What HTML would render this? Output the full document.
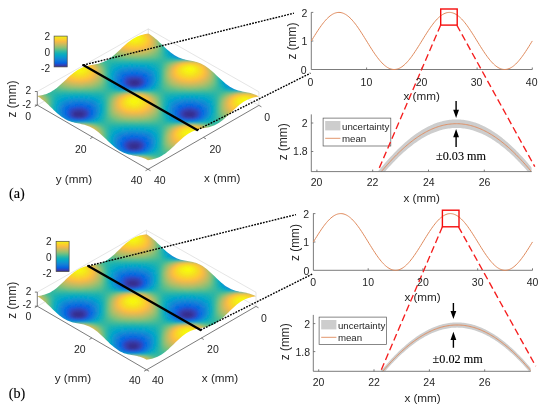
<!DOCTYPE html>
<html><head><meta charset="utf-8"><title>Figure</title>
<style>html,body{margin:0;padding:0;background:#fff;width:550px;height:411px;overflow:hidden}svg{display:block}</style>
</head><body>
<svg width="550" height="411" viewBox="0 0 550 411">
<defs><linearGradient id="cbg" x1="0" y1="0" x2="0" y2="1"><stop offset="0.000" stop-color="#f9fb0e"/><stop offset="0.062" stop-color="#f5de21"/><stop offset="0.125" stop-color="#fec932"/><stop offset="0.188" stop-color="#f2b949"/><stop offset="0.250" stop-color="#d3bb58"/><stop offset="0.312" stop-color="#b1bd66"/><stop offset="0.375" stop-color="#8bbf75"/><stop offset="0.438" stop-color="#5ebe89"/><stop offset="0.500" stop-color="#33b8a1"/><stop offset="0.562" stop-color="#13b0b6"/><stop offset="0.625" stop-color="#06a6c7"/><stop offset="0.688" stop-color="#0a97d1"/><stop offset="0.750" stop-color="#1484d4"/><stop offset="0.812" stop-color="#0c74dd"/><stop offset="0.875" stop-color="#0462e0"/><stop offset="0.938" stop-color="#3243b9"/><stop offset="1.000" stop-color="#352a87"/></linearGradient><filter id="sblur" x="-5%" y="-5%" width="110%" height="110%"><feGaussianBlur stdDeviation="0.9"/></filter></defs>
<rect width="550" height="411" fill="#fff"/>
<g>
<path d="M37.3 105.1L148.3 42.5L258.9 105.4" fill="none" stroke="#dadada" stroke-width="0.7"/>
<path d="M37.3 91.5L148.3 28.9L258.9 91.8" fill="none" stroke="#dadada" stroke-width="0.7"/>
<path d="M148.3 42.5L148.3 28.9" stroke="#dadada" stroke-width="0.7"/>
<path d="M258.9 105.4L258.9 91.8" stroke="#dadada" stroke-width="0.7"/>
<clipPath id="ca"><path d="M148.30 33.50 146.91 33.75 145.53 34.01 144.14 34.30 142.75 34.63 141.36 35.01 139.98 35.44 138.59 35.95 137.20 36.53 135.81 37.18 134.43 37.93 133.04 38.75 131.65 39.66 130.26 40.64 128.88 41.70 127.49 42.83 126.10 44.02 124.71 45.26 123.33 46.53 121.94 47.84 120.55 49.15 119.16 50.46 117.78 51.77 116.39 53.04 115.00 54.28 113.61 55.47 112.23 56.60 110.84 57.66 109.45 58.64 108.06 59.55 106.67 60.38 105.29 61.12 103.90 61.77 102.51 62.35 101.12 62.86 99.74 63.29 98.35 63.67 96.96 64.00 95.58 64.29 94.19 64.55 92.80 64.80 91.41 65.05 90.02 65.31 88.64 65.60 87.25 65.93 85.86 66.31 84.48 66.74 83.09 67.25 81.70 67.83 80.31 68.48 78.93 69.23 77.54 70.05 76.15 70.96 74.76 71.94 73.38 73.00 71.99 74.13 70.60 75.32 69.21 76.56 67.83 77.83 66.44 79.14 65.05 80.45 63.66 81.76 62.27 83.07 60.89 84.34 59.50 85.58 58.11 86.77 56.73 87.90 55.34 88.96 53.95 89.94 52.56 90.85 51.17 91.68 49.79 92.42 48.40 93.07 47.01 93.65 45.62 94.16 44.24 94.59 42.85 94.97 41.46 95.30 40.08 95.59 38.69 95.85 37.30 96.10 38.68 96.94 40.07 97.87 41.45 98.88 42.83 99.96 44.22 101.11 45.60 102.32 46.99 103.57 48.37 104.87 49.75 106.19 51.14 107.53 52.52 108.86 53.91 110.18 55.29 111.48 56.67 112.73 58.06 113.94 59.44 115.09 60.82 116.17 62.21 117.18 63.59 118.11 64.97 118.95 66.36 119.71 67.74 120.39 69.13 120.99 70.51 121.51 71.89 121.97 73.28 122.36 74.66 122.71 76.04 123.02 77.43 123.30 78.81 123.58 80.20 123.85 81.58 124.13 82.96 124.44 84.35 124.79 85.73 125.18 87.12 125.64 88.50 126.16 89.88 126.76 91.27 127.44 92.65 128.20 94.03 129.04 95.42 129.97 96.80 130.98 98.19 132.06 99.57 133.21 100.95 134.42 102.34 135.67 103.72 136.97 105.10 138.29 106.49 139.62 107.87 140.96 109.25 142.28 110.64 143.58 112.02 144.83 113.41 146.04 114.79 147.19 116.17 148.27 117.56 149.28 118.94 150.21 120.33 151.05 121.71 151.81 123.09 152.49 124.48 153.09 125.86 153.61 127.24 154.07 128.63 154.46 130.01 154.81 131.40 155.12 132.78 155.40 134.16 155.68 135.55 155.95 136.93 156.23 138.31 156.54 139.70 156.89 141.08 157.28 142.47 157.74 143.85 158.26 145.23 158.86 146.62 159.54 148.00 160.30 149.39 160.03 150.77 159.75 152.16 159.45 153.55 159.10 154.93 158.71 156.32 158.26 157.70 157.74 159.09 157.14 160.48 156.47 161.86 155.71 163.25 154.87 164.63 153.95 166.02 152.95 167.41 151.87 168.79 150.72 170.18 149.52 171.57 148.26 172.95 146.97 174.34 145.66 175.72 144.33 177.11 142.99 178.50 141.68 179.88 140.39 181.27 139.13 182.66 137.93 184.04 136.78 185.43 135.70 186.81 134.70 188.20 133.78 189.59 132.94 190.97 132.18 192.36 131.51 193.75 130.91 195.13 130.39 196.52 129.94 197.90 129.55 199.29 129.20 200.68 128.90 202.06 128.62 203.45 128.35 204.84 128.08 206.22 127.80 207.61 127.50 209.00 127.15 210.38 126.76 211.77 126.31 213.15 125.79 214.54 125.19 215.93 124.52 217.31 123.76 218.70 122.92 220.08 122.00 221.47 121.00 222.86 119.92 224.24 118.77 225.63 117.57 227.02 116.31 228.40 115.02 229.79 113.71 231.17 112.38 232.56 111.04 233.95 109.73 235.33 108.44 236.72 107.18 238.11 105.98 239.49 104.83 240.88 103.75 242.26 102.75 243.65 101.83 245.04 100.99 246.42 100.23 247.81 99.56 249.20 98.96 250.58 98.44 251.97 97.99 253.35 97.60 254.74 97.25 256.13 96.95 257.51 96.67 258.90 96.40 257.52 95.66 256.13 94.99 254.75 94.41 253.37 93.90 251.99 93.46 250.60 93.08 249.22 92.75 247.84 92.46 246.46 92.19 245.07 91.94 243.69 91.68 242.31 91.42 240.93 91.12 239.54 90.79 238.16 90.41 236.78 89.97 235.40 89.46 234.01 88.88 232.63 88.22 231.25 87.47 229.87 86.65 228.48 85.74 227.10 84.75 225.72 83.68 224.34 82.55 222.95 81.36 221.57 80.11 220.19 78.84 218.81 77.53 217.43 76.21 216.04 74.89 214.66 73.59 213.28 72.31 211.89 71.07 210.51 69.88 209.13 68.74 207.75 67.68 206.36 66.69 204.98 65.78 203.60 64.95 202.22 64.21 200.83 63.54 199.45 62.96 198.07 62.45 196.69 62.01 195.30 61.63 193.92 61.30 192.54 61.01 191.16 60.74 189.77 60.49 188.39 60.23 187.01 59.97 185.63 59.67 184.25 59.34 182.86 58.96 181.48 58.52 180.10 58.01 178.72 57.43 177.33 56.77 175.95 56.03 174.57 55.20 173.19 54.29 171.80 53.30 170.42 52.23 169.04 51.10 167.65 49.91 166.27 48.66 164.89 47.39 163.51 46.08 162.12 44.76 160.74 43.44 159.36 42.14 157.98 40.86 156.59 39.62 155.21 38.43 153.83 37.29 152.45 36.23 151.06 35.24 149.68 34.33Z"/></clipPath><g clip-path="url(#ca)"><g filter="url(#sblur)"><path fill="#352a87" d="M134.4 79.8 131.6 81.7 134.4 83.5 137.1 81.7ZM191.8 112.8 189.1 114.7 191.8 116.4 194.6 114.4ZM76.8 112.6 74.0 114.2 76.8 116.1 79.5 114.5ZM134.2 145.9 131.5 147.6 134.2 149.3 137.0 147.6Z"/>
<path fill="#362d8d" d="M136.7 81.2 133.9 83.1 136.7 84.7 139.4 82.8ZM189.5 111.4 186.8 113.3 189.5 115.1 192.3 113.3ZM132.1 81.2 129.3 82.8 132.1 84.7 134.8 83.1ZM134.4 82.6 131.6 84.3 134.4 85.9 137.1 84.3ZM187.2 112.8 184.5 114.4 187.2 116.3 190.0 114.7ZM189.5 114.2 186.8 115.9 189.5 117.6 192.3 115.9ZM79.1 111.1 76.3 113.0 79.1 114.9 81.8 113.0ZM81.4 112.6 78.6 114.5 81.4 116.1 84.1 114.2ZM134.2 143.0 131.5 144.9 134.2 146.8 137.0 144.9ZM136.5 144.5 133.8 146.4 136.5 148.1 139.3 146.1ZM79.1 114.0 76.3 115.7 79.1 117.3 81.8 115.7ZM131.9 144.5 129.2 146.1 131.9 148.0 134.7 146.4Z"/>
<path fill="#363093" d="M74.5 110.9 71.7 112.5 74.5 114.7 77.2 113.1ZM136.5 147.2 133.8 148.8 136.5 150.3 139.3 148.6ZM74.5 113.8 71.7 115.2 74.4 117.1 77.2 115.7ZM131.9 147.1 129.2 148.6 131.9 150.3 134.7 148.8Z"/>
<path fill="#363399" d="M136.7 78.2 133.9 80.3 136.7 82.1 139.4 80.0ZM139.0 79.6 136.2 81.7 139.0 83.3 141.7 81.2ZM191.8 109.7 189.1 111.8 191.8 113.7 194.6 111.6ZM194.1 111.2 191.4 113.3 194.1 114.9 196.9 112.8ZM132.1 78.2 129.3 80.0 132.1 82.1 134.8 80.3ZM139.0 82.4 136.2 84.3 139.0 85.7 141.7 83.8ZM187.2 109.7 184.5 111.6 187.2 113.7 190.0 111.8ZM194.1 114.0 191.4 115.9 194.1 117.3 196.9 115.4ZM129.8 79.6 127.0 81.2 129.8 83.3 132.5 81.7ZM136.7 83.8 133.9 85.5 136.7 86.9 139.4 85.2ZM184.9 111.1 182.2 112.7 184.9 114.9 187.7 113.3ZM191.8 115.5 189.1 117.1 191.8 118.5 194.6 116.9ZM129.8 82.4 127.0 83.8 129.8 85.7 132.5 84.3ZM132.1 83.8 129.3 85.2 132.1 86.9 134.8 85.5ZM184.9 114.0 182.2 115.4 184.9 117.3 187.7 115.9ZM187.2 115.4 184.5 116.8 187.2 118.5 190.0 117.1ZM81.4 109.5 78.6 111.6 81.4 113.5 84.1 111.3ZM83.7 110.9 80.9 113.1 83.7 114.7 86.4 112.5ZM136.5 141.4 133.8 143.5 136.5 145.4 139.3 143.2ZM138.8 142.8 136.1 145.0 138.8 146.6 141.6 144.4ZM76.8 109.5 74.0 111.3 76.8 113.5 79.5 111.6ZM83.7 113.8 80.9 115.7 83.7 117.1 86.4 115.2ZM131.9 141.4 129.2 143.2 131.9 145.4 134.7 143.5ZM138.8 145.7 136.1 147.6 138.8 149.1 141.6 147.1ZM81.4 115.2 78.6 116.9 81.4 118.3 84.1 116.6ZM129.6 142.8 126.9 144.4 129.6 146.6 132.4 145.0ZM76.8 115.2 74.0 116.6 76.7 118.3 79.5 116.9ZM129.6 145.7 126.9 147.1 129.6 149.0 132.4 147.6Z"/>
<path fill="#363aa6" d="M134.4 76.5 131.6 78.6 134.4 80.7 137.1 78.6ZM141.3 80.8 138.5 82.9 141.3 84.3 144.0 82.1ZM189.5 108.1 186.8 110.2 189.5 112.3 192.3 110.2ZM196.4 112.4 193.7 114.5 196.4 115.9 199.2 113.7ZM127.5 80.8 124.7 82.1 127.5 84.3 130.2 82.9ZM134.4 85.0 131.6 86.4 134.4 87.9 137.1 86.4ZM182.6 112.3 179.9 113.7 182.6 115.9 185.4 114.5ZM189.5 116.7 186.8 118.1 189.5 119.5 192.3 118.1ZM79.1 107.8 76.3 109.9 79.1 112.0 81.8 109.9ZM86.0 112.1 83.2 114.3 86.0 115.7 88.7 113.5ZM134.2 139.7 131.5 141.8 134.2 143.9 137.0 141.8ZM141.1 144.0 138.4 146.2 141.1 147.6 143.9 145.4ZM72.2 112.1 69.4 113.5 72.2 115.7 74.9 114.3ZM79.1 116.4 76.3 117.9 79.0 119.3 81.8 117.9ZM127.3 144.0 124.6 145.4 127.3 147.6 130.1 146.2ZM134.2 148.4 131.5 149.8 134.2 151.3 137.0 149.8Z"/>
<path fill="#353dac" d="M72.2 114.8 69.4 115.9 72.1 117.9 74.9 116.7ZM129.6 148.1 126.9 149.3 129.6 151.1 132.4 149.9Z"/>
<path fill="#3440b3" d="M139.0 76.3 136.2 78.7 139.0 80.5 141.7 78.2ZM141.3 77.7 138.5 80.1 141.3 81.7 144.0 79.3ZM194.1 107.9 191.4 110.2 194.1 112.1 196.9 109.7ZM196.4 109.3 193.7 111.7 196.4 113.3 199.2 110.9ZM129.8 76.3 127.0 78.1 129.8 80.5 132.5 78.7ZM141.3 83.4 138.5 85.3 141.3 86.5 144.0 84.5ZM184.9 107.8 182.2 109.7 184.9 112.0 187.7 110.2ZM196.4 115.0 193.7 117.0 196.4 118.1 199.2 116.2ZM127.5 77.7 124.7 79.3 127.5 81.7 130.2 80.1ZM139.0 84.8 136.2 86.5 139.0 87.7 141.7 86.0ZM182.6 109.3 179.9 110.9 182.6 113.2 185.4 111.7ZM194.1 116.4 191.4 118.1 194.1 119.3 196.9 117.6ZM127.5 83.4 124.7 84.5 127.5 86.5 130.2 85.3ZM129.8 84.8 127.0 86.0 129.8 87.7 132.5 86.5ZM182.6 115.0 179.9 116.1 182.6 118.1 185.4 116.9ZM184.9 116.4 182.2 117.6 184.9 119.3 187.7 118.1ZM83.7 107.6 80.9 110.0 83.7 111.8 86.4 109.5ZM86.0 109.1 83.2 111.4 86.0 113.0 88.7 110.7ZM138.8 139.5 136.1 141.8 138.8 143.7 141.6 141.4ZM141.1 140.9 138.4 143.3 141.1 144.9 143.9 142.6ZM74.5 107.6 71.7 109.5 74.5 111.8 77.2 110.0ZM86.0 114.8 83.2 116.7 86.0 117.9 88.7 115.9ZM129.6 139.5 126.9 141.3 129.6 143.7 132.4 141.8ZM141.1 146.7 138.4 148.7 141.1 149.9 143.9 147.9ZM72.2 109.1 69.4 110.6 72.2 113.0 74.9 111.4ZM83.7 116.2 80.9 117.9 83.7 119.1 86.4 117.4ZM127.3 140.9 124.6 142.5 127.3 144.9 130.1 143.3ZM138.8 148.2 136.1 149.9 138.8 151.1 141.6 149.4ZM74.5 116.2 71.7 117.4 74.4 119.1 77.2 117.9ZM127.3 146.7 124.6 147.9 127.3 149.8 130.1 148.7Z"/>
<path fill="#2f47c0" d="M136.7 74.7 133.9 77.0 136.7 79.1 139.4 76.8ZM143.6 78.9 140.8 81.3 143.6 82.6 146.3 80.3ZM191.8 106.2 189.1 108.5 191.8 110.6 194.6 108.3ZM198.7 110.5 196.0 112.9 198.7 114.3 201.5 111.9ZM132.1 74.7 129.3 76.7 132.1 79.1 134.8 77.0ZM143.6 81.7 140.8 83.9 143.6 85.1 146.3 82.9ZM187.2 106.2 184.5 108.3 187.2 110.6 190.0 108.5ZM198.7 113.4 196.0 115.5 198.7 116.7 201.5 114.5ZM125.2 78.9 122.4 80.2 125.2 82.6 127.9 81.3ZM136.7 86.0 133.9 87.4 136.7 88.6 139.4 87.2ZM180.3 110.5 177.6 111.8 180.3 114.2 183.1 112.9ZM191.8 117.6 189.1 119.1 191.8 120.3 194.6 118.9ZM125.2 81.7 122.4 82.9 125.2 85.0 127.9 83.9ZM132.1 86.0 129.3 87.2 132.1 88.6 134.8 87.4ZM180.3 113.3 177.6 114.5 180.3 116.7 183.1 115.5ZM187.2 117.6 184.5 118.8 187.2 120.3 190.0 119.1ZM81.4 106.0 78.6 108.3 81.4 110.4 84.1 108.1ZM88.3 110.3 85.5 112.7 88.3 114.0 91.0 111.6ZM136.5 137.8 133.8 140.2 136.5 142.3 139.3 139.9ZM143.4 142.2 140.7 144.6 143.4 145.9 146.2 143.5ZM76.8 106.0 74.0 108.1 76.8 110.4 79.5 108.3ZM88.3 113.1 85.5 115.3 88.3 116.5 91.0 114.3ZM131.9 137.8 129.2 139.9 131.9 142.3 134.7 140.2ZM143.4 145.0 140.7 147.2 143.4 148.4 146.2 146.2ZM69.9 110.3 67.1 111.6 69.9 114.0 72.6 112.7ZM81.4 117.4 78.6 118.9 81.3 120.1 84.1 118.6ZM125.0 142.1 122.3 143.5 125.0 145.9 127.8 144.6ZM136.5 149.4 133.8 150.8 136.5 152.1 139.3 150.6ZM69.9 113.1 67.1 114.2 69.8 116.4 72.6 115.3ZM76.8 117.4 74.0 118.6 76.7 120.1 79.5 118.9ZM125.0 145.0 122.3 146.2 125.0 148.4 127.8 147.2ZM131.9 149.4 129.2 150.6 131.9 152.1 134.7 150.8Z"/>
<path fill="#2052d3" d="M141.3 74.3 138.5 76.8 141.3 78.6 144.0 76.1ZM198.7 107.3 196.0 109.8 198.7 111.4 201.5 108.9ZM127.5 74.3 124.7 76.1 127.5 78.6 130.2 76.8ZM198.7 115.8 196.0 117.8 198.7 118.7 201.5 116.8ZM125.2 75.7 122.4 77.3 125.2 79.8 127.9 78.3ZM196.4 117.2 193.7 118.9 196.4 119.9 199.2 118.2ZM72.2 105.6 69.4 107.4 72.2 110.0 74.9 108.1ZM143.4 147.5 140.7 149.5 143.4 150.5 146.2 148.5ZM69.9 107.0 67.1 108.6 69.9 111.2 72.6 109.6ZM141.1 149.0 138.4 150.7 141.1 151.7 143.9 150.0ZM69.8 115.5 67.1 116.5 69.8 118.5 72.6 117.5ZM72.1 117.0 69.4 118.0 72.1 119.7 74.9 118.7ZM125.0 147.5 122.3 148.5 125.0 150.5 127.8 149.5ZM127.3 148.9 124.6 150.0 127.3 151.7 130.1 150.7Z"/>
<path fill="#1857d8" d="M143.6 75.7 140.8 78.3 143.6 79.8 146.3 77.3ZM196.4 105.8 193.7 108.4 196.4 110.2 199.2 107.7ZM134.4 72.8 131.6 75.1 134.4 77.4 137.1 75.1ZM145.9 79.9 143.1 82.3 145.9 83.4 148.6 81.0ZM189.5 104.3 186.8 106.6 189.5 109.0 192.3 106.7ZM201.0 111.5 198.3 113.9 201.0 115.0 203.8 112.6ZM143.6 84.2 140.8 86.1 143.6 87.1 146.3 85.1ZM182.6 105.8 179.9 107.6 182.6 110.2 185.4 108.4ZM141.3 85.6 138.5 87.3 141.3 88.3 144.0 86.6ZM180.3 107.3 177.6 108.8 180.3 111.4 183.1 109.8ZM122.9 79.9 120.1 81.0 122.9 83.4 125.6 82.3ZM134.4 87.0 131.6 88.2 134.4 89.4 137.1 88.2ZM178.0 111.5 175.3 112.6 178.0 115.0 180.8 113.9ZM189.5 118.6 186.8 119.9 189.5 121.1 192.3 119.9ZM125.2 84.1 122.4 85.1 125.2 87.1 127.9 86.1ZM127.5 85.6 124.7 86.6 127.5 88.3 130.2 87.3ZM180.3 115.8 177.6 116.7 180.3 118.7 183.1 117.7ZM182.6 117.2 179.9 118.2 182.6 119.9 185.4 118.9ZM86.0 105.6 83.2 108.1 86.0 110.0 88.7 107.4ZM88.3 107.0 85.5 109.6 88.3 111.2 91.0 108.6ZM141.2 137.5 138.4 140.0 141.1 141.8 143.9 139.3ZM143.4 138.9 140.7 141.5 143.4 143.1 146.2 140.5ZM79.1 104.1 76.3 106.4 79.1 108.7 81.8 106.4ZM145.7 143.2 143.0 145.6 145.7 146.7 148.5 144.3ZM88.3 115.6 85.5 117.5 88.3 118.5 91.0 116.5ZM127.3 137.4 124.6 139.3 127.3 141.8 130.1 140.0ZM86.0 117.0 83.2 118.7 85.9 119.7 88.7 118.0ZM125.0 138.9 122.3 140.5 125.0 143.0 127.8 141.5ZM67.6 111.2 64.8 112.4 67.5 114.8 70.3 113.7ZM79.0 118.4 76.3 119.6 79.0 120.9 81.8 119.6ZM122.7 143.1 120.0 144.3 122.7 146.7 125.5 145.6ZM134.2 150.4 131.5 151.6 134.2 152.9 137.0 151.6Z"/>
<path fill="#105bdd" d="M129.8 72.7 127.0 74.7 129.8 77.2 132.5 75.2ZM201.0 114.1 198.3 116.3 201.0 117.3 203.8 115.1ZM90.6 111.3 87.8 113.7 90.6 114.8 93.3 112.4ZM134.2 135.9 131.5 138.3 134.2 140.6 137.0 138.3ZM67.6 108.2 64.8 109.6 67.6 112.1 70.3 110.8ZM138.8 150.2 136.1 151.7 138.8 152.7 141.6 151.2ZM67.5 113.9 64.8 114.8 67.5 117.1 70.3 116.1ZM129.6 150.2 126.9 151.2 129.6 152.7 132.4 151.6Z"/>
<path fill="#0a5fdf" d="M139.0 72.7 136.2 75.2 139.0 77.2 141.7 74.7ZM145.9 76.9 143.2 79.5 145.9 80.8 148.6 78.3ZM194.1 104.2 191.4 106.7 194.1 108.8 196.9 106.3ZM201.0 108.5 198.3 111.1 201.0 112.4 203.8 109.8ZM145.9 82.5 143.1 84.7 145.9 85.7 148.6 83.5ZM184.9 104.2 182.2 106.2 184.9 108.7 187.7 106.7ZM122.9 76.9 120.1 78.2 122.9 80.8 125.6 79.5ZM139.0 86.8 136.2 88.2 139.0 89.2 141.7 87.8ZM178.0 108.5 175.3 109.8 178.0 112.4 180.8 111.0ZM194.1 118.4 191.4 119.9 194.1 120.9 196.9 119.5ZM122.9 82.5 120.1 83.4 122.9 85.6 125.6 84.7ZM129.8 86.8 127.0 87.8 129.8 89.2 132.5 88.2ZM178.0 114.1 175.3 115.1 178.0 117.3 180.8 116.3ZM184.9 118.4 182.2 119.4 184.9 120.9 187.7 119.9ZM83.7 104.0 80.9 106.5 83.7 108.5 86.4 106.0ZM90.6 108.3 87.8 110.8 90.6 112.2 93.3 109.6ZM138.9 135.8 136.1 138.3 138.8 140.4 141.6 137.9ZM145.7 140.1 143.0 142.7 145.7 144.1 148.5 141.5ZM74.5 103.9 71.7 106.0 74.5 108.5 77.2 106.5ZM90.6 113.9 87.8 116.1 90.6 117.1 93.3 114.9ZM129.6 135.8 126.9 137.9 129.6 140.4 132.4 138.3ZM145.7 145.8 143.0 148.1 145.7 149.0 148.5 146.8ZM83.7 118.2 80.9 119.7 83.6 120.7 86.4 119.2ZM122.7 140.1 120.0 141.4 122.7 144.0 125.5 142.7ZM74.4 118.2 71.7 119.2 74.4 120.7 77.2 119.7ZM122.7 145.8 120.0 146.8 122.7 149.0 125.5 148.0Z"/>
<path fill="#0268e1" d="M65.3 109.2 62.5 110.3 65.2 112.9 68.0 111.8ZM136.5 151.2 133.8 152.4 136.5 153.5 139.3 152.2ZM65.2 112.0 62.5 113.0 65.2 115.4 68.0 114.4ZM131.9 151.2 129.2 152.2 131.9 153.5 134.7 152.4Z"/>
<path fill="#036ae1" d="M136.7 70.8 133.9 73.3 136.7 75.6 139.5 73.1ZM148.2 77.9 145.5 80.5 148.2 81.6 150.9 79.0ZM191.8 102.3 189.1 104.8 191.8 107.1 194.6 104.6ZM203.3 109.5 200.6 112.1 203.3 113.2 206.1 110.6ZM132.1 70.8 129.3 73.1 132.1 75.6 134.8 73.3ZM148.2 80.7 145.4 83.1 148.2 84.0 150.9 81.6ZM187.2 102.3 184.5 104.6 187.2 107.1 190.0 104.8ZM203.3 112.3 200.6 114.7 203.3 115.7 206.1 113.2ZM125.2 72.2 122.4 74.0 125.2 76.6 127.9 74.8ZM201.0 116.4 198.3 118.4 201.0 119.2 203.8 117.3ZM120.6 77.9 117.8 79.0 120.6 81.5 123.3 80.4ZM136.7 87.7 133.9 89.0 136.7 90.0 139.4 88.8ZM175.7 109.4 173.0 110.5 175.7 113.1 178.5 112.0ZM191.8 119.4 189.1 120.7 191.8 121.7 194.6 120.5ZM120.6 80.6 117.8 81.6 120.6 84.0 123.3 83.1ZM132.1 87.7 129.3 88.8 132.0 90.0 134.8 89.0ZM175.7 112.2 173.0 113.2 175.7 115.6 178.5 114.7ZM187.2 119.4 184.5 120.5 187.2 121.7 190.0 120.7ZM81.4 102.1 78.6 104.6 81.4 106.9 84.1 104.4ZM92.9 109.2 90.1 111.8 92.9 112.9 95.6 110.4ZM136.6 133.9 133.8 136.4 136.5 138.7 139.3 136.2ZM148.0 141.1 145.3 143.7 148.0 144.9 150.8 142.3ZM76.8 102.1 74.0 104.4 76.8 106.9 79.5 104.6ZM92.9 112.0 90.1 114.5 92.9 115.4 95.6 113.0ZM132.0 133.9 129.2 136.2 131.9 138.7 134.7 136.4ZM148.0 144.0 145.3 146.4 148.0 147.4 150.8 144.9ZM67.6 104.9 64.8 106.4 67.6 109.1 70.3 107.6ZM143.4 149.6 140.7 151.3 143.4 152.2 146.2 150.5ZM81.3 119.2 78.6 120.4 81.3 121.5 84.1 120.2ZM120.4 141.1 117.7 142.2 120.4 144.8 123.2 143.7ZM76.7 119.2 74.0 120.2 76.7 121.5 79.5 120.4ZM120.4 143.9 117.7 144.9 120.4 147.3 123.2 146.4ZM67.5 116.2 64.8 117.0 67.5 119.0 70.3 118.1ZM69.8 117.6 67.1 118.5 69.8 120.2 72.6 119.3ZM122.7 148.1 120.0 149.0 122.7 151.0 125.5 150.1ZM125.0 149.6 122.3 150.5 125.0 152.2 127.8 151.3Z"/>
<path fill="#046ce0" d="M178.2 53.3 175.4 54.2 178.2 56.1 180.9 55.3ZM235.6 86.1 232.9 86.9 235.6 88.7 238.3 87.8ZM143.6 72.2 140.9 74.8 143.6 76.6 146.3 74.0ZM145.9 73.6 143.2 76.3 145.9 77.8 148.6 75.2ZM198.7 103.7 196.0 106.4 198.7 108.2 201.5 105.5ZM201.0 105.1 198.3 107.8 201.0 109.4 203.8 106.7ZM145.9 84.8 143.1 86.7 145.9 87.6 148.6 85.6ZM180.3 103.7 177.6 105.5 180.3 108.2 183.1 106.3ZM122.9 73.6 120.1 75.1 122.9 77.8 125.6 76.3ZM143.6 86.2 140.8 87.9 143.6 88.8 146.3 87.1ZM178.0 105.1 175.3 106.7 178.0 109.4 180.8 107.8ZM198.7 117.8 196.0 119.6 198.7 120.5 201.5 118.7ZM122.9 84.7 120.1 85.6 122.9 87.6 125.6 86.7ZM125.2 86.2 122.4 87.0 125.1 88.8 127.9 87.9ZM178.0 116.4 175.3 117.2 178.0 119.2 180.8 118.4ZM180.3 117.8 177.6 118.7 180.3 120.4 183.1 119.5ZM88.3 103.5 85.5 106.1 88.3 107.9 91.0 105.3ZM90.6 104.9 87.8 107.6 90.6 109.2 93.3 106.5ZM143.5 135.3 140.7 138.0 143.4 139.8 146.2 137.2ZM145.8 136.8 143.0 139.5 145.7 141.0 148.5 138.4ZM69.9 103.5 67.1 105.3 69.9 107.9 72.6 106.1ZM90.6 116.2 87.8 118.2 90.6 119.0 93.3 117.0ZM125.0 135.3 122.3 137.1 125.0 139.8 127.8 138.0ZM145.7 148.1 143.0 150.1 145.7 151.0 148.5 149.0ZM88.3 117.6 85.5 119.3 88.2 120.2 91.0 118.5ZM122.7 136.7 120.0 138.3 122.7 141.0 125.5 139.4Z"/>
<path fill="#066fdf" d="M180.5 54.7 177.7 55.6 180.5 57.3 183.2 56.4ZM233.3 84.6 230.6 85.5 233.3 87.5 236.0 86.6ZM65.3 106.1 62.5 107.4 65.3 110.1 68.0 108.8ZM141.1 150.8 138.4 152.3 141.1 153.2 143.9 151.7ZM65.2 114.5 62.5 115.3 65.2 117.5 68.0 116.7ZM127.3 150.8 124.6 151.7 127.3 153.2 130.1 152.3Z"/>
<path fill="#0871df" d="M175.9 51.7 173.1 52.5 175.9 54.7 178.6 53.9ZM237.9 87.3 235.1 88.2 237.9 89.6 240.6 88.7ZM141.3 70.6 138.6 73.2 141.3 75.2 144.1 72.6ZM148.2 74.8 145.5 77.5 148.2 78.8 150.9 76.1ZM196.4 102.1 193.7 104.7 196.4 106.7 199.2 104.1ZM203.3 106.4 200.6 109.1 203.3 110.4 206.1 107.7ZM127.5 70.5 124.7 72.6 127.5 75.2 130.2 73.2ZM148.2 83.1 145.4 85.3 148.2 86.2 150.9 84.0ZM182.6 102.0 179.9 104.1 182.6 106.7 185.4 104.7ZM203.3 114.8 200.6 117.0 203.3 117.8 206.1 115.6ZM120.6 74.8 117.8 76.1 120.6 78.8 123.3 77.5ZM141.3 87.4 138.5 88.8 141.3 89.7 144.0 88.3ZM175.7 106.3 173.0 107.6 175.7 110.3 178.5 109.0ZM196.4 119.0 193.7 120.5 196.4 121.4 199.2 120.0ZM120.6 83.1 117.8 83.9 120.6 86.1 123.3 85.3ZM127.5 87.4 124.7 88.3 127.4 89.7 130.2 88.8ZM175.7 114.7 173.0 115.6 175.7 117.8 178.4 116.9ZM182.6 119.0 179.9 119.9 182.6 121.4 185.4 120.5ZM86.0 101.8 83.2 104.5 86.0 106.5 88.7 103.9ZM92.9 106.1 90.1 108.8 92.9 110.1 95.6 107.4ZM141.2 133.7 138.4 136.3 141.1 138.4 143.9 135.7ZM148.1 138.0 145.3 140.7 148.0 142.0 150.8 139.3ZM72.2 101.8 69.4 103.9 72.2 106.5 74.9 104.4ZM92.9 114.5 90.1 116.7 92.9 117.6 95.6 115.4ZM127.3 133.6 124.6 135.7 127.3 138.3 130.1 136.3ZM148.0 146.5 145.3 148.7 148.0 149.6 150.8 147.3ZM86.0 118.8 83.2 120.3 85.9 121.2 88.7 119.7ZM120.4 138.0 117.7 139.3 120.4 142.0 123.2 140.7ZM72.1 118.8 69.4 119.7 72.1 121.2 74.9 120.3ZM120.4 146.4 117.7 147.3 120.4 149.5 123.2 148.7Z"/>
<path fill="#0a73de" d="M182.8 55.9 180.0 56.8 182.8 58.3 185.5 57.4ZM231.0 83.0 228.3 83.8 231.0 86.0 233.7 85.2Z"/>
<path fill="#0c75dd" d="M134.4 68.8 131.7 71.3 134.4 73.7 137.2 71.3ZM205.6 110.3 202.9 112.9 205.6 113.8 208.4 111.2ZM63.0 110.0 60.2 110.9 62.9 113.5 65.7 112.6ZM134.2 152.0 131.5 153.0 134.2 154.1 137.0 153.1Z"/>
<path fill="#0e76db" d="M150.5 78.7 147.8 81.3 150.5 82.2 153.2 79.6ZM189.6 100.3 186.8 102.8 189.5 105.2 192.3 102.8ZM118.3 78.6 115.5 79.5 118.3 82.1 121.0 81.2ZM134.4 88.5 131.6 89.6 134.3 90.6 137.1 89.6ZM173.4 110.2 170.7 111.1 173.4 113.7 176.2 112.8ZM189.5 120.2 186.8 121.3 189.5 122.3 192.3 121.3ZM79.1 100.1 76.3 102.5 79.1 105.0 81.8 102.6ZM95.2 110.0 92.4 112.6 95.2 113.6 97.9 111.0ZM134.3 131.9 131.5 134.4 134.2 136.8 137.0 134.4ZM150.3 141.9 147.6 144.5 150.3 145.5 153.1 142.9ZM63.0 107.1 60.2 108.2 62.9 110.9 65.7 109.8ZM138.8 151.8 136.1 153.1 138.8 154.0 141.6 152.7ZM79.0 120.0 76.3 121.0 79.0 122.1 81.8 121.0ZM118.1 141.9 115.4 142.8 118.1 145.5 120.9 144.5ZM62.9 112.6 60.2 113.4 62.9 115.9 65.7 115.1ZM129.6 151.8 126.9 152.7 129.6 154.0 132.4 153.1Z"/>
<path fill="#1078da" d="M139.0 68.7 136.3 71.3 139.0 73.6 141.8 71.0ZM150.5 75.8 147.8 78.5 150.5 79.6 153.2 76.9ZM194.2 100.2 191.4 102.8 194.1 105.1 196.9 102.5ZM205.6 107.3 202.9 110.1 205.6 111.2 208.4 108.4ZM129.8 68.7 127.0 71.0 129.8 73.6 132.5 71.3ZM150.5 81.3 147.7 83.7 150.5 84.5 153.2 82.1ZM184.9 100.2 182.2 102.5 184.9 105.1 187.7 102.8ZM205.6 112.9 202.9 115.3 205.6 116.2 208.4 113.7ZM118.3 75.7 115.5 76.8 118.3 79.5 121.0 78.4ZM139.0 88.3 136.2 89.6 138.9 90.5 141.7 89.3ZM173.4 107.3 170.7 108.4 173.4 111.1 176.2 110.0ZM194.1 120.0 191.4 121.3 194.1 122.2 196.9 121.0ZM118.3 81.2 115.5 82.1 118.3 84.5 121.0 83.7ZM129.8 88.3 127.0 89.2 129.7 90.5 132.5 89.6ZM173.4 112.8 170.7 113.7 173.4 116.1 176.1 115.3ZM184.9 120.0 182.2 120.9 184.9 122.2 187.7 121.3ZM83.7 100.0 80.9 102.6 83.7 104.9 86.4 102.3ZM150.4 139.0 147.6 141.7 150.3 142.8 153.1 140.1ZM74.5 99.9 71.7 102.2 74.5 104.8 77.2 102.6ZM150.3 144.6 147.6 147.0 150.3 147.9 153.1 145.4ZM83.6 119.8 80.9 121.1 83.6 122.0 86.4 120.7ZM118.1 138.9 115.4 140.1 118.1 142.8 120.9 141.7ZM74.4 119.8 71.7 120.7 74.4 122.0 77.2 121.1ZM118.1 144.6 115.4 145.4 118.1 147.8 120.9 147.0Z"/>
<path fill="#117ad9" d="M173.6 49.9 170.8 50.7 173.6 53.1 176.3 52.3ZM185.1 56.9 182.3 57.8 185.1 59.0 187.8 58.1ZM228.7 81.1 226.0 82.0 228.7 84.4 231.4 83.6ZM240.2 88.2 237.4 89.2 240.2 90.4 242.9 89.5ZM122.9 70.0 120.1 71.8 122.9 74.5 125.6 72.7ZM203.3 116.9 200.6 118.9 203.3 119.7 206.1 117.7ZM120.6 71.4 117.8 72.9 120.6 75.7 123.3 74.1ZM201.0 118.3 198.3 120.1 201.0 120.9 203.8 119.2ZM95.2 107.1 92.4 109.8 95.2 110.9 97.9 108.2ZM138.9 131.8 136.1 134.4 138.9 136.7 141.6 134.1ZM95.2 112.7 92.4 115.1 95.2 115.9 97.9 113.5ZM129.7 131.8 126.9 134.1 129.6 136.7 132.4 134.4ZM67.6 101.2 64.8 103.1 67.6 105.8 70.3 104.0ZM148.0 148.7 145.3 150.7 148.0 151.5 150.8 149.5ZM65.3 102.7 62.5 104.2 65.3 107.0 68.0 105.4ZM145.7 150.1 143.0 151.8 145.7 152.7 148.5 150.9ZM65.2 116.6 62.5 117.4 65.2 119.4 68.0 118.6ZM67.5 118.1 64.8 118.9 67.5 120.6 70.3 119.8ZM120.4 148.6 117.7 149.4 120.4 151.4 123.2 150.6ZM122.7 150.1 120.0 150.9 122.7 152.6 125.5 151.8Z"/>
<path fill="#127cd8" d="M175.9 53.8 173.1 54.6 175.9 56.6 178.6 55.8ZM233.3 86.6 230.6 87.4 233.3 89.1 236.0 88.3ZM145.9 70.0 143.2 72.7 145.9 74.5 148.6 71.8ZM148.2 71.4 145.5 74.2 148.2 75.7 150.9 73.0ZM201.1 101.5 198.3 104.2 201.0 106.0 203.8 103.3ZM203.3 103.0 200.6 105.7 203.3 107.3 206.1 104.5ZM148.2 85.3 145.4 87.2 148.2 88.0 150.9 86.1ZM178.0 101.5 175.3 103.3 178.0 106.0 180.8 104.2ZM145.9 86.7 143.1 88.4 145.9 89.2 148.6 87.5ZM175.7 102.9 173.0 104.5 175.7 107.2 178.5 105.7ZM120.6 85.2 117.8 86.0 120.5 88.0 123.3 87.2ZM122.9 86.7 120.1 87.5 122.8 89.2 125.6 88.4ZM175.7 116.9 173.0 117.7 175.7 119.7 178.4 118.9ZM178.0 118.3 175.3 119.1 178.0 120.9 180.7 120.1ZM90.6 101.3 87.8 104.0 90.6 105.8 93.3 103.1ZM92.9 102.7 90.1 105.5 92.9 107.0 95.6 104.3ZM145.8 133.1 143.0 135.8 145.8 137.7 148.5 135.0ZM148.1 134.6 145.3 137.3 148.1 138.9 150.8 136.2ZM92.9 116.7 90.1 118.7 92.9 119.5 95.6 117.5ZM122.7 133.1 120.0 134.9 122.7 137.6 125.5 135.8ZM90.6 118.1 87.8 119.9 90.5 120.7 93.3 119.0ZM120.4 134.5 117.7 136.1 120.4 138.9 123.2 137.3Z"/>
<path fill="#137ed7" d="M178.2 55.2 175.4 56.0 178.2 57.7 180.9 56.9ZM231.0 85.1 228.3 85.9 231.0 87.9 233.7 87.1ZM63.0 103.9 60.2 105.2 63.0 108.0 65.7 106.7ZM143.4 151.3 140.7 152.8 143.4 153.7 146.2 152.2ZM62.9 115.0 60.2 115.7 62.9 118.0 65.7 117.2ZM125.0 151.3 122.3 152.1 125.0 153.6 127.8 152.8Z"/>
<path fill="#1480d6" d="M143.6 68.4 140.9 71.1 143.6 73.1 146.4 70.4ZM150.5 72.6 147.8 75.4 150.5 76.7 153.2 73.9ZM198.8 99.9 196.0 102.6 198.7 104.6 201.5 101.9ZM205.6 104.2 202.9 106.9 205.6 108.2 208.4 105.5ZM125.2 68.3 122.4 70.4 125.2 73.1 127.9 71.0ZM150.5 83.6 147.7 85.8 150.5 86.6 153.2 84.4ZM180.3 99.8 177.6 101.9 180.3 104.6 183.1 102.5ZM205.6 115.3 202.9 117.5 205.6 118.3 208.4 116.0ZM118.3 72.6 115.5 73.9 118.3 76.6 121.0 75.3ZM143.6 87.9 140.8 89.3 143.6 90.2 146.3 88.7ZM173.4 104.1 170.7 105.4 173.4 108.2 176.2 106.9ZM198.7 119.6 196.0 121.0 198.7 121.9 201.5 120.4ZM118.3 83.6 115.5 84.3 118.2 86.6 121.0 85.8ZM125.2 87.9 122.4 88.7 125.1 90.2 127.9 89.3ZM173.4 115.2 170.7 116.0 173.4 118.2 176.1 117.4ZM180.3 119.5 177.6 120.4 180.3 121.9 183.0 121.0ZM88.3 99.6 85.5 102.3 88.3 104.4 91.0 101.7ZM95.2 103.9 92.4 106.7 95.2 108.0 97.9 105.3ZM143.5 131.5 140.7 134.2 143.5 136.2 146.2 133.5ZM150.4 135.8 147.6 138.6 150.3 139.9 153.1 137.1ZM69.9 99.6 67.1 101.6 69.9 104.4 72.6 102.3ZM95.2 115.0 92.4 117.2 95.2 118.0 97.9 115.8ZM125.0 131.4 122.3 133.5 125.0 136.2 127.8 134.1ZM150.3 147.0 147.6 149.2 150.3 150.0 153.1 147.8ZM88.3 119.3 85.5 120.8 88.2 121.7 91.0 120.2ZM118.1 135.7 115.4 137.1 118.1 139.8 120.9 138.5ZM69.8 119.3 67.1 120.1 69.8 121.6 72.6 120.8ZM118.1 146.9 115.4 147.7 118.1 150.0 120.8 149.2Z"/>
<path fill="#1482d5" d="M173.6 52.2 170.8 52.9 173.6 55.1 176.3 54.4ZM180.5 56.4 177.7 57.2 180.5 58.7 183.2 57.9ZM228.7 83.5 226.0 84.3 228.7 86.5 231.4 85.7ZM235.6 87.8 232.8 88.6 235.6 90.1 238.3 89.2ZM136.7 66.7 134.0 69.3 136.7 71.7 139.5 69.2ZM207.9 108.1 205.2 110.9 207.9 111.8 210.7 109.1ZM132.1 66.7 129.4 69.1 132.1 71.7 134.9 69.3ZM207.9 110.9 205.2 113.5 207.9 114.3 210.7 111.7ZM60.7 107.8 57.9 108.8 60.6 111.5 63.4 110.6ZM136.5 152.6 133.8 153.7 136.5 154.6 139.3 153.6ZM60.6 110.6 57.9 111.4 60.6 114.0 63.4 113.2ZM131.9 152.6 129.2 153.5 131.9 154.6 134.7 153.7Z"/>
<path fill="#1484d4" d="M171.3 47.9 168.6 48.7 171.3 51.2 174.0 50.5ZM242.5 89.0 239.7 90.0 242.5 91.0 245.2 90.1ZM152.8 76.5 150.1 79.3 152.8 80.2 155.5 77.5ZM191.9 98.2 189.1 100.8 191.8 103.2 194.6 100.6ZM152.8 79.3 150.1 81.9 152.8 82.7 155.5 80.1ZM187.3 98.2 184.5 100.6 187.2 103.2 190.0 100.8ZM116.0 76.5 113.2 77.4 116.0 80.1 118.7 79.2ZM136.7 89.1 133.9 90.2 136.6 91.1 139.4 90.1ZM171.1 108.1 168.4 109.0 171.1 111.7 173.8 110.8ZM191.8 120.8 189.1 121.9 191.8 122.8 194.6 121.8ZM116.0 79.2 113.2 80.0 116.0 82.6 118.7 81.8ZM132.1 89.1 129.3 90.0 132.0 91.1 134.8 90.2ZM171.1 110.8 168.4 111.6 171.1 114.2 173.8 113.4ZM187.2 120.8 184.5 121.7 187.2 122.8 190.0 121.9ZM81.4 98.0 78.6 100.5 81.4 103.0 84.1 100.4ZM152.6 139.8 149.9 142.5 152.6 143.5 155.4 140.7ZM76.8 97.9 74.0 100.4 76.8 103.0 79.5 100.5ZM97.5 110.6 94.7 113.2 97.5 114.1 100.2 111.5ZM132.0 129.7 129.2 132.2 131.9 134.8 134.7 132.3ZM152.6 142.6 149.9 145.2 152.6 146.0 155.4 143.4ZM81.3 120.6 78.6 121.7 81.3 122.6 84.1 121.5ZM115.8 139.7 113.1 140.7 115.8 143.4 118.6 142.5ZM76.7 120.6 74.0 121.5 76.7 122.6 79.5 121.7ZM115.8 142.5 113.1 143.3 115.8 146.0 118.5 145.1Z"/>
<path fill="#1486d3" d="M187.4 57.6 184.6 58.6 187.4 59.6 190.1 58.7ZM226.4 79.1 223.7 79.9 226.4 82.5 229.1 81.7ZM97.5 107.9 94.7 110.6 97.5 111.5 100.2 108.8ZM136.6 129.7 133.8 132.3 136.6 134.8 139.3 132.2ZM60.7 104.9 57.9 106.0 60.6 108.7 63.4 107.6ZM141.1 152.3 138.4 153.6 141.1 154.5 143.9 153.2ZM60.6 113.1 57.9 113.9 60.6 116.3 63.4 115.6ZM127.3 152.3 124.6 153.2 127.3 154.5 130.1 153.6Z"/>
<path fill="#1388d3" d="M141.3 66.5 138.6 69.2 141.3 71.5 144.1 68.8ZM152.8 73.6 150.1 76.4 152.8 77.4 155.5 74.7ZM196.5 98.0 193.7 100.7 196.4 103.0 199.2 100.3ZM207.9 105.1 205.2 107.9 207.9 109.0 210.7 106.2ZM127.5 66.5 124.8 68.8 127.5 71.4 130.3 69.2ZM152.8 81.8 150.0 84.2 152.8 85.0 155.5 82.5ZM182.7 98.0 179.9 100.3 182.6 102.9 185.4 100.7ZM207.9 113.4 205.2 115.8 207.9 116.6 210.7 114.2ZM116.0 73.5 113.2 74.6 116.0 77.4 118.7 76.3ZM141.3 88.8 138.5 90.1 141.2 91.0 144.0 89.7ZM171.1 105.1 168.4 106.2 171.1 109.0 173.9 107.9ZM196.4 120.5 193.7 121.8 196.4 122.7 199.2 121.4ZM116.0 81.7 113.2 82.5 116.0 84.9 118.7 84.2ZM127.5 88.8 124.7 89.7 127.4 90.9 130.2 90.1ZM171.1 113.3 168.4 114.1 171.1 116.6 173.8 115.8ZM182.6 120.5 179.8 121.4 182.6 122.7 185.3 121.8ZM86.0 97.8 83.2 100.5 86.0 102.7 88.7 100.1ZM152.7 136.8 149.9 139.6 152.6 140.7 155.4 137.9ZM72.2 97.7 69.4 100.0 72.2 102.7 74.9 100.4ZM152.6 145.1 149.9 147.6 152.6 148.3 155.4 145.9ZM85.9 120.3 83.2 121.6 85.9 122.4 88.7 121.2ZM115.8 136.7 113.1 137.8 115.8 140.6 118.6 139.5ZM72.1 120.3 69.4 121.1 72.1 122.4 74.9 121.6ZM115.8 145.1 113.1 145.8 115.8 148.3 118.5 147.5Z"/>
<path fill="#128bd2" d="M171.3 50.3 168.5 51.1 171.3 53.5 174.0 52.8ZM182.8 57.4 180.0 58.2 182.8 59.5 185.5 58.6ZM226.4 81.6 223.7 82.4 226.4 84.8 229.1 84.1ZM237.9 88.7 235.1 89.6 237.9 90.9 240.6 90.0ZM97.5 104.9 94.8 107.7 97.5 108.8 100.2 106.0ZM141.2 129.6 138.4 132.3 141.2 134.6 143.9 131.9ZM97.5 113.2 94.7 115.6 97.5 116.4 100.2 113.9ZM127.4 129.6 124.6 131.8 127.3 134.5 130.1 132.2Z"/>
<path fill="#118dd2" d="M148.2 67.8 145.5 70.5 148.2 72.3 151.0 69.6ZM150.5 69.3 147.8 72.0 150.5 73.5 153.2 70.8ZM203.4 99.3 200.6 102.0 203.3 103.9 206.1 101.1ZM205.7 100.8 202.9 103.5 205.6 105.1 208.4 102.3ZM120.6 67.8 117.8 69.6 120.6 72.3 123.3 70.5ZM150.5 85.7 147.7 87.7 150.5 88.5 153.2 86.5ZM175.7 99.3 173.0 101.1 175.7 103.8 178.5 102.0ZM205.6 117.4 202.9 119.3 205.6 120.1 208.4 118.1ZM118.3 69.2 115.5 70.7 118.3 73.5 121.0 71.9ZM148.2 87.1 145.4 88.8 148.2 89.7 150.9 87.9ZM173.4 100.7 170.7 102.3 173.4 105.0 176.2 103.5ZM203.3 118.8 200.6 120.5 203.3 121.3 206.1 119.6ZM118.3 85.7 115.5 86.4 118.2 88.4 121.0 87.6ZM120.5 87.1 117.8 87.9 120.5 89.6 123.3 88.8ZM173.4 117.3 170.7 118.1 173.4 120.1 176.1 119.3ZM175.7 118.8 173.0 119.6 175.7 121.3 178.4 120.5ZM92.9 99.1 90.1 101.8 92.9 103.6 95.6 100.9ZM95.2 100.6 92.4 103.3 95.2 104.8 97.9 102.1ZM148.1 130.9 145.3 133.6 148.1 135.5 150.8 132.8ZM150.4 132.4 147.6 135.1 150.4 136.7 153.1 134.0ZM65.3 99.0 62.5 100.8 65.3 103.6 68.0 101.8ZM95.2 117.1 92.4 119.1 95.2 119.9 97.9 117.9ZM120.4 130.9 117.7 132.7 120.4 135.4 123.2 133.6ZM150.3 149.1 147.6 151.1 150.3 151.9 153.1 149.9ZM63.0 100.5 60.2 102.0 63.0 104.8 65.7 103.2ZM92.9 118.6 90.1 120.3 92.8 121.1 95.6 119.4ZM118.1 132.3 115.4 133.9 118.1 136.6 120.9 135.1ZM148.0 150.6 145.3 152.3 148.0 153.1 150.8 151.4ZM62.9 117.1 60.2 117.9 62.9 119.8 65.7 119.1ZM65.2 118.5 62.5 119.3 65.2 121.1 68.0 120.3ZM118.1 149.1 115.4 149.9 118.1 151.9 120.8 151.1ZM120.4 150.5 117.7 151.3 120.4 153.1 123.2 152.3Z"/>
<path fill="#0f90d2" d="M173.6 54.2 170.8 55.0 173.6 57.0 176.3 56.2ZM175.9 55.7 173.1 56.5 175.9 58.2 178.6 57.4ZM228.7 85.6 226.0 86.4 228.7 88.4 231.4 87.6ZM231.0 87.0 228.2 87.8 231.0 89.6 233.7 88.7Z"/>
<path fill="#0d92d2" d="M145.9 66.2 143.2 68.9 145.9 70.9 148.7 68.2ZM152.8 70.4 150.1 73.2 152.8 74.5 155.5 71.7ZM201.1 97.7 198.3 100.4 201.0 102.4 203.8 99.7ZM208.0 102.0 205.2 104.7 207.9 106.0 210.7 103.3ZM122.9 66.1 120.2 68.2 122.9 70.9 125.6 68.8ZM152.8 84.1 150.0 86.3 152.8 87.0 155.5 84.8ZM178.0 97.7 175.3 99.7 178.0 102.4 180.8 100.3ZM207.9 115.7 205.2 117.9 207.9 118.7 210.7 116.5ZM116.0 70.4 113.2 71.7 116.0 74.4 118.7 73.1ZM145.9 88.3 143.1 89.8 145.9 90.6 148.6 89.2ZM171.1 101.9 168.4 103.2 171.1 106.0 173.9 104.7ZM201.0 120.0 198.3 121.5 201.0 122.3 203.8 120.8ZM116.0 84.0 113.2 84.8 115.9 87.0 118.7 86.2ZM122.8 88.3 120.1 89.1 122.8 90.6 125.6 89.8ZM171.1 115.7 168.4 116.4 171.1 118.7 173.8 117.9ZM178.0 120.0 175.2 120.8 178.0 122.3 180.7 121.5ZM90.6 97.5 87.8 100.1 90.6 102.2 93.3 99.5ZM152.7 133.6 149.9 136.4 152.7 137.7 155.4 134.9ZM67.6 97.4 64.8 99.4 67.6 102.1 70.3 100.1ZM152.6 147.4 149.9 149.7 152.6 150.5 155.4 148.2ZM60.7 101.7 57.9 103.0 60.7 105.8 63.4 104.4ZM90.6 119.8 87.8 121.3 90.5 122.1 93.3 120.6ZM115.8 133.5 113.1 134.9 115.8 137.6 118.6 136.3ZM145.7 151.8 143.0 153.3 145.7 154.1 148.5 152.6ZM58.3 108.5 55.6 109.2 58.3 112.0 61.1 111.2ZM134.2 153.2 131.5 154.2 134.2 155.2 137.0 154.2ZM60.6 115.4 57.9 116.2 60.6 118.4 63.4 117.6ZM67.5 119.7 64.8 120.6 67.5 122.0 70.3 121.2ZM115.8 147.4 113.1 148.2 115.8 150.4 118.5 149.6ZM122.7 151.7 120.0 152.6 122.7 154.1 125.5 153.3Z"/>
<path fill="#0b95d2" d="M169.0 45.7 166.3 46.5 169.0 49.2 171.7 48.5ZM244.8 89.6 242.0 90.6 244.8 91.5 247.5 90.6ZM171.3 52.6 168.5 53.4 171.3 55.6 174.0 54.8ZM178.2 56.8 175.4 57.7 178.2 59.1 180.9 58.3ZM226.4 83.9 223.7 84.7 226.4 86.9 229.1 86.1ZM233.3 88.2 230.5 89.1 233.3 90.5 236.0 89.7ZM139.0 64.5 136.3 67.2 139.0 69.6 141.8 67.0ZM210.2 105.9 207.5 108.7 210.2 109.6 213.0 106.8ZM134.4 64.6 131.7 67.1 134.4 69.7 137.2 67.2ZM155.1 77.2 152.4 79.9 155.1 80.7 157.8 77.9ZM189.6 96.0 186.8 98.6 189.5 101.2 192.3 98.6ZM210.2 108.7 207.5 111.5 210.2 112.3 213.0 109.5ZM129.8 64.5 127.1 66.9 129.8 69.6 132.6 67.2ZM210.2 111.4 207.5 114.0 210.2 114.7 213.0 112.1ZM113.7 77.1 110.9 77.9 113.7 80.6 116.4 79.8ZM134.4 89.7 131.6 90.7 134.3 91.6 137.1 90.7ZM168.8 108.7 166.1 109.5 168.8 112.2 171.5 111.4ZM189.5 121.4 186.7 122.4 189.5 123.3 192.3 122.4ZM97.5 101.8 94.8 104.5 97.5 105.8 100.2 103.1ZM145.8 129.3 143.0 132.0 145.8 134.0 148.5 131.3ZM79.1 95.8 76.3 98.4 79.1 101.0 81.8 98.4ZM154.9 140.4 152.2 143.2 154.9 144.0 157.7 141.2ZM97.5 115.5 94.7 117.7 97.5 118.5 100.2 116.3ZM122.8 129.2 120.0 131.3 122.7 134.0 125.5 131.9ZM58.4 105.6 55.6 106.5 58.3 109.4 61.1 108.4ZM138.8 153.1 136.1 154.2 138.8 155.1 141.6 154.0ZM79.0 121.2 76.3 122.1 79.0 123.1 81.8 122.2ZM113.5 140.4 110.8 141.2 113.5 143.9 116.2 143.1ZM58.3 111.1 55.6 111.8 58.3 114.5 61.1 113.7ZM129.6 153.1 126.9 154.0 129.6 155.1 132.4 154.2Z"/>
<path fill="#0997d1" d="M189.7 58.2 186.9 59.2 189.7 60.1 192.4 59.2ZM224.1 77.0 221.4 77.8 224.1 80.5 226.8 79.7ZM169.0 48.3 166.3 49.1 169.0 51.7 171.7 50.9ZM240.2 89.5 237.4 90.4 240.2 91.5 242.9 90.6ZM155.1 74.4 152.4 77.1 155.1 78.1 157.8 75.3ZM194.2 96.0 191.4 98.6 194.2 101.1 196.9 98.4ZM155.1 79.8 152.4 82.4 155.1 83.1 157.8 80.5ZM185.0 96.0 182.2 98.4 184.9 101.1 187.7 98.6ZM113.7 74.3 110.9 75.2 113.7 78.0 116.4 77.1ZM139.0 89.6 136.2 90.7 138.9 91.6 141.7 90.5ZM168.8 105.9 166.1 106.8 168.8 109.6 171.5 108.7ZM194.1 121.3 191.4 122.4 194.1 123.3 196.9 122.2ZM113.7 79.7 110.9 80.4 113.7 83.1 116.4 82.3ZM129.7 89.6 127.0 90.5 129.7 91.5 132.5 90.7ZM168.8 111.3 166.1 112.1 168.8 114.7 171.5 113.9ZM184.9 121.3 182.1 122.2 184.9 123.3 187.6 122.4ZM83.7 95.8 80.9 98.4 83.7 100.9 86.4 98.2ZM155.0 137.6 152.2 140.4 154.9 141.3 157.7 138.5ZM99.8 108.5 97.0 111.2 99.8 112.1 102.5 109.3ZM134.3 127.6 131.5 130.2 134.3 132.8 137.0 130.2ZM74.5 95.7 71.7 98.2 74.5 100.8 77.2 98.4ZM99.8 111.2 97.0 113.8 99.8 114.5 102.5 111.9ZM129.7 127.5 126.9 130.0 129.7 132.7 132.4 130.2ZM154.9 143.1 152.2 145.7 154.9 146.5 157.7 143.8ZM83.6 121.1 80.9 122.2 83.6 123.1 86.4 122.0ZM113.5 137.5 110.8 138.5 113.5 141.3 116.3 140.3ZM74.4 121.1 71.7 121.9 74.4 123.0 77.2 122.2ZM113.5 143.0 110.8 143.8 113.5 146.4 116.2 145.7Z"/>
<path fill="#089ad1" d="M185.1 58.1 182.3 59.0 185.0 60.1 187.8 59.2ZM224.1 79.6 221.4 80.4 224.1 83.0 226.8 82.2ZM99.8 105.7 97.1 108.5 99.8 109.4 102.5 106.6ZM138.9 127.5 136.1 130.2 138.9 132.7 141.6 130.0Z"/>
<path fill="#079cd0" d="M143.6 64.3 140.9 67.0 143.6 69.3 146.4 66.6ZM155.1 71.4 152.4 74.2 155.1 75.3 157.8 72.5ZM198.8 95.8 196.0 98.5 198.8 100.8 201.5 98.1ZM210.2 102.9 207.5 105.7 210.2 106.8 213.0 104.0ZM125.2 64.3 122.5 66.6 125.2 69.2 128.0 67.0ZM155.1 82.2 152.3 84.6 155.1 85.4 157.8 83.0ZM180.4 95.8 177.6 98.1 180.3 100.7 183.1 98.5ZM210.2 113.8 207.5 116.3 210.2 117.0 213.0 114.6ZM113.7 71.3 110.9 72.4 113.7 75.2 116.4 74.1ZM198.7 121.0 196.0 122.2 198.7 123.1 201.5 121.8ZM113.7 82.2 110.9 82.9 113.6 85.3 116.4 84.6ZM180.3 121.0 177.5 121.8 180.3 123.1 183.0 122.2ZM69.9 95.5 67.1 97.8 69.9 100.5 72.6 98.2ZM154.9 145.6 152.2 148.0 154.9 148.8 157.7 146.3ZM58.4 102.6 55.6 103.7 58.4 106.5 61.1 105.4ZM88.2 120.8 85.5 122.0 88.2 122.9 91.0 121.6ZM113.5 134.5 110.8 135.6 113.5 138.4 116.3 137.3ZM143.4 152.8 140.7 154.1 143.4 154.9 146.2 153.6ZM58.3 113.6 55.6 114.3 58.3 116.7 61.1 116.0ZM69.8 120.7 67.1 121.6 69.8 122.8 72.6 122.0ZM113.5 145.5 110.8 146.3 113.5 148.7 116.2 148.0ZM125.0 152.7 122.3 153.6 125.0 154.9 127.8 154.0Z"/>
<path fill="#079ecf" d="M169.0 50.8 166.2 51.5 169.0 53.9 171.7 53.2ZM180.5 57.8 177.7 58.6 180.4 59.9 183.2 59.0ZM224.1 82.1 221.4 82.8 224.1 85.3 226.8 84.5ZM235.6 89.2 232.8 90.0 235.6 91.3 238.3 90.4ZM143.6 89.3 140.8 90.5 143.5 91.4 146.3 90.1ZM168.8 102.9 166.1 104.0 168.8 106.8 171.6 105.7ZM125.1 89.3 122.4 90.1 125.1 91.4 127.9 90.5ZM168.8 113.8 166.1 114.5 168.8 117.0 171.5 116.2ZM88.3 95.6 85.5 98.3 88.3 100.5 91.0 97.9ZM99.8 102.7 97.1 105.5 99.8 106.6 102.5 103.8ZM143.5 127.4 140.7 130.1 143.5 132.4 146.2 129.7ZM155.0 134.6 152.2 137.4 155.0 138.5 157.7 135.7ZM99.8 113.6 97.0 116.1 99.8 116.8 102.5 114.4ZM125.1 127.4 122.3 129.6 125.0 132.3 127.8 130.0Z"/>
<path fill="#06a0cd" d="M150.5 65.7 147.8 68.3 150.5 70.2 153.3 67.5ZM152.8 67.1 150.1 69.8 152.8 71.3 155.6 68.7ZM205.7 97.2 202.9 99.8 205.7 101.7 208.4 99.0ZM208.0 98.6 205.2 101.3 207.9 102.9 210.7 100.2ZM118.3 65.6 115.5 67.4 118.3 70.1 121.0 68.3ZM152.8 86.1 150.0 88.1 152.8 89.0 155.5 87.0ZM173.4 97.2 170.7 99.0 173.4 101.6 176.2 99.8ZM207.9 117.8 205.2 119.8 207.9 120.6 210.7 118.6ZM116.0 67.1 113.2 68.6 116.0 71.3 118.7 69.7ZM150.5 87.6 147.7 89.3 150.5 90.2 153.2 88.5ZM171.1 98.6 168.4 100.2 171.1 102.8 173.9 101.3ZM205.6 119.2 202.9 121.0 205.6 121.8 208.4 120.1ZM115.9 86.1 113.2 86.9 115.9 88.9 118.7 88.1ZM118.2 87.5 115.5 88.4 118.2 90.1 121.0 89.2ZM171.1 117.8 168.4 118.6 171.1 120.6 173.8 119.7ZM173.4 119.2 170.7 120.1 173.4 121.8 176.1 120.9ZM95.2 97.0 92.5 99.6 95.2 101.5 97.9 98.8ZM97.5 98.4 94.8 101.1 97.5 102.7 100.2 100.0ZM150.4 128.8 147.6 131.4 150.4 133.3 153.1 130.6ZM152.7 130.2 149.9 132.9 152.7 134.5 155.4 131.8ZM63.0 96.9 60.2 98.7 63.0 101.4 65.7 99.6ZM97.5 117.6 94.7 119.6 97.4 120.4 100.2 118.5ZM118.1 128.7 115.4 130.6 118.1 133.2 120.9 131.4ZM152.6 149.6 149.9 151.6 152.6 152.4 155.4 150.4ZM60.7 98.3 57.9 99.9 60.7 102.6 63.4 101.0ZM95.2 119.0 92.4 120.8 95.1 121.7 97.9 119.9ZM115.8 130.2 113.1 131.8 115.8 134.4 118.6 132.9ZM150.3 151.0 147.6 152.8 150.3 153.6 153.1 151.9ZM60.6 117.5 57.9 118.3 60.6 120.3 63.4 119.5ZM62.9 118.9 60.2 119.8 62.9 121.5 65.7 120.7ZM115.8 149.5 113.1 150.4 115.8 152.4 118.5 151.5ZM118.1 151.0 115.4 151.8 118.1 153.6 120.9 152.7Z"/>
<path fill="#06a1cc" d="M171.3 54.7 168.5 55.5 171.3 57.5 174.0 56.6ZM173.6 56.1 170.8 57.0 173.5 58.7 176.3 57.8ZM226.4 86.0 223.6 86.9 226.4 88.9 229.1 88.0ZM228.7 87.5 225.9 88.3 228.7 90.1 231.4 89.2Z"/>
<path fill="#06a3ca" d="M148.2 64.1 145.5 66.7 148.2 68.7 151.0 66.1ZM155.1 68.3 152.4 71.0 155.1 72.3 157.8 69.6ZM203.4 95.5 200.6 98.2 203.4 100.2 206.1 97.6ZM210.3 99.8 207.5 102.5 210.2 103.8 213.0 101.1ZM120.6 64.0 117.9 66.0 120.6 68.7 123.3 66.6ZM155.1 84.5 152.3 86.7 155.1 87.5 157.8 85.3ZM175.8 95.5 173.0 97.6 175.7 100.2 178.5 98.2ZM210.2 116.1 207.5 118.4 210.2 119.2 213.0 117.0ZM113.7 68.2 110.9 69.5 113.7 72.2 116.4 70.9ZM148.2 88.8 145.4 90.2 148.1 91.1 150.9 89.7ZM168.8 99.8 166.1 101.1 168.8 103.8 171.6 102.5ZM203.3 120.4 200.6 121.9 203.3 122.8 206.1 121.3ZM113.6 84.4 110.9 85.3 113.6 87.5 116.4 86.6ZM120.5 88.7 117.8 89.6 120.5 91.1 123.3 90.2ZM168.8 116.1 166.1 116.9 168.8 119.2 171.5 118.3ZM175.7 120.4 172.9 121.3 175.7 122.8 178.4 121.9ZM92.9 95.3 90.1 98.0 92.9 100.0 95.6 97.4ZM155.0 131.5 152.2 134.2 155.0 135.5 157.7 132.8ZM65.3 95.2 62.5 97.3 65.3 99.9 68.0 97.9ZM154.9 147.9 152.2 150.1 154.9 151.0 157.7 148.7ZM58.4 99.5 55.6 100.8 58.4 103.5 61.1 102.2ZM92.8 120.2 90.1 121.7 92.8 122.6 95.6 121.2ZM113.5 131.4 110.8 132.7 113.5 135.4 116.3 134.1ZM148.0 152.2 145.3 153.7 148.0 154.6 150.8 153.1ZM56.0 106.2 53.3 107.0 56.0 109.8 58.8 109.1ZM136.5 153.7 133.8 154.7 136.5 155.6 139.3 154.7ZM56.0 108.9 53.3 109.7 56.0 112.4 58.8 111.7ZM131.9 153.7 129.2 154.6 131.9 155.6 134.7 154.7ZM58.3 115.8 55.6 116.7 58.3 118.9 61.1 118.1ZM65.2 120.2 62.5 121.0 65.2 122.5 68.0 121.6ZM113.5 147.8 110.8 148.7 113.5 150.9 116.2 150.1ZM120.4 152.2 117.7 153.1 120.4 154.6 123.2 153.7Z"/>
<path fill="#06a5c9" d="M166.7 43.6 164.0 44.3 166.7 47.1 169.4 46.3ZM247.1 90.1 244.3 91.1 247.1 92.0 249.8 91.0ZM166.7 46.2 164.0 46.9 166.7 49.7 169.4 48.9ZM242.5 90.1 239.7 91.0 242.5 92.0 245.2 91.1ZM169.0 53.0 166.2 53.9 169.0 56.1 171.7 55.2ZM175.9 57.3 173.1 58.2 175.8 59.6 178.6 58.7ZM224.1 84.4 221.4 85.2 224.1 87.4 226.8 86.6ZM231.0 88.7 228.2 89.6 231.0 91.0 233.7 90.1ZM136.7 62.4 134.0 65.0 136.7 67.6 139.5 65.0ZM157.4 75.0 154.7 77.8 157.4 78.5 160.1 75.8ZM191.9 93.8 189.1 96.5 191.9 99.1 194.6 96.4ZM212.5 106.5 209.8 109.3 212.5 110.1 215.3 107.3ZM132.1 62.4 129.4 64.9 132.1 67.6 134.9 65.0ZM157.4 77.6 154.7 80.4 157.4 81.1 160.1 78.4ZM187.3 93.8 184.5 96.4 187.3 99.1 190.0 96.5ZM212.5 109.2 209.8 112.0 212.5 112.7 215.3 110.0ZM111.4 74.9 108.6 75.7 111.4 78.5 114.1 77.7ZM136.7 90.2 133.9 91.2 136.6 92.1 139.4 91.1ZM166.5 106.5 163.8 107.3 166.5 110.1 169.2 109.3ZM191.8 121.9 189.0 122.9 191.8 123.8 194.5 122.8ZM111.4 77.6 108.6 78.3 111.4 81.0 114.1 80.3ZM132.0 90.2 129.3 91.1 132.0 92.0 134.8 91.2ZM166.5 109.2 163.8 109.9 166.5 112.7 169.2 111.9ZM187.2 121.9 184.4 122.8 187.2 123.8 189.9 122.9ZM99.8 99.6 97.1 102.3 99.8 103.6 102.5 101.0ZM148.1 127.1 145.3 129.8 148.1 131.8 150.8 129.2ZM81.4 93.6 78.6 96.3 81.4 98.9 84.1 96.2ZM157.3 138.2 154.5 141.0 157.2 141.8 160.0 139.0ZM76.8 93.6 74.0 96.2 76.8 98.8 79.5 96.3ZM157.2 140.9 154.5 143.7 157.2 144.4 160.0 141.7ZM99.8 115.9 97.0 118.1 99.8 119.0 102.5 116.8ZM120.5 127.1 117.7 129.1 120.4 131.8 123.2 129.7ZM56.1 103.4 53.3 104.3 56.0 107.1 58.8 106.2ZM141.1 153.6 138.4 154.7 141.1 155.6 143.9 154.5ZM81.3 121.7 78.6 122.7 81.3 123.6 84.1 122.6ZM111.2 138.2 108.5 139.0 111.2 141.8 113.9 141.0ZM76.7 121.7 74.0 122.6 76.7 123.5 79.5 122.7ZM111.2 140.9 108.5 141.6 111.2 144.4 113.9 143.6ZM56.0 111.5 53.3 112.3 56.0 114.9 58.8 114.1ZM127.3 153.6 124.6 154.4 127.3 155.5 130.1 154.7Z"/>
<path fill="#06a6c7" d="M192.0 58.7 189.2 59.7 191.9 60.5 194.7 59.6ZM221.8 74.8 219.1 75.6 221.8 78.4 224.5 77.6ZM187.4 58.7 184.6 59.6 187.3 60.5 190.1 59.7ZM221.8 77.5 219.1 78.2 221.8 81.0 224.5 80.2ZM141.3 62.3 138.6 65.0 141.3 67.4 144.1 64.8ZM157.4 72.2 154.7 75.0 157.4 75.9 160.1 73.1ZM196.5 93.8 193.7 96.4 196.5 98.9 199.2 96.2ZM212.5 103.7 209.8 106.5 212.5 107.4 215.3 104.6ZM127.5 62.3 124.8 64.7 127.5 67.4 130.3 65.0ZM157.4 80.2 154.7 82.8 157.4 83.6 160.1 81.0ZM182.7 93.8 179.9 96.2 182.6 98.9 185.4 96.4ZM212.5 111.8 209.8 114.4 212.5 115.2 215.2 112.6ZM111.4 72.1 108.6 73.0 111.4 75.8 114.1 74.9ZM196.4 121.8 193.6 122.8 196.4 123.7 199.1 122.6ZM111.4 80.1 108.6 80.9 111.3 83.5 114.1 82.8ZM127.4 90.0 124.7 90.9 127.4 92.0 130.2 91.1ZM166.5 111.8 163.8 112.5 166.5 115.1 169.2 114.4ZM182.6 121.8 179.8 122.6 182.6 123.7 185.3 122.8ZM86.0 93.6 83.2 96.2 86.0 98.7 88.7 96.0ZM157.3 135.4 154.5 138.2 157.3 139.1 160.0 136.3ZM102.1 106.3 99.4 109.1 102.1 109.9 104.8 107.1ZM136.6 125.4 133.8 128.1 136.6 130.6 139.3 128.0ZM102.1 109.0 99.4 111.8 102.1 112.5 104.8 109.8ZM132.0 125.4 129.2 128.0 132.0 130.6 134.7 128.1ZM72.2 93.5 69.4 96.0 72.2 98.6 74.9 96.2ZM157.2 143.5 154.5 146.2 157.2 146.9 160.0 144.3ZM85.9 121.5 83.2 122.6 85.9 123.5 88.7 122.4ZM111.2 135.3 108.5 136.2 111.2 139.1 114.0 138.1ZM72.1 121.5 69.4 122.4 72.1 123.5 74.9 122.6ZM111.2 143.5 108.5 144.2 111.2 146.8 113.9 146.1Z"/>
<path fill="#06a7c5" d="M166.7 48.8 163.9 49.5 166.7 52.1 169.4 51.4ZM182.8 58.6 180.0 59.4 182.7 60.5 185.5 59.6ZM221.8 80.1 219.1 80.8 221.8 83.4 224.5 82.7ZM237.9 90.0 235.1 90.8 237.9 91.9 240.6 91.0ZM141.3 90.1 138.5 91.1 141.2 92.0 144.0 90.9ZM166.5 103.7 163.8 104.6 166.5 107.4 169.3 106.5ZM102.1 103.5 99.4 106.3 102.1 107.2 104.8 104.4ZM141.2 125.4 138.4 128.0 141.2 130.5 143.9 127.8ZM102.1 111.6 99.3 114.2 102.1 115.0 104.8 112.4ZM127.4 125.3 124.6 127.8 127.4 130.5 130.1 128.0Z"/>
<path fill="#07a9c3" d="M145.9 62.2 143.2 64.8 145.9 67.1 148.7 64.5ZM157.4 69.3 154.7 72.0 157.4 73.1 160.1 70.4ZM201.1 93.7 198.3 96.3 201.1 98.6 203.8 95.9ZM212.6 100.8 209.8 103.5 212.5 104.6 215.3 101.9ZM122.9 62.2 120.2 64.4 122.9 67.0 125.7 64.8ZM157.4 82.7 154.6 85.1 157.4 85.9 160.1 83.5ZM178.1 93.7 175.3 95.9 178.0 98.6 180.8 96.3ZM212.5 114.3 209.8 116.7 212.5 117.5 215.3 115.1ZM111.4 69.2 108.6 70.3 111.4 73.0 114.1 71.9ZM201.0 121.4 198.3 122.7 201.0 123.6 203.8 122.3ZM111.3 82.6 108.6 83.4 111.3 85.8 114.1 85.0ZM178.0 121.4 175.2 122.3 178.0 123.6 180.7 122.7ZM90.6 93.5 87.8 96.1 90.6 98.4 93.4 95.8ZM157.3 132.5 154.5 135.2 157.3 136.3 160.0 133.6ZM67.6 93.4 64.8 95.7 67.6 98.3 70.3 96.0ZM157.2 146.0 154.5 148.5 157.2 149.3 160.0 146.8ZM56.1 100.5 53.3 101.6 56.1 104.3 58.8 103.2ZM90.5 121.2 87.8 122.5 90.5 123.4 93.3 122.2ZM111.2 132.4 108.5 133.5 111.2 136.2 114.0 135.1ZM145.7 153.2 143.0 154.5 145.7 155.4 148.5 154.2ZM56.0 114.0 53.3 114.8 56.0 117.2 58.8 116.4ZM67.5 121.1 64.8 122.0 67.5 123.3 70.3 122.4ZM111.2 145.9 108.5 146.8 111.2 149.2 113.9 148.4ZM122.7 153.2 120.0 154.1 122.7 155.4 125.5 154.5Z"/>
<path fill="#08aac1" d="M166.7 51.2 163.9 52.0 166.7 54.4 169.4 53.6ZM178.2 58.2 175.4 59.2 178.1 60.4 180.9 59.5ZM221.8 82.5 219.1 83.4 221.8 85.8 224.5 84.9ZM233.3 89.6 230.5 90.6 233.3 91.8 236.0 90.9ZM152.8 63.7 150.1 66.2 152.8 68.0 155.6 65.5ZM155.1 65.1 152.4 67.7 155.1 69.2 157.9 66.7ZM208.0 95.1 205.2 97.7 208.0 99.5 210.7 97.0ZM210.3 96.6 207.5 99.1 210.3 100.7 213.0 98.2ZM116.0 63.6 113.3 65.4 116.0 68.0 118.7 66.2ZM155.1 86.6 152.3 88.6 155.1 89.6 157.8 87.6ZM171.1 95.2 168.4 97.0 171.1 99.5 173.9 97.7ZM210.2 118.3 207.5 120.3 210.2 121.2 213.0 119.3ZM113.7 65.0 110.9 66.6 113.7 69.1 116.4 67.6ZM152.8 88.1 150.0 89.8 152.8 90.8 155.5 89.1ZM168.8 96.6 166.1 98.1 168.8 100.7 171.6 99.1ZM207.9 119.7 205.2 121.4 207.9 122.4 210.7 120.7ZM145.9 89.7 143.1 91.0 145.8 91.9 148.6 90.7ZM166.5 100.8 163.8 101.9 166.5 104.6 169.3 103.5ZM122.8 89.7 120.1 90.6 122.8 91.9 125.6 90.9ZM166.5 114.2 163.8 115.1 166.5 117.5 169.2 116.7ZM113.6 86.6 110.9 87.6 113.6 89.5 116.4 88.5ZM115.9 88.0 113.2 89.0 115.9 90.7 118.7 89.7ZM168.8 118.3 166.0 119.3 168.8 121.2 171.5 120.2ZM171.1 119.7 168.3 120.7 171.1 122.4 173.8 121.4ZM102.1 100.6 99.4 103.3 102.1 104.4 104.8 101.7ZM145.8 125.3 143.0 127.9 145.8 130.2 148.5 127.5ZM102.1 114.1 99.3 116.5 102.1 117.3 104.8 114.9ZM122.8 125.2 120.0 127.5 122.7 130.1 125.5 127.8ZM60.7 94.8 57.9 96.7 60.7 99.2 63.4 97.4ZM99.8 118.1 97.0 120.1 99.7 121.1 102.5 119.1ZM115.8 126.7 113.1 128.5 115.8 131.1 118.6 129.2ZM154.9 150.1 152.2 152.0 154.9 153.0 157.7 151.1ZM58.4 96.3 55.6 97.8 58.4 100.4 61.1 98.8ZM97.5 119.5 94.7 121.3 97.4 122.3 100.2 120.6ZM113.5 128.2 110.8 129.7 113.5 132.3 116.3 130.7ZM152.6 151.5 149.9 153.2 152.6 154.3 155.4 152.5Z"/>
<path fill="#09abbf" d="M169.0 55.2 166.2 56.2 168.9 58.1 171.7 57.1ZM171.3 56.6 168.5 57.6 171.2 59.3 174.0 58.3ZM224.1 86.5 221.3 87.5 224.1 89.5 226.8 88.5ZM226.4 88.0 223.6 89.0 226.4 90.7 229.1 89.7ZM97.5 95.0 94.8 97.5 97.5 99.3 100.3 96.8ZM99.8 96.4 97.1 99.0 99.8 100.5 102.5 98.0ZM152.7 126.8 149.9 129.3 152.7 131.1 155.4 128.6ZM155.0 128.2 152.2 130.8 155.0 132.4 157.7 129.8Z"/>
<path fill="#0badbc" d="M150.5 62.0 147.8 64.5 150.5 66.6 153.3 64.1ZM157.4 66.3 154.7 68.9 157.4 70.2 160.2 67.6ZM205.7 93.5 202.9 96.0 205.7 98.1 208.4 95.6ZM212.6 97.8 209.8 100.4 212.6 101.7 215.3 99.1ZM118.3 62.0 115.6 64.0 118.3 66.5 121.1 64.5ZM157.4 85.0 154.6 87.2 157.4 88.2 160.1 86.0ZM173.5 93.5 170.7 95.6 173.4 98.1 176.2 96.0ZM212.5 116.6 209.8 118.8 212.5 119.8 215.3 117.6ZM111.4 66.2 108.6 67.5 111.4 70.1 114.1 68.8ZM205.6 120.9 202.9 122.4 205.6 123.4 208.4 121.9ZM111.3 84.9 108.6 85.9 111.3 88.1 114.1 87.1ZM173.4 120.9 170.6 122.0 173.4 123.4 176.1 122.4ZM63.0 93.2 60.2 95.3 63.0 97.8 65.7 95.7ZM157.2 148.4 154.5 150.6 157.2 151.6 160.0 149.4ZM56.1 97.5 53.3 98.8 56.1 101.4 58.8 100.1ZM95.1 120.8 92.4 122.2 95.1 123.3 97.9 121.8ZM111.2 129.4 108.5 130.7 111.2 133.3 114.0 131.9ZM150.3 152.7 147.6 154.2 150.3 155.3 153.1 153.8Z"/>
<path fill="#0eaeba" d="M166.7 53.5 163.9 54.5 166.7 56.7 169.4 55.7ZM173.6 57.8 170.8 58.8 173.5 60.2 176.3 59.2ZM221.8 84.9 219.0 85.9 221.8 88.1 224.5 87.1ZM228.7 89.2 225.9 90.2 228.7 91.7 231.4 90.6ZM134.4 60.2 131.7 62.8 134.4 65.5 137.2 62.8ZM214.8 107.0 212.1 109.9 214.8 110.6 217.6 107.8ZM150.5 89.3 147.7 90.7 150.4 91.7 153.2 90.3ZM166.5 97.8 163.8 99.1 166.5 101.7 169.3 100.3ZM118.2 89.2 115.5 90.2 118.2 91.7 121.0 90.7ZM166.5 116.6 163.8 117.6 166.5 119.8 169.2 118.8ZM95.2 93.3 92.5 95.8 95.2 97.9 98.0 95.4ZM102.1 97.6 99.4 100.2 102.1 101.5 104.8 99.0ZM150.4 125.1 147.6 127.6 150.4 129.7 153.1 127.2ZM157.3 129.4 154.5 132.0 157.3 133.4 160.0 130.8ZM102.1 116.4 99.3 118.7 102.1 119.6 104.8 117.4ZM118.2 125.0 115.4 127.1 118.1 129.6 120.9 127.6ZM53.7 104.0 51.0 104.8 53.7 107.6 56.5 106.9ZM138.8 154.2 136.1 155.2 138.8 156.1 141.6 155.1ZM53.7 106.7 51.0 107.5 53.7 110.3 56.5 109.6ZM134.2 154.3 131.5 155.2 134.2 156.1 137.0 155.2ZM53.7 109.4 51.0 110.1 53.7 112.8 56.5 112.1ZM129.6 154.2 126.9 155.1 129.6 156.1 132.4 155.2Z"/>
<path fill="#11afb8" d="M164.4 44.0 161.7 44.8 164.4 47.5 167.1 46.8ZM244.8 90.6 242.0 91.5 244.8 92.4 247.5 91.5ZM139.0 60.2 136.3 62.9 139.0 65.4 141.8 62.8ZM159.7 72.8 157.0 75.6 159.7 76.4 162.4 73.6ZM194.2 91.7 191.4 94.3 194.2 96.9 196.9 94.2ZM214.8 104.3 212.1 107.1 214.8 107.9 217.6 105.1ZM159.7 75.5 157.0 78.3 159.7 79.0 162.4 76.2ZM189.6 91.7 186.8 94.3 189.6 96.9 192.3 94.3ZM129.8 60.2 127.1 62.8 129.8 65.4 132.6 62.8ZM159.7 78.1 157.0 80.8 159.7 81.5 162.4 78.8ZM185.0 91.7 182.2 94.2 185.0 96.9 187.7 94.3ZM214.8 109.7 212.1 112.4 214.8 113.2 217.5 110.4ZM109.1 72.7 106.3 73.5 109.1 76.3 111.8 75.5ZM194.1 122.4 191.3 123.3 194.1 124.2 196.8 123.3ZM109.1 75.4 106.3 76.1 109.1 78.9 111.8 78.2ZM134.3 90.7 131.6 91.6 134.3 92.5 137.1 91.6ZM164.2 107.0 161.5 107.7 164.2 110.5 166.9 109.8ZM189.5 122.4 186.7 123.3 189.5 124.2 192.2 123.3ZM109.1 78.0 106.3 78.7 109.0 81.5 111.8 80.8ZM184.9 122.4 182.1 123.3 184.9 124.2 187.6 123.3ZM83.7 91.4 80.9 94.1 83.7 96.7 86.4 94.0ZM159.6 136.0 156.8 138.8 159.5 139.6 162.3 136.8ZM79.1 91.4 76.3 94.1 79.1 96.7 81.8 94.1ZM159.6 138.7 156.8 141.5 159.5 142.3 162.3 139.5ZM74.5 91.4 71.7 94.0 74.5 96.6 77.2 94.1ZM159.5 141.4 156.8 144.1 159.5 144.9 162.3 142.1ZM53.8 101.3 51.0 102.2 53.7 104.9 56.5 104.0ZM143.4 154.0 140.7 155.1 143.4 156.1 146.2 155.0ZM83.6 122.2 80.9 123.1 83.6 124.0 86.4 123.1ZM108.9 135.9 106.2 136.7 108.9 139.6 111.6 138.8ZM79.0 122.2 76.3 123.1 79.0 124.0 81.8 123.1ZM108.9 138.7 106.2 139.4 108.9 142.2 111.6 141.5ZM74.4 122.1 71.7 123.0 74.4 124.0 77.2 123.1ZM108.9 141.3 106.2 142.0 108.9 144.8 111.6 144.1ZM53.7 111.9 51.0 112.7 53.7 115.4 56.5 114.6ZM125.0 154.0 122.3 154.9 125.0 156.0 127.8 155.1Z"/>
<path fill="#14b0b5" d="M164.4 41.4 161.7 42.1 164.4 44.9 167.1 44.2ZM194.3 59.2 191.5 60.1 194.2 61.0 197.0 60.0ZM219.5 72.6 216.8 73.4 219.5 76.2 222.2 75.4ZM249.4 90.6 246.6 91.5 249.4 92.4 252.1 91.4ZM189.7 59.2 186.9 60.1 189.6 61.0 192.4 60.1ZM219.5 75.3 216.8 76.0 219.5 78.8 222.2 78.1ZM164.4 46.6 161.7 47.4 164.4 50.1 167.1 49.4ZM185.1 59.2 182.3 60.0 185.0 61.0 187.8 60.1ZM219.5 77.9 216.8 78.7 219.5 81.4 222.2 80.7ZM240.2 90.6 237.4 91.5 240.2 92.4 242.9 91.5ZM143.6 60.2 140.9 62.8 143.6 65.2 146.4 62.7ZM159.7 70.0 157.0 72.8 159.7 73.7 162.4 71.0ZM198.8 91.6 196.0 94.2 198.8 96.7 201.5 94.1ZM214.8 101.6 212.1 104.3 214.8 105.2 217.6 102.5ZM125.2 60.2 122.5 62.6 125.2 65.2 128.0 62.8ZM159.7 80.6 156.9 83.2 159.7 84.1 162.4 81.5ZM180.4 91.7 177.6 94.1 180.4 96.7 183.1 94.3ZM214.8 112.3 212.1 114.9 214.8 115.7 217.5 113.1ZM109.1 70.0 106.3 70.9 109.1 73.6 111.8 72.7ZM143.6 90.5 140.8 91.6 143.5 92.5 146.3 91.4ZM164.2 101.5 161.5 102.5 164.2 105.2 167.0 104.3ZM198.7 122.2 195.9 123.3 198.7 124.2 201.4 123.1ZM138.9 90.7 136.2 91.6 138.9 92.5 141.7 91.6ZM164.2 104.3 161.5 105.1 164.2 107.9 166.9 107.1ZM129.7 90.6 127.0 91.5 129.7 92.5 132.5 91.6ZM164.2 109.6 161.5 110.4 164.2 113.1 166.9 112.4ZM109.1 80.6 106.3 81.4 109.0 84.0 111.8 83.2ZM125.1 90.5 122.4 91.4 125.1 92.5 127.9 91.5ZM164.2 112.2 161.5 113.0 164.2 115.6 166.9 114.8ZM180.3 122.2 177.5 123.1 180.3 124.2 183.0 123.3ZM88.3 91.5 85.5 94.0 88.3 96.5 91.1 93.9ZM159.6 133.3 156.8 136.0 159.6 136.9 162.3 134.2ZM104.4 104.1 101.7 106.9 104.4 107.7 107.1 104.9ZM138.9 123.2 136.1 125.9 138.9 128.4 141.6 125.8ZM104.4 106.8 101.7 109.6 104.4 110.4 107.1 107.6ZM134.3 123.2 131.5 125.8 134.3 128.5 137.0 125.9ZM104.4 109.5 101.6 112.2 104.4 113.0 107.1 110.2ZM129.7 123.2 126.9 125.8 129.7 128.4 132.4 125.9ZM69.9 91.4 67.1 93.8 69.9 96.4 72.6 94.0ZM159.5 144.0 156.8 146.6 159.5 147.4 162.3 144.8ZM88.2 122.0 85.5 123.1 88.2 124.0 91.0 123.0ZM108.9 133.2 106.2 134.1 108.9 136.8 111.7 135.9ZM69.8 121.9 67.1 122.9 69.8 123.9 72.6 123.0ZM108.9 143.9 106.2 144.7 108.9 147.3 111.6 146.5Z"/>
<path fill="#18b1b3" d="M164.4 49.2 161.6 50.0 164.4 52.6 167.1 51.8ZM180.5 59.0 177.7 59.9 180.4 61.0 183.2 60.1ZM219.5 80.5 216.8 81.3 219.5 83.9 222.2 83.1ZM235.6 90.4 232.8 91.4 235.6 92.4 238.3 91.5ZM166.7 55.8 163.9 56.9 166.6 58.9 169.4 57.7ZM224.1 88.6 221.3 89.8 224.1 91.5 226.8 90.3ZM155.1 61.8 152.4 64.2 155.1 66.0 157.9 63.7ZM157.4 63.3 154.7 65.6 157.4 67.2 160.2 64.8ZM210.3 93.3 207.5 95.6 210.3 97.5 213.0 95.1ZM212.6 94.7 209.8 97.1 212.6 98.7 215.3 96.3ZM148.2 60.2 145.5 62.7 148.2 65.0 151.0 62.5ZM159.7 67.3 157.0 69.8 159.7 70.9 162.4 68.4ZM203.4 91.6 200.6 94.1 203.4 96.4 206.1 93.9ZM214.9 98.8 212.1 101.4 214.8 102.5 217.6 99.9ZM120.6 60.1 117.9 62.4 120.6 64.9 123.4 62.6ZM214.8 114.8 212.1 117.2 214.8 118.1 217.6 115.7ZM113.7 61.8 111.0 63.6 113.7 65.9 116.4 64.1ZM157.4 87.3 154.6 89.2 157.4 90.4 160.1 88.4ZM168.9 93.3 166.1 95.1 168.8 97.5 171.6 95.6ZM212.5 118.9 209.8 120.8 212.5 122.0 215.3 120.0ZM111.4 63.2 108.6 64.7 111.4 67.1 114.1 65.5ZM155.1 88.7 152.3 90.4 155.0 91.6 157.8 89.9ZM166.5 94.7 163.8 96.3 166.5 98.7 169.3 97.1ZM210.2 120.3 207.5 122.0 210.2 123.2 213.0 121.5ZM109.1 67.2 106.3 68.3 109.1 70.9 111.8 69.8ZM203.3 121.9 200.5 123.2 203.3 124.2 206.0 122.9ZM109.0 83.1 106.3 84.0 109.0 86.4 111.8 85.5ZM175.7 121.9 172.9 123.0 175.7 124.2 178.4 123.2ZM111.3 87.2 108.6 88.3 111.3 90.3 114.1 89.1ZM113.6 88.6 110.9 89.8 113.6 91.5 116.4 90.3ZM166.5 118.9 163.7 120.0 166.5 122.0 169.2 120.8ZM168.8 120.3 166.0 121.5 168.8 123.2 171.5 122.0ZM99.8 93.2 97.1 95.5 99.8 97.3 102.6 95.0ZM102.1 94.6 99.4 96.9 102.1 98.5 104.9 96.2ZM155.0 124.9 152.2 127.3 155.0 129.1 157.7 126.8ZM157.3 126.4 154.5 128.7 157.3 130.3 160.0 128.0ZM104.4 101.4 101.7 104.1 104.4 105.0 107.1 102.3ZM143.5 123.2 140.7 125.8 143.5 128.3 146.2 125.7ZM104.4 112.1 101.6 114.7 104.4 115.5 107.1 112.9ZM125.1 123.2 122.3 125.6 125.1 128.3 127.8 125.8ZM65.3 91.3 62.5 93.6 65.3 96.1 68.0 93.9ZM159.5 146.5 156.8 149.0 159.5 149.9 162.3 147.5ZM58.4 93.0 55.6 94.8 58.4 97.2 61.1 95.3ZM102.1 118.7 99.3 120.7 102.0 121.9 104.8 119.9ZM113.5 124.8 110.8 126.7 113.5 129.1 116.3 127.2ZM157.2 150.7 154.5 152.7 157.2 153.8 160.0 151.8ZM56.1 94.4 53.3 96.0 56.1 98.4 58.8 96.8ZM99.8 120.2 97.0 121.9 99.7 123.1 102.5 121.4ZM111.2 126.3 108.5 127.9 111.2 130.3 114.0 128.7ZM154.9 152.1 152.2 153.9 154.9 155.0 157.7 153.3ZM53.8 98.5 51.0 99.6 53.8 102.2 56.5 101.1ZM92.8 121.7 90.1 123.0 92.8 124.1 95.6 122.8ZM108.9 130.4 106.2 131.5 108.9 134.1 111.7 133.0ZM148.0 153.7 145.3 155.0 148.0 156.1 150.8 154.8Z"/>
<path fill="#1bb2b0" d="M164.4 51.7 161.6 52.6 164.4 55.0 167.1 54.1ZM175.9 58.7 173.1 59.8 175.8 61.0 178.6 60.0ZM219.5 83.0 216.8 84.0 219.5 86.4 222.2 85.4ZM231.0 90.1 228.2 91.2 231.0 92.4 233.7 91.4ZM169.0 57.2 166.2 58.4 168.9 60.1 171.7 58.9ZM221.8 87.2 219.0 88.3 221.8 90.3 224.5 89.1ZM159.7 83.2 156.9 85.6 159.7 86.5 162.4 84.1ZM175.8 91.7 173.0 93.9 175.8 96.4 178.5 94.1ZM148.2 90.2 145.4 91.5 148.1 92.5 150.9 91.3ZM164.2 98.8 161.5 99.9 164.2 102.4 167.0 101.3ZM120.5 90.2 117.8 91.2 120.5 92.5 123.3 91.4ZM164.2 114.7 161.5 115.7 164.2 118.1 166.9 117.2ZM92.9 91.5 90.2 94.0 92.9 96.2 95.7 93.8ZM104.4 98.6 101.7 101.2 104.4 102.3 107.1 99.7ZM148.1 123.2 145.3 125.7 148.1 128.0 150.8 125.5ZM159.6 130.4 156.8 133.0 159.6 134.2 162.3 131.6ZM104.4 114.6 101.6 117.0 104.4 118.0 107.1 115.5ZM120.5 123.2 117.7 125.5 120.5 128.0 123.2 125.7Z"/>
<path fill="#1fb3ad" d="M152.8 60.2 150.1 62.5 152.8 64.6 155.6 62.3ZM159.7 64.4 157.0 66.8 159.7 68.2 162.5 65.8ZM208.0 91.6 205.2 94.0 208.0 96.0 210.7 93.7ZM214.9 95.9 212.1 98.3 214.9 99.7 217.6 97.3ZM116.0 60.1 113.3 62.2 116.0 64.5 118.8 62.5ZM159.7 85.6 156.9 87.8 159.7 88.9 162.4 86.8ZM171.2 91.7 168.4 93.7 171.1 96.1 173.9 94.0ZM214.8 117.2 212.1 119.4 214.8 120.6 217.6 118.4ZM109.1 64.3 106.3 65.7 109.1 68.1 111.8 66.8ZM152.8 89.9 150.0 91.3 152.7 92.5 155.5 91.1ZM164.2 95.9 161.5 97.3 164.2 99.7 167.0 98.3ZM207.9 121.5 205.1 123.0 207.9 124.2 210.7 122.7ZM109.0 85.5 106.3 86.7 109.0 88.8 111.8 87.7ZM115.9 89.8 113.2 91.0 115.9 92.5 118.7 91.3ZM164.2 117.2 161.4 118.4 164.2 120.6 166.9 119.4ZM171.1 121.5 168.3 122.8 171.1 124.2 173.8 123.0ZM97.5 91.5 94.8 93.8 97.5 95.9 100.3 93.6ZM159.6 127.6 156.8 130.0 159.6 131.3 162.3 129.0ZM60.7 91.3 57.9 93.4 60.7 95.7 63.4 93.7ZM159.5 149.0 156.8 151.2 159.5 152.4 162.3 150.2ZM53.8 95.6 51.0 96.9 53.8 99.4 56.5 98.0ZM97.4 121.4 94.7 122.8 97.4 124.1 100.2 122.6ZM108.9 127.5 106.2 128.9 108.9 131.3 111.7 129.9ZM152.6 153.4 149.9 154.8 152.6 156.0 155.4 154.6Z"/>
<path fill="#23b4ab" d="M164.4 54.1 161.6 55.3 164.3 57.5 167.1 56.3ZM171.2 58.4 168.5 59.6 171.2 61.0 174.0 59.8ZM219.5 85.5 216.7 86.7 219.5 88.9 222.2 87.7ZM226.4 89.8 223.6 91.0 226.4 92.5 229.1 91.2ZM104.4 95.8 101.7 98.2 104.4 99.5 107.1 97.1ZM152.7 123.3 149.9 125.6 152.7 127.7 155.4 125.4ZM104.4 117.1 101.6 119.3 104.4 120.4 107.1 118.2ZM115.9 123.2 113.1 125.3 115.8 127.6 118.6 125.5Z"/>
<path fill="#27b6a8" d="M157.4 60.2 154.7 62.3 157.4 64.2 160.2 62.0ZM159.7 61.6 157.0 63.7 159.7 65.3 162.5 63.2ZM212.6 91.6 209.8 93.8 212.6 95.6 215.3 93.5ZM214.9 93.0 212.1 95.2 214.9 96.8 217.6 94.7ZM111.4 60.1 108.7 61.9 111.4 64.1 114.2 62.2ZM159.7 88.0 156.9 90.0 159.7 91.3 162.4 89.4ZM166.6 91.6 163.8 93.5 166.5 95.6 169.3 93.8ZM214.8 119.7 212.1 121.6 214.8 123.0 217.6 121.0ZM109.1 61.5 106.3 63.1 109.1 65.2 111.8 63.7ZM157.4 89.5 154.6 91.1 157.3 92.5 160.1 90.9ZM164.2 93.1 161.5 94.7 164.2 96.8 167.0 95.2ZM212.5 121.1 209.8 122.8 212.5 124.2 215.3 122.5ZM109.0 87.9 106.3 89.3 109.0 91.2 111.8 89.9ZM111.3 89.4 108.6 90.8 111.3 92.4 114.1 91.0ZM164.2 119.7 161.4 121.0 164.2 123.0 166.9 121.6ZM166.5 121.1 163.7 122.5 166.5 124.2 169.2 122.8ZM102.1 91.5 99.4 93.6 102.1 95.5 104.9 93.4ZM104.4 92.9 101.7 95.1 104.4 96.7 107.2 94.6ZM157.3 123.3 154.5 125.4 157.3 127.3 160.0 125.1ZM159.6 124.7 156.8 126.9 159.6 128.5 162.3 126.3ZM56.1 91.3 53.3 93.1 56.1 95.3 58.8 93.4ZM104.4 119.5 101.6 121.5 104.3 122.9 107.1 120.9ZM111.3 123.2 108.5 125.0 111.2 127.2 114.0 125.3ZM159.5 151.5 156.8 153.4 159.5 154.8 162.3 152.8ZM53.8 92.7 51.0 94.3 53.8 96.5 56.5 94.9ZM102.1 121.0 99.3 122.6 102.0 124.1 104.8 122.4ZM108.9 124.6 106.2 126.2 108.9 128.4 111.7 126.8ZM157.2 152.9 154.5 154.6 157.2 156.0 160.0 154.3Z"/>
<path fill="#2cb7a5" d="M164.3 56.6 161.6 57.9 164.3 59.9 167.1 58.5ZM166.6 58.0 163.9 59.4 166.6 61.0 169.4 59.6ZM219.5 88.0 216.7 89.4 219.5 91.3 222.2 89.9ZM221.8 89.4 219.0 90.8 221.8 92.5 224.5 91.1ZM104.5 56.4 101.8 58.3 104.5 59.7 107.3 57.8ZM221.7 123.2 218.9 125.1 221.7 127.2 224.4 125.3ZM102.2 57.8 99.5 59.5 102.2 60.9 105.0 59.3ZM219.4 124.7 216.6 126.3 219.4 128.4 222.1 126.8ZM49.2 87.6 46.4 89.5 49.2 90.9 51.9 89.0ZM166.4 155.1 163.7 156.9 166.4 159.1 169.2 157.2ZM46.9 89.0 44.1 90.7 46.9 92.1 49.6 90.5ZM164.1 156.5 161.4 158.2 164.1 160.3 166.9 158.7ZM51.4 104.5 48.7 105.2 51.4 108.1 54.2 107.4ZM136.5 154.7 133.8 155.6 136.5 156.5 139.3 155.6ZM51.4 107.2 48.7 107.9 51.4 110.7 54.2 110.0ZM131.9 154.7 129.2 155.6 131.9 156.5 134.7 155.6Z"/>
<path fill="#30b7a2" d="M159.7 58.7 157.0 60.6 159.7 62.5 162.5 60.6ZM162.0 60.2 159.3 62.1 162.0 63.7 164.8 61.8ZM214.9 90.2 212.1 92.1 214.9 93.9 217.6 92.0ZM217.2 91.6 214.4 93.5 217.2 95.1 219.9 93.2ZM155.1 58.5 152.4 60.6 155.1 62.7 157.9 60.6ZM162.0 62.8 159.3 65.0 162.0 66.3 164.8 64.1ZM210.3 90.0 207.5 92.1 210.3 94.2 213.0 92.1ZM217.2 94.2 214.4 96.4 217.2 97.8 219.9 95.6ZM150.5 58.4 147.8 60.7 150.5 62.9 153.3 60.6ZM162.0 65.4 159.3 67.8 162.0 68.9 164.8 66.5ZM205.7 89.8 202.9 92.1 205.7 94.4 208.4 92.1ZM217.2 96.9 214.4 99.3 217.2 100.5 219.9 98.0ZM145.9 58.2 143.2 60.7 145.9 63.1 148.7 60.7ZM162.0 68.0 159.3 70.6 162.0 71.6 164.7 69.0ZM201.1 89.6 198.3 92.1 201.1 94.6 203.8 92.1ZM217.2 99.6 214.4 102.2 217.1 103.1 219.9 100.5ZM141.3 58.1 138.6 60.7 141.3 63.2 144.1 60.7ZM162.0 70.7 159.3 73.4 162.0 74.2 164.7 71.4ZM196.5 89.5 193.7 92.1 196.5 94.7 199.2 92.1ZM217.1 102.2 214.4 104.9 217.1 105.7 219.9 103.0ZM136.7 58.0 134.0 60.7 136.7 63.3 139.5 60.7ZM162.0 73.3 159.3 76.1 162.0 76.8 164.7 74.0ZM191.9 89.5 189.1 92.1 191.9 94.7 194.6 92.1ZM217.1 104.8 214.4 107.7 217.1 108.4 219.9 105.6ZM132.1 58.0 129.4 60.6 132.1 63.3 134.9 60.7ZM162.0 75.9 159.3 78.7 162.0 79.4 164.7 76.6ZM187.3 89.5 184.5 92.1 187.3 94.7 190.0 92.1ZM217.1 107.5 214.4 110.3 217.1 111.0 219.9 108.2ZM127.5 58.1 124.8 60.6 127.5 63.2 130.3 60.6ZM162.0 78.5 159.3 81.2 162.0 82.0 164.7 79.3ZM182.7 89.5 179.9 92.1 182.7 94.7 185.4 92.1ZM217.1 110.1 214.4 112.9 217.1 113.6 219.8 110.9ZM122.9 58.1 120.2 60.6 122.9 63.1 125.7 60.6ZM162.0 81.1 159.2 83.7 162.0 84.7 164.7 82.1ZM178.1 89.6 175.3 92.1 178.1 94.6 180.8 92.1ZM217.1 112.7 214.4 115.4 217.1 116.3 219.8 113.7ZM118.3 58.3 115.6 60.6 118.3 62.9 121.1 60.6ZM162.0 83.8 159.2 86.2 162.0 87.3 164.7 84.9ZM173.5 89.8 170.7 92.1 173.5 94.4 176.2 92.1ZM217.1 115.4 214.4 117.8 217.1 118.9 219.9 116.5ZM113.7 58.4 111.0 60.5 113.7 62.7 116.5 60.6ZM162.0 86.4 159.2 88.6 162.0 89.9 164.7 87.8ZM168.9 90.0 166.1 92.1 168.9 94.2 171.6 92.1ZM217.1 118.0 214.4 120.2 217.1 121.5 219.9 119.3ZM109.1 58.6 106.4 60.5 109.1 62.4 111.9 60.5ZM162.0 89.0 159.2 90.9 161.9 92.5 164.7 90.6ZM164.3 90.2 161.5 92.1 164.2 94.0 167.0 92.1ZM217.1 120.6 214.4 122.5 217.1 124.1 219.9 122.2ZM106.8 60.0 104.0 61.7 106.8 63.6 109.5 62.0ZM214.8 122.1 212.0 123.7 214.8 125.3 217.5 123.7ZM106.8 62.7 104.0 64.0 106.8 66.2 109.5 64.9ZM210.2 122.3 207.4 123.7 210.2 125.1 212.9 123.7ZM106.8 65.3 104.0 66.4 106.8 68.8 109.5 67.7ZM205.6 122.5 202.8 123.8 205.6 125.0 208.3 123.7ZM106.8 67.9 104.0 68.9 106.8 71.5 109.5 70.5ZM201.0 122.7 198.2 123.8 201.0 124.8 203.7 123.8ZM106.8 70.6 104.0 71.3 106.8 74.1 109.5 73.3ZM196.4 122.8 193.6 123.8 196.4 124.7 199.1 123.8ZM106.8 73.2 104.0 73.9 106.8 76.7 109.5 76.0ZM191.8 122.9 189.0 123.8 191.8 124.7 194.5 123.8ZM106.8 75.8 104.0 76.5 106.8 79.3 109.5 78.6ZM187.2 122.9 184.4 123.8 187.2 124.7 189.9 123.8ZM106.8 78.4 104.0 79.2 106.7 82.0 109.5 81.2ZM182.6 122.8 179.8 123.8 182.6 124.7 185.3 123.8ZM106.7 81.1 104.0 82.0 106.7 84.6 109.5 83.7ZM178.0 122.7 175.2 123.8 178.0 124.9 180.7 123.8ZM106.7 83.7 104.0 84.8 106.7 87.2 109.5 86.1ZM173.4 122.5 170.6 123.8 173.4 125.0 176.1 123.8ZM106.7 86.3 104.0 87.6 106.7 89.8 109.5 88.5ZM168.8 122.3 166.0 123.7 168.8 125.2 171.5 123.8ZM106.7 88.9 104.0 90.5 106.7 92.4 109.5 90.8ZM164.2 122.1 161.4 123.7 164.2 125.4 166.9 123.8ZM104.4 90.1 101.7 92.0 104.4 93.8 107.2 92.0ZM161.9 123.3 159.1 125.2 161.9 126.8 164.6 124.9ZM99.8 89.9 97.1 91.9 99.8 94.1 102.6 92.0ZM161.9 125.9 159.1 128.1 161.9 129.5 164.6 127.3ZM95.2 89.6 92.5 91.9 95.2 94.2 98.0 92.0ZM161.9 128.6 159.1 131.0 161.9 132.1 164.6 129.7ZM90.6 89.5 87.9 91.9 90.6 94.4 93.4 91.9ZM161.9 131.2 159.1 133.8 161.9 134.8 164.6 132.2ZM86.0 89.3 83.3 91.9 86.0 94.5 88.8 91.9ZM161.9 133.9 159.1 136.6 161.9 137.4 164.6 134.7ZM81.4 89.2 78.6 91.9 81.4 94.5 84.2 91.9ZM161.9 136.5 159.1 139.3 161.8 140.1 164.6 137.3ZM76.8 89.2 74.0 91.8 76.8 94.5 79.5 91.9ZM161.8 139.2 159.1 142.0 161.8 142.7 164.6 139.9ZM72.2 89.3 69.4 91.8 72.2 94.4 74.9 91.9ZM161.8 141.8 159.1 144.6 161.8 145.4 164.6 142.6ZM67.6 89.3 64.8 91.8 67.6 94.3 70.3 91.8ZM161.8 144.5 159.1 147.1 161.8 148.0 164.6 145.4ZM63.0 89.5 60.2 91.8 63.0 94.1 65.7 91.8ZM161.8 147.1 159.1 149.6 161.8 150.7 164.6 148.3ZM58.4 89.6 55.6 91.7 58.4 93.9 61.1 91.8ZM161.8 149.8 159.1 152.0 161.8 153.3 164.6 151.1ZM53.8 89.8 51.0 91.7 53.8 93.6 56.5 91.7ZM161.8 152.4 159.1 154.4 161.8 156.0 164.6 154.1ZM51.5 91.3 48.7 92.9 51.5 94.8 54.2 93.2ZM104.3 122.0 101.6 123.6 104.3 125.3 107.1 123.6ZM106.6 123.2 103.9 124.8 106.6 126.7 109.4 125.1ZM159.5 153.9 156.8 155.6 159.5 157.2 162.3 155.5ZM51.5 93.9 48.7 95.3 51.5 97.5 54.2 96.1ZM99.7 122.2 97.0 123.6 99.7 125.1 102.5 123.6ZM106.6 125.8 103.9 127.2 106.6 129.4 109.4 128.0ZM154.9 154.1 152.2 155.6 154.9 157.0 157.7 155.6ZM51.5 96.6 48.7 97.7 51.5 100.1 54.2 99.0ZM95.1 122.4 92.4 123.6 95.1 124.8 97.9 123.6ZM106.6 128.5 103.9 129.6 106.6 132.0 109.4 130.9ZM150.3 154.4 147.6 155.6 150.3 156.8 153.1 155.6ZM51.5 99.2 48.7 100.2 51.4 102.8 54.2 101.9ZM90.5 122.5 87.8 123.6 90.5 124.7 93.3 123.6ZM106.6 131.1 103.9 132.1 106.6 134.7 109.4 133.8ZM145.7 154.5 143.0 155.6 145.7 156.7 148.5 155.6ZM51.4 101.9 48.7 102.7 51.4 105.4 54.2 104.6ZM85.9 122.6 83.2 123.6 85.9 124.5 88.7 123.6ZM106.6 133.8 103.9 134.6 106.6 137.4 109.3 136.5ZM141.1 154.7 138.4 155.6 141.1 156.6 143.9 155.6ZM81.3 122.7 78.6 123.5 81.3 124.5 84.1 123.6ZM106.6 136.5 103.9 137.2 106.6 140.0 109.3 139.3ZM76.7 122.6 74.0 123.5 76.7 124.4 79.5 123.6ZM106.6 139.1 103.9 139.8 106.6 142.7 109.3 141.9ZM51.4 109.8 48.7 110.6 51.4 113.3 54.2 112.6ZM72.1 122.6 69.4 123.5 72.1 124.5 74.9 123.5ZM106.6 141.8 103.9 142.5 106.6 145.3 109.3 144.5ZM127.3 154.6 124.5 155.6 127.3 156.6 130.1 155.6Z"/>
<path fill="#35b89f" d="M162.1 39.2 159.4 40.0 162.1 42.8 164.8 42.0ZM196.6 59.6 193.8 60.5 196.5 61.5 199.3 60.5ZM217.2 70.5 214.5 71.3 217.2 74.0 219.9 73.2ZM251.7 91.0 248.9 91.9 251.7 92.9 254.4 91.9ZM162.1 41.9 159.4 42.6 162.1 45.4 164.8 44.7ZM192.0 59.6 189.2 60.5 191.9 61.4 194.7 60.5ZM217.2 73.1 214.5 73.9 217.2 76.7 219.9 75.9ZM247.1 91.1 244.3 91.9 247.1 92.8 249.8 91.9ZM162.1 44.5 159.4 45.2 162.1 48.0 164.8 47.3ZM187.4 59.6 184.6 60.5 187.3 61.4 190.1 60.5ZM217.2 75.8 214.5 76.5 217.2 79.3 219.9 78.5ZM242.5 91.1 239.7 92.0 242.5 92.8 245.2 91.9ZM162.1 47.1 159.3 47.9 162.1 50.6 164.8 49.8ZM182.8 59.6 180.0 60.5 182.7 61.5 185.5 60.5ZM217.2 78.4 214.5 79.2 217.2 81.9 219.9 81.1ZM237.9 91.0 235.1 92.0 237.9 92.9 240.6 92.0ZM162.1 49.7 159.3 50.6 162.1 53.2 164.8 52.3ZM178.1 59.5 175.4 60.6 178.1 61.6 180.9 60.5ZM217.2 81.0 214.5 82.0 217.2 84.6 219.9 83.6ZM233.3 90.9 230.5 92.0 233.3 93.1 236.0 92.0ZM162.1 52.3 159.3 53.4 162.0 55.8 164.8 54.7ZM173.5 59.3 170.8 60.6 173.5 61.8 176.3 60.6ZM217.2 83.7 214.4 84.8 217.2 87.2 219.9 86.1ZM228.7 90.8 225.9 92.0 228.7 93.2 231.4 92.0ZM162.1 54.9 159.3 56.3 162.0 58.4 164.8 57.1ZM168.9 59.2 166.2 60.6 168.9 62.0 171.7 60.6ZM217.2 86.3 214.4 87.7 217.2 89.8 219.9 88.5ZM224.1 90.6 221.3 92.0 224.1 93.5 226.8 92.0ZM162.0 57.5 159.3 59.2 162.0 61.1 164.8 59.4ZM164.3 59.0 161.6 60.6 164.3 62.2 167.1 60.6ZM217.2 88.9 214.4 90.6 217.2 92.5 219.9 90.8ZM219.5 90.4 216.7 92.0 219.5 93.7 222.2 92.0ZM106.8 54.8 104.1 56.9 106.8 58.3 109.6 56.2ZM224.0 121.6 221.3 123.7 224.0 125.8 226.8 123.6ZM106.8 57.4 104.1 59.3 106.8 60.9 109.6 59.1ZM219.4 121.8 216.6 123.7 219.4 125.6 222.2 123.7ZM104.5 58.8 101.7 60.5 104.5 62.1 107.3 60.5ZM159.7 90.4 156.9 92.1 159.6 93.7 162.4 92.1ZM162.0 91.6 159.2 93.3 161.9 95.2 164.7 93.5ZM217.1 123.2 214.3 124.9 217.1 126.8 219.8 125.1ZM99.9 59.0 97.1 60.4 99.9 61.9 102.6 60.5ZM155.1 90.7 152.3 92.1 155.0 93.5 157.8 92.1ZM161.9 94.3 159.2 95.6 161.9 97.8 164.7 96.4ZM217.1 125.9 214.3 127.2 217.1 129.4 219.8 128.0ZM150.5 90.8 147.7 92.1 150.4 93.3 153.2 92.1ZM161.9 96.9 159.2 98.0 161.9 100.4 164.7 99.3ZM145.8 91.0 143.1 92.1 145.8 93.1 148.6 92.1ZM161.9 99.5 159.2 100.5 161.9 103.1 164.7 102.1ZM141.2 91.1 138.5 92.0 141.2 93.0 144.0 92.1ZM161.9 102.2 159.2 103.0 161.9 105.7 164.6 104.9ZM136.6 91.2 133.9 92.0 136.6 92.9 139.4 92.0ZM161.9 104.8 159.2 105.5 161.9 108.3 164.6 107.6ZM132.0 91.1 129.3 92.0 132.0 92.9 134.8 92.0ZM161.9 107.4 159.2 108.2 161.9 111.0 164.6 110.2ZM127.4 91.1 124.7 92.0 127.4 93.0 130.2 92.0ZM161.9 110.1 159.2 110.9 161.9 113.6 164.6 112.8ZM122.8 91.0 120.1 92.0 122.8 93.1 125.6 92.0ZM161.9 112.7 159.2 113.6 161.9 116.2 164.6 115.3ZM118.2 90.8 115.5 92.0 118.2 93.2 121.0 92.0ZM161.9 115.3 159.2 116.5 161.9 118.9 164.6 117.8ZM113.6 90.6 110.9 92.0 113.6 93.4 116.4 92.0ZM161.9 118.0 159.1 119.4 161.9 121.5 164.6 120.2ZM109.0 90.3 106.3 92.0 109.0 93.6 111.8 92.0ZM161.9 120.6 159.1 122.3 161.9 124.2 164.6 122.6ZM106.7 91.5 104.0 93.4 106.7 95.0 109.5 93.2ZM159.6 121.8 156.8 123.7 159.6 125.6 162.3 123.7ZM106.7 94.1 104.0 96.3 106.7 97.7 109.5 95.5ZM155.0 121.6 152.2 123.7 155.0 125.8 157.7 123.7ZM106.7 96.8 104.0 99.2 106.7 100.3 109.4 97.9ZM150.4 121.4 147.6 123.7 150.4 126.0 153.1 123.7ZM106.7 99.4 104.0 102.0 106.7 102.9 109.4 100.3ZM145.8 121.2 143.0 123.7 145.8 126.2 148.5 123.7ZM106.7 102.0 104.0 104.7 106.7 105.5 109.4 102.8ZM141.2 121.1 138.4 123.7 141.2 126.3 143.9 123.7ZM106.7 104.6 104.0 107.4 106.7 108.2 109.4 105.4ZM136.6 121.0 133.8 123.6 136.6 126.3 139.3 123.7ZM106.7 107.3 104.0 110.1 106.7 110.8 109.4 108.0ZM132.0 121.0 129.2 123.6 132.0 126.3 134.7 123.7ZM106.7 109.9 103.9 112.7 106.7 113.5 109.4 110.7ZM127.4 121.0 124.6 123.6 127.4 126.2 130.1 123.6ZM106.7 112.6 103.9 115.2 106.7 116.1 109.4 113.5ZM122.8 121.2 120.0 123.6 122.8 126.1 125.5 123.6ZM106.7 115.2 103.9 117.6 106.7 118.8 109.4 116.3ZM118.2 121.3 115.4 123.6 118.2 125.9 120.9 123.6ZM51.5 85.9 48.7 88.1 51.5 89.5 54.2 87.3ZM106.7 117.9 103.9 120.0 106.7 121.4 109.4 119.2ZM113.6 121.5 110.8 123.6 113.5 125.7 116.3 123.6ZM168.7 153.4 166.0 155.5 168.7 157.6 171.5 155.5ZM51.5 88.6 48.7 90.5 51.5 92.2 54.2 90.3ZM106.7 120.5 103.9 122.4 106.6 124.1 109.4 122.2ZM109.0 121.7 106.2 123.6 108.9 125.5 111.7 123.6ZM164.1 153.6 161.4 155.5 164.1 157.4 166.9 155.5ZM49.2 90.0 46.4 91.7 49.2 93.3 51.9 91.7ZM161.8 155.1 159.1 156.7 161.8 158.6 164.6 157.0ZM44.6 90.2 41.8 91.6 44.6 93.1 47.3 91.7ZM161.8 157.7 159.1 159.1 161.8 161.3 164.6 159.9Z"/>
<path fill="#3ab99c" d="M157.4 57.1 154.7 59.0 157.4 61.1 160.2 59.2ZM219.5 92.8 216.7 94.7 219.5 96.1 222.2 94.2ZM111.4 57.0 108.7 59.1 111.4 61.0 114.2 58.9ZM219.4 119.0 216.7 121.1 219.4 122.7 222.2 120.5ZM104.4 87.3 101.7 88.8 104.4 91.0 107.2 89.4ZM166.5 123.3 163.7 125.0 166.5 126.4 169.2 124.7ZM49.2 92.4 46.4 93.8 49.2 95.8 51.9 94.4ZM102.0 123.2 99.3 124.6 102.0 126.3 104.8 124.9ZM104.3 124.4 101.6 125.8 104.3 127.7 107.1 126.3ZM157.2 155.1 154.5 156.5 157.2 158.2 160.0 156.8Z"/>
<path fill="#3fba99" d="M159.7 55.9 157.0 57.5 159.7 59.6 162.5 58.0ZM166.6 60.1 163.9 61.8 166.6 63.2 169.4 61.5ZM214.9 87.3 212.1 88.9 214.9 91.1 217.6 89.4ZM221.8 91.6 219.0 93.3 221.8 94.7 224.5 93.0ZM164.3 61.3 161.6 63.3 164.3 64.6 167.1 62.7ZM212.6 88.5 209.8 90.4 212.6 92.5 215.3 90.6ZM109.1 55.8 106.4 57.9 109.1 59.5 111.9 57.4ZM164.3 87.4 161.5 89.5 164.3 91.1 167.0 89.0ZM166.6 88.6 163.8 90.7 166.6 92.5 169.3 90.4ZM221.7 120.1 219.0 122.3 221.7 124.1 224.5 122.0ZM102.2 60.0 99.4 61.4 102.2 63.1 104.9 61.7ZM104.5 61.2 101.7 62.6 104.5 64.5 107.2 63.2ZM157.4 91.6 154.6 93.0 157.3 94.7 160.1 93.3ZM159.6 92.8 156.9 94.2 159.6 96.1 162.4 94.8ZM212.5 123.3 209.7 124.7 212.5 126.3 215.2 124.9ZM214.8 124.4 212.0 125.8 214.8 127.7 217.5 126.4ZM111.3 91.5 108.6 93.2 111.3 94.6 114.1 92.9ZM159.6 119.0 156.8 120.6 159.6 122.7 162.3 121.1ZM102.1 88.4 99.4 90.3 102.1 92.4 104.9 90.6ZM109.0 92.7 106.3 94.6 109.0 96.0 111.8 94.1ZM157.3 120.2 154.5 122.0 157.3 124.2 160.0 122.3ZM164.2 124.5 161.4 126.4 164.2 127.8 166.9 125.9ZM53.8 86.9 51.0 89.1 53.8 90.7 56.5 88.6ZM56.1 88.2 53.3 90.3 56.1 92.2 58.8 90.1ZM109.0 118.9 106.2 121.0 109.0 122.6 111.7 120.5ZM111.3 120.1 108.5 122.2 111.2 124.1 114.0 121.9ZM164.1 150.8 161.4 152.9 164.1 154.5 166.9 152.4ZM166.4 152.0 163.7 154.1 166.4 156.0 169.2 153.8ZM46.9 91.2 44.1 92.6 46.9 94.3 49.6 92.9ZM159.5 156.3 156.8 157.7 159.5 159.6 162.3 158.2Z"/>
<path fill="#45bb96" d="M152.8 56.7 150.1 58.8 152.8 61.1 155.6 59.0ZM219.5 95.2 216.7 97.4 219.5 98.6 222.2 96.4ZM116.0 56.6 113.3 58.9 116.0 61.0 118.8 58.7ZM219.4 116.1 216.7 118.5 219.4 119.9 222.2 117.5ZM104.5 63.6 101.7 64.8 104.5 67.0 107.2 65.8ZM207.9 123.3 205.1 124.5 207.9 125.9 210.6 124.7ZM104.4 84.4 101.7 85.8 104.4 88.2 107.2 86.8ZM171.1 123.3 168.3 124.8 171.1 126.0 173.8 124.5ZM97.5 88.0 94.8 90.1 97.5 92.4 100.3 90.3ZM164.2 126.9 161.4 129.1 164.2 130.3 166.9 128.1ZM49.2 94.9 46.4 96.0 49.2 98.2 51.9 97.1ZM97.4 123.2 94.7 124.4 97.4 125.8 100.2 124.6ZM104.3 126.8 101.6 128.0 104.3 130.2 107.1 129.0ZM152.6 155.1 149.9 156.4 152.6 157.8 155.4 156.6Z"/>
<path fill="#4abc93" d="M159.8 53.1 157.0 54.4 159.7 56.8 162.5 55.5ZM171.2 60.1 168.5 61.6 171.2 62.8 174.0 61.3ZM214.9 84.4 212.1 85.8 214.9 88.2 217.6 86.8ZM226.4 91.6 223.6 93.0 226.4 94.2 229.1 92.8ZM164.3 63.7 161.6 65.9 164.3 67.1 167.1 64.9ZM208.0 88.1 205.2 90.2 208.0 92.5 210.7 90.4ZM109.1 53.0 106.4 55.3 109.1 56.7 111.9 54.3ZM164.3 84.5 161.5 86.9 164.3 88.3 167.0 85.9ZM171.2 88.2 168.4 90.5 171.2 92.6 173.9 90.2ZM226.3 119.7 223.6 122.0 226.3 124.1 229.1 121.8ZM97.6 60.0 94.8 61.2 97.6 62.6 100.3 61.4ZM152.7 91.6 150.0 92.8 152.7 94.3 155.5 93.1ZM159.6 95.2 156.9 96.4 159.6 98.6 162.4 97.4ZM214.8 126.8 212.0 128.0 214.8 130.2 217.5 129.0ZM115.9 91.6 113.2 93.0 115.9 94.2 118.7 92.8ZM159.6 116.1 156.8 117.5 159.6 119.9 162.3 118.5ZM109.0 95.1 106.3 97.3 109.0 98.4 111.8 96.3ZM152.7 119.7 149.9 121.8 152.7 124.2 155.4 122.1ZM53.8 84.1 51.0 86.5 53.8 87.8 56.5 85.5ZM60.7 87.8 57.9 90.1 60.7 92.2 63.4 89.9ZM109.0 116.0 106.2 118.4 109.0 119.8 111.7 117.4ZM115.9 119.6 113.1 122.0 115.9 124.1 118.6 121.7ZM164.1 147.9 161.4 150.3 164.1 151.7 166.9 149.3ZM171.0 151.5 168.3 153.9 171.0 155.9 173.8 153.6ZM42.3 91.2 39.5 92.4 42.3 93.9 45.0 92.7ZM159.5 158.7 156.8 159.9 159.5 162.1 162.3 160.9Z"/>
<path fill="#50bc90" d="M159.8 50.3 157.0 51.4 159.8 54.0 162.5 52.9ZM231.0 91.5 228.2 92.8 231.0 93.9 233.7 92.6ZM148.2 56.3 145.5 58.6 148.2 61.1 151.0 58.8ZM164.3 66.2 161.6 68.6 164.3 69.5 167.0 67.1ZM203.4 87.8 200.6 90.1 203.4 92.5 206.1 90.2ZM219.5 97.7 216.7 100.1 219.4 101.1 222.2 98.6ZM120.6 56.3 117.9 58.7 120.6 61.0 123.4 58.6ZM164.3 81.8 161.5 84.3 164.3 85.4 167.0 82.9ZM175.8 87.8 173.0 90.3 175.8 92.6 178.5 90.1ZM219.4 113.3 216.7 115.9 219.4 117.0 222.2 114.4ZM104.5 66.1 101.7 67.0 104.5 69.4 107.2 68.5ZM148.1 91.6 145.4 92.7 148.1 93.9 150.9 92.9ZM159.6 97.7 156.9 98.6 159.6 101.0 162.4 100.1ZM203.3 123.3 200.5 124.4 203.3 125.6 206.0 124.5ZM104.4 81.7 101.7 82.8 104.4 85.3 107.2 84.2ZM120.5 91.6 117.8 92.8 120.5 93.8 123.3 92.6ZM159.6 113.3 156.9 114.4 159.6 117.0 162.3 115.9ZM175.7 123.3 172.9 124.6 175.7 125.6 178.4 124.4ZM92.9 87.6 90.2 89.9 92.9 92.4 95.7 90.1ZM164.2 129.4 161.4 131.8 164.2 132.8 166.9 130.3ZM65.3 87.5 62.5 89.9 65.3 92.2 68.0 89.8ZM164.1 145.1 161.4 147.7 164.1 148.8 166.9 146.2ZM46.9 93.4 44.1 94.6 46.9 96.6 49.6 95.4ZM99.7 124.2 97.0 125.3 99.7 127.1 102.5 125.9ZM102.0 125.4 99.3 126.5 102.0 128.5 104.8 127.3ZM154.9 156.1 152.2 157.3 154.9 159.0 157.7 157.8ZM49.2 97.3 46.4 98.3 49.1 100.7 51.9 99.8ZM92.8 123.2 90.1 124.2 92.8 125.5 95.6 124.4ZM104.3 129.3 101.6 130.2 104.3 132.7 107.1 131.7ZM148.0 155.2 145.3 156.2 148.0 157.5 150.8 156.4Z"/>
<path fill="#56bd8d" d="M175.8 60.1 173.1 61.4 175.8 62.4 178.6 61.1ZM214.9 81.6 212.2 82.8 214.9 85.3 217.6 84.2ZM157.4 54.1 154.7 55.7 157.4 58.0 160.2 56.4ZM168.9 61.1 166.2 62.8 168.9 64.0 171.7 62.3ZM212.6 85.4 209.8 87.0 212.6 89.4 215.3 87.8ZM224.1 92.6 221.3 94.3 224.1 95.5 226.8 93.7ZM155.1 55.3 152.4 57.1 155.1 59.4 157.9 57.6ZM166.6 62.3 163.9 64.3 166.6 65.4 169.4 63.5ZM210.3 86.7 207.5 88.5 210.3 90.9 213.0 89.0ZM221.8 93.8 219.0 95.7 221.8 96.9 224.5 94.9ZM143.6 56.1 140.9 58.5 143.6 61.1 146.4 58.7ZM219.5 100.2 216.7 102.8 219.4 103.6 222.2 101.0ZM125.2 56.0 122.5 58.6 125.2 61.1 128.0 58.5ZM219.4 110.6 216.7 113.3 219.4 114.2 222.2 111.5ZM111.4 54.0 108.7 56.3 111.4 57.9 114.2 55.6ZM113.7 55.2 111.0 57.5 113.7 59.3 116.5 57.0ZM166.6 85.5 163.8 87.9 166.6 89.5 169.3 87.1ZM168.9 86.7 166.1 89.1 168.9 90.9 171.6 88.6ZM221.7 117.1 219.0 119.5 221.7 121.0 224.5 118.7ZM224.0 118.3 221.3 120.6 224.0 122.5 226.8 120.1ZM99.9 61.0 97.1 62.1 99.9 63.8 102.6 62.7ZM102.2 62.2 99.4 63.3 102.2 65.3 104.9 64.2ZM155.0 92.6 152.3 93.8 155.0 95.5 157.8 94.3ZM157.3 93.8 154.6 95.0 157.3 96.9 160.1 95.8ZM210.2 124.2 207.4 125.4 210.2 127.1 212.9 125.9ZM212.5 125.4 209.7 126.6 212.5 128.5 215.2 127.4ZM104.5 68.5 101.7 69.3 104.5 71.9 107.2 71.2ZM198.7 123.3 195.9 124.3 198.7 125.3 201.4 124.4ZM104.4 78.9 101.7 79.8 104.4 82.6 107.2 81.7ZM180.3 123.3 177.5 124.4 180.3 125.4 183.0 124.3ZM102.1 85.4 99.4 87.0 102.1 89.3 104.9 87.8ZM113.6 92.5 110.9 94.2 113.6 95.4 116.4 93.7ZM157.3 117.1 154.5 118.7 157.3 121.1 160.0 119.5ZM168.8 124.3 166.0 126.0 168.8 127.2 171.5 125.5ZM99.8 86.6 97.1 88.4 99.8 90.8 102.6 88.9ZM111.3 93.7 108.6 95.6 111.3 96.8 114.1 94.9ZM155.0 118.3 152.2 120.1 155.0 122.5 157.7 120.7ZM166.5 125.5 163.7 127.4 166.5 128.6 169.2 126.7ZM109.0 97.5 106.3 100.0 109.0 100.9 111.7 98.5ZM148.1 119.4 145.3 121.6 148.1 124.1 150.8 121.9ZM88.3 87.3 85.6 89.8 88.3 92.4 91.1 89.9ZM164.2 131.9 161.4 134.5 164.2 135.3 166.9 132.7ZM109.0 113.2 106.2 115.8 109.0 116.9 111.7 114.3ZM120.5 119.3 117.7 121.8 120.5 124.1 123.2 121.6ZM56.1 85.1 53.3 87.5 56.1 89.1 58.8 86.7ZM58.4 86.3 55.6 88.7 58.4 90.5 61.1 88.2ZM111.3 117.0 108.5 119.4 111.3 121.0 114.0 118.6ZM113.6 118.2 110.8 120.6 113.6 122.4 116.3 120.1ZM166.4 148.9 163.7 151.3 166.4 152.9 169.2 150.5ZM168.7 150.1 166.0 152.5 168.7 154.3 171.5 151.9ZM44.6 92.2 41.8 93.4 44.6 95.1 47.3 93.9ZM157.2 157.3 154.5 158.5 157.2 160.4 160.0 159.3ZM49.2 99.8 46.4 100.6 49.1 103.3 51.9 102.5ZM88.2 123.1 85.5 124.1 88.2 125.2 91.0 124.2ZM104.3 131.8 101.6 132.6 104.3 135.2 107.1 134.4ZM143.4 155.2 140.7 156.1 143.4 157.2 146.2 156.3ZM49.1 102.4 46.4 103.1 49.1 105.9 51.9 105.1ZM138.8 155.2 136.1 156.1 138.8 157.0 141.6 156.1ZM49.1 107.6 46.4 108.4 49.1 111.2 51.9 110.4ZM129.6 155.2 126.8 156.1 129.6 157.0 132.4 156.1Z"/>
<path fill="#5bbe8a" d="M159.8 37.2 157.1 38.0 159.8 40.6 162.5 39.8ZM198.9 60.1 196.1 61.0 198.8 62.1 201.6 61.1ZM214.9 68.5 212.2 69.3 214.9 71.9 217.7 71.1ZM254.0 91.5 251.2 92.4 254.0 93.5 256.7 92.5ZM159.8 47.6 157.0 48.5 159.8 51.2 162.5 50.3ZM180.4 60.1 177.7 61.2 180.4 62.1 183.2 61.0ZM214.9 78.9 212.2 79.8 214.9 82.5 217.6 81.6ZM235.6 91.5 232.8 92.6 235.6 93.6 238.3 92.5ZM164.3 68.6 161.6 71.2 164.3 72.0 167.0 69.4ZM198.8 87.5 196.0 90.0 198.8 92.5 201.5 90.1ZM139.0 55.9 136.3 58.5 139.0 61.1 141.8 58.5ZM164.3 71.1 161.6 73.9 164.3 74.6 167.0 71.9ZM194.2 87.3 191.4 89.9 194.2 92.6 196.9 90.0ZM219.4 102.7 216.7 105.4 219.4 106.2 222.2 103.4ZM134.4 55.8 131.7 58.5 134.4 61.1 137.2 58.5ZM219.4 105.3 216.7 108.1 219.4 108.8 222.2 106.0ZM129.8 55.9 127.1 58.5 129.8 61.1 132.6 58.5ZM164.3 76.3 161.6 79.1 164.3 79.9 167.0 77.1ZM185.0 87.3 182.2 90.0 185.0 92.6 187.7 89.9ZM219.4 107.9 216.7 110.7 219.4 111.5 222.2 108.7ZM164.3 79.0 161.6 81.7 164.3 82.7 167.0 79.9ZM180.4 87.5 177.6 90.1 180.4 92.6 183.1 90.0ZM143.5 91.6 140.8 92.5 143.5 93.6 146.3 92.7ZM159.6 100.1 156.9 100.9 159.6 103.6 162.4 102.7ZM104.5 71.0 101.7 71.8 104.5 74.5 107.2 73.8ZM194.1 123.3 191.3 124.2 194.1 125.2 196.8 124.3ZM104.5 73.6 101.7 74.3 104.5 77.1 107.2 76.4ZM189.5 123.3 186.7 124.2 189.5 125.1 192.2 124.2ZM104.5 76.2 101.7 77.0 104.4 79.8 107.2 79.0ZM184.9 123.3 182.1 124.3 184.9 125.2 187.6 124.2ZM125.1 91.6 122.4 92.6 125.1 93.6 127.9 92.5ZM159.6 110.6 156.9 111.5 159.6 114.2 162.3 113.3ZM109.0 100.0 106.3 102.6 109.0 103.4 111.7 100.8ZM143.5 119.1 140.7 121.5 143.5 124.1 146.2 121.7ZM83.7 87.1 81.0 89.7 83.7 92.3 86.5 89.8ZM164.2 134.4 161.4 137.1 164.2 137.9 166.9 135.1ZM74.5 87.1 71.7 89.7 74.5 92.3 77.2 89.7ZM164.1 139.6 161.4 142.4 164.1 143.2 166.9 140.4ZM69.9 87.2 67.1 89.8 69.9 92.3 72.6 89.7ZM109.0 110.4 106.2 113.2 109.0 114.1 111.7 111.4ZM125.1 119.0 122.3 121.6 125.1 124.1 127.8 121.5ZM164.1 142.3 161.4 145.1 164.1 146.0 166.9 143.3ZM83.6 123.1 80.9 124.0 83.6 125.0 86.4 124.1ZM104.3 134.3 101.6 135.0 104.3 137.8 107.0 137.1ZM49.1 105.0 46.4 105.7 49.1 108.5 51.9 107.8ZM79.0 123.1 76.3 124.0 79.0 124.9 81.8 124.0ZM104.3 136.9 101.6 137.6 104.3 140.4 107.0 139.7ZM134.2 155.2 131.5 156.1 134.2 157.0 137.0 156.1ZM74.4 123.1 71.7 124.0 74.4 124.9 77.2 124.0ZM104.3 139.5 101.6 140.3 104.3 143.1 107.0 142.4Z"/>
<path fill="#61be87" d="M159.8 39.7 157.1 40.4 159.8 43.2 162.5 42.5ZM194.3 60.1 191.5 61.0 194.2 61.9 197.0 61.0ZM214.9 71.0 212.2 71.7 214.9 74.5 217.6 73.7ZM249.4 91.5 246.6 92.4 249.4 93.3 252.1 92.4ZM159.8 42.3 157.1 43.0 159.8 45.8 162.5 45.1ZM244.8 91.5 242.0 92.4 244.8 93.3 247.5 92.4ZM159.8 44.9 157.0 45.7 159.8 48.5 162.5 47.7ZM185.0 60.1 182.3 61.0 185.0 61.9 187.8 61.0ZM214.9 76.2 212.2 77.0 214.9 79.8 217.6 79.0ZM240.2 91.5 237.4 92.5 240.2 93.4 242.9 92.4ZM164.3 73.7 161.6 76.5 164.3 77.2 167.0 74.4ZM189.6 87.3 186.8 89.9 189.6 92.6 192.3 89.9ZM138.9 91.6 136.2 92.5 138.9 93.4 141.7 92.6ZM159.6 102.7 156.9 103.4 159.6 106.1 162.3 105.4ZM134.3 91.6 131.6 92.5 134.3 93.4 137.1 92.5ZM159.6 105.2 156.9 106.0 159.6 108.8 162.3 108.0ZM129.7 91.6 127.0 92.5 129.7 93.4 132.5 92.5ZM159.6 107.9 156.9 108.7 159.6 111.5 162.3 110.7ZM109.0 102.5 106.3 105.2 109.0 106.0 111.7 103.3ZM138.9 118.9 136.1 121.4 138.9 124.1 141.6 121.5ZM79.1 87.0 76.3 89.7 79.1 92.3 81.9 89.7ZM109.0 105.1 106.3 107.9 109.0 108.6 111.7 105.8ZM134.3 118.8 131.5 121.4 134.3 124.1 137.0 121.5ZM164.2 137.0 161.4 139.8 164.1 140.5 166.9 137.7ZM109.0 107.7 106.3 110.5 109.0 111.3 111.7 108.5ZM129.7 118.9 126.9 121.5 129.7 124.1 132.4 121.4Z"/>
<path fill="#67be85" d="M189.7 60.1 186.9 61.0 189.6 61.8 192.4 61.0ZM214.9 73.6 212.2 74.3 214.9 77.1 217.6 76.4ZM157.5 51.1 154.7 52.4 157.4 55.0 160.2 53.6ZM228.7 92.3 225.9 93.8 228.7 94.9 231.4 93.4ZM150.5 54.7 147.8 56.8 150.5 59.3 153.3 57.2ZM221.8 96.0 219.0 98.2 221.8 99.2 224.5 97.0ZM118.3 54.6 115.6 57.1 118.3 59.2 121.1 56.7ZM166.6 82.5 163.8 85.1 166.6 86.4 169.3 83.9ZM173.5 86.1 170.7 88.6 173.5 90.7 176.2 88.2ZM221.7 114.1 219.0 116.7 221.7 118.0 224.5 115.4ZM102.2 64.4 99.4 65.3 102.2 67.6 104.9 66.6ZM205.6 124.1 202.8 125.1 205.6 126.6 208.3 125.5ZM102.1 82.4 99.4 83.7 102.1 86.3 104.9 85.0ZM173.4 124.1 170.6 125.6 173.4 126.6 176.1 125.1ZM95.2 86.0 92.5 88.0 95.2 90.5 98.0 88.5ZM166.5 127.7 163.7 129.9 166.5 130.9 169.2 128.7ZM40.0 92.0 37.2 93.0 40.0 94.5 42.7 93.5ZM46.9 95.7 44.1 96.6 46.8 98.9 49.6 97.9ZM95.1 123.9 92.4 125.0 95.1 126.5 97.9 125.4ZM102.0 127.6 99.3 128.6 102.0 130.8 104.8 129.8ZM150.3 155.9 147.6 157.0 150.3 158.5 153.1 157.4ZM157.2 159.5 154.5 160.5 157.2 162.7 159.9 161.7Z"/>
<path fill="#6dbf82" d="M173.5 60.9 170.8 62.4 173.5 63.4 176.3 61.9ZM212.6 82.4 209.8 83.8 212.6 86.3 215.3 85.0ZM166.6 64.5 163.9 66.7 166.6 67.7 169.4 65.5ZM205.7 86.1 202.9 88.2 205.7 90.7 208.4 88.6ZM111.4 51.0 108.7 53.5 111.4 54.9 114.2 52.3ZM228.6 117.7 225.9 120.2 228.6 122.2 231.4 119.7ZM95.3 60.7 92.5 61.7 95.3 63.2 98.0 62.2ZM150.4 92.4 147.7 93.4 150.4 94.9 153.2 93.9ZM157.3 96.0 154.6 97.0 157.3 99.2 160.1 98.2ZM212.5 127.6 209.7 128.6 212.5 130.8 215.2 129.8ZM118.2 92.3 115.5 93.8 118.2 94.8 121.0 93.4ZM157.3 114.1 154.6 115.4 157.3 118.0 160.0 116.7ZM111.3 95.9 108.6 98.1 111.3 99.1 114.0 96.9ZM150.4 117.7 147.6 119.8 150.4 122.3 153.1 120.2ZM56.1 82.1 53.4 84.6 56.1 86.0 58.8 83.4ZM63.0 85.8 60.2 88.3 63.0 90.4 65.7 87.9ZM111.3 114.0 108.5 116.5 111.3 117.9 114.0 115.3ZM118.2 117.6 115.4 120.1 118.2 122.2 120.9 119.7ZM166.4 145.9 163.7 148.5 166.4 149.8 169.2 147.2ZM173.3 149.5 170.6 152.0 173.3 154.1 176.1 151.5Z"/>
<path fill="#73bf7f" d="M155.2 52.1 152.4 53.6 155.1 56.2 157.9 54.6ZM226.4 93.3 223.6 95.1 226.4 96.1 229.1 94.3ZM152.8 53.3 150.1 55.1 152.8 57.6 155.6 55.8ZM224.1 94.6 221.3 96.5 224.1 97.5 226.8 95.5ZM116.0 53.2 113.3 55.7 116.0 57.5 118.8 55.0ZM168.9 83.5 166.1 86.1 168.9 87.6 171.6 85.1ZM171.2 84.7 168.4 87.2 171.2 89.1 173.9 86.5ZM224.0 115.1 221.3 117.6 224.0 119.2 226.8 116.6ZM99.8 83.4 97.1 84.9 99.8 87.5 102.6 85.9ZM171.1 125.1 168.3 126.8 171.1 127.8 173.8 126.1ZM97.5 84.6 94.8 86.4 97.5 88.9 100.3 87.1ZM168.8 126.3 166.0 128.2 168.8 129.3 171.5 127.3ZM42.3 93.0 39.5 94.0 42.3 95.7 45.0 94.7ZM44.6 94.2 41.8 95.2 44.5 97.2 47.3 96.2ZM97.4 124.9 94.7 126.0 97.4 127.7 100.2 126.7ZM99.7 126.2 97.0 127.1 99.7 129.1 102.5 128.1ZM152.6 156.9 149.9 157.9 152.6 159.7 155.4 158.6ZM154.9 158.1 152.2 159.1 154.9 161.1 157.7 160.1Z"/>
<path fill="#79bf7d" d="M157.5 48.2 154.7 49.3 157.5 52.0 160.2 50.9ZM233.3 92.2 230.5 93.4 233.3 94.4 236.0 93.1ZM171.2 61.9 168.5 63.6 171.2 64.6 174.0 62.9ZM210.3 83.4 207.5 85.0 210.3 87.6 213.0 86.0ZM168.9 63.1 166.2 65.0 168.9 66.0 171.7 64.1ZM208.0 84.6 205.2 86.5 208.0 89.0 210.7 87.2ZM145.9 54.2 143.2 56.5 145.9 59.1 148.7 56.8ZM166.6 66.8 163.9 69.2 166.6 70.0 169.3 67.6ZM201.1 85.6 198.3 87.9 201.1 90.5 203.8 88.2ZM221.8 98.3 219.0 100.7 221.7 101.6 224.5 99.1ZM122.9 54.2 120.2 56.8 122.9 59.0 125.7 56.5ZM166.6 79.6 163.8 82.3 166.6 83.4 169.3 80.7ZM178.1 85.7 175.3 88.3 178.1 90.5 180.8 87.9ZM221.7 111.2 219.0 113.9 221.7 115.0 224.5 112.3ZM113.7 52.0 111.0 54.5 113.7 56.1 116.5 53.5ZM226.3 116.3 223.6 118.8 226.3 120.6 229.1 118.1ZM97.6 61.7 94.8 62.7 97.6 64.4 100.3 63.5ZM99.9 62.9 97.1 63.9 99.9 65.9 102.6 64.9ZM152.7 93.4 150.0 94.4 152.7 96.1 155.5 95.1ZM155.0 94.6 152.3 95.6 155.0 97.5 157.8 96.5ZM207.9 125.0 205.1 126.1 207.9 127.7 210.6 126.7ZM210.2 126.2 207.4 127.2 210.2 129.2 212.9 128.2ZM102.2 66.7 99.4 67.5 102.2 69.9 104.9 69.1ZM201.0 123.9 198.2 124.9 201.0 126.1 203.7 125.2ZM102.1 79.5 99.4 80.6 102.1 83.3 104.9 82.2ZM178.0 124.0 175.2 125.2 178.0 126.1 180.7 124.9ZM115.9 93.3 113.2 95.0 115.9 96.0 118.7 94.3ZM155.0 115.1 152.2 116.6 155.0 119.2 157.7 117.6ZM113.6 94.5 110.9 96.4 113.6 97.4 116.4 95.5ZM152.7 116.3 149.9 118.1 152.7 120.6 155.4 118.8ZM90.6 85.5 87.9 87.7 90.6 90.4 93.4 88.1ZM166.5 130.0 163.7 132.4 166.5 133.3 169.2 130.8ZM58.4 83.1 55.6 85.6 58.4 87.2 61.1 84.7ZM60.7 84.3 57.9 86.8 60.7 88.7 63.4 86.2ZM113.6 115.0 110.8 117.5 113.6 119.1 116.3 116.6ZM115.9 116.2 113.1 118.7 115.9 120.5 118.6 118.0ZM168.7 146.9 166.0 149.4 168.7 151.0 171.5 148.4ZM171.0 148.0 168.3 150.6 171.0 152.4 173.8 149.9ZM46.9 98.0 44.1 98.8 46.8 101.2 49.6 100.4ZM90.5 123.8 87.8 124.7 90.5 126.0 93.3 125.0ZM102.0 129.9 99.3 130.7 102.0 133.2 104.8 132.3ZM145.7 155.8 143.0 156.7 145.7 158.0 148.5 157.0Z"/>
<path fill="#7ebf7b" d="M157.5 35.4 154.8 36.2 157.5 38.6 160.2 37.8ZM201.1 60.7 198.4 61.6 201.1 62.8 203.9 61.9ZM212.6 66.7 209.9 67.5 212.6 69.9 215.4 69.1ZM256.3 92.1 253.5 93.0 256.3 94.2 259.0 93.3ZM178.1 60.7 175.4 62.0 178.1 62.9 180.9 61.6ZM212.6 79.5 209.9 80.6 212.6 83.3 215.3 82.2ZM145.8 92.2 143.1 93.1 145.8 94.4 148.6 93.5ZM157.3 98.3 154.6 99.1 157.3 101.5 160.1 100.7ZM122.8 92.2 120.1 93.4 122.8 94.3 125.6 93.1ZM157.3 111.2 154.6 112.3 157.3 115.0 160.0 113.9ZM111.3 98.2 108.6 100.6 111.3 101.4 114.0 99.0ZM145.8 117.2 143.0 119.5 145.8 122.1 148.5 119.8ZM67.6 85.3 64.8 87.9 67.6 90.2 70.3 87.6ZM111.3 111.1 108.5 113.8 111.3 114.9 114.0 112.2ZM122.8 117.2 120.0 119.8 122.8 122.1 125.5 119.4ZM166.4 143.0 163.7 145.7 166.4 146.8 169.2 144.1Z"/>
<path fill="#84bf78" d="M141.3 53.9 138.6 56.3 141.3 59.0 144.1 56.5ZM221.7 100.7 219.0 103.3 221.7 104.0 224.5 101.4ZM127.5 53.9 124.8 56.5 127.5 59.0 130.3 56.3ZM166.6 76.8 163.9 79.6 166.6 80.5 169.3 77.7ZM182.7 85.3 179.9 88.0 182.7 90.4 185.4 87.8ZM221.7 108.4 219.0 111.2 221.7 112.1 224.5 109.3ZM102.2 69.0 99.4 69.7 102.2 72.4 104.9 71.6ZM196.4 123.8 193.6 124.7 196.4 125.8 199.1 124.9ZM102.1 76.7 99.4 77.6 102.1 80.4 104.9 79.5ZM182.6 123.8 179.8 124.9 182.6 125.8 185.3 124.7ZM86.0 85.1 83.3 87.6 86.0 90.2 88.8 87.8ZM166.5 132.4 163.7 135.0 166.5 135.7 169.2 133.1ZM46.8 100.3 44.1 101.1 46.8 103.7 49.6 103.0ZM85.9 123.6 83.2 124.5 85.9 125.6 88.7 124.7ZM102.0 132.3 99.3 133.0 102.0 135.6 104.7 134.9ZM141.1 155.7 138.4 156.6 141.1 157.7 143.9 156.8Z"/>
<path fill="#89bf76" d="M157.5 37.7 154.8 38.4 157.5 41.1 160.2 40.3ZM196.5 60.6 193.8 61.4 196.5 62.5 199.3 61.6ZM212.6 69.0 209.9 69.7 212.6 72.3 215.3 71.6ZM251.7 92.0 248.9 92.8 251.7 93.9 254.4 93.0ZM157.5 45.4 154.7 46.3 157.5 49.1 160.2 48.2ZM182.7 60.6 180.0 61.7 182.7 62.5 185.5 61.4ZM212.6 76.7 209.9 77.6 212.6 80.4 215.3 79.5ZM237.9 92.0 235.1 93.1 237.9 94.0 240.6 92.9ZM166.6 69.1 163.9 71.7 166.6 72.5 169.3 69.9ZM196.5 85.3 193.7 87.8 196.5 90.4 199.2 88.0ZM136.7 53.7 134.0 56.3 136.7 58.9 139.5 56.4ZM221.7 103.1 219.0 105.9 221.7 106.6 224.5 103.9ZM132.1 53.7 129.4 56.3 132.1 58.9 134.9 56.3ZM221.7 105.7 219.0 108.5 221.7 109.3 224.5 106.5ZM141.2 92.1 138.5 93.0 141.2 94.1 144.0 93.2ZM157.3 100.6 154.6 101.4 157.3 104.0 160.0 103.3ZM102.2 71.5 99.4 72.2 102.2 74.9 104.9 74.2ZM191.8 123.8 189.0 124.7 191.8 125.6 194.5 124.7ZM102.2 74.0 99.4 74.8 102.1 77.6 104.9 76.8ZM187.2 123.8 184.4 124.7 187.2 125.6 189.9 124.7ZM127.4 92.1 124.7 93.1 127.4 94.0 130.2 92.9ZM157.3 108.4 154.6 109.3 157.3 112.1 160.0 111.2ZM111.3 100.5 108.6 103.1 111.3 103.9 114.0 101.3ZM141.2 116.9 138.4 119.3 141.2 122.0 143.9 119.5ZM72.2 85.0 69.4 87.7 72.2 90.2 74.9 87.5ZM111.3 108.2 108.5 111.0 111.3 112.0 114.0 109.2ZM127.4 116.8 124.6 119.5 127.4 121.9 130.1 119.3ZM166.4 140.1 163.7 142.9 166.4 143.9 169.2 141.1ZM46.8 102.8 44.1 103.5 46.8 106.3 49.6 105.6ZM81.3 123.6 78.6 124.4 81.3 125.4 84.1 124.5ZM102.0 134.7 99.3 135.5 102.0 138.2 104.7 137.5ZM136.5 155.6 133.8 156.5 136.5 157.5 139.3 156.6ZM46.8 105.4 44.1 106.1 46.8 109.0 49.6 108.2ZM76.7 123.5 74.0 124.5 76.7 125.4 79.5 124.4ZM102.0 137.3 99.3 138.1 102.0 140.9 104.7 140.1ZM131.9 155.6 129.1 156.6 131.9 157.5 134.7 156.5Z"/>
<path fill="#8ebf74" d="M157.5 40.2 154.8 40.9 157.5 43.6 160.2 42.9ZM191.9 60.5 189.2 61.4 191.9 62.3 194.7 61.5ZM212.6 71.4 209.9 72.2 212.6 74.9 215.3 74.2ZM247.1 91.9 244.3 92.8 247.1 93.8 249.8 92.9ZM157.5 42.7 154.8 43.5 157.5 46.3 160.2 45.5ZM187.3 60.5 184.6 61.5 187.3 62.3 190.1 61.4ZM212.6 74.0 209.9 74.8 212.6 77.6 215.3 76.8ZM242.5 91.9 239.7 92.9 242.5 93.8 245.2 92.8ZM155.2 49.0 152.4 50.3 155.1 53.0 157.9 51.6ZM231.0 93.0 228.2 94.5 231.0 95.4 233.7 93.9ZM148.2 52.6 145.5 54.6 148.2 57.2 151.0 55.2ZM224.1 96.6 221.3 98.9 224.0 99.7 226.8 97.5ZM166.6 71.6 163.9 74.3 166.6 75.0 169.3 72.3ZM191.9 85.1 189.1 87.7 191.9 90.4 194.6 87.8ZM166.6 74.1 163.9 76.9 166.6 77.7 169.3 74.9ZM187.3 85.1 184.5 87.8 187.3 90.4 190.0 87.7ZM120.6 52.5 117.9 55.1 120.6 57.2 123.4 54.6ZM168.9 80.4 166.1 83.1 168.9 84.4 171.6 81.7ZM175.8 84.0 173.0 86.6 175.8 88.7 178.5 86.1ZM224.0 112.0 221.3 114.7 224.0 116.0 226.8 113.3ZM99.9 65.0 97.1 65.8 99.9 68.0 102.6 67.2ZM203.3 124.7 200.5 125.6 203.3 127.1 206.0 126.2ZM136.6 92.0 133.9 92.9 136.6 93.9 139.4 93.0ZM157.3 103.1 154.6 103.8 157.3 106.6 160.0 105.8ZM132.0 92.0 129.3 93.0 132.0 93.9 134.8 92.9ZM157.3 105.7 154.6 106.5 157.3 109.3 160.0 108.5ZM99.8 80.3 97.1 81.6 99.8 84.3 102.6 83.0ZM175.7 124.7 172.9 126.2 175.7 127.1 178.4 125.6ZM92.9 83.9 90.2 85.9 92.9 88.5 95.7 86.5ZM168.8 128.4 166.0 130.6 168.8 131.4 171.5 129.2ZM81.4 84.9 78.7 87.5 81.4 90.1 84.2 87.6ZM111.3 103.0 108.6 105.7 111.3 106.4 114.0 103.7ZM136.6 116.7 133.8 119.2 136.6 121.9 139.3 119.3ZM166.5 134.8 163.7 137.6 166.4 138.3 169.2 135.6ZM76.8 84.9 74.1 87.5 76.8 90.1 79.6 87.5ZM111.3 105.5 108.6 108.3 111.3 109.1 114.0 106.3ZM132.0 116.7 129.2 119.3 132.0 121.9 134.7 119.2ZM166.5 137.4 163.7 140.2 166.4 141.0 169.2 138.2ZM37.7 92.6 34.9 93.4 37.6 95.0 40.4 94.1ZM44.6 96.3 41.8 97.1 44.5 99.3 47.3 98.5ZM92.8 124.6 90.1 125.5 92.8 127.0 95.6 126.1ZM99.7 128.2 97.0 129.1 99.7 131.3 102.5 130.5ZM148.0 156.6 145.3 157.5 148.0 159.0 150.8 158.0ZM154.9 160.2 152.2 161.0 154.9 163.3 157.6 162.4Z"/>
<path fill="#93bf72" d="M155.2 33.7 152.5 34.5 155.2 36.8 157.9 35.9ZM203.4 61.5 200.7 62.3 203.4 63.8 206.2 62.9ZM210.3 65.0 207.6 65.9 210.3 68.1 213.1 67.2ZM258.6 92.8 255.8 93.7 258.6 95.2 261.3 94.3ZM175.8 61.5 173.1 63.0 175.8 63.9 178.6 62.4ZM210.3 80.3 207.6 81.6 210.3 84.3 213.0 83.0ZM168.9 65.1 166.2 67.3 168.9 68.2 171.7 65.9ZM203.4 84.0 200.6 86.0 203.4 88.7 206.1 86.6ZM113.7 48.8 111.0 51.5 113.7 52.9 116.5 50.2ZM230.9 115.5 228.2 118.2 230.9 120.2 233.7 117.6ZM93.0 61.3 90.2 62.2 93.0 63.7 95.7 62.8ZM148.1 93.0 145.4 93.9 148.1 95.4 150.9 94.5ZM155.0 96.6 152.3 97.5 155.0 99.7 157.8 98.8ZM210.2 128.3 207.4 129.1 210.2 131.3 212.9 130.5ZM120.5 92.9 117.8 94.4 120.5 95.3 123.3 93.9ZM155.0 112.0 152.3 113.3 155.0 116.0 157.7 114.7ZM113.6 96.5 110.9 98.7 113.6 99.6 116.3 97.4ZM148.1 115.6 145.3 117.6 148.1 120.3 150.8 118.2ZM58.4 80.0 55.7 82.6 58.4 84.0 61.1 81.3ZM65.3 83.7 62.5 86.3 65.3 88.4 68.0 85.7ZM113.6 111.8 110.8 114.5 113.6 115.9 116.3 113.2ZM120.5 115.5 117.7 118.1 120.5 120.2 123.2 117.6ZM168.7 143.7 166.0 146.4 168.7 147.8 171.5 145.0ZM175.6 147.3 172.9 150.0 175.6 152.0 178.4 149.4Z"/>
<path fill="#98bf70" d="M148.3 30.1 145.6 31.0 148.3 32.4 151.1 31.6ZM265.5 96.3 262.7 97.2 265.5 99.4 268.2 98.5ZM152.9 49.9 150.1 51.5 152.8 54.2 155.6 52.6ZM228.7 94.0 225.9 95.7 228.7 96.6 231.4 94.8ZM150.5 51.1 147.8 53.0 150.5 55.6 153.3 53.8ZM226.4 95.2 223.6 97.2 226.4 98.0 229.1 96.0ZM118.3 51.1 115.6 53.7 118.3 55.5 121.1 52.9ZM226.3 112.9 223.6 115.6 226.3 117.2 229.1 114.5ZM97.5 81.3 94.8 82.8 97.5 85.5 100.3 83.9ZM173.4 125.7 170.6 127.4 173.4 128.3 176.1 126.6ZM95.2 82.4 92.5 84.2 95.2 86.9 98.0 85.1ZM171.1 126.9 168.3 128.9 171.1 129.8 173.8 127.8ZM40.0 93.6 37.2 94.4 39.9 96.2 42.7 95.3ZM42.3 94.8 39.5 95.7 42.2 97.7 45.0 96.8ZM95.1 125.6 92.4 126.4 95.1 128.2 97.9 127.3ZM97.4 126.8 94.7 127.6 97.4 129.6 100.2 128.8ZM150.3 157.6 147.6 158.5 150.3 160.2 153.1 159.3ZM152.6 158.8 149.9 159.6 152.6 161.6 155.3 160.7Z"/>
<path fill="#9dbe6e" d="M152.9 32.3 150.2 33.1 152.9 35.1 155.6 34.3ZM205.7 62.4 203.0 63.3 205.7 65.0 208.5 64.1ZM208.0 63.6 205.3 64.5 208.0 66.4 210.8 65.6ZM260.9 93.8 258.1 94.6 260.9 96.3 263.6 95.5ZM173.5 62.5 170.8 64.2 173.5 65.1 176.3 63.3ZM208.0 81.3 205.2 82.9 208.0 85.5 210.7 84.0ZM171.2 63.7 168.5 65.7 171.2 66.5 174.0 64.5ZM205.7 82.5 202.9 84.3 205.7 87.0 208.4 85.2ZM116.0 49.8 113.3 52.5 116.0 54.1 118.8 51.4ZM171.2 81.4 168.4 84.1 171.2 85.6 173.9 82.9ZM173.5 82.6 170.7 85.2 173.5 87.0 176.2 84.4ZM228.6 114.1 225.9 116.8 228.6 118.6 231.4 115.9ZM95.3 62.3 92.5 63.2 95.3 64.9 98.0 64.1ZM97.6 63.5 94.8 64.4 97.6 66.4 100.3 65.5ZM150.4 94.0 147.7 94.9 150.4 96.6 153.2 95.7ZM152.7 95.2 150.0 96.0 152.7 98.0 155.5 97.2ZM205.6 125.7 202.8 126.6 205.6 128.3 208.3 127.4ZM207.9 126.8 205.1 127.7 207.9 129.7 210.6 128.8ZM118.2 93.9 115.5 95.6 118.2 96.5 121.0 94.8ZM152.7 112.9 149.9 114.5 152.7 117.2 155.4 115.6ZM115.9 95.1 113.2 97.1 115.9 97.9 118.7 96.0ZM150.4 114.1 147.6 115.9 150.4 118.6 153.1 116.8ZM60.7 81.0 58.0 83.6 60.7 85.2 63.4 82.6ZM63.0 82.2 60.2 84.8 63.0 86.7 65.7 84.0ZM115.9 112.8 113.1 115.5 115.9 117.1 118.6 114.4ZM118.2 114.0 115.4 116.7 118.2 118.5 120.9 115.9ZM171.0 144.7 168.3 147.4 171.0 148.9 173.8 146.3ZM173.3 145.9 170.6 148.6 173.3 150.4 176.1 147.7Z"/>
<path fill="#a2be6c" d="M150.6 31.1 147.9 31.9 150.6 33.7 153.4 32.8ZM263.2 94.9 260.4 95.8 263.2 97.7 265.9 96.9ZM155.2 46.0 152.4 47.1 155.2 49.9 157.9 48.8ZM235.6 92.7 232.8 93.9 235.6 94.8 238.3 93.5ZM143.6 52.0 140.9 54.3 143.6 57.0 146.4 54.7ZM168.9 67.3 166.2 69.7 168.9 70.5 171.6 68.0ZM198.8 83.4 196.0 85.7 198.8 88.4 201.5 86.1ZM224.1 98.8 221.3 101.2 224.0 102.0 226.8 99.5ZM125.2 52.0 122.5 54.6 125.2 56.9 128.0 54.3ZM168.9 77.4 166.1 80.2 168.9 81.3 171.6 78.5ZM180.4 83.5 177.6 86.1 180.4 88.4 183.1 85.7ZM224.0 109.0 221.3 111.8 224.0 112.9 226.8 110.1ZM99.9 67.1 97.1 67.9 99.9 70.3 102.6 69.6ZM198.7 124.4 195.9 125.3 198.7 126.5 201.4 125.7ZM99.8 77.3 97.1 78.4 99.8 81.2 102.6 80.1ZM180.3 124.5 177.5 125.7 180.3 126.6 183.0 125.3ZM88.3 83.3 85.6 85.5 88.3 88.2 91.1 86.0ZM168.8 130.5 166.0 133.0 168.8 133.7 171.5 131.3ZM44.5 98.4 41.8 99.2 44.5 101.7 47.3 100.9ZM88.2 124.3 85.5 125.1 88.2 126.4 91.0 125.6ZM99.7 130.4 97.0 131.2 99.7 133.6 102.5 132.9ZM143.4 156.3 140.7 157.2 143.4 158.4 146.2 157.6Z"/>
<path fill="#a7be6a" d="M155.2 35.9 152.5 36.6 155.2 39.0 157.9 38.3ZM198.8 61.2 196.1 62.0 198.8 63.3 201.6 62.4ZM210.3 67.2 207.6 67.9 210.3 70.3 213.1 69.6ZM254.0 92.6 251.2 93.4 254.0 94.7 256.7 93.8ZM180.4 61.2 177.7 62.5 180.4 63.3 183.2 62.0ZM210.3 77.3 207.6 78.4 210.3 81.2 213.0 80.1ZM143.5 92.7 140.8 93.6 143.5 94.8 146.3 94.0ZM155.0 98.8 152.3 99.5 155.0 102.0 157.8 101.2ZM125.1 92.7 122.4 93.9 125.1 94.8 127.9 93.5ZM155.0 109.0 152.3 110.1 155.0 112.9 157.7 111.8ZM113.6 98.7 110.9 101.1 113.6 101.9 116.3 99.4ZM143.5 115.0 140.7 117.3 143.5 120.0 146.2 117.7ZM69.9 83.2 67.1 85.8 69.9 88.1 72.7 85.5ZM113.6 108.9 110.8 111.6 113.6 112.7 116.3 110.0ZM125.1 115.0 122.3 117.6 125.1 119.9 127.8 117.2ZM168.7 140.8 166.0 143.5 168.7 144.6 171.5 141.8Z"/>
<path fill="#abbe68" d="M139.0 51.7 136.3 54.1 139.0 56.8 141.8 54.4ZM224.0 101.1 221.3 103.7 224.0 104.5 226.8 101.8ZM129.8 51.7 127.1 54.3 129.8 56.8 132.6 54.1ZM224.0 106.2 221.3 109.0 224.0 109.9 226.8 107.1ZM99.9 74.5 97.1 75.4 99.8 78.2 102.6 77.3ZM184.9 124.3 182.1 125.4 184.9 126.2 187.6 125.2ZM44.5 100.8 41.8 101.5 44.5 104.1 47.3 103.4ZM83.6 124.1 80.9 124.9 83.6 126.0 86.4 125.2ZM99.7 132.7 97.0 133.4 99.7 136.1 102.4 135.3ZM138.8 156.1 136.1 157.0 138.8 158.1 141.6 157.2Z"/>
<path fill="#b0bd67" d="M155.2 38.1 152.5 38.9 155.2 41.5 157.9 40.7ZM249.4 92.4 246.6 93.3 249.4 94.4 252.1 93.5ZM155.2 43.2 152.4 44.1 155.2 46.9 157.9 46.0ZM240.2 92.5 237.4 93.6 240.2 94.4 242.9 93.3ZM168.9 69.6 166.2 72.2 168.9 72.9 171.6 70.3ZM194.2 83.1 191.4 85.6 194.2 88.2 196.9 85.8ZM134.4 51.6 131.7 54.1 134.4 56.7 137.2 54.2ZM224.0 103.6 221.3 106.3 224.0 107.1 226.8 104.4ZM168.9 74.6 166.2 77.4 168.9 78.3 171.6 75.6ZM185.0 83.1 182.2 85.8 185.0 88.2 187.7 85.6ZM99.9 69.4 97.1 70.2 99.9 72.8 102.6 72.1ZM138.9 92.5 136.2 93.4 138.9 94.5 141.7 93.6ZM155.0 101.1 152.3 101.8 155.0 104.4 157.7 103.7ZM194.1 124.3 191.3 125.2 194.1 126.2 196.8 125.3ZM99.9 71.9 97.1 72.7 99.8 75.4 102.6 74.6ZM189.5 124.2 186.7 125.2 189.5 126.1 192.2 125.2ZM129.7 92.5 127.0 93.6 129.7 94.5 132.5 93.4ZM155.0 106.2 152.3 107.1 155.0 109.9 157.7 109.0ZM83.7 82.9 81.0 85.4 83.7 88.0 86.5 85.6ZM113.6 101.0 110.9 103.6 113.6 104.3 116.3 101.7ZM138.9 114.7 136.1 117.1 138.9 119.8 141.6 117.3ZM168.8 132.8 166.0 135.4 168.8 136.2 171.5 133.6ZM74.5 82.9 71.8 85.5 74.5 88.0 77.3 85.3ZM113.6 106.1 110.9 108.8 113.6 109.8 116.3 107.0ZM129.7 114.6 126.9 117.3 129.7 119.8 132.4 117.1ZM168.7 137.9 166.0 140.7 168.7 141.7 171.5 138.9ZM44.5 103.2 41.8 104.0 44.5 106.8 47.3 106.0ZM79.0 124.0 76.3 124.9 79.0 125.9 81.8 125.0ZM99.7 135.2 97.0 136.0 99.7 138.7 102.4 137.9ZM134.2 156.1 131.4 157.0 134.2 158.0 137.0 157.0Z"/>
<path fill="#b4bd65" d="M194.2 61.0 191.5 61.9 194.2 62.9 197.0 62.1ZM210.3 69.4 207.6 70.2 210.3 72.8 213.0 72.0ZM155.2 40.6 152.5 41.4 155.2 44.1 157.9 43.3ZM189.6 60.9 186.9 61.9 189.6 62.8 192.4 61.9ZM210.3 71.9 207.6 72.7 210.3 75.4 213.0 74.6ZM244.8 92.4 242.0 93.3 244.8 94.3 247.5 93.3ZM185.0 61.0 182.3 62.1 185.0 63.0 187.8 61.9ZM210.3 74.5 207.6 75.4 210.3 78.2 213.0 77.3ZM152.9 46.8 150.1 48.1 152.9 50.8 155.6 49.5ZM233.3 93.5 230.5 95.0 233.3 95.8 236.0 94.3ZM145.9 50.4 143.2 52.4 145.9 55.1 148.7 53.1ZM226.4 97.1 223.6 99.4 226.3 100.1 229.1 97.9ZM168.9 72.0 166.2 74.7 168.9 75.5 171.6 72.8ZM189.6 83.0 186.8 85.6 189.6 88.2 192.3 85.6ZM122.9 50.3 120.2 53.0 122.9 55.1 125.7 52.4ZM171.2 78.2 168.4 81.0 171.2 82.3 173.9 79.5ZM178.1 81.8 175.3 84.5 178.1 86.6 180.8 83.9ZM226.3 109.8 223.6 112.5 226.3 113.8 229.1 111.1ZM97.6 65.5 94.8 66.2 97.6 68.5 100.3 67.7ZM201.0 125.2 198.2 126.0 201.0 127.5 203.7 126.7ZM134.3 92.5 131.6 93.4 134.3 94.4 137.1 93.4ZM155.0 103.5 152.3 104.3 155.0 107.1 157.7 106.3ZM97.5 78.1 94.8 79.4 97.5 82.2 100.3 80.9ZM178.0 125.2 175.2 126.7 178.0 127.6 180.7 126.1ZM90.6 81.7 87.9 83.7 90.6 86.4 93.4 84.4ZM171.1 128.9 168.3 131.1 171.1 131.9 173.8 129.6ZM79.1 82.8 76.4 85.3 79.1 87.9 81.9 85.4ZM113.6 103.4 110.9 106.1 113.6 107.0 116.3 104.2ZM134.3 114.5 131.5 117.1 134.3 119.7 137.0 117.1ZM168.8 135.3 166.0 138.0 168.7 138.8 171.5 136.1ZM35.4 93.0 32.6 93.9 35.3 95.4 38.1 94.6ZM42.2 96.8 39.5 97.5 42.2 99.8 45.0 99.0ZM90.5 125.1 87.8 125.9 90.5 127.4 93.3 126.6ZM97.4 128.7 94.7 129.5 97.4 131.7 100.2 131.0ZM145.7 157.1 143.0 157.9 145.7 159.4 148.5 158.6ZM152.6 160.7 149.9 161.5 152.6 163.7 155.3 162.9Z"/>
<path fill="#b8bd63" d="M152.9 34.2 150.2 34.9 152.9 37.2 155.6 36.4ZM201.1 61.9 198.4 62.8 201.1 64.2 203.9 63.4ZM208.0 65.5 205.3 66.3 208.0 68.5 210.8 67.7ZM256.3 93.3 253.5 94.2 256.3 95.6 259.0 94.8ZM178.1 62.0 175.4 63.5 178.1 64.3 180.9 62.8ZM208.0 78.1 205.3 79.4 208.0 82.2 210.7 80.9ZM171.2 65.6 168.5 67.8 171.2 68.6 173.9 66.4ZM201.1 81.8 198.3 83.8 201.1 86.5 203.8 84.5ZM116.0 46.7 113.3 49.4 116.0 50.7 118.8 48.0ZM233.2 113.3 230.5 116.0 233.2 118.1 236.0 115.4ZM90.7 61.8 87.9 62.6 90.7 64.1 93.4 63.3ZM145.8 93.5 143.1 94.3 145.8 95.8 148.6 95.0ZM152.7 97.1 150.0 97.9 152.7 100.1 155.5 99.3ZM207.9 128.8 205.1 129.6 207.9 131.8 210.6 131.0ZM122.8 93.4 120.1 94.9 122.8 95.8 125.6 94.3ZM152.7 109.8 150.0 111.1 152.7 113.8 155.4 112.5ZM115.9 97.0 113.2 99.2 115.9 100.0 118.6 97.8ZM145.8 113.4 143.0 115.4 145.8 118.1 148.5 116.1ZM60.7 77.8 58.0 80.5 60.7 81.9 63.4 79.1ZM67.6 81.5 64.9 84.2 67.6 86.2 70.4 83.6ZM115.9 109.7 113.1 112.4 115.9 113.7 118.6 111.0ZM122.8 113.3 120.0 116.0 122.8 118.1 125.5 115.4ZM171.0 141.5 168.3 144.3 171.0 145.6 173.8 142.8ZM177.9 145.1 175.2 147.8 177.9 149.9 180.7 147.2Z"/>
<path fill="#bdbd61" d="M146.0 30.6 143.3 31.4 146.0 32.9 148.8 32.1ZM263.2 96.8 260.4 97.6 263.2 99.8 265.9 99.0ZM150.6 47.8 147.8 49.3 150.5 52.0 153.3 50.5ZM231.0 94.5 228.2 96.2 231.0 97.0 233.7 95.3ZM148.3 49.0 145.5 50.8 148.2 53.5 151.0 51.7ZM228.7 95.7 225.9 97.7 228.7 98.5 231.4 96.5ZM120.6 48.9 117.9 51.6 120.6 53.4 123.4 50.7ZM228.6 110.7 225.9 113.5 228.6 115.0 231.4 112.3ZM95.2 79.1 92.5 80.6 95.2 83.3 98.0 81.8ZM175.7 126.2 172.9 128.0 175.7 128.8 178.4 127.0ZM92.9 80.2 90.2 82.0 92.9 84.8 95.7 83.0ZM173.4 127.4 170.6 129.4 173.4 130.2 176.1 128.2ZM37.6 94.1 34.9 94.9 37.6 96.6 40.4 95.8ZM39.9 95.3 37.2 96.1 39.9 98.1 42.7 97.3ZM92.8 126.1 90.1 126.9 92.8 128.6 95.6 127.8ZM95.1 127.3 92.4 128.1 95.1 130.1 97.9 129.3ZM148.0 158.1 145.3 158.9 148.0 160.6 150.7 159.8ZM150.3 159.3 147.6 160.1 150.3 162.1 153.0 161.2Z"/>
<path fill="#c1bc60" d="M150.6 32.8 147.9 33.5 150.6 35.5 153.3 34.7ZM203.4 62.9 200.7 63.7 203.4 65.4 206.2 64.6ZM205.7 64.1 203.0 64.9 205.7 66.9 208.5 66.1ZM258.6 94.3 255.8 95.1 258.6 96.8 261.3 96.0ZM175.8 63.0 173.1 64.7 175.8 65.5 178.6 63.8ZM205.7 79.1 202.9 80.7 205.7 83.4 208.4 81.8ZM173.5 64.2 170.8 66.2 173.5 66.9 176.3 65.0ZM203.4 80.3 200.6 82.1 203.4 84.9 206.1 83.0ZM118.3 47.7 115.6 50.4 118.3 52.0 121.1 49.2ZM173.5 79.2 170.7 81.9 173.5 83.5 176.2 80.7ZM175.8 80.4 173.0 83.1 175.8 84.9 178.5 82.2ZM230.9 111.9 228.2 114.6 230.9 116.4 233.7 113.7ZM93.0 62.8 90.2 63.6 93.0 65.3 95.7 64.6ZM95.3 64.0 92.5 64.8 95.3 66.8 98.0 66.0ZM148.1 94.5 145.4 95.3 148.1 97.0 150.9 96.2ZM150.4 95.7 147.7 96.5 150.4 98.5 153.2 97.7ZM203.3 126.2 200.5 127.0 203.3 128.7 206.0 127.9ZM205.6 127.4 202.8 128.2 205.6 130.1 208.3 129.3ZM120.5 94.4 117.8 96.1 120.5 97.0 123.3 95.2ZM150.4 110.7 147.6 112.3 150.4 115.0 153.1 113.5ZM118.2 95.6 115.5 97.6 118.2 98.4 120.9 96.4ZM148.1 111.9 145.3 113.7 148.1 116.5 150.8 114.7ZM63.0 78.8 60.3 81.5 63.0 83.1 65.7 80.4ZM65.3 80.0 62.6 82.7 65.3 84.6 68.0 81.9ZM118.2 110.6 115.4 113.4 118.2 114.9 120.9 112.2ZM120.5 111.9 117.7 114.6 120.5 116.4 123.2 113.7ZM173.3 142.5 170.6 145.3 173.3 146.8 176.1 144.0ZM175.6 143.7 172.9 146.4 175.6 148.2 178.4 145.5Z"/>
<path fill="#c5bc5e" d="M148.3 31.5 145.6 32.3 148.3 34.1 151.0 33.3ZM260.9 95.4 258.1 96.2 260.9 98.2 263.6 97.4ZM141.3 49.8 138.6 52.1 141.3 54.8 144.1 52.5ZM226.3 99.2 223.6 101.7 226.3 102.4 229.1 100.0ZM127.5 49.8 124.8 52.5 127.5 54.8 130.3 52.1ZM226.3 106.8 223.6 109.6 226.3 110.7 229.1 107.9ZM97.6 67.6 94.8 68.3 97.6 70.8 100.3 70.0ZM196.4 124.9 193.6 125.7 196.4 127.0 199.1 126.1ZM97.5 75.1 94.8 76.2 97.5 79.0 100.3 77.9ZM182.6 124.9 179.8 126.2 182.6 127.0 185.3 125.8ZM86.0 81.1 83.3 83.3 86.0 86.0 88.8 83.8ZM171.1 131.0 168.3 133.4 171.1 134.2 173.8 131.7ZM42.2 98.9 39.5 99.6 42.2 102.1 45.0 101.3ZM85.9 124.7 83.2 125.6 85.9 126.8 88.7 126.0ZM97.4 130.8 94.7 131.6 97.4 134.0 100.1 133.3ZM141.1 156.8 138.4 157.6 141.1 158.9 143.9 158.0Z"/>
<path fill="#c9bb5c" d="M152.9 36.3 150.2 37.0 152.9 39.5 155.6 38.7ZM196.5 61.6 193.8 62.5 196.5 63.7 199.3 62.9ZM208.0 67.6 205.3 68.4 208.0 70.8 210.8 70.0ZM251.7 93.0 248.9 93.9 251.7 95.1 254.4 94.2ZM152.9 43.8 150.1 44.9 152.9 47.7 155.6 46.6ZM182.7 61.6 180.0 62.9 182.7 63.7 185.5 62.5ZM208.0 75.1 205.3 76.2 208.0 79.0 210.7 77.9ZM237.9 93.1 235.1 94.4 237.9 95.2 240.6 93.9ZM171.2 67.7 168.5 70.1 171.2 70.9 173.9 68.5ZM196.5 81.2 193.7 83.5 196.5 86.2 199.2 83.9ZM171.2 75.3 168.5 78.0 171.2 79.1 173.9 76.3ZM182.7 81.3 179.9 84.0 182.7 86.2 185.4 83.5ZM141.2 93.2 138.5 94.0 141.2 95.3 144.0 94.4ZM152.7 99.2 150.0 100.0 152.7 102.4 155.4 101.7ZM127.4 93.1 124.7 94.4 127.4 95.2 130.2 94.0ZM152.7 106.8 150.0 107.9 152.7 110.7 155.4 109.6ZM115.9 99.1 113.2 101.5 115.9 102.3 118.6 99.9ZM141.2 112.8 138.4 115.1 141.2 117.8 143.9 115.5ZM72.2 81.0 69.5 83.6 72.2 85.9 75.0 83.3ZM115.9 106.7 113.1 109.4 115.9 110.6 118.6 107.8ZM127.4 112.8 124.6 115.4 127.4 117.7 130.1 115.1ZM171.0 138.6 168.3 141.3 171.0 142.4 173.8 139.6Z"/>
<path fill="#cebb5a" d="M136.7 49.6 134.0 52.0 136.7 54.6 139.5 52.2ZM226.3 101.5 223.6 104.2 226.3 105.0 229.1 102.3ZM132.1 49.6 129.4 52.1 132.1 54.6 134.9 52.0ZM226.3 104.1 223.6 106.8 226.3 107.7 229.1 105.0ZM97.6 72.4 94.8 73.3 97.5 76.0 100.3 75.1ZM187.2 124.7 184.4 125.8 187.2 126.7 189.9 125.7ZM42.2 101.2 39.5 102.0 42.2 104.6 45.0 103.8ZM81.3 124.5 78.6 125.4 81.3 126.5 84.1 125.6ZM97.4 133.1 94.7 133.9 97.4 136.6 100.1 135.8ZM136.5 156.6 133.7 157.5 136.5 158.6 139.2 157.7Z"/>
<path fill="#d2bb59" d="M152.9 38.6 150.2 39.4 152.9 42.0 155.6 41.2ZM247.1 92.9 244.3 93.8 247.1 94.9 249.8 93.9ZM152.9 41.1 150.1 42.0 152.9 44.7 155.6 43.8ZM242.5 92.9 239.7 94.0 242.5 94.9 245.2 93.8ZM171.2 70.0 168.5 72.6 171.2 73.4 173.9 70.8ZM191.9 81.0 189.1 83.4 191.9 86.0 194.6 83.6ZM171.2 72.5 168.5 75.2 171.2 76.2 173.9 73.4ZM187.3 81.0 184.5 83.6 187.3 86.0 190.0 83.4ZM97.6 69.9 94.8 70.7 97.6 73.3 100.3 72.5ZM136.6 93.0 133.9 93.9 136.6 95.0 139.4 94.1ZM152.7 101.5 150.0 102.3 152.7 104.9 155.4 104.1ZM191.8 124.7 189.0 125.7 191.8 126.7 194.5 125.8ZM132.0 93.0 129.3 94.0 132.0 95.0 134.8 93.9ZM152.7 104.0 150.0 105.0 152.7 107.7 155.4 106.8ZM81.4 80.8 78.7 83.2 81.4 85.8 84.2 83.4ZM115.9 101.4 113.2 104.0 115.9 104.8 118.6 102.2ZM136.6 112.5 133.8 115.0 136.6 117.6 139.3 115.1ZM171.1 133.3 168.3 135.9 171.1 136.7 173.8 134.1ZM76.8 80.7 74.1 83.3 76.8 85.8 79.6 83.2ZM115.9 103.9 113.2 106.6 115.9 107.6 118.6 104.9ZM132.0 112.5 129.2 115.1 132.0 117.6 134.7 115.0ZM171.1 135.8 168.3 138.5 171.0 139.5 173.8 136.7Z"/>
<path fill="#d6ba57" d="M191.9 61.4 189.2 62.4 191.9 63.4 194.7 62.5ZM208.0 69.9 205.3 70.7 208.0 73.3 210.7 72.5ZM187.3 61.4 184.6 62.5 187.3 63.5 190.1 62.4ZM208.0 72.4 205.3 73.3 208.0 76.0 210.7 75.1ZM143.6 48.2 140.9 50.2 143.6 52.9 146.4 50.9ZM228.7 97.6 225.9 99.8 228.6 100.6 231.4 98.3ZM125.2 48.1 122.5 50.8 125.2 52.9 128.0 50.2ZM228.6 107.6 225.9 110.3 228.6 111.6 231.4 108.9ZM95.2 75.9 92.5 77.2 95.2 80.0 98.0 78.7ZM180.3 125.7 177.5 127.2 180.3 128.0 183.0 126.5ZM39.9 97.2 37.2 97.9 39.9 100.2 42.7 99.4ZM88.2 125.5 85.5 126.3 88.2 127.8 91.0 127.0ZM95.1 129.2 92.4 129.9 95.1 132.2 97.9 131.4ZM143.4 157.5 140.7 158.4 143.4 159.9 146.1 159.0Z"/>
<path fill="#daba55" d="M150.6 34.6 147.9 35.4 150.6 37.6 153.3 36.8ZM254.0 93.8 251.2 94.6 254.0 96.1 256.7 95.2ZM150.6 44.6 147.8 45.9 150.6 48.7 153.3 47.3ZM180.4 62.4 177.7 63.9 180.4 64.7 183.2 63.2ZM205.7 75.9 203.0 77.3 205.7 80.0 208.4 78.7ZM235.6 93.9 232.8 95.4 235.6 96.2 238.3 94.7ZM173.5 66.0 170.8 68.3 173.5 69.0 176.2 66.8ZM198.8 79.6 196.0 81.6 198.8 84.3 201.5 82.3ZM118.3 44.5 115.6 47.2 118.3 48.6 121.1 45.8ZM173.5 76.0 170.7 78.8 173.5 80.1 176.2 77.3ZM180.4 79.6 177.6 82.3 180.4 84.4 183.1 81.7ZM235.5 111.1 232.8 113.8 235.5 115.9 238.3 113.1ZM88.4 62.2 85.6 63.0 88.4 64.5 91.1 63.7ZM95.3 65.9 92.5 66.7 95.3 68.9 98.0 68.1ZM143.5 93.9 140.8 94.8 143.5 96.3 146.3 95.4ZM150.4 97.6 147.7 98.3 150.4 100.6 153.2 99.8ZM198.7 125.6 195.9 126.5 198.7 128.0 201.4 127.1ZM205.6 129.2 202.8 130.0 205.6 132.2 208.3 131.4ZM125.1 93.9 122.4 95.4 125.1 96.2 127.9 94.7ZM150.4 107.6 147.7 108.9 150.4 111.6 153.1 110.3ZM88.3 79.4 85.6 81.5 88.3 84.2 91.1 82.2ZM118.2 97.5 115.5 99.7 118.2 100.5 120.9 98.3ZM143.5 111.2 140.7 113.2 143.5 115.9 146.2 113.9ZM173.4 129.3 170.6 131.5 173.4 132.3 176.1 130.1ZM69.9 79.3 67.2 82.0 69.9 84.1 72.7 81.4ZM118.2 107.5 115.4 110.2 118.2 111.5 120.9 108.8ZM125.1 111.1 122.3 113.8 125.1 115.9 127.8 113.2ZM173.3 139.3 170.6 142.1 173.3 143.4 176.1 140.6ZM33.0 93.5 30.3 94.3 33.0 95.8 35.8 95.0ZM150.3 161.2 147.6 161.9 150.3 164.2 153.0 163.4Z"/>
<path fill="#deba53" d="M143.7 31.0 141.0 31.8 143.7 33.3 146.4 32.5ZM198.8 62.4 196.1 63.2 198.8 64.7 201.6 63.8ZM205.7 66.0 203.0 66.7 205.7 68.9 208.5 68.2ZM260.9 97.3 258.1 98.1 260.8 100.3 263.6 99.5ZM63.0 75.6 60.3 78.3 63.0 79.7 65.7 77.0ZM180.2 142.9 177.5 145.6 180.2 147.7 183.0 145.0ZM37.6 95.7 34.9 96.5 37.6 98.5 40.4 97.7ZM145.7 158.5 143.0 159.3 145.7 161.1 148.4 160.2Z"/>
<path fill="#e2b952" d="M148.3 45.6 145.5 47.1 148.3 49.9 151.0 48.3ZM178.1 63.4 175.4 65.1 178.1 65.9 180.9 64.2ZM203.4 76.9 200.6 78.5 203.4 81.2 206.1 79.7ZM233.3 94.9 230.5 96.6 233.3 97.4 236.0 95.7ZM146.0 46.8 143.2 48.6 145.9 51.3 148.7 49.5ZM175.8 64.6 173.1 66.6 175.8 67.4 178.6 65.4ZM201.1 78.1 198.3 80.0 201.1 82.7 203.8 80.8ZM231.0 96.1 228.2 98.1 230.9 98.9 233.7 96.9ZM120.6 45.5 117.9 48.2 120.6 49.8 123.4 47.1ZM122.9 46.7 120.2 49.4 122.9 51.2 125.7 48.5ZM175.8 77.0 173.0 79.7 175.8 81.3 178.5 78.6ZM178.1 78.2 175.3 80.9 178.1 82.7 180.8 80.0ZM230.9 108.5 228.2 111.3 230.9 112.8 233.7 110.1ZM233.2 109.7 230.5 112.4 233.2 114.2 236.0 111.5ZM90.7 63.2 87.9 64.0 90.7 65.8 93.4 65.0ZM93.0 64.4 90.2 65.2 93.0 67.2 95.7 66.4ZM145.8 94.9 143.1 95.7 145.8 97.5 148.6 96.6ZM148.1 96.1 145.4 96.9 148.1 98.9 150.9 98.1ZM201.0 126.6 198.2 127.4 201.0 129.2 203.7 128.3ZM203.3 127.8 200.5 128.6 203.3 130.6 206.0 129.8ZM92.9 76.9 90.2 78.4 92.9 81.1 95.7 79.6ZM122.8 94.9 120.1 96.6 122.8 97.4 125.6 95.7ZM148.1 108.5 145.4 110.1 148.1 112.8 150.8 111.3ZM178.0 126.7 175.2 128.4 178.0 129.2 180.7 127.5ZM90.6 78.0 87.9 79.8 90.6 82.6 93.4 80.8ZM120.5 96.1 117.8 98.0 120.5 98.8 123.2 96.9ZM145.8 109.7 143.0 111.5 145.8 114.3 148.5 112.5ZM175.7 127.9 172.9 129.9 175.7 130.7 178.4 128.7ZM65.3 76.6 62.6 79.3 65.3 80.9 68.1 78.2ZM67.6 77.8 64.9 80.5 67.6 82.4 70.4 79.7ZM120.5 108.5 117.7 111.2 120.5 112.8 123.2 110.0ZM122.8 109.7 120.0 112.4 122.8 114.2 125.5 111.5ZM175.6 140.3 172.9 143.0 175.6 144.6 178.4 141.8ZM177.9 141.5 175.2 144.2 177.9 146.0 180.7 143.3ZM35.3 94.5 32.6 95.3 35.3 97.0 38.1 96.2ZM90.5 126.5 87.8 127.3 90.5 129.1 93.3 128.2ZM92.8 127.7 90.1 128.5 92.8 130.5 95.6 129.7ZM148.0 159.7 145.3 160.5 148.0 162.5 150.7 161.7Z"/>
<path fill="#e6b950" d="M146.0 32.0 143.3 32.8 146.0 34.5 148.7 33.7ZM148.3 33.2 145.6 34.0 148.3 35.9 151.0 35.2ZM201.1 63.3 198.4 64.2 201.1 65.9 203.9 65.1ZM203.4 64.5 200.7 65.3 203.4 67.3 206.2 66.5ZM256.3 94.7 253.5 95.5 256.3 97.2 259.0 96.4ZM258.6 95.9 255.8 96.7 258.6 98.6 261.3 97.8ZM139.0 47.7 136.3 50.0 139.0 52.6 141.8 50.3ZM228.6 99.7 225.9 102.1 228.6 102.9 231.4 100.5ZM129.8 47.7 127.1 50.3 129.8 52.6 132.6 50.0ZM228.6 104.7 225.9 107.4 228.6 108.5 231.4 105.7ZM95.3 68.0 92.5 68.8 95.3 71.3 98.0 70.4ZM194.1 125.3 191.3 126.3 194.1 127.5 196.8 126.6ZM95.2 73.0 92.5 74.1 95.2 76.8 98.0 75.7ZM184.9 125.3 182.1 126.6 184.9 127.5 187.6 126.3ZM39.9 99.3 37.2 100.1 39.9 102.6 42.7 101.8ZM83.6 125.1 80.9 126.0 83.6 127.3 86.4 126.4ZM95.1 131.3 92.4 132.1 95.1 134.5 97.8 133.7ZM138.8 157.2 136.0 158.1 138.8 159.4 141.5 158.5Z"/>
<path fill="#eab94e" d="M150.6 36.7 147.9 37.5 150.6 40.0 153.3 39.1ZM194.2 62.0 191.5 63.0 194.2 64.2 197.0 63.3ZM205.7 68.0 203.0 68.9 205.7 71.3 208.4 70.5ZM249.4 93.5 246.6 94.4 249.4 95.6 252.1 94.7ZM150.6 41.7 147.8 42.8 150.6 45.5 153.3 44.4ZM185.0 62.1 182.3 63.3 185.0 64.2 187.8 63.0ZM205.7 73.0 203.0 74.1 205.7 76.8 208.4 75.7ZM240.2 93.5 237.4 94.8 240.2 95.7 242.9 94.4ZM173.5 68.1 170.8 70.6 173.5 71.4 176.2 69.0ZM194.2 79.1 191.4 81.4 194.2 84.0 196.9 81.7ZM134.4 47.5 131.7 50.0 134.4 52.5 137.2 50.0ZM228.6 102.0 225.9 104.6 228.6 105.6 231.4 102.9ZM173.5 73.1 170.8 75.8 173.5 76.9 176.2 74.2ZM185.0 79.1 182.2 81.8 185.0 84.0 187.7 81.4ZM138.9 93.6 136.2 94.5 138.9 95.8 141.7 94.9ZM150.4 99.7 147.7 100.5 150.4 102.9 153.1 102.1ZM129.7 93.6 127.0 94.8 129.7 95.7 132.5 94.5ZM150.4 104.6 147.7 105.7 150.4 108.5 153.1 107.4ZM83.7 78.9 81.0 81.2 83.7 83.8 86.5 81.6ZM118.2 99.6 115.5 102.0 118.2 102.8 120.9 100.4ZM138.9 110.7 136.1 112.9 138.9 115.6 141.6 113.3ZM173.4 131.4 170.6 133.8 173.4 134.7 176.1 132.2ZM74.5 78.9 71.8 81.5 74.5 83.8 77.3 81.2ZM118.2 104.6 115.4 107.3 118.2 108.4 120.9 105.7ZM129.7 110.6 126.9 113.2 129.7 115.5 132.4 112.9ZM173.4 136.4 170.6 139.1 173.3 140.2 176.1 137.5Z"/>
<path fill="#eeb94b" d="M150.6 39.1 147.8 40.0 150.6 42.6 153.3 41.7ZM244.8 93.4 242.0 94.5 244.8 95.5 247.5 94.4ZM173.5 70.5 170.8 73.1 173.5 74.0 176.2 71.4ZM189.6 79.0 186.8 81.4 189.6 83.9 192.3 81.4ZM95.3 70.4 92.5 71.3 95.2 73.9 98.0 73.0ZM134.3 93.5 131.6 94.5 134.3 95.6 137.1 94.5ZM150.4 102.0 147.7 102.9 150.4 105.5 153.1 104.6ZM189.5 125.2 186.7 126.3 189.5 127.4 192.2 126.3ZM79.1 78.7 76.4 81.2 79.1 83.7 81.9 81.2ZM118.2 101.9 115.5 104.5 118.2 105.5 120.9 102.9ZM134.3 110.5 131.5 113.0 134.3 115.4 137.0 113.0ZM173.4 133.8 170.6 136.4 173.4 137.3 176.1 134.7Z"/>
<path fill="#f2b949" d="M189.6 61.9 186.9 63.0 189.6 64.1 192.4 63.0ZM205.7 70.4 203.0 71.3 205.7 73.9 208.4 73.0Z"/>
<path fill="#f5ba46" d="M141.4 46.1 138.6 48.1 141.3 50.7 144.1 48.7ZM231.0 98.0 228.2 100.2 230.9 101.1 233.7 98.8ZM127.5 46.0 124.8 48.6 127.5 50.7 130.3 48.1ZM230.9 105.4 228.2 108.1 230.9 109.4 233.7 106.7ZM92.9 73.7 90.2 75.0 92.9 77.8 95.7 76.5ZM182.6 126.1 179.8 127.6 182.6 128.5 185.3 127.0ZM37.6 97.6 34.9 98.4 37.6 100.7 40.4 99.9ZM85.9 125.9 83.2 126.8 85.9 128.3 88.7 127.4ZM92.8 129.6 90.1 130.4 92.8 132.7 95.6 131.8ZM141.1 158.0 138.3 158.9 141.1 160.4 143.8 159.5Z"/>
<path fill="#f9bb43" d="M148.3 35.0 145.5 35.9 148.3 38.1 151.0 37.3ZM251.7 94.2 248.9 95.1 251.7 96.6 254.4 95.7ZM148.3 42.5 145.5 43.8 148.3 46.5 151.0 45.1ZM182.7 62.8 180.0 64.3 182.7 65.2 185.5 63.7ZM203.4 73.8 200.7 75.1 203.4 77.8 206.1 76.5ZM237.9 94.3 235.1 95.8 237.9 96.7 240.6 95.2ZM175.8 66.5 173.1 68.7 175.8 69.5 178.5 67.3ZM196.5 77.5 193.7 79.5 196.5 82.1 199.2 80.1ZM120.7 42.4 117.9 45.1 120.6 46.4 123.4 43.7ZM175.8 73.9 173.1 76.6 175.8 77.9 178.5 75.2ZM182.7 77.5 179.9 80.1 182.7 82.2 185.4 79.5ZM237.8 109.0 235.1 111.6 237.8 113.6 240.6 111.0ZM86.1 62.7 83.3 63.5 86.1 65.0 88.8 64.1ZM93.0 66.3 90.2 67.1 93.0 69.4 95.7 68.6ZM141.2 94.4 138.5 95.3 141.2 96.8 144.0 95.9ZM148.1 98.0 145.4 98.8 148.1 101.1 150.9 100.2ZM196.4 126.1 193.6 127.0 196.4 128.5 199.1 127.6ZM203.3 129.7 200.5 130.5 203.3 132.7 206.0 131.9ZM127.4 94.3 124.7 95.8 127.4 96.7 130.2 95.2ZM148.1 105.4 145.4 106.7 148.1 109.4 150.8 108.1ZM86.0 77.3 83.3 79.3 86.0 82.0 88.8 79.9ZM120.5 97.9 117.8 100.1 120.5 101.0 123.2 98.8ZM141.2 109.0 138.4 111.1 141.2 113.7 143.9 111.7ZM175.7 129.8 172.9 132.0 175.7 132.8 178.4 130.6ZM65.3 73.5 62.6 76.2 65.3 77.5 68.1 74.8ZM72.2 77.2 69.5 79.8 72.2 81.9 75.0 79.3ZM120.5 105.3 117.7 108.0 120.5 109.4 123.2 106.7ZM127.4 109.0 124.6 111.6 127.4 113.7 130.1 111.0ZM175.7 137.2 172.9 139.9 175.6 141.2 178.4 138.5ZM182.5 140.8 179.8 143.4 182.5 145.5 185.3 142.8ZM30.7 93.9 28.0 94.8 30.7 96.3 33.5 95.4ZM148.0 161.6 145.3 162.4 148.0 164.7 150.7 163.8Z"/>
<path fill="#fbbd40" d="M141.4 31.4 138.6 32.3 141.4 33.8 144.1 32.9ZM196.5 62.8 193.8 63.7 196.5 65.2 199.3 64.3ZM203.4 66.4 200.7 67.2 203.4 69.4 206.2 68.6ZM258.6 97.7 255.8 98.6 258.5 100.8 261.3 99.9ZM35.3 96.1 32.6 97.0 35.3 99.0 38.1 98.2ZM143.4 159.0 140.6 159.8 143.4 161.6 146.1 160.7Z"/>
<path fill="#febf3d" d="M146.0 43.4 143.2 45.0 146.0 47.7 148.7 46.1ZM180.4 63.8 177.7 65.6 180.4 66.4 183.2 64.7ZM201.1 74.8 198.4 76.4 201.1 79.0 203.8 77.5ZM235.6 95.3 232.8 97.1 235.5 97.9 238.3 96.2ZM143.7 44.6 140.9 46.4 143.6 49.1 146.4 47.3ZM178.1 65.0 175.4 67.0 178.1 67.9 180.9 65.9ZM198.8 76.0 196.0 77.8 198.8 80.5 201.5 78.7ZM233.3 96.5 230.5 98.5 233.2 99.4 236.0 97.4ZM136.7 45.7 134.0 48.0 136.7 50.5 139.5 48.2ZM230.9 100.2 228.2 102.6 230.9 103.5 233.7 101.1ZM132.1 45.7 129.4 48.2 132.1 50.5 134.9 48.0ZM230.9 102.6 228.2 105.2 230.9 106.3 233.7 103.7ZM122.9 43.4 120.2 46.0 122.9 47.6 125.7 44.9ZM125.2 44.6 122.5 47.2 125.2 49.0 128.0 46.4ZM178.1 74.9 175.3 77.5 178.1 79.1 180.8 76.4ZM180.4 76.1 177.6 78.7 180.4 80.5 183.1 77.9ZM233.2 106.4 230.5 109.1 233.2 110.6 236.0 107.9ZM235.5 107.6 232.8 110.2 235.5 112.0 238.3 109.3ZM88.4 63.6 85.6 64.5 88.4 66.3 91.1 65.4ZM90.7 64.9 87.9 65.7 90.7 67.7 93.4 66.9ZM143.5 95.4 140.8 96.2 143.5 98.0 146.3 97.1ZM145.8 96.6 143.1 97.4 145.8 99.4 148.6 98.5ZM198.7 127.1 195.9 128.0 198.7 129.7 201.4 128.8ZM201.0 128.3 198.2 129.1 201.0 131.1 203.7 130.2ZM90.6 74.7 87.9 76.2 90.6 78.9 93.4 77.4ZM125.1 95.3 122.4 97.0 125.1 97.9 127.9 96.2ZM145.8 106.4 143.1 108.0 145.8 110.6 148.5 109.1ZM180.3 127.1 177.5 128.8 180.3 129.7 183.0 128.0ZM88.3 75.9 85.6 77.7 88.3 80.3 91.1 78.6ZM122.8 96.5 120.1 98.5 122.8 99.3 125.5 97.4ZM143.5 107.6 140.7 109.4 143.5 112.1 146.2 110.2ZM178.0 128.3 175.2 130.3 178.0 131.2 180.7 129.2ZM67.6 74.5 64.9 77.1 67.6 78.7 70.4 76.1ZM69.9 75.7 67.2 78.4 69.9 80.2 72.7 77.6ZM122.8 106.3 120.0 109.0 122.8 110.6 125.5 107.9ZM125.1 107.5 122.3 110.2 125.1 112.0 127.8 109.4ZM177.9 138.2 175.2 140.8 177.9 142.4 180.7 139.7ZM180.2 139.4 177.5 142.0 180.2 143.8 183.0 141.2ZM33.0 94.9 30.3 95.8 33.0 97.5 35.8 96.7ZM88.2 126.9 85.5 127.8 88.2 129.5 91.0 128.7ZM90.5 128.2 87.8 129.0 90.5 131.0 93.3 130.1ZM145.7 160.2 143.0 161.0 145.7 163.0 148.4 162.1Z"/>
<path fill="#fec13a" d="M143.7 32.4 140.9 33.3 143.7 35.0 146.4 34.1ZM146.0 33.6 143.2 34.5 146.0 36.4 148.7 35.6ZM198.8 63.8 196.1 64.7 198.8 66.4 201.6 65.5ZM201.1 65.0 198.4 65.8 201.1 67.8 203.9 66.9ZM254.0 95.2 251.2 96.1 254.0 97.8 256.7 96.9ZM256.3 96.3 253.5 97.2 256.2 99.2 259.0 98.3ZM148.3 37.2 145.5 38.1 148.3 40.6 151.0 39.6ZM191.9 62.5 189.2 63.6 191.9 64.8 194.7 63.8ZM203.4 68.5 200.7 69.5 203.4 71.9 206.1 71.0ZM247.1 94.0 244.3 95.0 247.1 96.3 249.8 95.2ZM148.3 39.7 145.5 40.8 148.3 43.4 151.0 42.2ZM187.3 62.6 184.6 63.8 187.3 64.8 190.1 63.6ZM203.4 71.0 200.7 72.1 203.4 74.7 206.1 73.6ZM242.5 94.0 239.7 95.3 242.5 96.3 245.2 95.0ZM175.8 68.6 173.1 71.1 175.8 72.0 178.5 69.6ZM191.9 77.1 189.1 79.4 191.9 81.9 194.6 79.6ZM175.8 71.1 173.1 73.7 175.8 74.8 178.5 72.2ZM187.3 77.1 184.5 79.6 187.3 81.9 190.0 79.4ZM93.0 68.5 90.2 69.4 92.9 71.9 95.7 70.9ZM136.6 94.1 133.9 95.1 136.6 96.4 139.4 95.3ZM148.1 100.2 145.4 101.1 148.1 103.5 150.8 102.6ZM191.8 125.8 189.0 126.9 191.8 128.1 194.5 127.1ZM92.9 71.0 90.2 72.0 92.9 74.6 95.7 73.6ZM132.0 94.1 129.3 95.3 132.0 96.4 134.8 95.1ZM148.1 102.6 145.4 103.7 148.1 106.3 150.8 105.2ZM187.2 125.8 184.4 127.1 187.2 128.1 189.9 126.9ZM81.4 76.9 78.7 79.2 81.4 81.7 84.2 79.4ZM120.5 100.1 117.8 102.5 120.5 103.4 123.2 101.0ZM136.6 108.6 133.8 110.9 136.6 113.4 139.3 111.1ZM175.7 131.9 172.9 134.3 175.7 135.3 178.4 132.9ZM76.8 76.9 74.1 79.3 76.8 81.6 79.6 79.2ZM120.5 102.5 117.8 105.1 120.5 106.2 123.2 103.7ZM132.0 108.6 129.2 111.1 132.0 113.4 134.7 110.9ZM175.7 134.4 172.9 137.0 175.6 138.1 178.4 135.5Z"/>
<path fill="#fdcb30" d="M146.0 35.5 143.2 36.5 146.0 38.7 148.7 37.7ZM249.4 94.7 246.6 95.8 249.4 97.2 252.1 96.2ZM146.0 40.4 143.2 41.8 146.0 44.3 148.7 43.0ZM185.0 63.3 182.3 64.8 185.0 65.8 187.8 64.4ZM201.1 71.8 198.4 73.1 201.1 75.7 203.8 74.4ZM240.2 94.8 237.4 96.3 240.1 97.3 242.9 95.8ZM139.1 44.0 136.3 46.1 139.0 48.6 141.8 46.5ZM178.1 67.0 175.4 69.2 178.1 70.1 180.8 67.9ZM194.2 75.4 191.4 77.5 194.2 80.0 196.9 77.9ZM233.2 98.5 230.5 100.7 233.2 101.7 236.0 99.4ZM123.0 40.4 120.2 42.9 122.9 44.3 125.7 41.7ZM129.8 44.0 127.1 46.5 129.8 48.6 132.6 46.1ZM178.1 71.9 175.4 74.4 178.1 75.8 180.8 73.2ZM185.0 75.5 182.2 78.0 185.0 80.0 187.7 77.5ZM233.2 103.4 230.5 106.0 233.2 107.3 236.0 104.7ZM240.1 106.9 237.4 109.5 240.1 111.5 242.9 109.0ZM83.8 63.1 81.0 64.1 83.8 65.6 86.5 64.6ZM90.7 66.8 87.9 67.8 90.6 70.0 93.4 69.0ZM138.9 94.9 136.2 95.9 138.9 97.4 141.7 96.3ZM145.8 98.5 143.1 99.5 145.8 101.7 148.6 100.7ZM194.1 126.6 191.3 127.6 194.1 129.1 196.8 128.1ZM201.0 130.2 198.2 131.2 201.0 133.3 203.7 132.4ZM90.6 71.7 87.9 73.0 90.6 75.6 93.4 74.3ZM129.7 94.8 127.0 96.3 129.7 97.3 132.5 95.9ZM145.8 103.4 143.1 104.7 145.8 107.3 148.5 106.0ZM184.9 126.6 182.1 128.1 184.9 129.1 187.6 127.7ZM83.7 75.3 81.0 77.3 83.7 79.8 86.5 77.8ZM122.8 98.4 120.1 100.6 122.8 101.6 125.5 99.4ZM138.9 107.0 136.1 109.1 138.9 111.6 141.6 109.5ZM178.0 130.3 175.2 132.5 178.0 133.4 180.7 131.2ZM74.5 75.2 71.8 77.7 74.5 79.8 77.3 77.3ZM122.8 103.3 120.0 105.9 122.8 107.2 125.5 104.7ZM129.7 107.0 126.9 109.5 129.7 111.5 132.4 109.0ZM178.0 135.2 175.2 137.7 177.9 139.1 180.7 136.5Z"/>
<path fill="#fcce2e" d="M139.1 31.9 136.3 32.9 139.1 34.4 141.8 33.4ZM194.2 63.3 191.5 64.3 194.2 65.8 197.0 64.8ZM201.1 66.9 198.4 67.9 201.1 70.1 203.9 69.1ZM256.3 98.3 253.5 99.3 256.2 101.4 259.0 100.4ZM134.5 43.8 131.7 46.1 134.4 48.4 137.2 46.1ZM233.2 100.8 230.5 103.2 233.2 104.3 236.0 101.9ZM90.7 69.1 87.9 70.2 90.6 72.6 93.4 71.5ZM189.5 126.5 186.7 127.7 189.5 128.9 192.2 127.7ZM67.6 71.5 64.9 74.0 67.6 75.4 70.4 72.9ZM184.8 138.7 182.1 141.3 184.8 143.3 187.6 140.8Z"/>
<path fill="#fbd12b" d="M146.0 37.8 143.2 38.9 146.0 41.3 148.7 40.2ZM189.6 63.2 186.9 64.4 189.6 65.6 192.4 64.4ZM201.1 69.2 198.4 70.3 201.1 72.7 203.8 71.6ZM244.8 94.6 242.0 95.9 244.7 97.1 247.5 95.8ZM143.7 41.4 140.9 43.0 143.7 45.5 146.4 44.0ZM182.7 64.3 180.0 66.0 182.7 67.0 185.5 65.3ZM198.8 72.8 196.1 74.4 198.8 76.9 201.5 75.3ZM237.9 95.8 235.1 97.5 237.8 98.5 240.6 96.8ZM141.4 42.6 138.6 44.4 141.4 47.0 144.1 45.1ZM180.4 65.5 177.7 67.5 180.4 68.5 183.2 66.5ZM196.5 74.0 193.7 75.8 196.5 78.4 199.2 76.5ZM235.6 97.0 232.8 99.0 235.5 100.0 238.3 98.0ZM178.1 69.2 175.4 71.7 178.1 72.8 180.8 70.4ZM189.6 75.3 186.8 77.6 189.6 79.9 192.3 77.6ZM125.3 41.4 122.5 43.9 125.2 45.5 128.0 42.9ZM127.6 42.6 124.8 45.1 127.5 46.9 130.3 44.4ZM180.4 72.8 177.6 75.4 180.4 77.0 183.1 74.4ZM182.7 74.0 179.9 76.6 182.7 78.4 185.4 75.9ZM235.5 104.3 232.8 106.9 235.5 108.5 238.3 105.9ZM237.8 105.5 235.1 108.1 237.8 109.9 240.6 107.3ZM86.1 64.1 83.3 65.1 86.1 66.9 88.8 65.9ZM88.4 65.4 85.6 66.3 88.4 68.3 91.1 67.3ZM141.2 95.9 138.5 96.9 141.2 98.6 144.0 97.6ZM143.5 97.1 140.8 98.0 143.5 100.0 146.3 99.0ZM196.4 127.6 193.6 128.6 196.4 130.3 199.1 129.3ZM198.7 128.8 195.9 129.8 198.7 131.7 201.4 130.7ZM134.3 94.7 131.6 95.9 134.3 97.1 137.1 95.9ZM145.8 100.8 143.1 101.9 145.8 104.3 148.5 103.2ZM88.3 72.7 85.6 74.2 88.3 76.8 91.1 75.2ZM127.4 95.8 124.7 97.5 127.4 98.5 130.2 96.8ZM143.5 104.4 140.8 105.9 143.5 108.5 146.2 106.9ZM182.6 127.6 179.8 129.3 182.6 130.3 185.3 128.6ZM86.0 73.9 83.3 75.7 86.0 78.2 88.8 76.4ZM125.1 97.0 122.4 99.0 125.1 100.0 127.8 98.0ZM141.2 105.6 138.4 107.4 141.2 109.9 143.9 108.1ZM180.3 128.8 177.5 130.8 180.3 131.8 183.0 129.8ZM79.1 75.0 76.4 77.3 79.1 79.6 81.9 77.4ZM122.8 100.7 120.1 103.1 122.8 104.2 125.5 101.8ZM134.3 106.8 131.5 109.1 134.3 111.4 137.0 109.1ZM178.0 132.5 175.2 134.9 178.0 136.1 180.7 133.6ZM72.2 73.7 69.5 76.2 72.2 78.1 75.0 75.6ZM180.3 136.1 177.5 138.7 180.2 140.3 183.0 137.7Z"/>
<path fill="#fad329" d="M141.4 32.9 138.6 33.9 141.4 35.6 144.1 34.6ZM143.7 34.1 140.9 35.1 143.7 37.0 146.4 36.1ZM196.5 64.3 193.8 65.3 196.5 67.0 199.3 66.0ZM198.8 65.5 196.1 66.5 198.8 68.4 201.6 67.4ZM251.7 95.7 248.9 96.7 251.6 98.4 254.4 97.4ZM254.0 96.9 251.2 97.9 253.9 99.8 256.7 98.8ZM69.9 72.5 67.2 75.0 69.9 76.6 72.7 74.1ZM125.1 104.3 122.3 106.9 125.1 108.4 127.8 105.9ZM127.4 105.5 124.6 108.0 127.4 109.9 130.1 107.4ZM182.6 137.3 179.8 139.9 182.5 141.7 185.3 139.1Z"/>
<path fill="#f6db23" d="M143.7 36.1 140.9 37.3 143.7 39.5 146.4 38.3ZM191.9 63.9 189.2 65.1 191.9 66.6 194.7 65.4ZM198.8 67.5 196.1 68.7 198.8 70.9 201.6 69.7ZM247.1 95.4 244.3 96.6 247.0 98.0 249.8 96.8ZM143.7 38.6 140.9 39.9 143.7 42.3 146.4 41.0ZM187.3 63.9 184.6 65.4 187.3 66.6 190.1 65.1ZM198.8 70.0 196.1 71.3 198.8 73.7 201.5 72.3ZM242.5 95.4 239.7 96.9 242.4 98.1 245.2 96.6ZM136.8 42.2 134.0 44.3 136.7 46.6 139.5 44.5ZM180.4 67.6 177.7 69.8 180.4 70.9 183.1 68.7ZM191.9 73.6 189.1 75.7 191.9 78.0 194.6 75.9ZM235.5 99.1 232.8 101.3 235.5 102.4 238.3 100.2ZM125.3 38.5 122.5 40.9 125.3 42.3 128.0 39.9ZM132.2 42.2 129.4 44.5 132.1 46.6 134.9 44.3ZM180.4 70.0 177.7 72.4 180.4 73.7 183.1 71.4ZM187.3 73.6 184.5 75.9 187.3 78.0 190.0 75.7ZM235.5 101.5 232.8 103.9 235.5 105.2 238.3 102.8ZM242.4 105.1 239.7 107.4 242.4 109.5 245.2 107.1ZM81.5 63.7 78.7 64.9 81.4 66.4 84.2 65.2ZM88.4 67.4 85.6 68.5 88.3 70.7 91.1 69.6ZM136.6 95.5 133.9 96.7 136.6 98.1 139.4 96.9ZM143.5 99.1 140.8 100.2 143.5 102.4 146.3 101.3ZM191.8 127.2 189.0 128.4 191.8 129.9 194.5 128.7ZM198.7 130.8 195.9 132.0 198.7 134.1 201.4 133.0ZM88.3 69.8 85.6 71.2 88.3 73.6 91.1 72.3ZM132.0 95.5 129.3 96.9 132.0 98.1 134.8 96.7ZM143.5 101.5 140.8 102.9 143.5 105.3 146.2 103.9ZM187.2 127.2 184.4 128.7 187.2 129.9 189.9 128.4ZM81.4 73.4 78.7 75.5 81.4 77.8 84.2 75.7ZM125.1 99.1 122.4 101.2 125.1 102.4 127.8 100.2ZM136.6 105.1 133.8 107.2 136.6 109.5 139.3 107.5ZM180.3 130.9 177.5 133.1 180.3 134.2 183.0 132.0ZM69.9 69.7 67.2 72.0 69.9 73.4 72.7 71.0ZM76.8 73.4 74.1 75.7 76.8 77.8 79.6 75.5ZM125.1 101.5 122.3 103.9 125.1 105.2 127.8 102.8ZM132.0 105.1 129.2 107.4 132.0 109.5 134.7 107.2ZM180.3 133.3 177.5 135.7 180.3 137.0 183.0 134.6ZM187.2 136.9 184.4 139.2 187.1 141.3 189.9 139.0Z"/>
<path fill="#f5de21" d="M136.8 32.5 134.0 33.7 136.8 35.2 139.5 34.0ZM253.9 98.9 251.2 100.1 253.9 102.2 256.7 101.1Z"/>
<path fill="#f5e11f" d="M141.4 34.7 138.6 35.9 141.4 37.8 144.1 36.7ZM194.2 64.9 191.5 66.1 194.2 67.8 197.0 66.6ZM196.5 66.1 193.8 67.3 196.5 69.2 199.3 68.0ZM249.4 96.3 246.6 97.5 249.3 99.2 252.1 98.0ZM141.4 39.6 138.6 41.1 141.4 43.5 144.1 41.9ZM185.0 64.9 182.3 66.6 185.0 67.8 187.8 66.1ZM196.5 70.9 193.8 72.5 196.5 74.9 199.2 73.3ZM240.2 96.4 237.4 98.1 240.1 99.3 242.9 97.6ZM139.1 40.8 136.3 42.6 139.1 44.9 141.8 43.1ZM182.7 66.1 180.0 68.1 182.7 69.3 185.5 67.3ZM194.2 72.2 191.4 74.0 194.2 76.3 196.9 74.5ZM237.8 97.6 235.1 99.6 237.8 100.7 240.6 98.8ZM127.6 39.5 124.8 41.9 127.5 43.5 130.3 41.1ZM129.9 40.7 127.1 43.1 129.8 44.9 132.6 42.6ZM182.7 71.0 179.9 73.4 182.7 74.9 185.4 72.6ZM185.0 72.2 182.2 74.5 185.0 76.4 187.7 74.0ZM237.8 102.5 235.1 104.9 237.8 106.4 240.6 104.0ZM240.1 103.6 237.4 106.0 240.1 107.8 242.9 105.5ZM83.8 64.7 81.0 65.9 83.7 67.6 86.5 66.4ZM86.1 66.0 83.3 67.1 86.0 69.1 88.8 67.9ZM138.9 96.5 136.2 97.6 138.9 99.3 141.7 98.2ZM141.2 97.7 138.5 98.8 141.2 100.8 144.0 99.6ZM194.1 128.2 191.3 129.4 194.1 131.1 196.8 129.9ZM196.4 129.4 193.6 130.6 196.4 132.5 199.1 131.3ZM86.0 70.8 83.3 72.4 86.0 74.8 88.8 73.2ZM129.7 96.4 127.0 98.1 129.7 99.3 132.5 97.6ZM141.2 102.5 138.5 104.1 141.2 106.5 143.9 104.9ZM184.9 128.2 182.1 129.9 184.9 131.1 187.6 129.4ZM83.7 72.0 81.0 73.8 83.7 76.2 86.5 74.4ZM127.4 97.6 124.7 99.6 127.4 100.7 130.1 98.8ZM138.9 103.7 136.1 105.5 138.9 107.9 141.6 106.1ZM182.6 129.4 179.8 131.4 182.6 132.5 185.3 130.6ZM72.2 70.7 69.5 73.0 72.2 74.6 75.0 72.3ZM74.5 71.9 71.8 74.2 74.5 76.1 77.3 73.8ZM127.4 102.5 124.6 104.8 127.4 106.4 130.1 104.1ZM129.7 103.7 126.9 106.0 129.7 107.9 132.4 105.5ZM182.6 134.3 179.8 136.6 182.5 138.2 185.3 135.8ZM184.9 135.5 182.1 137.8 184.8 139.6 187.6 137.3Z"/>
<path fill="#f5e41d" d="M139.1 33.5 136.3 34.7 139.1 36.4 141.8 35.2ZM251.7 97.5 248.9 98.7 251.6 100.6 254.4 99.4Z"/>
<path fill="#f5e81a" d="M141.4 36.9 138.6 38.3 141.4 40.5 144.1 39.1ZM189.6 64.7 186.9 66.2 189.6 67.6 192.4 66.1ZM196.5 68.3 193.8 69.7 196.5 71.8 199.3 70.5ZM244.8 96.2 242.0 97.6 244.7 99.0 247.5 97.6ZM127.6 36.9 124.8 39.0 127.6 40.4 130.3 38.2ZM134.5 40.5 131.7 42.6 134.5 44.7 137.2 42.6ZM182.7 68.4 180.0 70.5 182.7 71.9 185.4 69.7ZM189.6 71.9 186.8 74.1 189.6 76.2 192.3 74.0ZM237.8 99.8 235.1 102.0 237.8 103.4 240.6 101.2ZM244.7 103.4 242.0 105.5 244.7 107.6 247.5 105.5ZM79.2 64.5 76.4 65.9 79.1 67.3 81.9 65.9ZM86.0 68.2 83.3 69.5 86.0 71.7 88.8 70.4ZM134.3 96.2 131.6 97.7 134.3 99.1 137.1 97.7ZM141.2 99.9 138.5 101.2 141.2 103.4 143.9 102.1ZM189.5 128.0 186.7 129.4 189.5 130.9 192.2 129.4ZM196.4 131.6 193.6 133.0 196.4 135.1 199.1 133.8ZM72.2 68.0 69.5 70.2 72.2 71.6 75.0 69.4ZM79.1 71.7 76.4 73.8 79.1 75.9 81.9 73.8ZM127.4 99.8 124.6 102.0 127.4 103.4 130.1 101.2ZM134.3 103.5 131.5 105.6 134.3 107.7 137.0 105.6ZM182.6 131.6 179.8 133.8 182.6 135.2 185.3 133.0ZM189.5 135.2 186.7 137.3 189.4 139.4 192.2 137.3Z"/>
<path fill="#f5eb18" d="M134.5 33.3 131.7 34.7 134.5 36.1 137.2 34.7ZM251.6 99.7 248.9 101.1 251.6 103.2 254.4 101.8Z"/>
<path fill="#f6ef16" d="M139.1 35.5 136.3 36.9 139.1 38.8 141.8 37.4ZM247.0 97.1 244.3 98.5 247.0 100.2 249.8 98.8ZM139.1 37.9 136.3 39.5 139.1 41.7 141.8 40.0ZM187.3 65.7 184.6 67.4 187.3 68.8 190.1 67.1ZM194.2 69.3 191.5 70.9 194.2 73.1 197.0 71.4ZM242.4 97.2 239.7 98.9 242.4 100.2 245.2 98.5ZM129.9 35.4 127.1 37.4 129.9 38.8 132.6 36.8ZM136.8 39.1 134.0 40.9 136.8 43.1 139.5 41.2ZM185.0 66.9 182.3 68.8 185.0 70.2 187.8 68.3ZM191.9 70.5 189.1 72.4 191.9 74.5 194.6 72.6ZM240.1 98.4 237.4 100.3 240.1 101.7 242.9 99.7ZM247.0 101.9 244.3 103.8 247.0 105.9 249.8 104.0ZM129.9 37.9 127.1 40.0 129.9 41.6 132.6 39.5ZM132.2 39.1 129.4 41.2 132.2 43.1 134.9 40.9ZM185.0 69.3 182.2 71.5 185.0 73.1 187.7 70.9ZM187.3 70.5 184.5 72.7 187.3 74.5 190.0 72.4ZM240.1 100.8 237.4 103.0 240.1 104.5 242.9 102.4ZM242.4 102.0 239.7 104.1 242.4 106.0 245.2 103.8ZM81.5 65.5 78.7 66.9 81.4 68.6 84.2 67.2ZM83.8 66.7 81.0 68.1 83.7 70.0 86.5 68.7ZM136.6 97.2 133.9 98.6 136.6 100.3 139.4 98.9ZM138.9 98.4 136.2 99.8 138.9 101.8 141.7 100.4ZM191.8 129.0 189.0 130.4 191.8 132.1 194.5 130.6ZM194.1 130.2 191.3 131.6 194.1 133.5 196.8 132.1ZM83.7 69.1 81.0 70.7 83.7 72.9 86.5 71.3ZM132.0 97.2 129.3 98.9 132.0 100.3 134.8 98.6ZM138.9 100.9 136.1 102.5 138.9 104.6 141.6 103.0ZM187.2 129.0 184.4 130.7 187.2 132.1 189.9 130.4ZM81.4 70.3 78.7 72.1 81.4 74.3 84.2 72.5ZM129.7 98.4 126.9 100.3 129.7 101.7 132.4 99.8ZM136.6 102.0 133.8 103.9 136.6 106.0 139.3 104.2ZM184.9 130.2 182.1 132.1 184.9 133.5 187.6 131.6ZM74.5 69.0 71.8 71.2 74.5 72.8 77.3 70.7ZM76.8 70.3 74.1 72.4 76.8 74.3 79.6 72.1ZM129.7 100.8 126.9 103.0 129.7 104.6 132.4 102.4ZM132.0 102.0 129.2 104.1 132.0 106.0 134.7 103.9ZM184.9 132.6 182.1 134.8 184.9 136.4 187.6 134.2ZM187.2 133.8 184.4 135.9 187.2 137.8 189.9 135.7Z"/>
<path fill="#f6f313" d="M136.8 34.3 134.0 35.7 136.8 37.3 139.5 35.9ZM191.9 65.7 189.2 67.1 191.9 68.8 194.7 67.4ZM194.2 66.9 191.5 68.3 194.2 70.2 197.0 68.8ZM249.3 98.3 246.6 99.7 249.3 101.6 252.1 100.2ZM132.2 34.2 129.4 35.9 132.2 37.3 134.9 35.7ZM249.3 100.7 246.6 102.3 249.3 104.5 252.1 102.8ZM76.8 65.4 74.1 67.1 76.8 68.5 79.6 66.9ZM194.1 132.6 191.3 134.2 194.1 136.3 196.8 134.7ZM74.5 66.6 71.8 68.5 74.5 69.9 77.3 68.0ZM191.8 133.8 189.0 135.7 191.8 137.8 194.5 135.9Z"/>
<path fill="#f8f710" d="M136.8 36.4 134.0 38.1 136.8 40.0 139.5 38.4ZM244.7 98.1 242.0 99.8 244.7 101.4 247.5 99.7ZM132.2 36.4 129.4 38.3 132.2 40.0 134.9 38.1ZM134.5 37.6 131.7 39.5 134.5 41.4 137.2 39.5ZM187.3 67.9 184.6 69.8 187.3 71.4 190.1 69.5ZM189.6 69.1 186.8 71.0 189.6 72.8 192.4 71.0ZM242.4 99.3 239.7 101.3 242.4 102.9 245.2 100.9ZM244.7 100.5 242.0 102.4 244.7 104.3 247.5 102.4ZM81.4 67.7 78.7 69.3 81.4 71.2 84.2 69.6ZM134.3 98.2 131.6 99.8 134.3 101.5 137.1 99.9ZM136.6 99.4 133.8 101.0 136.6 102.9 139.4 101.3ZM189.5 130.0 186.7 131.6 189.5 133.3 192.2 131.6ZM79.1 68.8 76.4 70.7 79.1 72.6 81.9 70.8ZM132.0 99.4 129.2 101.3 132.0 102.9 134.7 101.0ZM134.3 100.6 131.5 102.5 134.3 104.4 137.0 102.5ZM187.2 131.2 184.4 133.1 187.2 134.7 189.9 132.8Z"/>
<path fill="#f9fb0e" d="M134.5 35.2 131.7 36.9 134.5 38.5 137.2 36.9ZM189.6 66.7 186.9 68.3 189.6 70.0 192.4 68.3ZM191.9 67.9 189.2 69.5 191.9 71.4 194.7 69.8ZM247.0 99.3 244.3 100.9 247.0 102.8 249.8 101.2ZM79.1 66.4 76.4 68.1 79.1 69.7 81.9 68.1ZM191.8 131.2 189.0 132.8 191.8 134.7 194.5 133.0ZM76.8 67.6 74.1 69.5 76.8 71.2 79.6 69.3ZM189.5 132.4 186.7 134.3 189.5 136.1 192.2 134.2Z"/></g></g>
<path d="M37.3 105.1L148.0 169.3L258.9 105.4M37.3 105.1L37.3 91.5" fill="none" stroke="#5a5a5a" stroke-width="0.8"/>
<path d="M37.3 105.1l-2.5 1.4M92.7 137.2l-2.5 1.4M148.0 169.3l-2.5 1.4M258.9 105.4l2.5 1.4M203.4 137.4l2.5 1.4M148.0 169.3l2.5 1.4M37.3 105.1l-2.4 0M37.3 91.5l-2.4 0" fill="none" stroke="#5a5a5a" stroke-width="0.8"/>
<path d="M83.2 65.1L197.2 130.0" stroke="#000" stroke-width="2.3" stroke-linecap="round"/>
<path d="M83.2 65.1L293.9 13.2" stroke="#000" stroke-width="1.4" stroke-dasharray="1.8 1.2"/>
<path d="M197.2 130.0L310.4 73.2" stroke="#000" stroke-width="1.4" stroke-dasharray="1.8 1.2"/>
<rect x="54.1" y="36.1" width="13.1" height="30.8" fill="url(#cbg)" stroke="#4a4a4a" stroke-width="0.7"/>
<path d="M311.3 12.3L311.3 69.5L532.3 69.5" fill="none" stroke="#5a5a5a" stroke-width="0.8"/>
<path d="M366.6 69.5l0 -2M421.8 69.5l0 -2M477.1 69.5l0 -2M532.3 69.5l0 -2M311.3 41.0l2 0M311.3 12.4l2 0" fill="none" stroke="#5a5a5a" stroke-width="0.8"/>
<path d="M311.30 40.95L312.41 39.16L313.51 37.37L314.62 35.60L315.72 33.85L316.82 32.13L317.93 30.44L319.04 28.79L320.14 27.20L321.25 25.65L322.35 24.17L323.46 22.75L324.56 21.41L325.67 20.14L326.77 18.95L327.88 17.85L328.98 16.84L330.09 15.93L331.19 15.12L332.30 14.40L333.40 13.80L334.50 13.30L335.61 12.91L336.72 12.63L337.82 12.46L338.93 12.40L340.03 12.46L341.13 12.63L342.24 12.91L343.35 13.30L344.45 13.80L345.56 14.40L346.66 15.12L347.76 15.93L348.87 16.84L349.98 17.85L351.08 18.95L352.19 20.14L353.29 21.41L354.39 22.75L355.50 24.17L356.61 25.65L357.71 27.20L358.81 28.79L359.92 30.44L361.03 32.13L362.13 33.85L363.24 35.60L364.34 37.37L365.45 39.16L366.55 40.95L367.66 42.74L368.76 44.53L369.87 46.30L370.97 48.05L372.08 49.77L373.18 51.46L374.29 53.11L375.39 54.70L376.50 56.25L377.60 57.73L378.71 59.15L379.81 60.49L380.92 61.76L382.02 62.95L383.12 64.05L384.23 65.06L385.34 65.97L386.44 66.78L387.55 67.50L388.65 68.10L389.75 68.60L390.86 68.99L391.97 69.27L393.07 69.44L394.18 69.50L395.28 69.44L396.38 69.27L397.49 68.99L398.60 68.60L399.70 68.10L400.81 67.50L401.91 66.78L403.02 65.97L404.12 65.06L405.23 64.05L406.33 62.95L407.44 61.76L408.54 60.49L409.65 59.15L410.75 57.73L411.86 56.25L412.96 54.70L414.07 53.11L415.17 51.46L416.28 49.77L417.38 48.05L418.49 46.30L419.59 44.53L420.70 42.74L421.80 40.95L422.91 39.16L424.01 37.37L425.12 35.60L426.22 33.85L427.33 32.13L428.43 30.44L429.54 28.79L430.64 27.20L431.75 25.65L432.85 24.17L433.96 22.75L435.06 21.41L436.17 20.14L437.27 18.95L438.38 17.85L439.48 16.84L440.59 15.93L441.69 15.12L442.80 14.40L443.90 13.80L445.00 13.30L446.11 12.91L447.22 12.63L448.32 12.46L449.43 12.40L450.53 12.46L451.63 12.63L452.74 12.91L453.85 13.30L454.95 13.80L456.06 14.40L457.16 15.12L458.26 15.93L459.37 16.84L460.48 17.85L461.58 18.95L462.69 20.14L463.79 21.41L464.90 22.75L466.00 24.17L467.11 25.65L468.21 27.20L469.32 28.79L470.42 30.44L471.53 32.13L472.63 33.85L473.74 35.60L474.84 37.37L475.95 39.16L477.05 40.95L478.16 42.74L479.26 44.53L480.37 46.30L481.47 48.05L482.58 49.77L483.68 51.46L484.79 53.11L485.89 54.70L487.00 56.25L488.10 57.73L489.21 59.15L490.31 60.49L491.42 61.76L492.52 62.95L493.62 64.05L494.73 65.06L495.84 65.97L496.94 66.78L498.05 67.50L499.15 68.10L500.26 68.60L501.36 68.99L502.47 69.27L503.57 69.44L504.68 69.50L505.78 69.44L506.88 69.27L507.99 68.99L509.10 68.60L510.20 68.10L511.31 67.50L512.41 66.78L513.52 65.97L514.62 65.06L515.73 64.05L516.83 62.95L517.94 61.76L519.04 60.49L520.14 59.15L521.25 57.73L522.36 56.25L523.46 54.70L524.57 53.11L525.67 51.46L526.78 49.77L527.88 48.05L528.99 46.30L530.09 44.53L531.20 42.74L532.30 40.95" fill="none" stroke="#e08a5c" stroke-width="1"/>
<rect x="440.7" y="9.0" width="16.5" height="16.1" fill="none" stroke="#f50c0c" stroke-width="1.4"/>
<clipPath id="lc171"><rect x="311.3" y="114.4" width="220.3" height="57.2"/></clipPath>
<g clip-path="url(#lc171)">
<path d="M375.77 174.23L377.11 172.54L378.46 170.87L379.80 169.23L381.14 167.60L382.49 165.99L383.83 164.41L385.18 162.85L386.52 161.31L387.86 159.79L389.21 158.30L390.55 156.83L391.90 155.39L393.24 153.97L394.58 152.58L395.93 151.21L397.27 149.86L398.61 148.54L399.96 147.25L401.30 145.98L402.65 144.74L403.99 143.53L405.33 142.34L406.68 141.18L408.02 140.05L409.37 138.95L410.71 137.87L412.05 136.83L413.40 135.81L414.74 134.82L416.08 133.86L417.43 132.93L418.77 132.03L420.12 131.15L421.46 130.31L422.80 129.50L424.15 128.72L425.49 127.97L426.84 127.25L428.18 126.56L429.52 125.90L430.87 125.27L432.21 124.68L433.55 124.11L434.90 123.58L436.24 123.08L437.59 122.61L438.93 122.17L440.27 121.77L441.62 121.39L442.96 121.05L444.31 120.74L445.65 120.47L446.99 120.22L448.34 120.01L449.68 119.83L451.02 119.69L452.37 119.57L453.71 119.49L455.06 119.44L456.40 119.43L457.74 119.44L459.09 119.49L460.43 119.57L461.78 119.69L463.12 119.83L464.46 120.01L465.81 120.22L467.15 120.47L468.49 120.74L469.84 121.05L471.18 121.39L472.53 121.77L473.87 122.17L475.21 122.61L476.56 123.08L477.90 123.58L479.25 124.11L480.59 124.68L481.93 125.27L483.28 125.90L484.62 126.56L485.96 127.25L487.31 127.97L488.65 128.72L490.00 129.50L491.34 130.31L492.68 131.15L494.03 132.03L495.37 132.93L496.72 133.86L498.06 134.82L499.40 135.81L500.75 136.83L502.09 137.87L503.43 138.95L504.78 140.05L506.12 141.18L507.47 142.34L508.81 143.53L510.15 144.74L511.50 145.98L512.84 147.25L514.19 148.54L515.53 149.86L516.87 151.21L518.22 152.58L519.56 153.97L520.90 155.39L522.25 156.83L523.59 158.30L524.94 159.79L526.28 161.31L527.62 162.85L528.97 164.41L530.31 165.99L531.66 167.60L533.00 169.23L534.34 170.87L535.69 172.54L537.03 174.23L537.03 182.78L535.69 181.09L534.34 179.42L533.00 177.78L531.66 176.15L530.31 174.54L528.97 172.96L527.62 171.40L526.28 169.86L524.94 168.34L523.59 166.85L522.25 165.38L520.90 163.94L519.56 162.52L518.22 161.13L516.87 159.76L515.53 158.41L514.19 157.09L512.84 155.80L511.50 154.53L510.15 153.29L508.81 152.08L507.47 150.89L506.12 149.73L504.78 148.60L503.43 147.50L502.09 146.42L500.75 145.38L499.40 144.36L498.06 143.37L496.72 142.41L495.37 141.48L494.03 140.58L492.68 139.70L491.34 138.86L490.00 138.05L488.65 137.27L487.31 136.52L485.96 135.80L484.62 135.11L483.28 134.45L481.93 133.82L480.59 133.23L479.25 132.66L477.90 132.13L476.56 131.63L475.21 131.16L473.87 130.72L472.53 130.32L471.18 129.94L469.84 129.60L468.49 129.29L467.15 129.02L465.81 128.77L464.46 128.56L463.12 128.38L461.78 128.24L460.43 128.12L459.09 128.04L457.74 127.99L456.40 127.98L455.06 127.99L453.71 128.04L452.37 128.12L451.02 128.24L449.68 128.38L448.34 128.56L446.99 128.77L445.65 129.02L444.31 129.29L442.96 129.60L441.62 129.94L440.27 130.32L438.93 130.72L437.59 131.16L436.24 131.63L434.90 132.13L433.55 132.66L432.21 133.23L430.87 133.82L429.52 134.45L428.18 135.11L426.84 135.80L425.49 136.52L424.15 137.27L422.80 138.05L421.46 138.86L420.12 139.70L418.77 140.58L417.43 141.48L416.08 142.41L414.74 143.37L413.40 144.36L412.05 145.38L410.71 146.42L409.37 147.50L408.02 148.60L406.68 149.73L405.33 150.89L403.99 152.08L402.65 153.29L401.30 154.53L399.96 155.80L398.61 157.09L397.27 158.41L395.93 159.76L394.58 161.13L393.24 162.52L391.90 163.94L390.55 165.38L389.21 166.85L387.86 168.34L386.52 169.86L385.18 171.40L383.83 172.96L382.49 174.54L381.14 176.15L379.80 177.78L378.46 179.42L377.11 181.09L375.77 182.78Z" fill="#cdcdcd"/>
<path d="M378.56 175.02L379.86 173.43L381.15 171.86L382.45 170.31L383.75 168.78L385.05 167.27L386.34 165.79L387.64 164.32L388.94 162.88L390.24 161.45L391.53 160.05L392.83 158.68L394.13 157.32L395.42 155.99L396.72 154.68L398.02 153.40L399.32 152.14L400.61 150.90L401.91 149.69L403.21 148.50L404.51 147.34L405.80 146.21L407.10 145.10L408.40 144.01L409.70 142.96L410.99 141.92L412.29 140.92L413.59 139.94L414.88 138.99L416.18 138.06L417.48 137.17L418.78 136.30L420.07 135.46L421.37 134.64L422.67 133.86L423.97 133.10L425.26 132.37L426.56 131.67L427.86 131.00L429.16 130.35L430.45 129.74L431.75 129.15L433.05 128.60L434.35 128.07L435.64 127.57L436.94 127.11L438.24 126.67L439.53 126.26L440.83 125.88L442.13 125.54L443.43 125.22L444.72 124.93L446.02 124.67L447.32 124.44L448.62 124.25L449.91 124.08L451.21 123.94L452.51 123.84L453.81 123.76L455.10 123.72L456.40 123.70L457.70 123.72L458.99 123.76L460.29 123.84L461.59 123.94L462.89 124.08L464.18 124.25L465.48 124.44L466.78 124.67L468.08 124.93L469.37 125.22L470.67 125.54L471.97 125.88L473.27 126.26L474.56 126.67L475.86 127.11L477.16 127.57L478.45 128.07L479.75 128.60L481.05 129.15L482.35 129.74L483.64 130.35L484.94 131.00L486.24 131.67L487.54 132.37L488.83 133.10L490.13 133.86L491.43 134.64L492.73 135.46L494.02 136.30L495.32 137.17L496.62 138.06L497.92 138.99L499.21 139.94L500.51 140.92L501.81 141.92L503.10 142.96L504.40 144.01L505.70 145.10L507.00 146.21L508.29 147.34L509.59 148.50L510.89 149.69L512.19 150.90L513.48 152.14L514.78 153.40L516.08 154.68L517.38 155.99L518.67 157.32L519.97 158.68L521.27 160.05L522.56 161.45L523.86 162.88L525.16 164.32L526.46 165.79L527.75 167.27L529.05 168.78L530.35 170.31L531.65 171.86L532.94 173.43L534.24 175.02" fill="none" stroke="#e08a5c" stroke-width="0.9"/>
</g>
<path d="M311.3 114.4L311.3 171.6L531.6 171.6" fill="none" stroke="#5a5a5a" stroke-width="0.8"/>
<path d="M316.9 171.6l0 -2M372.7 171.6l0 -2M428.5 171.6l0 -2M484.3 171.6l0 -2M311.3 123.0l2 0M311.3 151.5l2 0" fill="none" stroke="#5a5a5a" stroke-width="0.8"/>
<rect x="323.1" y="118.1" width="67.7" height="27.9" fill="#fff" stroke="#555" stroke-width="0.7"/>
<rect x="325.2" y="121.0" width="15.2" height="9.4" fill="#cdcdcd"/>
<path d="M325.2 138.3l15.2 0" stroke="#e08a5c" stroke-width="0.9"/>
<path d="M456.1 101.0L456.1 112.0 M456.1 146.9L456.1 135.0" stroke="#000" stroke-width="1.4"/>
<path d="M456.1 118.0l-2.9 -8.2l5.8 0Z M456.1 129.0l-2.9 8.2l5.8 0Z" fill="#000"/>
<path d="M440.7 25.1L378.2 170.5" stroke="#f51d1d" stroke-width="1.35" stroke-dasharray="7 3.6"/>
<path d="M456.8 25.1L534.8 166.7" stroke="#f51d1d" stroke-width="1.35" stroke-dasharray="7 3.6"/>
<g fill="#262626"><text x="50.0" y="40.0" font-size="10.1" text-anchor="end" font-family='"Liberation Sans", Arial, sans-serif'>2</text>
<text x="50.0" y="55.8" font-size="10.1" text-anchor="end" font-family='"Liberation Sans", Arial, sans-serif'>0</text>
<text x="50.0" y="71.5" font-size="10.1" text-anchor="end" font-family='"Liberation Sans", Arial, sans-serif'>-2</text>
<text x="31.2" y="93.6" font-size="10.1" text-anchor="end" font-family='"Liberation Sans", Arial, sans-serif'>2</text>
<text x="31.2" y="107.8" font-size="10.1" text-anchor="end" font-family='"Liberation Sans", Arial, sans-serif'>-2</text>
<text x="31.2" y="119.9" font-size="10.5" text-anchor="end" font-family='"Liberation Sans", Arial, sans-serif'>0</text>
<text x="80.8" y="152.7" font-size="10.5" text-anchor="middle" font-family='"Liberation Sans", Arial, sans-serif'>20</text>
<text x="136.6" y="183.9" font-size="10.5" text-anchor="middle" font-family='"Liberation Sans", Arial, sans-serif'>40</text>
<text x="159.8" y="184.1" font-size="10.5" text-anchor="middle" font-family='"Liberation Sans", Arial, sans-serif'>40</text>
<text x="215.3" y="152.6" font-size="10.5" text-anchor="middle" font-family='"Liberation Sans", Arial, sans-serif'>20</text>
<text x="267.1" y="120.8" font-size="10.5" text-anchor="middle" font-family='"Liberation Sans", Arial, sans-serif'>0</text>
<text x="55.7" y="182.8" font-size="11.7" text-anchor="start" font-family='"Liberation Sans", Arial, sans-serif'>y (mm)</text>
<text x="204.1" y="181.6" font-size="11.7" text-anchor="start" font-family='"Liberation Sans", Arial, sans-serif'>x (mm)</text>
<text x="15.5" y="99.0" font-size="11.9" text-anchor="middle" font-family='"Liberation Sans", Arial, sans-serif' transform="rotate(-90 15.5 99.0)">z (mm)</text>
<text x="9.0" y="197.6" font-size="14.2" text-anchor="start" font-family='"Liberation Serif", "Times New Roman", serif' fill="#000" stroke="#000" stroke-width="0.12">(a)</text>
<text x="307.4" y="16.8" font-size="10.5" text-anchor="end" font-family='"Liberation Sans", Arial, sans-serif'>2</text>
<text x="307.4" y="44.9" font-size="10.5" text-anchor="end" font-family='"Liberation Sans", Arial, sans-serif'>1</text>
<text x="306.6" y="73.6" font-size="10.5" text-anchor="end" font-family='"Liberation Sans", Arial, sans-serif'>0</text>
<text x="310.5" y="85.5" font-size="10.5" text-anchor="middle" font-family='"Liberation Sans", Arial, sans-serif'>0</text>
<text x="366.4" y="85.5" font-size="10.5" text-anchor="middle" font-family='"Liberation Sans", Arial, sans-serif'>10</text>
<text x="421.5" y="85.5" font-size="10.5" text-anchor="middle" font-family='"Liberation Sans", Arial, sans-serif'>20</text>
<text x="476.6" y="85.5" font-size="10.5" text-anchor="middle" font-family='"Liberation Sans", Arial, sans-serif'>30</text>
<text x="531.7" y="85.5" font-size="10.5" text-anchor="middle" font-family='"Liberation Sans", Arial, sans-serif'>40</text>
<text x="296.2" y="41.1" font-size="11.9" text-anchor="middle" font-family='"Liberation Sans", Arial, sans-serif' transform="rotate(-90 296.2 41.1)">z (mm)</text>
<text x="403.5" y="100.3" font-size="11.7" text-anchor="start" font-family='"Liberation Sans", Arial, sans-serif'>x (mm)</text>
<text x="307.7" y="126.5" font-size="10.5" text-anchor="end" font-family='"Liberation Sans", Arial, sans-serif'>2</text>
<text x="307.7" y="154.9" font-size="10.5" text-anchor="end" font-family='"Liberation Sans", Arial, sans-serif'>1.8</text>
<text x="316.6" y="186.2" font-size="10.5" text-anchor="middle" font-family='"Liberation Sans", Arial, sans-serif'>20</text>
<text x="372.5" y="186.2" font-size="10.5" text-anchor="middle" font-family='"Liberation Sans", Arial, sans-serif'>22</text>
<text x="428.8" y="186.2" font-size="10.5" text-anchor="middle" font-family='"Liberation Sans", Arial, sans-serif'>24</text>
<text x="484.5" y="186.2" font-size="10.5" text-anchor="middle" font-family='"Liberation Sans", Arial, sans-serif'>26</text>
<text x="286.9" y="141.8" font-size="11.9" text-anchor="middle" font-family='"Liberation Sans", Arial, sans-serif' transform="rotate(-90 286.9 141.8)">z (mm)</text>
<text x="403.5" y="202.2" font-size="11.7" text-anchor="start" font-family='"Liberation Sans", Arial, sans-serif'>x (mm)</text>
<text x="342.0" y="129.5" font-size="9.7" text-anchor="start" font-family='"Liberation Sans", Arial, sans-serif'>uncertainty</text>
<text x="342.0" y="141.9" font-size="9.7" text-anchor="start" font-family='"Liberation Sans", Arial, sans-serif'>mean</text>
<text x="436.0" y="160.2" font-size="12.2" text-anchor="start" font-family='"Liberation Serif", "Times New Roman", serif' fill="#000" stroke="#000" stroke-width="0.12">&#177;0.03 mm</text></g>
</g>
<g>
<path d="M37.3 306.2L146.4 244.3L256.0 306.4" fill="none" stroke="#dadada" stroke-width="0.7"/>
<path d="M37.3 292.1L146.4 230.2L256.0 292.3" fill="none" stroke="#dadada" stroke-width="0.7"/>
<path d="M146.4 244.3L146.4 230.2" stroke="#dadada" stroke-width="0.7"/>
<path d="M256.0 306.4L256.0 292.3" stroke="#dadada" stroke-width="0.7"/>
<clipPath id="cb"><path d="M146.40 234.24 145.04 234.46 143.67 234.70 142.31 234.96 140.95 235.27 139.58 235.62 138.22 236.03 136.85 236.52 135.49 237.08 134.13 237.73 132.76 238.46 131.40 239.27 130.03 240.18 128.67 241.16 127.31 242.22 125.94 243.36 124.58 244.55 123.22 245.80 121.85 247.08 120.49 248.39 119.13 249.72 117.76 251.04 116.40 252.35 115.03 253.63 113.67 254.88 112.31 256.07 110.94 257.21 109.58 258.27 108.22 259.25 106.85 260.16 105.49 260.97 104.12 261.70 102.76 262.35 101.40 262.91 100.03 263.40 98.67 263.81 97.31 264.16 95.94 264.47 94.58 264.73 93.21 264.97 91.85 265.19 90.49 265.41 89.12 265.65 87.76 265.91 86.39 266.22 85.03 266.57 83.67 266.98 82.30 267.47 80.94 268.03 79.58 268.68 78.21 269.41 76.85 270.22 75.48 271.13 74.12 272.11 72.76 273.17 71.39 274.31 70.03 275.50 68.67 276.75 67.30 278.03 65.94 279.34 64.58 280.66 63.21 281.99 61.85 283.30 60.48 284.58 59.12 285.83 57.76 287.02 56.39 288.16 55.03 289.22 53.67 290.20 52.30 291.11 50.94 291.92 49.57 292.65 48.21 293.30 46.85 293.86 45.48 294.35 44.12 294.76 42.76 295.11 41.39 295.42 40.03 295.68 38.66 295.92 37.30 296.14 38.67 296.98 40.03 297.90 41.40 298.91 42.76 299.99 44.13 301.15 45.50 302.36 46.86 303.63 48.23 304.93 49.60 306.26 50.96 307.61 52.33 308.96 53.69 310.29 55.06 311.59 56.43 312.86 57.79 314.07 59.16 315.23 60.53 316.31 61.89 317.32 63.26 318.24 64.62 319.08 65.99 319.83 67.36 320.50 68.72 321.08 70.09 321.59 71.46 322.02 72.82 322.40 74.19 322.72 75.55 323.01 76.92 323.27 78.29 323.51 79.65 323.75 81.02 324.01 82.39 324.30 83.75 324.62 85.12 325.00 86.48 325.43 87.85 325.94 89.22 326.52 90.58 327.19 91.95 327.94 93.32 328.78 94.68 329.70 96.05 330.71 97.42 331.79 98.78 332.95 100.15 334.16 101.51 335.43 102.88 336.73 104.25 338.06 105.61 339.41 106.98 340.76 108.34 342.09 109.71 343.39 111.08 344.66 112.44 345.87 113.81 347.03 115.18 348.11 116.54 349.12 117.91 350.04 119.27 350.88 120.64 351.63 122.01 352.30 123.37 352.88 124.74 353.39 126.11 353.82 127.47 354.20 128.84 354.52 130.20 354.81 131.57 355.07 132.94 355.31 134.30 355.55 135.67 355.81 137.04 356.10 138.40 356.42 139.77 356.80 141.13 357.23 142.50 357.74 143.87 358.32 145.23 358.99 146.60 359.74 147.97 359.50 149.34 359.24 150.70 358.96 152.07 358.64 153.44 358.27 154.80 357.83 156.17 357.33 157.54 356.75 158.91 356.08 160.28 355.33 161.64 354.50 163.01 353.58 164.38 352.57 165.75 351.49 167.11 350.34 168.48 349.13 169.85 347.87 171.21 346.56 172.58 345.23 173.95 343.89 175.32 342.55 176.69 341.22 178.05 339.91 179.42 338.65 180.79 337.44 182.15 336.29 183.52 335.21 184.89 334.20 186.26 333.28 187.62 332.44 188.99 331.70 190.36 331.03 191.73 330.45 193.09 329.95 194.46 329.51 195.83 329.14 197.20 328.82 198.56 328.54 199.93 328.28 201.30 328.04 202.67 327.80 204.03 327.54 205.40 327.26 206.77 326.94 208.14 326.57 209.50 326.13 210.87 325.63 212.24 325.05 213.61 324.38 214.97 323.63 216.34 322.80 217.71 321.88 219.08 320.87 220.45 319.79 221.81 318.64 223.18 317.43 224.55 316.17 225.91 314.86 227.28 313.53 228.65 312.19 230.02 310.85 231.38 309.52 232.75 308.21 234.12 306.95 235.49 305.74 236.85 304.59 238.22 303.51 239.59 302.50 240.96 301.58 242.32 300.75 243.69 300.00 245.06 299.33 246.43 298.75 247.80 298.25 249.16 297.81 250.53 297.44 251.90 297.12 253.26 296.84 254.63 296.58 256.00 296.34 254.63 295.61 253.26 294.96 251.89 294.39 250.52 293.91 249.15 293.49 247.78 293.13 246.41 292.83 245.04 292.56 243.67 292.32 242.30 292.10 240.93 291.87 239.56 291.63 238.19 291.37 236.82 291.06 235.45 290.71 234.08 290.29 232.71 289.80 231.34 289.24 229.97 288.59 228.60 287.86 227.23 287.04 225.86 286.13 224.49 285.14 223.12 284.08 221.75 282.94 220.38 281.75 219.01 280.50 217.64 279.21 216.27 277.90 214.90 276.57 213.53 275.25 212.16 273.93 210.79 272.65 209.42 271.40 208.05 270.20 206.68 269.07 205.31 268.00 203.94 267.01 202.57 266.11 201.20 265.29 199.83 264.56 198.46 263.91 197.09 263.34 195.72 262.86 194.35 262.44 192.98 262.08 191.61 261.78 190.24 261.51 188.87 261.27 187.50 261.05 186.13 260.82 184.76 260.58 183.39 260.32 182.02 260.01 180.65 259.66 179.28 259.24 177.91 258.75 176.54 258.19 175.17 257.54 173.80 256.81 172.43 255.99 171.06 255.08 169.69 254.09 168.32 253.03 166.95 251.89 165.58 250.70 164.21 249.45 162.84 248.16 161.47 246.85 160.10 245.52 158.73 244.20 157.36 242.88 155.99 241.60 154.62 240.35 153.25 239.15 151.88 238.02 150.51 236.95 149.14 235.96 147.77 235.06Z"/></clipPath><g clip-path="url(#cb)"><g filter="url(#sblur)"><path fill="#352a87" d="M132.9 280.5 130.2 282.3 132.9 284.2 135.6 282.3ZM189.7 313.1 187.0 315.0 189.8 316.6 192.5 314.7ZM76.2 312.9 73.5 314.5 76.2 316.4 78.9 314.8ZM133.0 345.9 130.3 347.6 133.0 349.3 135.7 347.6Z"/>
<path fill="#362d8d" d="M135.2 281.9 132.5 283.8 135.2 285.4 137.9 283.5ZM187.5 311.7 184.8 313.6 187.5 315.4 190.2 313.6ZM130.6 281.9 127.9 283.5 130.6 285.4 133.4 283.8ZM132.9 283.3 130.2 284.9 132.9 286.5 135.6 284.9ZM185.2 313.1 182.5 314.7 185.2 316.6 187.9 315.0ZM187.5 314.5 184.8 316.2 187.5 317.8 190.2 316.2ZM78.5 311.5 75.8 313.4 78.5 315.2 81.2 313.4ZM80.7 312.9 78.0 314.8 80.8 316.4 83.5 314.5ZM133.0 343.1 130.3 345.0 133.0 346.8 135.7 345.0ZM135.3 344.5 132.5 346.4 135.3 348.1 138.0 346.1ZM78.5 314.3 75.8 316.0 78.5 317.6 81.2 316.0ZM130.7 344.5 128.0 346.1 130.7 348.1 133.4 346.4Z"/>
<path fill="#363093" d="M73.9 311.3 71.2 312.8 73.9 315.0 76.7 313.4ZM135.3 347.2 132.5 348.8 135.3 350.2 138.0 348.6ZM73.9 314.1 71.2 315.5 73.9 317.4 76.7 316.0ZM130.7 347.2 128.0 348.6 130.7 350.2 133.4 348.8Z"/>
<path fill="#363399" d="M135.2 278.8 132.4 281.0 135.2 282.8 137.9 280.7ZM137.4 280.3 134.7 282.4 137.4 284.0 140.2 281.8ZM189.7 310.0 187.0 312.2 189.7 314.0 192.5 311.9ZM192.0 311.5 189.3 313.6 192.0 315.2 194.7 313.1ZM130.6 278.8 127.9 280.7 130.6 282.8 133.3 281.0ZM137.4 283.1 134.7 285.0 137.5 286.3 140.2 284.4ZM185.2 310.0 182.5 311.9 185.2 314.0 187.9 312.2ZM192.0 314.3 189.3 316.2 192.0 317.6 194.7 315.7ZM128.4 280.2 125.6 281.8 128.4 284.0 131.1 282.4ZM135.2 284.5 132.5 286.1 135.2 287.5 137.9 285.8ZM182.9 311.4 180.2 313.0 182.9 315.2 185.7 313.6ZM189.8 315.7 187.0 317.4 189.8 318.8 192.5 317.1ZM128.4 283.1 125.6 284.4 128.4 286.3 131.1 285.0ZM130.6 284.5 127.9 285.8 130.6 287.5 133.4 286.1ZM182.9 314.3 180.2 315.6 182.9 317.6 185.7 316.2ZM185.2 315.7 182.5 317.1 185.2 318.8 187.9 317.4ZM80.7 309.8 78.0 312.0 80.7 313.8 83.5 311.7ZM83.0 311.3 80.3 313.4 83.0 315.0 85.7 312.9ZM135.3 341.4 132.5 343.5 135.3 345.4 138.0 343.3ZM137.5 342.8 134.8 345.0 137.5 346.6 140.2 344.4ZM76.2 309.8 73.5 311.7 76.2 313.8 78.9 312.0ZM83.0 314.1 80.3 316.0 83.0 317.4 85.7 315.5ZM130.7 341.4 128.0 343.3 130.7 345.4 133.4 343.5ZM137.5 345.7 134.8 347.7 137.5 349.0 140.2 347.1ZM80.8 315.5 78.0 317.2 80.8 318.6 83.5 316.9ZM128.4 342.8 125.7 344.4 128.4 346.6 131.2 345.0ZM76.2 315.5 73.5 316.9 76.2 318.6 78.9 317.2ZM128.4 345.7 125.7 347.1 128.4 349.0 131.2 347.6Z"/>
<path fill="#363aa6" d="M132.9 277.2 130.2 279.3 132.9 281.4 135.6 279.3ZM139.7 281.4 137.0 283.6 139.7 284.9 142.4 282.7ZM187.5 308.4 184.7 310.5 187.5 312.6 190.2 310.5ZM194.3 312.6 191.6 314.8 194.3 316.2 197.0 314.0ZM126.1 281.4 123.4 282.7 126.1 284.9 128.8 283.6ZM132.9 285.6 130.2 287.0 132.9 288.4 135.6 287.0ZM180.7 312.6 177.9 314.0 180.7 316.1 183.4 314.8ZM187.5 316.9 184.8 318.3 187.5 319.7 190.2 318.3ZM78.5 308.2 75.8 310.3 78.5 312.4 81.2 310.3ZM85.3 312.4 82.6 314.6 85.3 316.0 88.0 313.8ZM133.0 339.7 130.3 341.8 133.0 344.0 135.7 341.8ZM139.8 344.0 137.1 346.2 139.8 347.6 142.5 345.4ZM71.7 312.4 69.0 313.8 71.7 316.0 74.4 314.6ZM78.5 316.7 75.8 318.1 78.5 319.5 81.2 318.1ZM126.2 344.0 123.5 345.4 126.2 347.6 128.9 346.2ZM133.0 348.4 130.3 349.8 133.0 351.2 135.7 349.8Z"/>
<path fill="#353dac" d="M71.7 315.1 69.0 316.2 71.7 318.1 74.4 317.0ZM128.4 348.1 125.7 349.3 128.4 351.0 131.2 349.8Z"/>
<path fill="#3440b3" d="M137.4 277.0 134.7 279.3 137.4 281.2 140.2 278.8ZM139.7 278.4 137.0 280.8 139.7 282.3 142.4 280.0ZM192.0 308.2 189.3 310.5 192.0 312.4 194.7 310.0ZM194.3 309.6 191.6 312.0 194.3 313.5 197.0 311.2ZM128.3 277.0 125.6 278.8 128.4 281.1 131.1 279.3ZM139.7 284.0 137.0 285.9 139.7 287.1 142.4 285.1ZM182.9 308.2 180.2 310.0 182.9 312.3 185.6 310.5ZM194.3 315.3 191.6 317.2 194.3 318.3 197.0 316.4ZM126.1 278.4 123.4 279.9 126.1 282.3 128.8 280.8ZM137.4 285.4 134.7 287.1 137.5 288.2 140.2 286.6ZM180.7 309.6 177.9 311.1 180.7 313.5 183.4 312.0ZM192.0 316.7 189.3 318.4 192.0 319.5 194.7 317.8ZM126.1 284.0 123.4 285.1 126.1 287.0 128.8 285.9ZM128.4 285.4 125.7 286.5 128.4 288.2 131.1 287.1ZM180.7 315.2 177.9 316.4 180.7 318.3 183.4 317.2ZM182.9 316.7 180.2 317.8 182.9 319.5 185.7 318.4ZM83.0 308.0 80.3 310.3 83.0 312.2 85.7 309.8ZM85.3 309.4 82.6 311.8 85.3 313.3 88.0 311.0ZM137.5 339.5 134.8 341.9 137.5 343.7 140.2 341.4ZM139.8 341.0 137.1 343.4 139.8 344.9 142.5 342.6ZM73.9 308.0 71.2 309.8 73.9 312.2 76.7 310.3ZM85.3 315.1 82.6 317.0 85.3 318.1 88.0 316.2ZM128.4 339.5 125.7 341.4 128.4 343.7 131.2 341.9ZM139.8 346.7 137.1 348.6 139.8 349.8 142.5 347.8ZM71.7 309.4 69.0 311.0 71.7 313.3 74.4 311.8ZM83.0 316.5 80.3 318.2 83.0 319.3 85.7 317.7ZM126.2 340.9 123.5 342.5 126.2 344.9 128.9 343.3ZM137.5 348.1 134.8 349.8 137.5 351.0 140.2 349.3ZM73.9 316.5 71.2 317.6 74.0 319.3 76.7 318.2ZM126.2 346.7 123.5 347.8 126.2 349.8 128.9 348.6Z"/>
<path fill="#2f47c0" d="M135.2 275.4 132.4 277.7 135.2 279.7 137.9 277.4ZM142.0 279.6 139.3 282.0 142.0 283.3 144.7 280.9ZM189.7 306.5 187.0 308.8 189.7 310.9 192.5 308.6ZM196.6 310.8 193.9 313.2 196.6 314.5 199.3 312.1ZM130.6 275.4 127.9 277.4 130.6 279.7 133.3 277.7ZM142.0 282.4 139.3 284.5 142.0 285.6 144.7 283.5ZM185.2 306.5 182.5 308.6 185.2 310.9 187.9 308.8ZM196.6 313.6 193.9 315.8 196.6 316.9 199.3 314.7ZM123.8 279.6 121.1 280.9 123.8 283.3 126.5 282.0ZM135.2 286.6 132.5 288.0 135.2 289.2 137.9 287.8ZM178.4 310.8 175.7 312.1 178.4 314.5 181.1 313.2ZM189.8 317.9 187.0 319.3 189.8 320.5 192.5 319.1ZM123.8 282.4 121.1 283.4 123.8 285.6 126.5 284.5ZM130.6 286.6 127.9 287.7 130.6 289.2 133.4 288.0ZM178.4 313.6 175.7 314.7 178.4 316.9 181.1 315.8ZM185.2 317.9 182.5 319.0 185.2 320.5 187.9 319.3ZM80.7 306.3 78.0 308.6 80.7 310.7 83.5 308.4ZM87.6 310.6 84.8 313.0 87.6 314.3 90.3 311.9ZM135.3 337.8 132.5 340.2 135.3 342.3 138.0 339.9ZM142.1 342.2 139.4 344.6 142.1 345.9 144.8 343.5ZM76.2 306.3 73.5 308.4 76.2 310.7 78.9 308.6ZM87.6 313.4 84.9 315.6 87.6 316.7 90.3 314.5ZM130.7 337.8 128.0 339.9 130.7 342.3 133.4 340.2ZM142.1 345.0 139.4 347.2 142.1 348.4 144.8 346.1ZM69.4 310.6 66.7 311.9 69.4 314.3 72.1 313.0ZM80.8 317.7 78.0 319.1 80.8 320.3 83.5 318.9ZM123.9 342.2 121.2 343.5 123.9 345.9 126.6 344.6ZM135.3 349.3 132.5 350.8 135.3 352.0 138.0 350.5ZM69.4 313.4 66.7 314.5 69.4 316.7 72.1 315.6ZM76.2 317.7 73.5 318.9 76.2 320.3 78.9 319.1ZM123.9 345.0 121.2 346.1 123.9 348.3 126.6 347.2ZM130.7 349.3 128.0 350.5 130.7 352.0 133.4 350.8Z"/>
<path fill="#2052d3" d="M139.7 275.0 137.0 277.5 139.7 279.3 142.4 276.8ZM196.6 307.6 193.8 310.1 196.6 311.7 199.3 309.1ZM126.1 275.0 123.4 276.8 126.1 279.3 128.8 277.5ZM196.6 316.0 193.9 318.0 196.6 318.9 199.3 317.0ZM123.8 276.4 121.1 277.9 123.8 280.5 126.5 278.9ZM194.3 317.4 191.6 319.1 194.3 320.1 197.0 318.4ZM71.7 305.9 69.0 307.7 71.7 310.3 74.4 308.5ZM142.1 347.5 139.4 349.4 142.1 350.4 144.8 348.4ZM69.4 307.4 66.7 308.9 69.4 311.5 72.1 309.9ZM139.8 348.9 137.1 350.6 139.8 351.6 142.5 349.9ZM69.4 315.8 66.7 316.7 69.4 318.7 72.1 317.8ZM71.7 317.2 69.0 318.2 71.7 319.9 74.4 318.9ZM123.9 347.4 121.2 348.4 123.9 350.4 126.6 349.4ZM126.2 348.9 123.5 349.9 126.2 351.6 128.9 350.6Z"/>
<path fill="#1857d8" d="M142.0 276.4 139.3 278.9 142.0 280.5 144.7 277.9ZM194.3 306.1 191.6 308.7 194.3 310.5 197.0 308.0ZM132.9 273.5 130.2 275.8 132.9 278.1 135.6 275.8ZM144.3 280.5 141.5 282.9 144.3 284.0 147.0 281.6ZM187.5 304.6 184.7 307.0 187.5 309.3 190.2 307.0ZM198.8 311.7 196.1 314.2 198.8 315.3 201.5 312.8ZM142.0 284.7 139.3 286.7 142.0 287.6 144.7 285.7ZM180.7 306.1 177.9 307.9 180.7 310.5 183.4 308.7ZM139.7 286.2 137.0 287.8 139.7 288.8 142.4 287.1ZM178.4 307.5 175.7 309.1 178.4 311.7 181.1 310.1ZM121.5 280.5 118.8 281.6 121.6 284.0 124.3 282.9ZM132.9 287.5 130.2 288.7 132.9 289.9 135.6 288.7ZM176.1 311.7 173.4 312.8 176.1 315.2 178.8 314.1ZM187.5 318.8 184.8 320.0 187.5 321.2 190.2 320.0ZM123.8 284.7 121.1 285.7 123.8 287.6 126.5 286.7ZM126.1 286.1 123.4 287.1 126.1 288.8 128.8 287.8ZM178.4 316.0 175.7 316.9 178.4 318.9 181.1 318.0ZM180.7 317.4 177.9 318.4 180.7 320.1 183.4 319.1ZM85.3 305.9 82.6 308.5 85.3 310.3 88.0 307.8ZM87.6 307.4 84.8 309.9 87.6 311.5 90.3 308.9ZM139.8 337.5 137.1 340.0 139.8 341.9 142.5 339.3ZM142.1 338.9 139.4 341.5 142.1 343.1 144.8 340.5ZM78.5 304.5 75.8 306.8 78.5 309.1 81.2 306.8ZM144.3 343.1 141.6 345.6 144.3 346.7 147.0 344.2ZM87.6 315.8 84.9 317.8 87.6 318.7 90.3 316.8ZM126.2 337.5 123.5 339.3 126.2 341.8 128.9 340.0ZM85.3 317.2 82.6 318.9 85.3 319.9 88.0 318.2ZM123.9 338.9 121.2 340.5 123.9 343.1 126.6 341.5ZM67.1 311.5 64.4 312.6 67.1 315.0 69.8 314.0ZM78.5 318.6 75.8 319.8 78.5 321.0 81.2 319.8ZM121.6 343.1 118.9 344.2 121.6 346.7 124.3 345.6ZM133.0 350.3 130.3 351.5 133.0 352.7 135.7 351.5Z"/>
<path fill="#105bdd" d="M128.3 273.3 125.6 275.4 128.3 277.9 131.1 275.8ZM198.8 314.4 196.1 316.6 198.8 317.5 201.6 315.3ZM89.8 311.5 87.1 314.0 89.8 315.1 92.5 312.6ZM133.0 336.0 130.3 338.3 133.0 340.6 135.7 338.3ZM67.1 308.5 64.4 309.8 67.1 312.4 69.8 311.1ZM137.5 350.1 134.8 351.6 137.5 352.6 140.2 351.1ZM67.1 314.1 64.4 315.1 67.1 317.3 69.8 316.4ZM128.4 350.1 125.7 351.1 128.4 352.6 131.2 351.6Z"/>
<path fill="#0a5fdf" d="M137.4 273.3 134.7 275.8 137.4 277.9 140.1 275.4ZM144.2 277.6 141.5 280.1 144.3 281.4 147.0 278.8ZM192.0 304.5 189.3 307.0 192.0 309.1 194.7 306.6ZM198.8 308.8 196.1 311.3 198.8 312.6 201.5 310.1ZM144.3 283.1 141.6 285.3 144.3 286.2 147.0 284.0ZM182.9 304.5 180.2 306.5 182.9 309.1 185.6 307.0ZM121.5 277.5 118.8 278.8 121.5 281.4 124.3 280.1ZM137.5 287.3 134.7 288.8 137.5 289.7 140.2 288.3ZM176.1 308.7 173.4 310.0 176.1 312.6 178.8 311.3ZM192.0 318.6 189.3 320.1 192.0 321.1 194.8 319.6ZM121.6 283.1 118.8 284.0 121.6 286.2 124.3 285.3ZM128.4 287.3 125.7 288.3 128.4 289.7 131.1 288.8ZM176.1 314.3 173.4 315.3 176.1 317.5 178.8 316.5ZM182.9 318.6 180.2 319.6 182.9 321.1 185.7 320.1ZM83.0 304.3 80.3 306.8 83.0 308.9 85.7 306.4ZM89.8 308.6 87.1 311.1 89.8 312.4 92.5 309.9ZM137.5 335.8 134.8 338.3 137.5 340.4 140.2 337.9ZM144.3 340.1 141.6 342.7 144.3 344.0 147.0 341.4ZM73.9 304.3 71.2 306.3 73.9 308.9 76.7 306.8ZM89.8 314.2 87.1 316.4 89.8 317.3 92.5 315.1ZM128.4 335.8 125.7 337.9 128.4 340.4 131.2 338.3ZM144.3 345.8 141.6 348.0 144.3 349.0 147.0 346.7ZM83.0 318.4 80.3 319.9 83.0 320.9 85.7 319.4ZM121.6 340.1 118.9 341.4 121.6 344.0 124.3 342.7ZM73.9 318.4 71.2 319.4 74.0 320.9 76.7 319.9ZM121.6 345.8 118.9 346.7 121.6 348.9 124.3 348.0Z"/>
<path fill="#0268e1" d="M64.9 309.5 62.2 310.6 64.9 313.2 67.6 312.1ZM135.3 351.1 132.5 352.3 135.3 353.3 138.0 352.1ZM64.9 312.3 62.2 313.2 64.9 315.6 67.6 314.7ZM130.7 351.1 128.0 352.1 130.7 353.3 133.4 352.3Z"/>
<path fill="#036ae1" d="M135.1 271.5 132.4 274.0 135.2 276.3 137.9 273.8ZM146.5 278.5 143.8 281.1 146.5 282.2 149.2 279.6ZM189.7 302.6 187.0 305.1 189.7 307.4 192.5 304.9ZM201.1 309.7 198.4 312.3 201.1 313.4 203.8 310.8ZM130.6 271.5 127.9 273.8 130.6 276.3 133.3 274.0ZM146.5 281.3 143.8 283.7 146.5 284.6 149.2 282.2ZM185.2 302.6 182.5 304.9 185.2 307.4 187.9 305.1ZM201.1 312.5 198.4 314.9 201.1 315.8 203.8 313.4ZM123.8 272.8 121.1 274.6 123.8 277.3 126.5 275.5ZM198.8 316.6 196.1 318.6 198.8 319.4 201.6 317.4ZM119.3 278.5 116.6 279.5 119.3 282.1 122.0 281.1ZM135.2 288.3 132.5 289.5 135.2 290.5 137.9 289.3ZM173.8 309.7 171.1 310.8 173.8 313.4 176.5 312.3ZM189.8 319.6 187.0 320.8 189.8 321.8 192.5 320.6ZM119.3 281.2 116.6 282.1 119.3 284.5 122.0 283.7ZM130.6 288.3 127.9 289.3 130.7 290.5 133.4 289.5ZM173.8 312.5 171.1 313.4 173.8 315.8 176.6 314.9ZM185.2 319.6 182.5 320.6 185.2 321.8 187.9 320.8ZM80.7 302.4 78.0 304.9 80.7 307.2 83.5 304.7ZM92.1 309.5 89.4 312.1 92.1 313.2 94.8 310.6ZM135.3 333.9 132.5 336.4 135.3 338.7 138.0 336.2ZM146.6 341.1 143.9 343.7 146.6 344.8 149.3 342.2ZM76.2 302.4 73.5 304.7 76.2 307.2 78.9 304.9ZM92.1 312.3 89.4 314.7 92.1 315.6 94.8 313.2ZM130.7 333.9 128.0 336.2 130.7 338.7 133.4 336.4ZM146.6 343.9 143.9 346.4 146.6 347.3 149.3 344.8ZM67.1 305.2 64.4 306.7 67.1 309.4 69.8 307.9ZM142.1 349.5 139.4 351.2 142.1 352.1 144.8 350.4ZM80.8 319.4 78.0 320.6 80.8 321.6 83.5 320.4ZM119.4 341.1 116.7 342.2 119.4 344.8 122.1 343.7ZM76.2 319.4 73.5 320.4 76.2 321.6 78.9 320.6ZM119.4 343.9 116.7 344.8 119.4 347.3 122.1 346.3ZM67.1 316.4 64.4 317.2 67.1 319.2 69.9 318.4ZM69.4 317.8 66.7 318.6 69.4 320.4 72.1 319.5ZM121.6 348.0 118.9 348.9 121.6 350.8 124.3 350.0ZM123.9 349.5 121.2 350.3 123.9 352.1 126.6 351.2Z"/>
<path fill="#046ce0" d="M176.0 254.2 173.3 255.0 176.0 256.9 178.7 256.2ZM232.9 286.5 230.2 287.4 232.9 289.1 235.6 288.2ZM142.0 272.8 139.3 275.5 142.0 277.3 144.7 274.6ZM144.2 274.3 141.5 276.9 144.2 278.5 147.0 275.8ZM196.6 304.0 193.8 306.7 196.6 308.5 199.3 305.8ZM198.8 305.4 196.1 308.1 198.8 309.7 201.5 307.0ZM144.3 285.3 141.6 287.3 144.3 288.1 147.0 286.1ZM178.4 304.0 175.7 305.8 178.4 308.4 181.1 306.6ZM121.5 274.2 118.8 275.8 121.5 278.4 124.2 276.9ZM142.0 286.7 139.3 288.4 142.0 289.3 144.7 287.6ZM176.1 305.4 173.4 306.9 176.1 309.6 178.8 308.1ZM196.6 318.0 193.9 319.7 196.6 320.6 199.3 318.9ZM121.6 285.3 118.9 286.1 121.6 288.1 124.3 287.3ZM123.8 286.7 121.1 287.5 123.8 289.2 126.5 288.4ZM176.1 316.6 173.4 317.4 176.1 319.4 178.8 318.6ZM178.4 318.0 175.7 318.8 178.4 320.6 181.1 319.7ZM87.5 303.8 84.8 306.5 87.6 308.3 90.3 305.6ZM89.8 305.2 87.1 307.9 89.8 309.5 92.5 306.8ZM142.1 335.3 139.3 338.0 142.1 339.8 144.8 337.1ZM144.3 336.8 141.6 339.5 144.3 341.0 147.0 338.3ZM69.4 303.8 66.7 305.6 69.4 308.3 72.1 306.5ZM89.8 316.4 87.1 318.4 89.8 319.2 92.5 317.2ZM123.9 335.3 121.2 337.1 123.9 339.8 126.6 338.0ZM144.3 348.1 141.6 350.0 144.3 350.9 147.0 348.9ZM87.6 317.8 84.9 319.5 87.6 320.4 90.3 318.7ZM121.6 336.7 118.9 338.3 121.6 341.0 124.3 339.4Z"/>
<path fill="#066fdf" d="M178.2 255.6 175.5 256.4 178.3 258.1 181.0 257.3ZM230.6 285.1 227.9 285.9 230.6 287.9 233.3 287.1ZM64.9 306.4 62.2 307.7 64.9 310.4 67.6 309.1ZM139.8 350.7 137.1 352.2 139.8 353.1 142.5 351.6ZM64.9 314.7 62.2 315.5 64.9 317.7 67.6 316.9ZM126.2 350.7 123.5 351.6 126.2 353.0 128.9 352.2Z"/>
<path fill="#0871df" d="M173.7 252.6 171.0 253.4 173.7 255.5 176.4 254.8ZM235.2 287.7 232.4 288.6 235.2 290.0 237.9 289.2ZM139.7 271.2 137.0 273.8 139.7 275.9 142.4 273.2ZM146.5 275.4 143.8 278.1 146.5 279.4 149.2 276.7ZM194.3 302.3 191.6 305.0 194.3 307.0 197.0 304.4ZM201.1 306.6 198.4 309.3 201.1 310.6 203.8 307.9ZM126.1 271.2 123.4 273.2 126.1 275.9 128.8 273.8ZM146.5 283.7 143.8 285.9 146.5 286.7 149.2 284.5ZM180.6 302.3 177.9 304.4 180.7 307.0 183.4 305.0ZM201.1 314.9 198.4 317.2 201.1 318.0 203.8 315.7ZM119.3 275.4 116.6 276.7 119.3 279.4 122.0 278.1ZM139.7 287.9 137.0 289.3 139.7 290.2 142.5 288.8ZM173.8 306.6 171.1 307.9 173.8 310.6 176.5 309.3ZM194.3 319.2 191.6 320.7 194.3 321.5 197.0 320.1ZM119.3 283.6 116.6 284.4 119.3 286.6 122.0 285.9ZM126.1 287.9 123.4 288.7 126.1 290.2 128.8 289.3ZM173.8 314.9 171.1 315.7 173.9 317.9 176.6 317.1ZM180.7 319.2 177.9 320.1 180.7 321.5 183.4 320.7ZM85.3 302.2 82.6 304.8 85.3 306.8 88.0 304.2ZM92.1 306.4 89.4 309.1 92.1 310.4 94.8 307.7ZM139.8 333.6 137.1 336.3 139.8 338.4 142.5 335.7ZM146.6 338.0 143.9 340.7 146.6 342.0 149.3 339.3ZM71.7 302.1 68.9 304.2 71.7 306.8 74.4 304.8ZM92.1 314.7 89.4 317.0 92.1 317.8 94.8 315.5ZM126.2 333.6 123.5 335.7 126.2 338.4 128.9 336.3ZM146.6 346.4 143.9 348.6 146.6 349.4 149.3 347.2ZM85.3 319.0 82.6 320.5 85.3 321.3 88.0 319.9ZM119.4 337.9 116.7 339.2 119.4 342.0 122.1 340.7ZM71.7 319.0 69.0 319.9 71.7 321.3 74.4 320.5ZM119.4 346.4 116.7 347.2 119.4 349.4 122.1 348.6Z"/>
<path fill="#0a73de" d="M180.5 256.8 177.8 257.6 180.5 259.0 183.3 258.2ZM228.3 283.5 225.6 284.3 228.3 286.5 231.0 285.7Z"/>
<path fill="#0c75dd" d="M132.9 269.5 130.2 271.9 132.9 274.4 135.6 271.9ZM203.4 310.5 200.7 313.1 203.4 314.0 206.1 311.4ZM62.6 310.2 59.9 311.1 62.6 313.8 65.3 312.9ZM133.0 351.8 130.3 352.9 133.0 353.9 135.7 352.9Z"/>
<path fill="#0e76db" d="M148.8 279.2 146.1 281.8 148.8 282.7 151.5 280.1ZM187.5 300.6 184.7 303.1 187.5 305.5 190.2 303.1ZM117.0 279.2 114.3 280.1 117.0 282.7 119.7 281.8ZM132.9 289.0 130.2 290.0 132.9 291.0 135.6 290.0ZM171.6 310.4 168.9 311.3 171.6 313.9 174.3 313.1ZM187.5 320.3 184.8 321.4 187.5 322.4 190.2 321.4ZM78.5 300.4 75.7 302.9 78.5 305.4 81.2 302.9ZM94.4 310.3 91.7 312.9 94.4 313.8 97.1 311.2ZM133.0 331.9 130.3 334.4 133.0 336.9 135.7 334.4ZM148.9 341.9 146.2 344.5 148.9 345.4 151.6 342.8ZM62.6 307.3 59.9 308.4 62.6 311.1 65.3 310.1ZM137.5 351.7 134.8 352.9 137.5 353.8 140.2 352.6ZM78.5 320.1 75.8 321.2 78.5 322.2 81.2 321.2ZM117.1 341.8 114.4 342.7 117.1 345.4 119.8 344.5ZM62.6 312.9 59.9 313.6 62.6 316.1 65.3 315.3ZM128.4 351.7 125.7 352.6 128.4 353.8 131.2 352.9Z"/>
<path fill="#1078da" d="M137.4 269.4 134.7 272.0 137.4 274.2 140.1 271.6ZM148.8 276.4 146.1 279.1 148.8 280.1 151.5 277.4ZM192.0 300.5 189.3 303.1 192.0 305.4 194.7 302.8ZM203.4 307.6 200.7 310.3 203.4 311.4 206.1 308.6ZM128.3 269.3 125.6 271.6 128.3 274.2 131.1 272.0ZM148.8 281.8 146.1 284.3 148.8 285.0 151.5 282.6ZM182.9 300.5 180.2 302.7 182.9 305.4 185.6 303.1ZM203.4 313.1 200.7 315.5 203.4 316.3 206.1 313.8ZM117.0 276.3 114.3 277.4 117.0 280.1 119.7 279.1ZM137.5 288.8 134.7 290.1 137.5 290.9 140.2 289.7ZM171.6 307.5 168.9 308.6 171.6 311.3 174.3 310.3ZM192.0 320.2 189.3 321.4 192.0 322.3 194.8 321.0ZM117.0 281.8 114.3 282.6 117.0 285.0 119.7 284.2ZM128.4 288.8 125.7 289.7 128.4 290.9 131.1 290.1ZM171.6 313.0 168.9 313.8 171.6 316.3 174.3 315.5ZM182.9 320.2 180.2 321.0 182.9 322.3 185.7 321.4ZM83.0 300.3 80.3 302.9 83.0 305.2 85.7 302.6ZM148.9 338.9 146.2 341.7 148.9 342.8 151.6 340.0ZM73.9 300.3 71.2 302.5 73.9 305.2 76.6 302.9ZM148.9 344.5 146.2 347.0 148.9 347.8 151.6 345.3ZM83.0 320.0 80.3 321.2 83.0 322.1 85.7 320.9ZM117.1 338.9 114.4 340.0 117.1 342.7 119.8 341.7ZM74.0 320.0 71.2 320.8 74.0 322.1 76.7 321.2ZM117.1 344.5 114.4 345.3 117.1 347.7 119.8 346.9Z"/>
<path fill="#117ad9" d="M171.4 250.7 168.7 251.5 171.4 253.9 174.1 253.2ZM182.8 257.7 180.1 258.6 182.8 259.8 185.5 258.9ZM226.1 281.6 223.4 282.4 226.1 284.8 228.8 284.1ZM237.4 288.7 234.7 289.5 237.4 290.8 240.2 289.9ZM121.5 270.6 118.8 272.4 121.5 275.1 124.2 273.4ZM201.1 317.1 198.4 319.0 201.1 319.8 203.8 317.8ZM119.3 272.0 116.6 273.5 119.3 276.3 122.0 274.8ZM198.8 318.5 196.1 320.2 198.9 321.0 201.6 319.2ZM94.4 307.4 91.7 310.1 94.4 311.2 97.1 308.4ZM137.5 331.8 134.8 334.4 137.5 336.7 140.2 334.1ZM94.4 312.9 91.7 315.3 94.4 316.1 97.1 313.7ZM128.4 331.8 125.7 334.1 128.4 336.7 131.2 334.4ZM67.1 301.5 64.4 303.3 67.1 306.1 69.8 304.3ZM146.6 348.5 143.9 350.5 146.6 351.3 149.3 349.3ZM64.9 303.0 62.2 304.5 64.9 307.3 67.6 305.7ZM144.3 350.0 141.6 351.7 144.3 352.5 147.1 350.8ZM64.9 316.8 62.2 317.6 64.9 319.6 67.6 318.8ZM67.1 318.3 64.4 319.0 67.1 320.7 69.9 320.0ZM119.4 348.5 116.7 349.3 119.4 351.3 122.1 350.5ZM121.6 349.9 118.9 350.7 121.6 352.5 124.3 351.7Z"/>
<path fill="#127cd8" d="M173.7 254.6 171.0 255.4 173.7 257.3 176.4 256.6ZM230.6 287.0 227.9 287.8 230.6 289.5 233.3 288.7ZM144.2 270.6 141.5 273.4 144.2 275.2 146.9 272.4ZM146.5 272.1 143.8 274.8 146.5 276.3 149.2 273.6ZM198.8 301.8 196.1 304.5 198.8 306.3 201.5 303.6ZM201.1 303.2 198.4 306.0 201.1 307.5 203.8 304.7ZM146.5 285.8 143.8 287.7 146.5 288.5 149.3 286.5ZM176.1 301.8 173.4 303.6 176.1 306.3 178.8 304.5ZM144.3 287.2 141.6 288.9 144.3 289.6 147.0 287.9ZM173.8 303.2 171.1 304.7 173.8 307.5 176.5 305.9ZM119.3 285.7 116.6 286.5 119.3 288.4 122.0 287.7ZM121.6 287.2 118.9 287.9 121.6 289.6 124.3 288.9ZM173.8 317.0 171.1 317.8 173.9 319.8 176.6 319.0ZM176.1 318.5 173.4 319.2 176.1 321.0 178.8 320.2ZM89.8 301.6 87.1 304.3 89.8 306.1 92.5 303.4ZM92.1 303.0 89.4 305.8 92.1 307.3 94.8 304.6ZM144.3 333.1 141.6 335.8 144.3 337.7 147.0 334.9ZM146.6 334.5 143.9 337.3 146.6 338.9 149.3 336.1ZM92.1 316.9 89.4 318.8 92.1 319.6 94.8 317.6ZM121.6 333.1 118.9 334.9 121.6 337.6 124.3 335.8ZM89.8 318.3 87.1 320.0 89.8 320.8 92.6 319.1ZM119.4 334.5 116.6 336.1 119.4 338.8 122.1 337.3Z"/>
<path fill="#137ed7" d="M176.0 256.0 173.3 256.8 176.0 258.5 178.7 257.7ZM228.3 285.6 225.6 286.3 228.3 288.3 231.1 287.5ZM62.6 304.2 59.9 305.4 62.6 308.2 65.3 307.0ZM142.1 351.2 139.3 352.7 142.1 353.5 144.8 352.0ZM62.6 315.2 59.9 315.9 62.6 318.1 65.3 317.4ZM123.9 351.2 121.2 352.0 123.9 353.4 126.6 352.6Z"/>
<path fill="#1480d6" d="M142.0 269.0 139.2 271.7 142.0 273.7 144.7 271.0ZM148.8 273.2 146.1 276.0 148.8 277.3 151.5 274.5ZM196.6 300.1 193.8 302.8 196.6 304.9 199.3 302.2ZM203.4 304.4 200.7 307.2 203.4 308.5 206.1 305.7ZM123.8 269.0 121.1 271.0 123.8 273.7 126.5 271.7ZM148.8 284.1 146.1 286.3 148.8 287.1 151.5 284.8ZM178.4 300.1 175.7 302.2 178.4 304.9 181.1 302.8ZM203.4 315.4 200.7 317.6 203.4 318.3 206.1 316.1ZM117.0 273.2 114.3 274.5 117.0 277.2 119.7 276.0ZM142.0 288.4 139.3 289.8 142.0 290.6 144.7 289.1ZM171.6 304.4 168.9 305.7 171.6 308.4 174.3 307.2ZM196.6 319.7 193.9 321.1 196.6 321.9 199.3 320.5ZM117.0 284.1 114.3 284.8 117.0 287.0 119.7 286.3ZM123.8 288.3 121.1 289.1 123.8 290.6 126.6 289.8ZM171.6 315.4 168.9 316.1 171.6 318.3 174.3 317.6ZM178.4 319.7 175.7 320.5 178.4 321.9 181.1 321.1ZM87.5 299.9 84.8 302.7 87.5 304.7 90.3 302.0ZM94.4 304.2 91.7 307.0 94.4 308.3 97.1 305.5ZM142.1 331.4 139.3 334.2 142.1 336.2 144.8 333.5ZM148.9 335.7 146.2 338.5 148.9 339.8 151.6 337.0ZM69.4 299.9 66.7 301.9 69.4 304.7 72.1 302.6ZM94.4 315.2 91.7 317.4 94.4 318.2 97.1 315.9ZM123.9 331.4 121.2 333.5 123.9 336.2 126.6 334.1ZM148.9 346.9 146.2 349.1 148.9 349.8 151.6 347.6ZM87.6 319.5 84.9 321.0 87.6 321.8 90.3 320.3ZM117.1 335.7 114.4 337.0 117.1 339.8 119.8 338.5ZM69.4 319.5 66.7 320.2 69.4 321.7 72.1 320.9ZM117.1 346.8 114.4 347.6 117.1 349.8 119.8 349.1Z"/>
<path fill="#1482d5" d="M171.4 253.0 168.7 253.7 171.4 255.9 174.1 255.2ZM178.3 257.2 175.5 258.0 178.3 259.4 181.0 258.6ZM226.1 283.9 223.4 284.7 226.1 286.9 228.8 286.1ZM232.9 288.2 230.2 289.0 232.9 290.4 235.6 289.6ZM135.1 267.3 132.4 269.9 135.1 272.4 137.9 269.8ZM205.7 308.3 203.0 311.1 205.7 311.9 208.4 309.2ZM130.6 267.3 127.9 269.8 130.6 272.4 133.3 269.9ZM205.7 311.0 203.0 313.7 205.7 314.4 208.4 311.8ZM60.3 308.1 57.6 309.0 60.3 311.7 63.0 310.8ZM135.3 352.4 132.5 353.5 135.3 354.4 138.0 353.4ZM60.3 310.8 57.6 311.6 60.3 314.2 63.0 313.4ZM130.7 352.4 128.0 353.3 130.7 354.4 133.4 353.5Z"/>
<path fill="#1484d4" d="M169.1 248.7 166.5 249.5 169.2 252.1 171.8 251.3ZM239.7 289.4 237.0 290.3 239.7 291.3 242.4 290.4ZM151.1 277.1 148.4 279.8 151.1 280.7 153.8 278.0ZM189.7 298.4 187.0 301.1 189.7 303.5 192.5 300.9ZM151.1 279.8 148.4 282.4 151.1 283.2 153.8 280.6ZM185.2 298.4 182.5 300.9 185.2 303.5 187.9 301.1ZM114.7 277.1 112.0 277.9 114.7 280.7 117.4 279.8ZM135.2 289.6 132.5 290.6 135.2 291.5 137.9 290.5ZM169.3 308.3 166.6 309.2 169.3 311.9 172.0 311.0ZM189.8 320.9 187.0 322.0 189.8 322.9 192.5 321.8ZM114.7 279.8 112.0 280.5 114.7 283.1 117.4 282.4ZM130.6 289.6 127.9 290.5 130.7 291.5 133.4 290.6ZM169.3 311.0 166.6 311.8 169.3 314.4 172.0 313.6ZM185.2 320.9 182.5 321.8 185.2 322.9 187.9 322.0ZM80.7 298.3 78.0 300.9 80.7 303.3 83.5 300.7ZM151.2 339.7 148.5 342.5 151.2 343.4 153.8 340.6ZM76.2 298.2 73.5 300.7 76.2 303.3 78.9 300.9ZM96.6 310.9 93.9 313.5 96.6 314.2 99.3 311.6ZM130.7 329.7 128.0 332.2 130.7 334.8 133.4 332.3ZM151.2 342.5 148.5 345.1 151.2 345.9 153.8 343.2ZM80.8 320.7 78.0 321.8 80.8 322.7 83.5 321.6ZM114.8 339.7 112.1 340.6 114.8 343.3 117.5 342.4ZM76.2 320.7 73.5 321.6 76.2 322.7 78.9 321.8ZM114.8 342.4 112.1 343.2 114.8 345.8 117.5 345.1Z"/>
<path fill="#1486d3" d="M185.1 258.4 182.4 259.3 185.1 260.3 187.8 259.4ZM223.8 279.6 221.1 280.4 223.8 283.0 226.5 282.2ZM96.6 308.1 93.9 310.9 96.6 311.8 99.3 309.0ZM135.2 329.7 132.5 332.3 135.3 334.8 138.0 332.2ZM60.3 305.1 57.6 306.2 60.3 309.0 63.0 307.9ZM139.8 352.2 137.1 353.4 139.8 354.2 142.5 353.0ZM60.3 313.3 57.6 314.0 60.3 316.5 63.0 315.8ZM126.2 352.1 123.5 353.0 126.2 354.2 128.9 353.4Z"/>
<path fill="#1388d3" d="M139.7 267.2 137.0 269.8 139.7 272.1 142.4 269.4ZM151.1 274.2 148.4 277.0 151.1 278.0 153.8 275.2ZM194.3 298.3 191.6 301.0 194.3 303.2 197.0 300.5ZM205.6 305.3 203.0 308.1 205.7 309.2 208.4 306.4ZM126.1 267.1 123.3 269.4 126.1 272.1 128.8 269.8ZM151.1 282.3 148.4 284.7 151.1 285.4 153.8 283.0ZM180.6 298.3 177.9 300.5 180.6 303.2 183.4 301.0ZM205.7 313.5 203.0 316.0 205.7 316.7 208.4 314.2ZM114.7 274.1 112.0 275.2 114.7 278.0 117.4 276.9ZM139.7 289.3 137.0 290.5 139.7 291.3 142.5 290.1ZM169.3 305.3 166.6 306.4 169.3 309.2 172.0 308.1ZM194.3 320.6 191.6 321.9 194.3 322.7 197.0 321.4ZM114.7 282.2 112.0 282.9 114.8 285.4 117.4 284.7ZM126.1 289.3 123.4 290.1 126.1 291.3 128.8 290.5ZM169.3 313.5 166.6 314.2 169.3 316.7 172.0 316.0ZM180.7 320.6 178.0 321.4 180.7 322.7 183.4 321.9ZM85.3 298.1 82.6 300.8 85.3 303.1 88.0 300.4ZM151.1 336.7 148.5 339.5 151.2 340.6 153.8 337.8ZM71.7 298.0 68.9 300.3 71.7 303.0 74.4 300.7ZM151.2 345.0 148.5 347.4 151.2 348.2 153.9 345.7ZM85.3 320.4 82.6 321.7 85.3 322.5 88.0 321.3ZM114.8 336.7 112.1 337.7 114.8 340.6 117.5 339.5ZM71.7 320.4 69.0 321.2 71.7 322.5 74.4 321.7ZM114.8 344.9 112.1 345.7 114.8 348.1 117.5 347.4Z"/>
<path fill="#128bd2" d="M169.2 251.2 166.5 251.9 169.2 254.3 171.9 253.6ZM180.5 258.1 177.8 258.9 180.5 260.2 183.3 259.3ZM223.8 282.1 221.1 282.8 223.8 285.2 226.5 284.5ZM235.2 289.1 232.5 289.9 235.2 291.2 237.9 290.3ZM96.6 305.2 93.9 308.0 96.6 309.0 99.3 306.2ZM139.8 329.6 137.1 332.3 139.8 334.5 142.5 331.8ZM96.6 313.3 93.9 315.8 96.6 316.5 99.3 314.1ZM126.2 329.5 123.4 331.8 126.2 334.5 128.9 332.2Z"/>
<path fill="#118dd2" d="M146.5 268.4 143.8 271.2 146.5 273.0 149.2 270.2ZM148.8 269.9 146.1 272.6 148.8 274.1 151.5 271.4ZM201.1 299.6 198.4 302.3 201.1 304.1 203.8 301.3ZM203.4 301.0 200.7 303.7 203.4 305.3 206.1 302.5ZM119.2 268.4 116.5 270.2 119.3 272.9 122.0 271.1ZM148.8 286.2 146.1 288.1 148.8 288.9 151.5 286.9ZM173.8 299.6 171.1 301.4 173.8 304.1 176.5 302.3ZM203.4 317.4 200.7 319.4 203.4 320.2 206.1 318.2ZM117.0 269.8 114.3 271.3 117.0 274.1 119.7 272.6ZM146.5 287.6 143.8 289.3 146.6 290.0 149.3 288.3ZM171.6 301.0 168.9 302.5 171.6 305.3 174.3 303.7ZM201.1 318.9 198.4 320.6 201.1 321.4 203.8 319.6ZM117.0 286.1 114.3 286.9 117.0 288.8 119.7 288.1ZM119.3 287.5 116.6 288.3 119.3 290.0 122.0 289.2ZM171.6 317.4 168.9 318.2 171.6 320.2 174.3 319.4ZM173.9 318.9 171.1 319.6 173.9 321.4 176.6 320.6ZM92.1 299.4 89.4 302.1 92.1 303.9 94.8 301.2ZM94.4 300.8 91.6 303.6 94.4 305.1 97.1 302.4ZM146.6 330.9 143.9 333.6 146.6 335.4 149.3 332.7ZM148.9 332.3 146.2 335.1 148.9 336.6 151.6 333.9ZM64.9 299.3 62.1 301.1 64.9 303.9 67.6 302.1ZM94.4 317.3 91.7 319.3 94.4 320.0 97.1 318.0ZM119.4 330.8 116.6 332.7 119.4 335.4 122.1 333.6ZM148.9 348.9 146.2 350.9 148.9 351.7 151.6 349.7ZM62.6 300.7 59.9 302.3 62.6 305.1 65.3 303.5ZM92.1 318.7 89.4 320.4 92.1 321.2 94.8 319.5ZM117.1 332.3 114.4 333.8 117.1 336.6 119.8 335.1ZM146.6 350.4 143.9 352.1 146.6 352.9 149.3 351.2ZM62.6 317.2 59.9 318.0 62.6 319.9 65.3 319.2ZM64.9 318.7 62.2 319.4 64.9 321.1 67.6 320.4ZM117.1 348.9 114.4 349.6 117.1 351.7 119.8 350.9ZM119.4 350.4 116.6 351.1 119.4 352.9 122.1 352.1Z"/>
<path fill="#0f90d2" d="M171.4 255.0 168.7 255.8 171.5 257.7 174.2 257.0ZM173.7 256.4 171.0 257.2 173.7 258.9 176.4 258.1ZM226.1 286.0 223.4 286.7 226.1 288.7 228.8 287.9ZM228.3 287.4 225.6 288.2 228.4 289.9 231.1 289.1Z"/>
<path fill="#0d92d2" d="M144.2 266.8 141.5 269.5 144.2 271.5 146.9 268.8ZM151.0 271.0 148.3 273.8 151.1 275.1 153.8 272.3ZM198.8 297.9 196.1 300.6 198.8 302.7 201.5 299.9ZM205.6 302.2 202.9 305.0 205.7 306.2 208.4 303.4ZM121.5 266.8 118.8 268.8 121.5 271.5 124.2 269.5ZM151.1 284.5 148.4 286.7 151.1 287.5 153.8 285.2ZM176.1 297.9 173.4 300.0 176.1 302.7 178.8 300.6ZM205.7 315.8 203.0 318.0 205.7 318.7 208.4 316.5ZM114.7 271.0 112.0 272.2 114.7 275.0 117.4 273.8ZM144.3 288.7 141.6 290.2 144.3 291.0 147.0 289.5ZM169.3 302.2 166.6 303.4 169.3 306.2 172.0 304.9ZM198.8 320.1 196.1 321.5 198.9 322.3 201.6 320.9ZM114.7 284.5 112.0 285.2 114.8 287.4 117.5 286.7ZM121.6 288.7 118.9 289.5 121.6 291.0 124.3 290.2ZM169.3 315.8 166.6 316.5 169.3 318.7 172.0 318.0ZM176.1 320.1 173.4 320.9 176.1 322.3 178.8 321.5ZM89.8 297.8 87.1 300.5 89.8 302.5 92.5 299.8ZM151.1 333.5 148.4 336.3 151.1 337.6 153.9 334.8ZM67.1 297.7 64.4 299.7 67.1 302.4 69.8 300.4ZM151.2 347.3 148.4 349.5 151.2 350.2 153.9 348.0ZM60.3 301.9 57.6 303.2 60.3 306.0 63.0 304.7ZM89.8 319.9 87.1 321.4 89.8 322.2 92.6 320.7ZM114.8 333.5 112.1 334.8 114.8 337.6 117.5 336.3ZM144.3 351.6 141.6 353.1 144.3 353.9 147.1 352.4ZM58.1 308.6 55.4 309.4 58.1 312.2 60.8 311.4ZM133.0 353.0 130.3 354.0 133.0 354.9 135.7 354.0ZM60.3 315.6 57.6 316.3 60.3 318.5 63.0 317.8ZM67.1 319.8 64.4 320.6 67.2 322.1 69.9 321.3ZM114.8 347.2 112.1 347.9 114.8 350.2 117.5 349.5ZM121.6 351.6 118.9 352.4 121.6 353.8 124.3 353.0Z"/>
<path fill="#0b95d2" d="M166.9 246.6 164.2 247.3 166.9 250.1 169.6 249.3ZM242.0 290.0 239.3 290.9 242.0 291.8 244.7 290.9ZM169.2 253.4 166.5 254.1 169.2 256.3 171.9 255.6ZM176.0 257.6 173.3 258.4 176.0 259.8 178.7 259.0ZM223.8 284.3 221.1 285.1 223.8 287.3 226.5 286.5ZM230.6 288.6 227.9 289.4 230.6 290.8 233.3 290.0ZM137.4 265.1 134.7 267.8 137.4 270.3 140.1 267.6ZM207.9 306.1 205.2 308.9 207.9 309.8 210.6 307.0ZM132.9 265.2 130.1 267.8 132.9 270.4 135.6 267.8ZM153.3 277.7 150.6 280.4 153.3 281.2 156.0 278.4ZM187.5 296.3 184.7 298.9 187.5 301.5 190.2 298.9ZM207.9 308.9 205.2 311.6 207.9 312.4 210.6 309.6ZM128.3 265.1 125.6 267.6 128.3 270.2 131.0 267.8ZM207.9 311.5 205.2 314.1 207.9 314.8 210.6 312.2ZM112.5 277.6 109.8 278.4 112.5 281.1 115.2 280.4ZM132.9 290.1 130.2 291.0 132.9 292.0 135.6 291.1ZM167.0 308.9 164.3 309.6 167.0 312.4 169.7 311.6ZM187.5 321.5 184.8 322.4 187.5 323.3 190.2 322.4ZM96.6 302.0 93.9 304.8 96.6 306.1 99.3 303.3ZM144.3 329.2 141.6 331.9 144.3 334.0 147.1 331.3ZM78.5 296.1 75.7 298.7 78.5 301.3 81.2 298.7ZM153.4 340.3 150.7 343.1 153.4 343.8 156.1 341.1ZM96.6 315.6 93.9 317.8 96.6 318.6 99.3 316.4ZM121.6 329.2 118.9 331.2 121.6 334.0 124.3 331.9ZM58.1 305.9 55.4 306.7 58.1 309.5 60.7 308.7ZM137.5 352.9 134.8 354.0 137.5 354.8 140.2 353.8ZM78.5 321.3 75.8 322.2 78.5 323.1 81.2 322.2ZM112.5 340.3 109.9 341.0 112.5 343.8 115.2 343.0ZM58.1 311.3 55.4 311.9 58.1 314.6 60.8 313.9ZM128.4 352.9 125.7 353.7 128.4 354.8 131.2 354.0Z"/>
<path fill="#0997d1" d="M187.4 259.0 184.6 259.9 187.4 260.8 190.1 259.9ZM221.5 277.5 218.8 278.2 221.5 281.0 224.2 280.2ZM166.9 249.2 164.2 249.8 166.9 252.5 169.6 251.8ZM237.4 289.9 234.7 290.7 237.5 291.7 240.2 290.9ZM153.3 274.9 150.6 277.7 153.3 278.6 156.0 275.8ZM192.0 296.2 189.3 298.9 192.0 301.4 194.7 298.7ZM153.3 280.3 150.7 282.9 153.4 283.6 156.0 280.9ZM182.9 296.2 180.2 298.7 182.9 301.4 185.6 298.9ZM112.5 274.9 109.8 275.7 112.5 278.5 115.2 277.7ZM137.5 290.0 134.7 291.1 137.5 291.9 140.2 290.9ZM167.0 306.1 164.3 306.9 167.0 309.8 169.7 308.9ZM192.0 321.4 189.3 322.4 192.0 323.3 194.8 322.2ZM112.5 280.2 109.8 280.9 112.5 283.5 115.2 282.8ZM128.4 290.0 125.7 290.8 128.4 291.9 131.1 291.1ZM167.0 311.5 164.3 312.2 167.0 314.8 169.7 314.1ZM182.9 321.4 180.2 322.2 182.9 323.3 185.7 322.4ZM83.0 296.1 80.3 298.7 83.0 301.2 85.7 298.5ZM153.4 337.5 150.7 340.3 153.4 341.2 156.1 338.4ZM98.9 308.7 96.2 311.5 98.9 312.2 101.6 309.5ZM133.0 327.6 130.3 330.2 133.0 332.8 135.7 330.2ZM73.9 296.0 71.2 298.5 73.9 301.2 76.6 298.7ZM98.9 311.3 96.2 313.9 98.9 314.7 101.6 312.0ZM128.4 327.5 125.7 330.0 128.4 332.7 131.2 330.2ZM153.4 342.9 150.7 345.6 153.4 346.3 156.1 343.6ZM83.0 321.2 80.3 322.2 83.0 323.1 85.8 322.0ZM112.5 337.4 109.9 338.3 112.5 341.2 115.2 340.3ZM74.0 321.2 71.2 322.0 74.0 323.1 76.7 322.2ZM112.5 342.9 109.9 343.6 112.5 346.2 115.2 345.5Z"/>
<path fill="#089ad1" d="M182.8 258.9 180.1 259.7 182.8 260.7 185.5 259.9ZM221.5 280.1 218.8 280.7 221.5 283.4 224.2 282.7ZM98.9 305.9 96.2 308.7 98.9 309.6 101.6 306.8ZM137.5 327.5 134.8 330.2 137.5 332.7 140.2 330.0Z"/>
<path fill="#079cd0" d="M141.9 265.0 139.2 267.6 142.0 269.9 144.7 267.2ZM153.3 272.0 150.6 274.8 153.3 275.8 156.0 273.0ZM196.5 296.0 193.8 298.7 196.6 301.0 199.3 298.3ZM207.9 303.1 205.2 305.9 207.9 307.0 210.6 304.2ZM123.8 264.9 121.1 267.2 123.8 269.9 126.5 267.6ZM153.3 282.7 150.7 285.1 153.4 285.8 156.1 283.4ZM178.4 296.1 175.6 298.3 178.4 301.0 181.1 298.7ZM207.9 313.9 205.2 316.4 207.9 317.1 210.6 314.6ZM112.4 271.9 109.8 273.0 112.5 275.8 115.2 274.7ZM196.6 321.0 193.9 322.3 196.6 323.1 199.3 321.8ZM112.5 282.6 109.8 283.3 112.5 285.8 115.2 285.1ZM178.4 321.0 175.7 321.8 178.4 323.1 181.1 322.3ZM69.4 295.8 66.7 298.1 69.4 300.8 72.1 298.5ZM153.4 345.4 150.7 347.9 153.4 348.6 156.1 346.1ZM58.1 302.9 55.4 303.9 58.1 306.8 60.8 305.7ZM87.6 320.9 84.9 322.1 87.6 322.9 90.3 321.7ZM112.5 334.5 109.8 335.5 112.5 338.3 115.2 337.3ZM142.1 352.6 139.3 353.8 142.1 354.6 144.8 353.4ZM58.1 313.7 55.4 314.4 58.1 316.8 60.8 316.1ZM69.4 320.8 66.7 321.6 69.4 322.8 72.1 322.1ZM112.5 345.3 109.9 346.0 112.5 348.5 115.2 347.8ZM123.9 352.5 121.2 353.4 123.9 354.6 126.6 353.8Z"/>
<path fill="#079ecf" d="M166.9 251.6 164.2 252.3 166.9 254.7 169.6 254.0ZM178.3 258.5 175.6 259.3 178.3 260.5 181.0 259.7ZM221.5 282.5 218.8 283.2 221.5 285.6 224.2 284.9ZM232.9 289.5 230.2 290.3 232.9 291.6 235.6 290.7ZM142.0 289.7 139.3 290.9 142.0 291.7 144.7 290.5ZM167.0 303.1 164.3 304.2 167.0 307.0 169.7 305.9ZM123.8 289.7 121.1 290.5 123.9 291.7 126.6 290.9ZM167.0 313.9 164.3 314.6 167.0 317.1 169.7 316.4ZM87.5 295.9 84.8 298.6 87.5 300.8 90.3 298.2ZM98.9 303.0 96.2 305.8 98.9 306.8 101.6 304.0ZM142.1 327.3 139.3 330.0 142.1 332.3 144.8 329.6ZM153.4 334.5 150.7 337.3 153.4 338.4 156.1 335.6ZM98.9 313.8 96.2 316.2 98.9 316.9 101.6 314.5ZM123.9 327.3 121.2 329.6 123.9 332.3 126.6 330.0Z"/>
<path fill="#06a0cd" d="M148.8 266.3 146.1 269.0 148.8 270.8 151.5 268.1ZM151.0 267.7 148.3 270.4 151.0 271.9 153.8 269.2ZM203.4 297.4 200.7 300.1 203.4 301.9 206.1 299.2ZM205.6 298.8 202.9 301.5 205.6 303.1 208.4 300.4ZM117.0 266.3 114.3 268.0 117.0 270.7 119.7 268.9ZM151.1 286.6 148.4 288.5 151.1 289.3 153.8 287.4ZM171.6 297.4 168.8 299.2 171.6 301.9 174.3 300.1ZM205.7 317.8 203.0 319.8 205.7 320.6 208.4 318.6ZM114.7 267.7 112.0 269.2 114.7 271.9 117.4 270.4ZM148.8 288.0 146.1 289.7 148.8 290.5 151.5 288.8ZM169.3 298.8 166.6 300.4 169.3 303.1 172.0 301.5ZM203.4 319.3 200.7 321.0 203.4 321.8 206.1 320.1ZM114.8 286.5 112.0 287.3 114.8 289.3 117.5 288.5ZM117.0 287.9 114.3 288.8 117.0 290.5 119.7 289.6ZM169.3 317.8 166.6 318.7 169.3 320.6 172.0 319.8ZM171.6 319.3 168.9 320.1 171.6 321.8 174.3 321.0ZM94.3 297.3 91.6 299.9 94.4 301.7 97.1 299.1ZM96.6 298.7 93.9 301.4 96.6 302.9 99.3 300.2ZM148.9 328.7 146.2 331.4 148.9 333.2 151.6 330.6ZM151.1 330.2 148.4 332.9 151.1 334.4 153.9 331.7ZM62.6 297.2 59.9 299.0 62.6 301.6 65.3 299.8ZM96.6 317.7 93.9 319.7 96.6 320.5 99.4 318.5ZM117.1 328.7 114.4 330.5 117.1 333.2 119.8 331.4ZM151.2 349.3 148.4 351.3 151.1 352.2 153.9 350.2ZM60.3 298.6 57.6 300.1 60.3 302.8 63.0 301.3ZM94.4 319.1 91.7 320.8 94.4 321.7 97.1 320.0ZM114.8 330.1 112.1 331.7 114.8 334.4 117.5 332.8ZM148.9 350.8 146.2 352.5 148.9 353.4 151.6 351.6ZM60.3 317.6 57.6 318.4 60.3 320.4 63.0 319.6ZM62.6 319.0 59.9 319.9 62.6 321.6 65.3 320.8ZM114.8 349.3 112.1 350.1 114.8 352.1 117.5 351.3ZM117.1 350.8 114.4 351.6 117.1 353.3 119.8 352.5Z"/>
<path fill="#06a1cc" d="M169.2 255.4 166.5 256.2 169.2 258.2 171.9 257.4ZM171.4 256.8 168.7 257.7 171.5 259.3 174.2 258.5ZM223.8 286.4 221.1 287.2 223.8 289.2 226.5 288.3ZM226.1 287.8 223.4 288.6 226.1 290.3 228.8 289.5Z"/>
<path fill="#06a3ca" d="M146.5 264.7 143.8 267.3 146.5 269.3 149.2 266.7ZM153.3 268.9 150.6 271.6 153.3 272.9 156.0 270.1ZM201.1 295.7 198.4 298.4 201.1 300.5 203.8 297.8ZM207.9 300.0 205.2 302.7 207.9 304.0 210.6 301.3ZM119.2 264.6 116.5 266.7 119.3 269.3 122.0 267.3ZM153.4 284.9 150.7 287.1 153.4 287.9 156.1 285.7ZM173.8 295.8 171.1 297.8 173.8 300.5 176.5 298.4ZM207.9 316.2 205.2 318.4 207.9 319.2 210.6 317.0ZM112.4 268.8 109.7 270.1 112.5 272.8 115.2 271.5ZM146.5 289.1 143.8 290.6 146.6 291.4 149.3 290.0ZM167.0 300.0 164.3 301.3 167.0 304.0 169.7 302.7ZM201.1 320.5 198.4 321.9 201.1 322.8 203.8 321.3ZM112.5 284.9 109.8 285.6 112.5 287.9 115.2 287.1ZM119.3 289.1 116.6 290.0 119.3 291.4 122.0 290.6ZM167.0 316.2 164.3 317.0 167.0 319.2 169.7 318.4ZM173.9 320.5 171.1 321.3 173.9 322.8 176.6 321.9ZM92.1 295.6 89.4 298.2 92.1 300.3 94.8 297.7ZM153.4 331.4 150.7 334.1 153.4 335.4 156.1 332.7ZM64.8 295.5 62.1 297.6 64.9 300.2 67.6 298.2ZM153.4 347.7 150.7 349.9 153.4 350.7 156.1 348.5ZM58.0 299.8 55.3 301.0 58.1 303.8 60.8 302.5ZM92.1 320.3 89.4 321.8 92.1 322.6 94.8 321.2ZM112.5 331.3 109.8 332.6 112.5 335.4 115.3 334.0ZM146.6 352.0 143.9 353.5 146.6 354.3 149.3 352.9ZM55.8 306.4 53.1 307.2 55.8 310.0 58.5 309.3ZM135.3 353.5 132.5 354.4 135.3 355.3 138.0 354.4ZM55.8 309.1 53.1 309.8 55.8 312.5 58.5 311.9ZM130.7 353.5 128.0 354.4 130.7 355.3 133.4 354.4ZM58.1 315.9 55.4 316.7 58.1 318.9 60.8 318.2ZM64.9 320.2 62.2 321.1 64.9 322.5 67.6 321.7ZM112.5 347.6 109.8 348.4 112.5 350.7 115.3 349.9ZM119.4 352.0 116.6 352.8 119.4 354.3 122.1 353.4Z"/>
<path fill="#06a5c9" d="M164.6 244.4 161.9 245.1 164.6 247.9 167.3 247.2ZM244.3 290.4 241.6 291.3 244.3 292.2 247.0 291.2ZM164.6 247.0 161.9 247.7 164.6 250.5 167.3 249.8ZM239.7 290.4 237.0 291.3 239.7 292.2 242.5 291.3ZM166.9 253.8 164.2 254.6 166.9 256.8 169.6 256.0ZM173.7 258.0 171.0 258.8 173.7 260.3 176.4 259.4ZM221.5 284.7 218.8 285.5 221.5 287.7 224.2 286.9ZM228.4 289.0 225.6 289.8 228.4 291.3 231.1 290.4ZM135.1 263.0 132.4 265.7 135.1 268.2 137.9 265.6ZM155.6 275.5 152.9 278.3 155.6 279.0 158.3 276.2ZM189.7 294.1 187.0 296.7 189.7 299.3 192.5 296.7ZM210.2 306.7 207.5 309.5 210.2 310.2 212.9 307.4ZM130.6 263.0 127.9 265.6 130.6 268.2 133.3 265.7ZM155.6 278.1 152.9 280.9 155.6 281.5 158.3 278.8ZM185.2 294.1 182.5 296.7 185.2 299.3 187.9 296.7ZM210.2 309.3 207.5 312.1 210.2 312.8 212.9 310.0ZM110.2 275.4 107.5 276.1 110.2 279.0 112.9 278.2ZM135.2 290.6 132.5 291.5 135.2 292.3 137.9 291.4ZM164.8 306.6 162.1 307.4 164.8 310.2 167.4 309.5ZM189.8 322.0 187.0 322.9 189.8 323.7 192.5 322.8ZM110.2 278.1 107.5 278.7 110.2 281.5 112.9 280.8ZM130.7 290.6 127.9 291.4 130.7 292.3 133.4 291.5ZM164.8 309.3 162.1 310.0 164.8 312.8 167.5 312.1ZM185.2 322.0 182.5 322.8 185.2 323.7 187.9 322.9ZM98.9 299.9 96.2 302.6 98.9 303.9 101.6 301.2ZM146.6 327.1 143.9 329.7 146.6 331.8 149.3 329.1ZM80.7 293.9 78.0 296.6 80.7 299.2 83.5 296.5ZM155.7 338.1 153.0 340.9 155.7 341.7 158.4 338.8ZM76.2 293.9 73.5 296.5 76.2 299.1 78.9 296.6ZM155.7 340.8 153.0 343.5 155.7 344.2 158.4 341.5ZM98.9 316.0 96.2 318.3 98.9 319.1 101.6 316.8ZM119.4 327.0 116.6 329.1 119.4 331.7 122.1 329.7ZM55.8 303.6 53.1 304.5 55.8 307.3 58.5 306.5ZM139.8 353.3 137.1 354.4 139.8 355.2 142.5 354.2ZM80.8 321.8 78.0 322.7 80.8 323.5 83.5 322.6ZM110.3 338.0 107.6 338.8 110.3 341.6 113.0 340.9ZM76.2 321.8 73.5 322.6 76.2 323.5 78.9 322.7ZM110.3 340.7 107.6 341.4 110.3 344.2 113.0 343.5ZM55.8 311.6 53.1 312.3 55.8 315.0 58.5 314.3ZM126.2 353.3 123.4 354.1 126.2 355.2 128.9 354.4Z"/>
<path fill="#06a6c7" d="M189.6 259.4 186.9 260.3 189.6 261.1 192.4 260.2ZM219.2 275.3 216.5 276.0 219.2 278.8 221.9 278.1ZM185.1 259.4 182.4 260.3 185.1 261.2 187.8 260.3ZM219.2 277.9 216.5 278.6 219.2 281.3 221.9 280.7ZM139.7 262.9 137.0 265.6 139.7 268.1 142.4 265.4ZM155.6 272.7 152.9 275.5 155.6 276.4 158.3 273.6ZM194.3 294.0 191.6 296.7 194.3 299.2 197.0 296.5ZM210.2 303.9 207.5 306.7 210.2 307.6 212.9 304.7ZM126.0 262.9 123.3 265.4 126.1 268.0 128.8 265.6ZM155.6 280.6 152.9 283.3 155.6 284.0 158.3 281.3ZM180.6 294.0 177.9 296.5 180.6 299.2 183.4 296.7ZM210.2 311.9 207.5 314.5 210.2 315.2 212.9 312.6ZM110.2 272.6 107.5 273.5 110.2 276.3 112.9 275.5ZM194.3 321.8 191.6 322.8 194.3 323.7 197.0 322.6ZM110.2 280.6 107.5 281.3 110.2 283.9 112.9 283.2ZM126.1 290.4 123.4 291.2 126.1 292.3 128.8 291.5ZM164.8 311.9 162.1 312.6 164.8 315.2 167.5 314.5ZM180.7 321.8 178.0 322.6 180.7 323.7 183.4 322.8ZM85.3 293.9 82.6 296.5 85.3 299.0 88.0 296.3ZM155.7 335.3 153.0 338.1 155.7 339.0 158.4 336.2ZM101.2 306.5 98.5 309.3 101.2 310.1 103.9 307.3ZM135.2 325.3 132.5 328.0 135.2 330.6 138.0 328.0ZM101.2 309.2 98.5 311.9 101.2 312.6 103.9 309.9ZM130.7 325.3 128.0 327.9 130.7 330.6 133.4 328.0ZM71.7 293.8 68.9 296.2 71.7 298.9 74.4 296.5ZM155.7 343.3 153.0 346.0 155.7 346.7 158.4 344.0ZM85.3 321.6 82.6 322.7 85.3 323.5 88.0 322.5ZM110.3 335.2 107.6 336.1 110.3 338.9 113.0 338.0ZM71.7 321.6 69.0 322.4 71.7 323.4 74.4 322.6ZM110.3 343.3 107.6 344.0 110.3 346.6 113.0 345.9Z"/>
<path fill="#06a7c5" d="M164.6 249.6 161.9 250.2 164.6 252.8 167.3 252.2ZM180.5 259.3 177.8 260.1 180.6 261.1 183.3 260.3ZM219.2 280.4 216.5 281.1 219.2 283.8 221.9 283.1ZM235.2 290.3 232.5 291.1 235.2 292.1 237.9 291.3ZM139.7 290.4 137.0 291.5 139.7 292.3 142.5 291.3ZM164.7 303.9 162.1 304.7 164.8 307.5 167.4 306.7ZM101.2 303.7 98.5 306.5 101.2 307.4 103.9 304.6ZM139.8 325.3 137.1 328.0 139.8 330.5 142.5 327.8ZM101.2 311.7 98.5 314.4 101.2 315.1 103.9 312.4ZM126.2 325.3 123.4 327.7 126.2 330.4 128.9 328.0Z"/>
<path fill="#07a9c3" d="M144.2 262.8 141.5 265.4 144.2 267.7 146.9 265.1ZM155.6 269.8 152.9 272.5 155.6 273.6 158.3 270.9ZM198.8 293.9 196.1 296.5 198.8 298.8 201.5 296.2ZM210.2 301.0 207.5 303.7 210.2 304.8 212.9 302.0ZM121.5 262.8 118.8 265.0 121.5 267.7 124.2 265.4ZM155.6 283.1 152.9 285.5 155.6 286.3 158.3 283.8ZM176.1 293.9 173.4 296.2 176.1 298.8 178.8 296.5ZM210.2 314.3 207.5 316.8 210.2 317.5 212.9 315.1ZM110.2 269.8 107.5 270.8 110.2 273.5 112.9 272.5ZM198.9 321.4 196.1 322.7 198.9 323.5 201.6 322.3ZM110.2 283.0 107.5 283.8 110.2 286.2 112.9 285.4ZM176.1 321.4 173.4 322.3 176.1 323.6 178.9 322.7ZM89.8 293.8 87.1 296.4 89.8 298.7 92.5 296.0ZM155.7 332.3 153.0 335.1 155.7 336.2 158.4 333.4ZM67.1 293.6 64.4 295.9 67.1 298.6 69.8 296.3ZM155.7 345.8 153.0 348.3 155.7 349.0 158.4 346.6ZM55.8 300.7 53.1 301.8 55.8 304.5 58.5 303.5ZM89.8 321.3 87.1 322.5 89.8 323.4 92.6 322.2ZM110.3 332.3 107.6 333.4 110.3 336.1 113.0 335.0ZM144.3 353.0 141.6 354.2 144.3 355.1 147.1 353.9ZM55.8 314.1 53.1 314.8 55.8 317.3 58.5 316.5ZM67.1 321.2 64.4 322.1 67.2 323.3 69.9 322.4ZM110.3 345.7 107.6 346.5 110.3 349.0 113.0 348.2ZM121.6 352.9 118.9 353.8 121.6 355.1 124.3 354.2Z"/>
<path fill="#08aac1" d="M164.6 251.9 161.9 252.7 164.6 255.1 167.3 254.4ZM176.0 258.9 173.3 259.8 176.0 261.0 178.7 260.1ZM219.2 282.9 216.5 283.7 219.3 286.1 222.0 285.3ZM230.6 289.9 227.9 290.8 230.6 292.0 233.4 291.1ZM151.0 264.3 148.3 266.8 151.0 268.6 153.8 266.1ZM153.3 265.7 150.6 268.2 153.3 269.8 156.0 267.2ZM205.6 295.4 202.9 297.9 205.6 299.7 208.4 297.2ZM207.9 296.8 205.2 299.4 207.9 300.9 210.6 298.3ZM114.7 264.2 112.0 266.0 114.7 268.6 117.4 266.8ZM153.4 287.0 150.7 289.0 153.4 289.9 156.1 288.0ZM169.3 295.4 166.6 297.2 169.3 299.7 172.0 297.9ZM207.9 318.3 205.2 320.3 207.9 321.2 210.7 319.2ZM112.4 265.6 109.7 267.1 112.4 269.7 115.2 268.2ZM151.1 288.4 148.4 290.1 151.1 291.1 153.8 289.4ZM167.0 296.8 164.3 298.4 167.0 300.9 169.7 299.4ZM205.7 319.7 203.0 321.4 205.7 322.4 208.4 320.7ZM144.3 290.1 141.6 291.3 144.3 292.2 147.0 291.0ZM164.7 301.0 162.0 302.0 164.8 304.8 167.4 303.7ZM121.6 290.1 118.9 290.9 121.6 292.1 124.3 291.3ZM164.8 314.3 162.1 315.1 164.8 317.5 167.5 316.8ZM112.5 287.0 109.8 287.9 112.5 289.8 115.2 288.9ZM114.8 288.4 112.0 289.3 114.8 291.0 117.5 290.1ZM167.0 318.3 164.3 319.2 167.0 321.2 169.8 320.3ZM169.3 319.7 166.6 320.7 169.3 322.4 172.0 321.4ZM101.2 300.8 98.5 303.5 101.2 304.6 103.9 301.9ZM144.3 325.2 141.6 327.8 144.3 330.1 147.1 327.5ZM101.2 314.2 98.5 316.6 101.2 317.4 103.9 314.9ZM121.6 325.2 118.9 327.4 121.6 330.1 124.3 327.8ZM60.3 295.1 57.6 296.9 60.3 299.5 63.0 297.7ZM98.9 318.2 96.2 320.1 98.9 321.1 101.6 319.1ZM114.8 326.6 112.1 328.5 114.8 331.0 117.5 329.2ZM153.4 349.8 150.7 351.8 153.4 352.7 156.1 350.8ZM58.0 296.5 55.3 298.1 58.0 300.7 60.8 299.1ZM96.6 319.6 93.9 321.3 96.7 322.3 99.4 320.6ZM112.5 328.1 109.8 329.6 112.5 332.2 115.3 330.7ZM151.1 351.3 148.4 353.0 151.1 353.9 153.9 352.2Z"/>
<path fill="#09abbf" d="M166.9 255.9 164.2 256.8 166.9 258.7 169.6 257.8ZM169.2 257.3 166.5 258.2 169.2 259.9 171.9 258.9ZM221.5 286.8 218.8 287.8 221.5 289.8 224.2 288.8ZM223.8 288.3 221.1 289.2 223.8 290.9 226.5 289.9ZM96.6 295.3 93.9 297.8 96.6 299.6 99.3 297.1ZM98.9 296.7 96.2 299.2 98.9 300.8 101.6 298.2ZM151.1 326.7 148.4 329.2 151.1 331.1 153.9 328.5ZM153.4 328.1 150.7 330.7 153.4 332.3 156.1 329.7Z"/>
<path fill="#0badbc" d="M148.8 262.6 146.0 265.2 148.8 267.2 151.5 264.7ZM155.6 266.8 152.9 269.4 155.6 270.7 158.3 268.1ZM203.4 293.7 200.6 296.2 203.4 298.3 206.1 295.8ZM210.2 298.0 207.5 300.6 210.2 301.9 212.9 299.3ZM117.0 262.6 114.3 264.6 117.0 267.2 119.7 265.1ZM155.6 285.4 152.9 287.6 155.6 288.5 158.3 286.3ZM171.5 293.7 168.8 295.8 171.6 298.3 174.3 296.3ZM210.2 316.6 207.5 318.8 210.2 319.8 212.9 317.5ZM110.2 266.8 107.5 268.1 110.2 270.7 112.9 269.4ZM203.4 320.9 200.7 322.4 203.4 323.3 206.1 321.9ZM110.2 285.3 107.5 286.2 110.2 288.4 112.9 287.5ZM171.6 320.9 168.9 321.9 171.6 323.4 174.3 322.4ZM62.6 293.5 59.9 295.5 62.6 298.1 65.3 296.0ZM155.7 348.1 153.0 350.4 155.7 351.3 158.4 349.1ZM55.8 297.7 53.1 299.0 55.8 301.6 58.5 300.3ZM94.4 320.8 91.7 322.2 94.4 323.2 97.1 321.8ZM110.3 329.3 107.6 330.6 110.3 333.2 113.0 331.9ZM148.9 352.5 146.2 353.9 148.9 354.9 151.6 353.5Z"/>
<path fill="#0eaeba" d="M164.6 254.2 161.9 255.2 164.6 257.3 167.3 256.4ZM171.5 258.4 168.7 259.4 171.5 260.8 174.2 259.9ZM219.3 285.2 216.5 286.1 219.3 288.3 222.0 287.4ZM226.1 289.4 223.4 290.4 226.1 291.9 228.8 290.9ZM132.9 260.8 130.1 263.4 132.9 266.1 135.6 263.5ZM212.5 307.1 209.8 310.0 212.5 310.6 215.2 307.8ZM148.8 289.6 146.1 291.0 148.8 292.0 151.5 290.6ZM164.7 298.0 162.0 299.3 164.7 301.9 167.5 300.6ZM117.0 289.6 114.3 290.5 117.0 292.0 119.8 291.0ZM164.8 316.6 162.1 317.6 164.8 319.8 167.5 318.9ZM94.3 293.6 91.6 296.1 94.4 298.2 97.1 295.7ZM101.2 297.9 98.5 300.4 101.2 301.7 103.9 299.2ZM148.9 325.0 146.2 327.6 148.9 329.6 151.6 327.1ZM155.7 329.3 153.0 331.9 155.7 333.2 158.4 330.7ZM101.2 316.5 98.5 318.7 101.2 319.6 103.9 317.4ZM117.1 325.0 114.4 327.1 117.1 329.6 119.8 327.5ZM53.5 304.2 50.8 304.9 53.5 307.8 56.2 307.0ZM137.5 353.9 134.8 354.9 137.5 355.7 140.2 354.8ZM53.5 306.9 50.8 307.5 53.5 310.4 56.2 309.7ZM133.0 354.0 130.3 354.8 133.0 355.7 135.7 354.9ZM53.5 309.5 50.8 310.1 53.5 312.9 56.2 312.3ZM128.4 353.9 125.7 354.8 128.4 355.7 131.2 354.9Z"/>
<path fill="#11afb8" d="M162.3 244.8 159.6 245.5 162.3 248.3 165.0 247.7ZM242.0 290.9 239.3 291.7 242.0 292.6 244.7 291.7ZM137.4 260.8 134.7 263.5 137.4 266.0 140.1 263.4ZM157.9 273.3 155.2 276.1 157.9 276.8 160.6 274.0ZM192.0 291.9 189.3 294.5 192.0 297.1 194.7 294.5ZM212.5 304.4 209.8 307.3 212.5 308.0 215.2 305.2ZM157.9 275.9 155.2 278.7 157.9 279.4 160.6 276.6ZM187.5 291.9 184.7 294.5 187.5 297.2 190.2 294.5ZM128.3 260.8 125.6 263.4 128.3 266.0 131.0 263.5ZM157.9 278.5 155.2 281.3 157.9 281.9 160.6 279.2ZM182.9 291.9 180.2 294.5 182.9 297.1 185.6 294.5ZM212.5 309.7 209.8 312.5 212.5 313.2 215.2 310.4ZM107.9 273.2 105.2 273.9 107.9 276.8 110.6 276.0ZM192.0 322.4 189.3 323.3 192.0 324.1 194.8 323.2ZM107.9 275.9 105.2 276.5 107.9 279.4 110.6 278.7ZM132.9 291.1 130.2 291.9 132.9 292.7 135.7 291.9ZM162.5 307.1 159.8 307.8 162.5 310.6 165.2 309.9ZM187.5 322.4 184.8 323.3 187.5 324.1 190.2 323.3ZM107.9 278.5 105.2 279.1 107.9 281.9 110.6 281.2ZM182.9 322.4 180.2 323.2 182.9 324.1 185.7 323.3ZM83.0 291.7 80.3 294.4 83.0 297.0 85.7 294.3ZM158.0 335.9 155.3 338.7 158.0 339.4 160.7 336.6ZM78.5 291.7 75.7 294.3 78.5 297.0 81.2 294.4ZM158.0 338.5 155.3 341.4 158.0 342.1 160.7 339.2ZM73.9 291.7 71.2 294.2 73.9 296.9 76.6 294.3ZM158.0 341.2 155.3 343.9 158.0 344.6 160.7 341.9ZM53.5 301.5 50.8 302.3 53.5 305.1 56.2 304.2ZM142.1 353.7 139.3 354.8 142.1 355.7 144.8 354.6ZM83.0 322.2 80.3 323.1 83.0 324.0 85.8 323.0ZM108.0 335.8 105.3 336.5 108.0 339.4 110.7 338.6ZM78.5 322.2 75.8 323.1 78.5 323.9 81.2 323.1ZM108.0 338.5 105.3 339.2 108.0 342.0 110.7 341.3ZM74.0 322.2 71.2 323.0 74.0 323.9 76.7 323.1ZM108.0 341.1 105.3 341.8 108.0 344.6 110.7 343.9ZM53.5 312.0 50.8 312.8 53.5 315.4 56.2 314.7ZM123.9 353.7 121.2 354.6 123.9 355.7 126.6 354.8Z"/>
<path fill="#14b0b5" d="M162.3 242.2 159.6 242.9 162.3 245.7 165.0 245.0ZM191.9 259.8 189.2 260.7 191.9 261.5 194.6 260.6ZM217.0 273.1 214.3 273.8 217.0 276.6 219.6 275.9ZM246.5 290.8 243.8 291.7 246.6 292.5 249.3 291.6ZM187.4 259.9 184.6 260.7 187.4 261.5 190.1 260.7ZM217.0 275.7 214.3 276.4 217.0 279.2 219.7 278.5ZM162.3 247.4 159.6 248.1 162.3 250.8 165.0 250.2ZM182.8 259.8 180.1 260.6 182.8 261.5 185.5 260.7ZM217.0 278.3 214.3 279.0 217.0 281.7 219.7 281.1ZM237.4 290.8 234.7 291.7 237.5 292.6 240.2 291.7ZM141.9 260.8 139.2 263.4 142.0 265.9 144.7 263.3ZM157.9 270.5 155.2 273.3 157.9 274.2 160.6 271.4ZM196.5 291.9 193.8 294.5 196.5 296.9 199.3 294.3ZM212.5 301.7 209.8 304.5 212.5 305.3 215.2 302.6ZM123.8 260.8 121.1 263.2 123.8 265.8 126.5 263.4ZM157.9 281.0 155.2 283.7 157.9 284.4 160.6 281.8ZM178.4 291.9 175.6 294.3 178.4 297.0 181.1 294.5ZM212.5 312.3 209.8 314.9 212.5 315.7 215.2 313.0ZM107.9 270.5 105.2 271.3 107.9 274.1 110.6 273.2ZM142.0 290.8 139.3 291.9 142.0 292.8 144.7 291.7ZM162.5 301.7 159.8 302.6 162.5 305.3 165.2 304.5ZM196.6 322.2 193.9 323.2 196.6 324.1 199.3 323.1ZM137.5 291.0 134.8 291.9 137.5 292.7 140.2 291.8ZM162.5 304.4 159.8 305.2 162.5 308.0 165.2 307.3ZM128.4 291.0 125.7 291.8 128.4 292.7 131.1 291.9ZM162.5 309.7 159.8 310.4 162.5 313.2 165.2 312.5ZM107.9 281.0 105.2 281.7 107.9 284.4 110.6 283.6ZM123.8 290.8 121.1 291.7 123.9 292.7 126.6 291.8ZM162.5 312.3 159.8 313.0 162.5 315.7 165.2 314.9ZM178.4 322.2 175.7 323.1 178.4 324.1 181.1 323.2ZM87.5 291.7 84.8 294.3 87.5 296.8 90.3 294.2ZM158.0 333.1 155.3 335.9 158.0 336.8 160.7 334.0ZM103.4 304.3 100.8 307.1 103.4 307.9 106.1 305.1ZM137.5 323.1 134.8 325.8 137.5 328.4 140.2 325.7ZM103.4 307.0 100.8 309.8 103.4 310.5 106.1 307.7ZM133.0 323.1 130.3 325.8 133.0 328.5 135.7 325.8ZM103.4 309.6 100.8 312.3 103.5 313.0 106.1 310.3ZM128.4 323.1 125.7 325.7 128.4 328.4 131.2 325.8ZM69.4 291.6 66.7 294.1 69.4 296.7 72.1 294.3ZM158.0 343.7 155.3 346.4 158.0 347.2 160.7 344.5ZM87.6 322.0 84.9 323.1 87.6 324.0 90.3 322.9ZM108.0 333.0 105.3 333.9 108.0 336.7 110.7 335.8ZM69.4 321.9 66.7 322.8 69.4 323.9 72.1 323.0ZM108.0 343.7 105.3 344.4 108.0 347.1 110.7 346.3Z"/>
<path fill="#18b1b3" d="M162.3 249.9 159.7 250.7 162.4 253.3 165.0 252.5ZM178.3 259.6 175.6 260.5 178.3 261.6 181.0 260.7ZM217.0 280.8 214.3 281.6 217.0 284.2 219.7 283.5ZM232.9 290.7 230.2 291.6 232.9 292.6 235.6 291.7ZM164.6 256.4 161.9 257.6 164.6 259.5 167.4 258.4ZM221.5 288.9 218.8 290.0 221.5 291.7 224.3 290.5ZM153.3 262.4 150.6 264.8 153.3 266.6 156.0 264.2ZM155.6 263.8 152.9 266.2 155.6 267.7 158.3 265.4ZM207.9 293.5 205.2 295.8 207.9 297.7 210.6 295.3ZM210.2 294.9 207.5 297.3 210.2 298.9 212.9 296.5ZM146.5 260.8 143.8 263.3 146.5 265.6 149.2 263.1ZM157.9 267.8 155.2 270.4 157.9 271.4 160.6 268.8ZM201.1 291.8 198.4 294.3 201.1 296.6 203.8 294.1ZM212.5 298.9 209.8 301.5 212.5 302.6 215.2 300.0ZM119.2 260.7 116.5 263.0 119.2 265.5 122.0 263.2ZM212.5 314.8 209.8 317.2 212.5 318.1 215.2 315.7ZM112.4 262.3 109.7 264.2 112.4 266.5 115.1 264.7ZM155.6 287.6 152.9 289.5 155.6 290.6 158.4 288.7ZM167.0 293.5 164.3 295.4 167.0 297.7 169.7 295.9ZM210.2 318.9 207.5 320.8 210.2 321.9 212.9 320.0ZM110.2 263.7 107.5 265.3 110.2 267.7 112.9 266.1ZM153.4 289.0 150.7 290.7 153.4 291.8 156.1 290.2ZM164.7 294.9 162.0 296.5 164.7 298.9 167.5 297.3ZM207.9 320.3 205.2 322.0 207.9 323.1 210.7 321.4ZM107.9 267.7 105.2 268.8 107.9 271.4 110.6 270.3ZM201.1 321.9 198.4 323.1 201.1 324.1 203.8 322.9ZM107.9 283.5 105.2 284.3 107.9 286.8 110.6 285.9ZM173.9 321.9 171.1 322.9 173.9 324.1 176.6 323.1ZM110.2 287.5 107.5 288.6 110.2 290.6 112.9 289.5ZM112.5 288.9 109.8 290.1 112.5 291.8 115.2 290.6ZM164.8 318.9 162.1 320.0 164.8 322.0 167.5 320.8ZM167.0 320.3 164.3 321.5 167.0 323.2 169.8 322.0ZM98.9 293.4 96.2 295.7 98.9 297.6 101.6 295.2ZM101.2 294.8 98.4 297.2 101.2 298.8 103.9 296.4ZM153.4 324.8 150.7 327.2 153.4 329.0 156.1 326.7ZM155.7 326.3 153.0 328.7 155.7 330.2 158.4 327.9ZM103.4 301.6 100.7 304.3 103.4 305.2 106.1 302.5ZM142.1 323.1 139.3 325.8 142.1 328.2 144.8 325.6ZM103.5 312.1 100.8 314.8 103.5 315.5 106.1 312.9ZM123.9 323.1 121.2 325.6 123.9 328.2 126.6 325.7ZM64.8 291.6 62.1 293.9 64.8 296.4 67.6 294.1ZM158.0 346.3 155.3 348.7 158.0 349.6 160.7 347.2ZM58.0 293.2 55.3 295.0 58.0 297.4 60.8 295.6ZM101.2 318.7 98.5 320.7 101.2 321.8 103.9 319.9ZM112.5 324.8 109.8 326.6 112.5 329.0 115.3 327.1ZM155.7 350.4 153.0 352.4 155.7 353.5 158.4 351.5ZM55.8 294.6 53.1 296.2 55.8 298.6 58.5 297.0ZM98.9 320.2 96.2 321.9 98.9 323.0 101.6 321.3ZM110.3 326.2 107.6 327.8 110.3 330.2 113.0 328.6ZM153.4 351.8 150.7 353.5 153.4 354.7 156.1 353.0ZM53.5 298.7 50.8 299.7 53.5 302.4 56.2 301.3ZM92.1 321.7 89.4 323.0 92.1 324.0 94.8 322.8ZM108.0 330.2 105.3 331.3 108.0 333.9 110.7 332.9ZM146.6 353.4 143.9 354.7 146.6 355.7 149.3 354.5Z"/>
<path fill="#1bb2b0" d="M162.4 252.4 159.7 253.3 162.4 255.7 165.1 254.8ZM173.7 259.4 171.0 260.4 173.7 261.6 176.5 260.6ZM217.0 283.3 214.3 284.3 217.0 286.7 219.7 285.8ZM228.4 290.4 225.6 291.4 228.4 292.6 231.1 291.6ZM166.9 257.8 164.2 259.0 166.9 260.7 169.6 259.5ZM219.3 287.4 216.5 288.6 219.3 290.5 222.0 289.4ZM157.9 283.5 155.2 285.9 157.9 286.8 160.6 284.4ZM173.8 291.9 171.1 294.2 173.8 296.7 176.5 294.4ZM146.6 290.5 143.8 291.7 146.6 292.8 149.3 291.6ZM162.5 298.9 159.8 300.0 162.5 302.6 165.2 301.5ZM119.3 290.5 116.6 291.5 119.3 292.7 122.0 291.7ZM162.5 314.8 159.8 315.7 162.5 318.1 165.2 317.2ZM92.1 291.7 89.4 294.2 92.1 296.5 94.8 294.0ZM103.4 298.8 100.7 301.4 103.4 302.5 106.1 299.9ZM146.6 323.2 143.9 325.7 146.6 328.0 149.3 325.5ZM158.0 330.3 155.3 332.9 158.0 334.0 160.7 331.4ZM103.5 314.6 100.8 317.1 103.5 318.0 106.2 315.5ZM119.4 323.1 116.6 325.4 119.4 327.9 122.1 325.6Z"/>
<path fill="#1fb3ad" d="M151.0 260.8 148.3 263.1 151.0 265.2 153.8 262.8ZM157.9 265.0 155.1 267.4 157.9 268.7 160.6 266.3ZM205.6 291.8 202.9 294.2 205.6 296.3 208.4 293.9ZM212.5 296.1 209.7 298.5 212.5 299.8 215.2 297.4ZM114.7 260.7 112.0 262.8 114.7 265.1 117.4 263.1ZM157.9 285.9 155.2 288.1 157.9 289.2 160.6 287.0ZM169.3 291.9 166.6 294.0 169.3 296.3 172.0 294.2ZM212.5 317.2 209.8 319.4 212.5 320.5 215.2 318.3ZM107.9 264.9 105.2 266.2 107.9 268.6 110.6 267.3ZM151.1 290.2 148.4 291.6 151.1 292.8 153.8 291.4ZM162.5 296.1 159.8 297.4 162.5 299.8 165.2 298.5ZM205.7 321.5 202.9 322.9 205.7 324.1 208.4 322.6ZM107.9 285.9 105.2 287.0 108.0 289.2 110.7 288.1ZM114.8 290.1 112.0 291.3 114.8 292.7 117.5 291.5ZM162.5 317.2 159.8 318.3 162.5 320.5 165.2 319.4ZM169.3 321.5 166.6 322.7 169.3 324.1 172.0 322.9ZM96.6 291.8 93.9 294.1 96.6 296.2 99.3 293.8ZM158.0 327.5 155.2 329.9 158.0 331.2 160.7 328.8ZM60.3 291.6 57.6 293.6 60.3 296.0 63.0 293.9ZM158.0 348.7 155.3 350.9 158.0 352.0 160.7 349.8ZM53.5 295.8 50.8 297.1 53.5 299.6 56.2 298.2ZM96.7 321.4 93.9 322.8 96.7 324.0 99.4 322.6ZM108.0 327.4 105.3 328.7 108.0 331.1 110.7 329.8ZM151.1 353.0 148.4 354.5 151.1 355.7 153.9 354.2Z"/>
<path fill="#23b4ab" d="M162.4 254.8 159.7 255.9 162.4 258.1 165.1 257.0ZM169.2 259.0 166.5 260.2 169.2 261.6 171.9 260.4ZM217.0 285.8 214.3 286.9 217.0 289.1 219.7 288.0ZM223.8 290.0 221.1 291.2 223.8 292.6 226.5 291.5ZM103.4 296.0 100.7 298.4 103.4 299.7 106.1 297.3ZM151.1 323.2 148.4 325.5 151.1 327.6 153.9 325.3ZM103.5 317.1 100.7 319.3 103.5 320.4 106.2 318.2ZM114.8 323.1 112.1 325.2 114.8 327.5 117.5 325.5Z"/>
<path fill="#27b6a8" d="M155.6 260.8 152.9 262.9 155.6 264.7 158.3 262.6ZM157.8 262.2 155.1 264.3 157.9 265.9 160.6 263.7ZM210.2 291.8 207.5 294.0 210.2 295.8 212.9 293.7ZM212.5 293.2 209.7 295.4 212.5 297.0 215.2 294.8ZM110.2 260.7 107.4 262.5 110.2 264.6 112.9 262.8ZM157.9 288.3 155.2 290.2 157.9 291.6 160.6 289.7ZM164.7 291.9 162.0 293.7 164.7 295.8 167.5 294.0ZM212.5 319.6 209.8 321.5 212.5 322.8 215.2 320.9ZM107.9 262.1 105.2 263.6 107.9 265.8 110.6 264.2ZM155.6 289.7 152.9 291.4 155.6 292.8 158.4 291.1ZM162.5 293.3 159.7 294.9 162.5 297.0 165.2 295.4ZM210.2 321.0 207.5 322.7 210.2 324.0 212.9 322.4ZM108.0 288.3 105.2 289.6 108.0 291.5 110.7 290.2ZM110.2 289.7 107.5 291.0 110.2 292.7 112.9 291.3ZM162.5 319.6 159.8 321.0 162.5 322.9 165.2 321.6ZM164.8 321.1 162.1 322.4 164.8 324.1 167.5 322.7ZM101.2 291.8 98.4 293.9 101.2 295.7 103.9 293.6ZM103.4 293.2 100.7 295.3 103.4 296.9 106.1 294.8ZM155.7 323.2 153.0 325.3 155.7 327.2 158.4 325.1ZM158.0 324.6 155.2 326.8 158.0 328.4 160.7 326.2ZM55.8 291.5 53.1 293.4 55.8 295.5 58.5 293.7ZM103.5 319.5 100.7 321.4 103.5 322.8 106.2 320.9ZM110.3 323.1 107.6 325.0 110.3 327.1 113.0 325.2ZM158.0 351.1 155.2 353.1 158.0 354.4 160.7 352.5ZM53.5 293.0 50.8 294.5 53.5 296.7 56.2 295.1ZM101.2 320.9 98.5 322.6 101.2 324.0 103.9 322.3ZM108.0 324.5 105.3 326.1 108.0 328.3 110.7 326.7ZM155.7 352.6 153.0 354.3 155.7 355.6 158.4 354.0Z"/>
<path fill="#2cb7a5" d="M162.4 257.2 159.7 258.6 162.4 260.5 165.1 259.1ZM164.6 258.6 161.9 260.0 164.7 261.6 167.4 260.2ZM217.0 288.2 214.3 289.6 217.0 291.5 219.7 290.1ZM219.3 289.6 216.5 291.0 219.3 292.7 222.0 291.3ZM103.3 257.1 100.6 259.0 103.3 260.3 106.1 258.5ZM219.3 323.1 216.6 324.9 219.3 327.1 222.0 325.2ZM101.1 258.5 98.4 260.1 101.1 261.5 103.8 259.9ZM217.0 324.5 214.3 326.1 217.0 328.2 219.8 326.6ZM49.0 287.9 46.2 289.8 49.0 291.2 51.7 289.3ZM164.8 354.7 162.1 356.6 164.8 358.7 167.5 356.8ZM46.7 289.3 44.0 290.9 46.7 292.4 49.4 290.7ZM162.5 356.1 159.8 357.8 162.5 359.9 165.2 358.3ZM51.3 304.6 48.6 305.3 51.3 308.2 53.9 307.5ZM135.3 354.4 132.5 355.3 135.2 356.1 138.0 355.3ZM51.3 307.3 48.6 307.9 51.3 310.8 53.9 310.1ZM130.7 354.4 128.0 355.2 130.7 356.1 133.4 355.3Z"/>
<path fill="#30b7a2" d="M157.8 259.3 155.1 261.2 157.8 263.1 160.6 261.2ZM160.1 260.7 157.4 262.6 160.1 264.2 162.8 262.3ZM212.4 290.4 209.7 292.3 212.5 294.1 215.2 292.2ZM214.7 291.8 212.0 293.7 214.7 295.3 217.4 293.4ZM153.3 259.1 150.6 261.2 153.3 263.3 156.0 261.2ZM160.1 263.3 157.4 265.5 160.1 266.8 162.8 264.6ZM207.9 290.2 205.2 292.3 207.9 294.4 210.6 292.3ZM214.7 294.4 212.0 296.6 214.7 297.9 217.4 295.7ZM148.7 258.9 146.0 261.2 148.8 263.5 151.5 261.2ZM160.1 265.9 157.4 268.3 160.1 269.4 162.8 267.0ZM203.4 290.0 200.6 292.3 203.4 294.6 206.1 292.3ZM214.7 297.0 212.0 299.5 214.7 300.6 217.4 298.1ZM144.2 258.8 141.5 261.3 144.2 263.7 146.9 261.2ZM160.1 268.5 157.4 271.1 160.1 272.0 162.8 269.4ZM198.8 289.8 196.1 292.3 198.8 294.8 201.5 292.3ZM214.7 299.7 212.0 302.3 214.7 303.2 217.4 300.5ZM139.7 258.7 136.9 261.3 139.7 263.8 142.4 261.3ZM160.1 271.1 157.5 273.9 160.1 274.6 162.8 271.9ZM194.3 289.7 191.5 292.3 194.3 294.9 197.0 292.3ZM214.7 302.3 212.0 305.1 214.7 305.8 217.4 303.0ZM135.1 258.6 132.4 261.2 135.1 263.9 137.8 261.3ZM160.1 273.7 157.5 276.5 160.2 277.2 162.8 274.4ZM189.7 289.7 187.0 292.3 189.7 295.0 192.4 292.3ZM214.7 304.9 212.1 307.7 214.7 308.4 217.4 305.6ZM130.6 258.6 127.9 261.2 130.6 263.9 133.3 261.3ZM160.2 276.3 157.5 279.1 160.2 279.8 162.8 277.0ZM185.2 289.7 182.5 292.3 185.2 295.0 187.9 292.3ZM214.7 307.5 212.1 310.4 214.8 311.0 217.4 308.2ZM126.0 258.6 123.3 261.2 126.1 263.8 128.8 261.2ZM160.2 278.9 157.5 281.6 160.2 282.4 162.9 279.6ZM180.6 289.7 177.9 292.3 180.6 294.9 183.4 292.3ZM214.8 310.1 212.1 312.9 214.8 313.6 217.4 310.9ZM121.5 258.7 118.8 261.2 121.5 263.7 124.2 261.2ZM160.2 281.5 157.5 284.1 160.2 285.0 162.9 282.4ZM176.1 289.9 173.4 292.3 176.1 294.8 178.8 292.3ZM214.8 312.7 212.1 315.3 214.8 316.2 217.5 313.6ZM117.0 258.9 114.2 261.2 117.0 263.5 119.7 261.2ZM160.2 284.1 157.5 286.5 160.2 287.6 162.9 285.2ZM171.5 290.0 168.8 292.3 171.6 294.6 174.3 292.3ZM214.8 315.3 212.0 317.8 214.8 318.8 217.5 316.4ZM112.4 259.0 109.7 261.1 112.4 263.2 115.1 261.2ZM160.2 286.7 157.5 288.8 160.2 290.2 162.9 288.0ZM167.0 290.2 164.3 292.3 167.0 294.4 169.7 292.3ZM214.8 317.9 212.0 320.1 214.8 321.4 217.5 319.2ZM107.9 259.2 105.2 261.1 107.9 263.0 110.6 261.1ZM160.2 289.3 157.5 291.2 160.2 292.8 162.9 290.9ZM162.5 290.5 159.7 292.3 162.5 294.2 165.2 292.3ZM214.8 320.5 212.0 322.4 214.8 324.0 217.5 322.1ZM105.6 260.6 102.9 262.2 105.6 264.1 108.3 262.6ZM212.5 321.9 209.8 323.6 212.5 325.2 215.2 323.6ZM105.6 263.2 102.9 264.6 105.6 266.7 108.3 265.4ZM207.9 322.2 205.2 323.6 207.9 325.0 210.7 323.6ZM105.6 265.8 102.9 266.9 105.6 269.3 108.3 268.3ZM203.4 322.4 200.7 323.6 203.4 324.8 206.1 323.6ZM105.6 268.4 102.9 269.3 105.6 271.9 108.3 271.1ZM198.9 322.6 196.1 323.7 198.9 324.7 201.6 323.6ZM105.6 271.0 103.0 271.8 105.7 274.5 108.3 273.8ZM194.3 322.8 191.6 323.7 194.3 324.6 197.0 323.7ZM105.6 273.6 103.0 274.3 105.7 277.1 108.3 276.5ZM189.8 322.8 187.0 323.7 189.8 324.5 192.5 323.7ZM105.7 276.2 103.0 276.9 105.7 279.7 108.3 279.1ZM185.2 322.8 182.5 323.7 185.2 324.5 187.9 323.7ZM105.7 278.8 103.0 279.6 105.7 282.3 108.4 281.6ZM180.7 322.8 178.0 323.7 180.7 324.6 183.4 323.7ZM105.7 281.4 103.0 282.3 105.7 284.9 108.4 284.0ZM176.1 322.7 173.4 323.7 176.1 324.7 178.9 323.7ZM105.7 284.0 103.0 285.1 105.7 287.5 108.4 286.4ZM171.6 322.5 168.9 323.7 171.6 324.9 174.3 323.7ZM105.7 286.6 103.0 287.9 105.7 290.1 108.4 288.8ZM167.0 322.3 164.3 323.7 167.0 325.1 169.8 323.7ZM105.7 289.2 103.0 290.8 105.7 292.7 108.4 291.1ZM162.5 322.0 159.8 323.7 162.5 325.3 165.2 323.7ZM103.4 290.4 100.7 292.2 103.4 294.1 106.1 292.2ZM160.2 323.2 157.5 325.1 160.2 326.7 163.0 324.8ZM98.9 290.1 96.2 292.2 98.9 294.3 101.6 292.2ZM160.2 325.8 157.5 328.0 160.2 329.4 162.9 327.2ZM94.3 289.9 91.6 292.2 94.3 294.5 97.1 292.2ZM160.2 328.5 157.5 330.9 160.2 332.0 162.9 329.6ZM89.8 289.7 87.1 292.2 89.8 294.7 92.5 292.2ZM160.2 331.1 157.5 333.7 160.2 334.6 162.9 332.0ZM85.3 289.6 82.5 292.2 85.3 294.8 88.0 292.2ZM160.2 333.7 157.5 336.5 160.2 337.2 162.9 334.5ZM80.7 289.5 78.0 292.1 80.7 294.8 83.4 292.2ZM160.2 336.3 157.5 339.2 160.2 339.9 162.9 337.0ZM76.2 289.5 73.5 292.1 76.2 294.8 78.9 292.1ZM160.2 339.0 157.5 341.8 160.2 342.5 162.9 339.6ZM71.6 289.5 68.9 292.1 71.7 294.7 74.4 292.1ZM160.2 341.6 157.5 344.3 160.2 345.1 162.9 342.3ZM67.1 289.6 64.4 292.0 67.1 294.5 69.8 292.1ZM160.2 344.2 157.5 346.8 160.2 347.7 162.9 345.1ZM62.6 289.7 59.9 292.0 62.6 294.4 65.3 292.1ZM160.2 346.8 157.5 349.3 160.2 350.4 162.9 347.9ZM58.0 289.9 55.3 292.0 58.0 294.1 60.8 292.0ZM160.2 349.5 157.5 351.7 160.2 353.0 163.0 350.8ZM53.5 290.1 50.8 291.9 53.5 293.9 56.2 292.0ZM160.2 352.1 157.5 354.0 160.2 355.6 163.0 353.7ZM51.2 291.5 48.5 293.1 51.2 295.0 54.0 293.4ZM103.5 321.9 100.7 323.6 103.5 325.2 106.2 323.6ZM105.7 323.1 103.0 324.7 105.7 326.6 108.5 325.0ZM158.0 353.5 155.2 355.2 158.0 356.8 160.7 355.2ZM51.2 294.1 48.5 295.5 51.2 297.7 54.0 296.3ZM98.9 322.1 96.2 323.5 98.9 325.0 101.6 323.6ZM105.7 325.7 103.0 327.1 105.7 329.3 108.4 327.9ZM153.4 353.8 150.7 355.2 153.4 356.6 156.1 355.2ZM51.2 296.8 48.5 297.8 51.2 300.3 53.9 299.2ZM94.4 322.3 91.7 323.5 94.4 324.8 97.1 323.5ZM105.7 328.4 103.0 329.5 105.7 331.9 108.4 330.8ZM148.9 354.0 146.2 355.2 148.9 356.4 151.6 355.2ZM51.2 299.4 48.6 300.3 51.2 302.9 53.9 302.0ZM89.8 322.5 87.1 323.5 89.8 324.6 92.6 323.5ZM105.7 331.0 103.0 331.9 105.7 334.5 108.4 333.6ZM144.3 354.2 141.6 355.3 144.3 356.3 147.1 355.2ZM51.2 302.0 48.6 302.8 51.3 305.5 53.9 304.8ZM85.3 322.6 82.6 323.5 85.3 324.4 88.0 323.5ZM105.7 333.6 103.0 334.4 105.7 337.2 108.4 336.4ZM139.8 354.3 137.1 355.3 139.8 356.2 142.5 355.3ZM80.8 322.6 78.0 323.5 80.8 324.4 83.5 323.5ZM105.7 336.3 103.1 336.9 105.7 339.8 108.4 339.1ZM76.2 322.6 73.5 323.5 76.2 324.3 78.9 323.5ZM105.7 338.9 103.1 339.6 105.7 342.4 108.4 341.7ZM51.3 309.9 48.6 310.6 51.3 313.4 54.0 312.6ZM71.7 322.5 69.0 323.4 71.7 324.4 74.4 323.5ZM105.7 341.5 103.0 342.3 105.7 345.0 108.4 344.3ZM126.2 354.3 123.4 355.2 126.2 356.2 128.9 355.2Z"/>
<path fill="#35b89f" d="M160.0 240.1 157.4 240.8 160.1 243.5 162.7 242.8ZM194.2 260.2 191.5 261.1 194.2 262.0 196.9 261.1ZM214.7 270.9 212.0 271.7 214.7 274.4 217.4 273.7ZM248.8 291.2 246.1 292.1 248.8 293.0 251.6 292.1ZM160.0 242.6 157.4 243.3 160.1 246.1 162.7 245.5ZM189.6 260.2 186.9 261.1 189.7 261.9 192.4 261.1ZM214.7 273.5 212.0 274.2 214.7 277.0 217.4 276.3ZM244.3 291.3 241.6 292.1 244.3 292.9 247.0 292.1ZM160.1 245.2 157.4 245.9 160.1 248.7 162.8 248.0ZM185.1 260.3 182.4 261.1 185.1 261.9 187.8 261.1ZM214.7 276.1 212.0 276.8 214.7 279.6 217.4 278.9ZM239.7 291.3 237.0 292.1 239.7 293.0 242.5 292.1ZM160.1 247.8 157.4 248.5 160.1 251.3 162.8 250.5ZM180.5 260.2 177.8 261.1 180.6 262.0 183.3 261.1ZM214.7 278.7 212.0 279.5 214.7 282.2 217.4 281.5ZM235.2 291.2 232.5 292.2 235.2 293.1 237.9 292.1ZM160.1 250.4 157.4 251.3 160.1 253.9 162.8 253.0ZM176.0 260.1 173.3 261.1 176.0 262.1 178.7 261.1ZM214.7 281.3 212.0 282.2 214.7 284.8 217.4 283.9ZM230.6 291.1 227.9 292.2 230.6 293.2 233.4 292.1ZM160.1 253.0 157.4 254.1 160.1 256.5 162.8 255.4ZM171.5 259.9 168.7 261.1 171.5 262.3 174.2 261.1ZM214.7 283.9 212.0 285.0 214.7 287.4 217.4 286.3ZM226.1 291.0 223.4 292.2 226.1 293.4 228.8 292.2ZM160.1 255.6 157.4 256.9 160.1 259.0 162.8 257.7ZM166.9 259.8 164.2 261.2 166.9 262.6 169.6 261.1ZM214.7 286.5 212.0 287.9 214.7 290.1 217.4 288.7ZM221.5 290.8 218.8 292.2 221.5 293.6 224.3 292.2ZM160.1 258.1 157.4 259.8 160.1 261.6 162.8 260.0ZM162.4 259.6 159.7 261.2 162.4 262.8 165.1 261.2ZM214.7 289.2 212.0 290.8 214.7 292.7 217.4 291.1ZM217.0 290.6 214.3 292.2 217.0 293.9 219.7 292.2ZM105.6 255.4 102.9 257.6 105.6 258.9 108.3 256.8ZM221.6 321.4 218.9 323.5 221.6 325.6 224.3 323.5ZM105.6 258.0 102.9 259.9 105.6 261.5 108.3 259.7ZM217.0 321.7 214.3 323.6 217.0 325.4 219.8 323.5ZM103.3 259.4 100.6 261.1 103.3 262.7 106.1 261.1ZM157.9 290.7 155.2 292.3 157.9 294.0 160.6 292.3ZM160.2 291.9 157.5 293.5 160.2 295.4 162.9 293.8ZM214.8 323.1 212.0 324.7 214.8 326.6 217.5 325.0ZM98.8 259.6 96.1 261.0 98.8 262.4 101.5 261.1ZM153.4 290.9 150.7 292.3 153.4 293.7 156.1 292.3ZM160.2 294.5 157.5 295.8 160.2 298.0 162.9 296.6ZM214.8 325.7 212.0 327.1 214.8 329.2 217.5 327.9ZM148.8 291.1 146.1 292.3 148.8 293.5 151.6 292.3ZM160.2 297.1 157.5 298.2 160.2 300.6 162.9 299.5ZM144.3 291.3 141.6 292.3 144.3 293.3 147.0 292.3ZM160.2 299.7 157.5 300.6 160.2 303.2 162.9 302.3ZM139.7 291.4 137.0 292.3 139.8 293.2 142.5 292.3ZM160.2 302.3 157.5 303.0 160.2 305.8 162.9 305.0ZM135.2 291.4 132.5 292.3 135.2 293.1 137.9 292.3ZM160.2 304.9 157.5 305.6 160.2 308.4 162.9 307.7ZM130.7 291.4 127.9 292.3 130.7 293.1 133.4 292.3ZM160.2 307.5 157.5 308.2 160.2 311.0 162.9 310.3ZM126.1 291.4 123.4 292.3 126.1 293.2 128.8 292.3ZM160.2 310.1 157.5 310.9 160.2 313.6 162.9 312.9ZM121.6 291.2 118.9 292.3 121.6 293.3 124.3 292.3ZM160.2 312.7 157.5 313.6 160.2 316.2 162.9 315.4ZM117.0 291.1 114.3 292.3 117.0 293.4 119.8 292.3ZM160.2 315.3 157.5 316.4 160.2 318.9 162.9 317.8ZM112.5 290.9 109.8 292.2 112.5 293.6 115.2 292.3ZM160.2 318.0 157.5 319.3 160.2 321.5 162.9 320.1ZM108.0 290.6 105.2 292.2 108.0 293.9 110.7 292.2ZM160.2 320.6 157.5 322.2 160.2 324.1 162.9 322.5ZM105.7 291.8 103.0 293.7 105.7 295.3 108.4 293.4ZM158.0 321.8 155.2 323.6 158.0 325.5 160.7 323.7ZM105.7 294.4 103.0 296.5 105.7 297.9 108.4 295.7ZM153.4 321.5 150.7 323.6 153.4 325.7 156.1 323.6ZM105.7 297.0 103.0 299.4 105.7 300.5 108.4 298.1ZM148.9 321.3 146.2 323.6 148.9 325.9 151.6 323.6ZM105.7 299.6 103.0 302.2 105.7 303.1 108.4 300.5ZM144.3 321.1 141.6 323.6 144.3 326.1 147.1 323.6ZM105.7 302.2 103.0 304.9 105.7 305.7 108.4 302.9ZM139.8 321.0 137.1 323.6 139.8 326.2 142.5 323.6ZM105.7 304.8 103.0 307.6 105.7 308.3 108.4 305.4ZM135.2 320.9 132.5 323.6 135.2 326.2 138.0 323.6ZM105.7 307.4 103.0 310.2 105.7 310.9 108.4 308.1ZM130.7 320.9 128.0 323.6 130.7 326.2 133.4 323.6ZM105.7 310.0 103.0 312.7 105.7 313.5 108.4 310.7ZM126.2 321.0 123.4 323.6 126.2 326.2 128.9 323.6ZM105.7 312.6 103.0 315.2 105.7 316.1 108.4 313.5ZM121.6 321.1 118.9 323.6 121.6 326.1 124.3 323.6ZM105.7 315.2 103.0 317.6 105.7 318.7 108.4 316.3ZM117.1 321.2 114.4 323.6 117.1 325.9 119.8 323.6ZM51.2 286.2 48.5 288.4 51.2 289.8 53.9 287.6ZM105.7 317.8 103.0 320.0 105.7 321.4 108.4 319.2ZM112.5 321.4 109.8 323.6 112.5 325.7 115.3 323.6ZM167.0 353.0 164.3 355.1 167.0 357.2 169.8 355.1ZM51.2 288.9 48.5 290.8 51.2 292.4 53.9 290.5ZM105.7 320.5 103.0 322.4 105.7 324.0 108.5 322.1ZM108.0 321.7 105.3 323.6 108.0 325.4 110.7 323.6ZM162.5 353.3 159.8 355.2 162.5 357.0 165.2 355.1ZM49.0 290.3 46.2 291.9 49.0 293.6 51.7 292.0ZM160.2 354.7 157.5 356.4 160.2 358.2 163.0 356.6ZM44.4 290.5 41.7 291.9 44.4 293.3 47.1 291.9ZM160.2 357.3 157.5 358.7 160.2 360.9 162.9 359.5Z"/>
<path fill="#3ab99c" d="M155.6 257.7 152.8 259.6 155.6 261.7 158.3 259.8ZM217.0 293.0 214.3 294.9 217.0 296.3 219.7 294.3ZM110.1 257.6 107.4 259.7 110.2 261.6 112.9 259.5ZM217.0 318.9 214.3 321.0 217.0 322.6 219.8 320.4ZM103.4 287.5 100.7 289.1 103.4 291.3 106.1 289.7ZM164.8 323.2 162.1 324.9 164.8 326.3 167.5 324.6ZM49.0 292.7 46.3 294.0 49.0 296.0 51.7 294.6ZM101.2 323.1 98.5 324.5 101.2 326.2 103.9 324.8ZM103.5 324.3 100.7 325.7 103.5 327.6 106.2 326.2ZM155.7 354.7 153.0 356.2 155.7 357.8 158.4 356.4Z"/>
<path fill="#3fba99" d="M157.8 256.5 155.1 258.1 157.8 260.2 160.6 258.6ZM164.7 260.7 161.9 262.4 164.7 263.7 167.4 262.1ZM212.4 287.5 209.7 289.1 212.4 291.3 215.2 289.7ZM219.3 291.8 216.6 293.4 219.3 294.8 222.0 293.1ZM162.4 261.9 159.7 263.8 162.4 265.2 165.1 263.2ZM210.2 288.7 207.5 290.6 210.2 292.7 212.9 290.8ZM107.9 256.4 105.2 258.5 107.9 260.1 110.6 258.0ZM162.5 287.6 159.7 289.8 162.5 291.4 165.2 289.2ZM164.7 288.8 162.0 290.9 164.7 292.8 167.5 290.7ZM219.3 320.0 216.6 322.2 219.3 324.0 222.0 321.8ZM101.1 260.6 98.4 262.0 101.1 263.6 103.8 262.3ZM103.3 261.8 100.6 263.1 103.4 265.1 106.1 263.7ZM155.6 291.9 152.9 293.2 155.7 294.9 158.4 293.5ZM157.9 293.1 155.2 294.4 157.9 296.3 160.6 295.0ZM210.2 323.1 207.5 324.5 210.2 326.2 212.9 324.8ZM212.5 324.3 209.8 325.7 212.5 327.6 215.2 326.2ZM110.2 291.8 107.5 293.4 110.2 294.8 113.0 293.2ZM158.0 318.9 155.2 320.5 158.0 322.7 160.7 321.1ZM101.1 288.7 98.4 290.5 101.2 292.7 103.9 290.8ZM108.0 293.0 105.2 294.9 108.0 296.2 110.7 294.3ZM155.7 320.1 153.0 321.9 155.7 324.1 158.4 322.2ZM162.5 324.4 159.8 326.3 162.5 327.7 165.2 325.8ZM53.5 287.2 50.8 289.4 53.5 291.0 56.2 288.8ZM55.8 288.4 53.0 290.6 55.8 292.4 58.5 290.3ZM108.0 318.8 105.3 321.0 108.0 322.6 110.7 320.4ZM110.3 320.0 107.6 322.1 110.3 324.0 113.0 321.9ZM162.5 350.4 159.8 352.6 162.5 354.2 165.2 352.0ZM164.8 351.6 162.1 353.7 164.8 355.6 167.5 353.4ZM46.7 291.5 44.0 292.8 46.7 294.5 49.4 293.2ZM158.0 355.9 155.2 357.3 158.0 359.2 160.7 357.8Z"/>
<path fill="#45bb96" d="M151.0 257.3 148.3 259.4 151.0 261.7 153.7 259.6ZM217.0 295.4 214.3 297.6 217.0 298.7 219.7 296.5ZM114.7 257.2 112.0 259.5 114.7 261.6 117.4 259.3ZM217.0 316.1 214.3 318.5 217.0 319.8 219.7 317.3ZM103.4 264.2 100.6 265.3 103.4 267.5 106.1 266.4ZM205.7 323.2 203.0 324.4 205.7 325.8 208.4 324.6ZM103.4 284.7 100.7 286.0 103.4 288.4 106.1 287.1ZM169.3 323.2 166.6 324.7 169.3 325.8 172.0 324.4ZM96.6 288.3 93.9 290.3 96.6 292.7 99.3 290.6ZM162.5 326.8 159.8 329.0 162.5 330.1 165.2 327.9ZM49.0 295.1 46.3 296.2 49.0 298.4 51.7 297.3ZM96.7 323.1 93.9 324.3 96.7 325.7 99.4 324.5ZM103.5 326.7 100.8 327.8 103.5 330.0 106.2 328.9ZM151.1 354.8 148.4 356.0 151.1 357.4 153.9 356.2Z"/>
<path fill="#4abc93" d="M157.8 253.7 155.1 255.0 157.8 257.4 160.5 256.1ZM169.2 260.7 166.5 262.1 169.2 263.3 171.9 261.9ZM212.4 284.7 209.7 286.0 212.4 288.4 215.2 287.1ZM223.8 291.7 221.1 293.2 223.8 294.4 226.5 292.9ZM162.4 264.3 159.7 266.5 162.4 267.6 165.1 265.4ZM205.6 288.3 202.9 290.4 205.6 292.7 208.4 290.6ZM107.9 253.6 105.2 256.0 107.9 257.3 110.6 254.9ZM162.4 284.8 159.7 287.2 162.5 288.5 165.2 286.1ZM169.3 288.4 166.6 290.7 169.3 292.8 172.0 290.5ZM223.9 319.6 221.1 321.9 223.9 324.0 226.6 321.6ZM96.5 260.6 93.8 261.7 96.5 263.2 99.3 262.0ZM151.1 291.9 148.4 293.0 151.1 294.5 153.8 293.3ZM157.9 295.4 155.2 296.5 157.9 298.7 160.6 297.6ZM212.5 326.7 209.8 327.8 212.5 330.0 215.2 328.8ZM114.8 291.8 112.1 293.2 114.8 294.4 117.5 293.0ZM158.0 316.1 155.2 317.4 158.0 319.8 160.7 318.5ZM108.0 295.3 105.3 297.5 108.0 298.6 110.7 296.4ZM151.1 319.6 148.4 321.7 151.1 324.1 153.9 322.0ZM53.5 284.4 50.8 286.8 53.5 288.1 56.2 285.7ZM60.3 288.0 57.6 290.4 60.3 292.5 63.0 290.1ZM108.0 316.0 105.3 318.4 108.0 319.7 110.7 317.3ZM114.8 319.6 112.1 321.9 114.8 324.0 117.5 321.7ZM162.5 347.6 159.8 350.0 162.5 351.3 165.2 348.9ZM169.3 351.1 166.6 353.5 169.3 355.6 172.0 353.2ZM42.2 291.4 39.4 292.6 42.2 294.0 44.9 292.9ZM158.0 358.3 155.2 359.5 158.0 361.6 160.7 360.5Z"/>
<path fill="#50bc90" d="M157.8 251.0 155.1 252.0 157.8 254.6 160.5 253.5ZM228.4 291.7 225.6 293.0 228.4 294.0 231.1 292.7ZM146.5 256.9 143.8 259.2 146.5 261.7 149.2 259.4ZM162.4 266.7 159.7 269.1 162.4 270.0 165.1 267.5ZM201.1 287.9 198.4 290.2 201.1 292.7 203.8 290.4ZM217.0 297.8 214.3 300.2 217.0 301.1 219.7 298.7ZM119.2 256.9 116.5 259.3 119.2 261.6 122.0 259.2ZM162.4 282.1 159.7 284.7 162.4 285.7 165.1 283.1ZM173.8 288.0 171.1 290.5 173.8 292.8 176.5 290.3ZM217.0 313.3 214.3 315.9 217.0 317.0 219.7 314.3ZM103.4 266.6 100.7 267.5 103.4 269.9 106.1 269.0ZM146.6 291.9 143.8 292.9 146.6 294.1 149.3 293.1ZM157.9 297.8 155.2 298.7 157.9 301.2 160.6 300.3ZM201.1 323.2 198.4 324.2 201.1 325.4 203.9 324.4ZM103.4 282.0 100.7 283.0 103.4 285.6 106.1 284.6ZM119.3 291.8 116.6 293.0 119.3 294.0 122.0 292.8ZM157.9 313.3 155.2 314.4 158.0 317.0 160.7 315.9ZM173.9 323.2 171.1 324.5 173.9 325.5 176.6 324.3ZM92.1 287.9 89.4 290.1 92.1 292.6 94.8 290.4ZM162.5 329.2 159.8 331.6 162.5 332.6 165.2 330.1ZM64.8 287.7 62.1 290.2 64.8 292.5 67.6 290.0ZM162.5 344.8 159.8 347.4 162.5 348.5 165.2 345.9ZM46.7 293.6 44.0 294.7 46.7 296.7 49.4 295.6ZM98.9 324.1 96.2 325.2 98.9 326.9 101.6 325.8ZM101.2 325.3 98.5 326.4 101.2 328.4 103.9 327.2ZM153.4 355.7 150.7 356.9 153.4 358.6 156.1 357.4ZM49.0 297.5 46.3 298.4 49.0 300.9 51.7 300.0ZM92.1 323.1 89.4 324.1 92.1 325.3 94.8 324.3ZM103.5 329.1 100.8 330.0 103.5 332.5 106.2 331.6ZM146.6 354.8 143.9 355.8 146.6 357.0 149.3 356.0Z"/>
<path fill="#56bd8d" d="M173.7 260.7 171.0 261.9 173.8 262.9 176.5 261.7ZM212.4 281.9 209.7 283.0 212.4 285.6 215.1 284.5ZM155.6 254.7 152.8 256.2 155.6 258.6 158.3 257.0ZM166.9 261.7 164.2 263.3 166.9 264.5 169.7 262.8ZM210.2 285.7 207.5 287.2 210.2 289.6 212.9 288.0ZM221.5 292.7 218.8 294.4 221.6 295.6 224.3 293.9ZM153.3 255.9 150.6 257.7 153.3 260.0 156.0 258.2ZM164.7 262.8 161.9 264.8 164.7 265.9 167.4 264.0ZM207.9 286.9 205.2 288.7 207.9 291.1 210.6 289.2ZM219.3 293.9 216.6 295.9 219.3 297.0 222.0 295.0ZM141.9 256.6 139.2 259.1 141.9 261.7 144.7 259.2ZM217.0 300.2 214.3 302.9 217.0 303.6 219.7 301.0ZM123.8 256.6 121.1 259.2 123.8 261.7 126.5 259.1ZM217.0 310.6 214.3 313.3 217.0 314.2 219.7 311.4ZM110.1 254.6 107.4 256.9 110.1 258.5 112.9 256.2ZM112.4 255.8 109.7 258.1 112.4 259.9 115.1 257.6ZM164.7 285.8 162.0 288.2 164.7 289.7 167.4 287.3ZM167.0 287.0 164.3 289.3 167.0 291.1 169.7 288.8ZM219.3 317.0 216.6 319.4 219.3 320.9 222.0 318.5ZM221.6 318.2 218.9 320.5 221.6 322.3 224.3 320.0ZM98.8 261.5 96.1 262.7 98.8 264.4 101.5 263.2ZM101.1 262.7 98.4 263.8 101.1 265.8 103.8 264.7ZM153.4 292.8 150.7 294.0 153.4 295.6 156.1 294.5ZM155.7 294.0 152.9 295.1 155.7 297.1 158.4 295.9ZM207.9 324.1 205.2 325.3 207.9 326.9 210.7 325.8ZM210.2 325.3 207.5 326.4 210.2 328.3 212.9 327.2ZM103.4 269.0 100.7 269.7 103.4 272.4 106.1 271.6ZM196.6 323.2 193.9 324.1 196.6 325.1 199.3 324.2ZM103.4 279.3 100.7 280.1 103.4 282.9 106.1 282.0ZM178.4 323.2 175.7 324.3 178.4 325.2 181.1 324.1ZM101.1 285.7 98.4 287.2 101.1 289.6 103.9 288.1ZM112.5 292.7 109.8 294.4 112.5 295.6 115.2 293.9ZM155.7 317.0 153.0 318.6 155.7 321.0 158.4 319.4ZM167.0 324.2 164.3 325.9 167.0 327.0 169.8 325.4ZM98.9 286.9 96.2 288.7 98.9 291.0 101.6 289.2ZM110.2 293.9 107.5 295.8 110.2 297.0 113.0 295.0ZM153.4 318.2 150.7 320.1 153.4 322.4 156.1 320.6ZM164.8 325.4 162.1 327.3 164.8 328.5 167.5 326.5ZM108.0 297.7 105.3 300.1 108.0 301.0 110.7 298.6ZM146.6 319.3 143.9 321.6 146.6 324.1 149.3 321.8ZM87.5 287.6 84.8 290.0 87.5 292.6 90.3 290.2ZM162.5 331.7 159.8 334.3 162.5 335.1 165.2 332.4ZM108.0 313.2 105.3 315.8 108.0 316.9 110.7 314.3ZM119.4 319.2 116.6 321.7 119.4 324.0 122.1 321.5ZM55.8 285.4 53.0 287.7 55.8 289.3 58.5 287.0ZM58.0 286.6 55.3 288.9 58.0 290.8 60.7 288.4ZM110.3 316.9 107.6 319.3 110.3 320.9 113.0 318.5ZM112.5 318.1 109.8 320.5 112.5 322.3 115.3 320.0ZM164.8 348.5 162.1 350.9 164.8 352.5 167.5 350.1ZM167.0 349.7 164.3 352.1 167.0 353.9 169.8 351.5ZM44.4 292.4 41.7 293.6 44.4 295.3 47.1 294.1ZM155.7 356.9 153.0 358.1 155.7 360.0 158.4 358.8ZM49.0 300.0 46.3 300.7 49.0 303.4 51.7 302.6ZM87.6 323.1 84.9 324.0 87.6 325.0 90.3 324.1ZM103.5 331.6 100.8 332.4 103.5 335.0 106.2 334.2ZM142.1 354.8 139.3 355.7 142.1 356.8 144.8 355.9ZM49.0 302.5 46.3 303.1 49.0 305.9 51.7 305.3ZM137.5 354.8 134.8 355.7 137.5 356.6 140.2 355.7ZM49.0 307.6 46.3 308.4 49.0 311.2 51.7 310.5ZM128.4 354.8 125.7 355.7 128.4 356.6 131.2 355.7Z"/>
<path fill="#5bbe8a" d="M157.8 238.0 155.1 238.8 157.8 241.4 160.5 240.7ZM196.5 260.6 193.7 261.5 196.5 262.5 199.2 261.7ZM212.4 268.9 209.7 269.7 212.4 272.3 215.1 271.5ZM251.1 291.6 248.4 292.5 251.1 293.5 253.8 292.6ZM157.8 248.3 155.1 249.1 157.8 251.9 160.5 251.0ZM178.3 260.7 175.6 261.7 178.3 262.6 181.0 261.5ZM212.4 279.2 209.7 280.1 212.4 282.8 215.1 281.9ZM232.9 291.7 230.2 292.8 232.9 293.6 235.6 292.6ZM162.4 269.1 159.7 271.7 162.4 272.5 165.1 269.8ZM196.5 287.7 193.8 290.1 196.5 292.8 199.3 290.3ZM137.4 256.5 134.7 259.0 137.4 261.7 140.1 259.1ZM162.4 271.6 159.7 274.3 162.4 275.0 165.1 272.2ZM192.0 287.5 189.3 290.1 192.0 292.8 194.7 290.2ZM217.0 302.7 214.3 305.5 217.0 306.2 219.7 303.4ZM132.8 256.4 130.1 259.0 132.9 261.7 135.6 259.1ZM217.0 305.3 214.3 308.1 217.0 308.8 219.7 306.0ZM128.3 256.4 125.6 259.1 128.3 261.7 131.0 259.0ZM162.4 276.7 159.7 279.5 162.4 280.3 165.1 277.4ZM182.9 287.5 180.2 290.2 182.9 292.8 185.6 290.1ZM217.0 307.9 214.3 310.7 217.0 311.5 219.7 308.6ZM162.4 279.4 159.7 282.1 162.4 283.0 165.1 280.2ZM178.4 287.7 175.6 290.3 178.4 292.8 181.1 290.2ZM142.0 291.9 139.3 292.7 142.0 293.8 144.7 292.9ZM157.9 300.3 155.2 301.0 157.9 303.6 160.6 302.9ZM103.4 271.5 100.7 272.2 103.4 274.9 106.1 274.3ZM192.0 323.2 189.3 324.1 192.0 325.0 194.8 324.1ZM103.4 274.0 100.7 274.7 103.4 277.5 106.1 276.9ZM187.5 323.2 184.8 324.1 187.5 324.9 190.2 324.1ZM103.4 276.6 100.7 277.4 103.4 280.2 106.1 279.4ZM182.9 323.2 180.2 324.2 183.0 325.0 185.7 324.1ZM123.9 291.8 121.1 292.8 123.9 293.7 126.6 292.7ZM157.9 310.6 155.3 311.5 158.0 314.2 160.6 313.3ZM108.0 300.1 105.3 302.8 108.0 303.5 110.7 300.9ZM142.1 319.0 139.3 321.4 142.1 324.0 144.8 321.6ZM83.0 287.4 80.3 289.9 83.0 292.6 85.7 290.0ZM162.5 334.2 159.8 336.9 162.5 337.6 165.2 334.9ZM73.9 287.3 71.2 289.9 73.9 292.6 76.6 289.9ZM162.5 339.4 159.8 342.2 162.5 342.9 165.2 340.1ZM69.4 287.4 66.7 290.0 69.4 292.5 72.1 289.9ZM108.0 310.5 105.3 313.2 108.0 314.1 110.7 311.3ZM123.9 318.9 121.2 321.5 123.9 324.0 126.6 321.4ZM162.5 342.0 159.8 344.8 162.5 345.7 165.2 342.9ZM83.0 323.1 80.3 323.9 83.0 324.8 85.8 324.0ZM103.5 334.1 100.8 334.8 103.5 337.6 106.2 336.9ZM49.0 305.0 46.3 305.7 49.0 308.5 51.7 307.9ZM78.5 323.0 75.8 323.9 78.5 324.7 81.2 323.9ZM103.5 336.7 100.8 337.3 103.5 340.2 106.2 339.5ZM133.0 354.8 130.3 355.7 133.0 356.5 135.7 355.7ZM74.0 323.0 71.2 323.9 74.0 324.8 76.7 323.9ZM103.5 339.3 100.8 340.0 103.5 342.9 106.2 342.1Z"/>
<path fill="#61be87" d="M157.8 240.5 155.1 241.2 157.8 243.9 160.5 243.3ZM191.9 260.6 189.2 261.5 191.9 262.4 194.6 261.5ZM212.4 271.4 209.7 272.1 212.4 274.8 215.1 274.1ZM246.6 291.6 243.8 292.5 246.6 293.4 249.3 292.5ZM157.8 243.0 155.1 243.7 157.8 246.5 160.5 245.8ZM242.0 291.7 239.3 292.5 242.0 293.3 244.7 292.5ZM157.8 245.6 155.1 246.3 157.8 249.2 160.5 248.4ZM182.8 260.6 180.1 261.6 182.8 262.4 185.6 261.5ZM212.4 276.5 209.7 277.3 212.4 280.1 215.1 279.3ZM237.5 291.7 234.7 292.6 237.5 293.4 240.2 292.5ZM162.4 274.1 159.7 276.9 162.4 277.6 165.1 274.8ZM187.4 287.5 184.7 290.1 187.5 292.8 190.2 290.1ZM137.5 291.8 134.8 292.7 137.5 293.6 140.2 292.8ZM157.9 302.7 155.2 303.4 157.9 306.2 160.6 305.5ZM132.9 291.8 130.2 292.7 132.9 293.5 135.7 292.7ZM157.9 305.3 155.3 306.0 157.9 308.8 160.6 308.1ZM128.4 291.8 125.7 292.7 128.4 293.6 131.1 292.7ZM157.9 307.9 155.3 308.6 157.9 311.5 160.6 310.7ZM108.0 302.6 105.3 305.4 108.0 306.1 110.7 303.3ZM137.5 318.8 134.8 321.4 137.5 324.0 140.2 321.4ZM78.5 287.3 75.7 289.9 78.5 292.6 81.2 289.9ZM108.0 305.2 105.3 308.0 108.0 308.7 110.7 305.9ZM133.0 318.7 130.3 321.4 133.0 324.0 135.7 321.4ZM162.5 336.7 159.8 339.6 162.5 340.3 165.2 337.4ZM108.0 307.8 105.3 310.6 108.0 311.4 110.7 308.5ZM128.4 318.7 125.7 321.4 128.4 324.0 131.2 321.4Z"/>
<path fill="#67be85" d="M187.4 260.6 184.7 261.5 187.4 262.3 190.1 261.5ZM212.4 273.9 209.7 274.6 212.4 277.4 215.1 276.7ZM155.5 251.7 152.8 253.0 155.6 255.6 158.3 254.3ZM226.1 292.5 223.4 294.0 226.1 294.9 228.8 293.5ZM148.7 255.3 146.0 257.3 148.8 259.8 151.5 257.8ZM219.3 296.1 216.6 298.3 219.3 299.3 222.0 297.0ZM117.0 255.2 114.2 257.7 117.0 259.8 119.7 257.3ZM164.7 282.8 162.0 285.4 164.7 286.7 167.4 284.1ZM171.5 286.4 168.8 288.9 171.5 290.9 174.3 288.4ZM219.3 314.0 216.6 316.6 219.3 317.9 222.0 315.3ZM101.1 264.9 98.4 265.8 101.1 268.0 103.8 267.1ZM203.4 323.9 200.7 324.9 203.4 326.3 206.1 325.3ZM101.1 282.7 98.4 284.0 101.1 286.6 103.8 285.3ZM171.6 324.0 168.9 325.4 171.6 326.4 174.3 325.0ZM94.3 286.2 91.6 288.3 94.3 290.8 97.1 288.7ZM164.8 327.6 162.1 329.8 164.8 330.7 167.5 328.5ZM39.9 292.2 37.2 293.1 39.9 294.6 42.6 293.6ZM46.7 295.8 44.0 296.7 46.7 299.0 49.4 298.1ZM94.4 323.9 91.7 324.8 94.4 326.3 97.1 325.3ZM101.2 327.5 98.5 328.4 101.2 330.6 103.9 329.7ZM148.9 355.5 146.2 356.6 148.9 358.0 151.6 357.0ZM155.7 359.1 153.0 360.0 155.7 362.2 158.4 361.3Z"/>
<path fill="#6dbf82" d="M171.5 261.4 168.8 262.9 171.5 263.8 174.2 262.4ZM210.2 282.7 207.5 284.0 210.2 286.6 212.9 285.2ZM164.7 265.0 162.0 267.2 164.7 268.1 167.4 265.9ZM203.4 286.3 200.6 288.4 203.4 290.9 206.1 288.8ZM110.1 251.6 107.4 254.2 110.1 255.5 112.8 252.9ZM226.1 317.5 223.4 320.0 226.1 322.1 228.9 319.6ZM94.3 261.3 91.6 262.3 94.3 263.7 97.0 262.8ZM148.8 292.6 146.1 293.6 148.8 295.0 151.6 294.0ZM155.7 296.2 152.9 297.1 155.7 299.3 158.4 298.4ZM210.2 327.4 207.5 328.4 210.2 330.6 212.9 329.6ZM117.0 292.5 114.3 294.0 117.1 295.0 119.8 293.5ZM155.7 314.1 153.0 315.3 155.7 317.9 158.4 316.6ZM110.2 296.1 107.5 298.3 110.2 299.2 113.0 297.0ZM148.9 317.6 146.2 319.7 148.9 322.2 151.6 320.1ZM55.8 282.4 53.0 284.9 55.8 286.3 58.5 283.7ZM62.6 286.0 59.9 288.5 62.6 290.6 65.3 288.1ZM110.3 313.9 107.6 316.5 110.3 317.8 113.0 315.3ZM117.1 317.5 114.4 320.1 117.1 322.1 119.8 319.6ZM164.8 345.5 162.1 348.1 164.8 349.4 167.5 346.8ZM171.6 349.1 168.9 351.6 171.6 353.7 174.3 351.1Z"/>
<path fill="#73bf7f" d="M153.3 252.7 150.6 254.2 153.3 256.8 156.0 255.2ZM223.8 293.5 221.1 295.2 223.8 296.1 226.5 294.4ZM151.0 253.8 148.3 255.7 151.0 258.2 153.7 256.4ZM221.5 294.7 218.8 296.6 221.6 297.6 224.3 295.6ZM114.7 253.8 112.0 256.3 114.7 258.1 117.4 255.6ZM167.0 283.8 164.3 286.3 167.0 287.9 169.7 285.3ZM169.3 284.9 166.6 287.5 169.3 289.3 172.0 286.7ZM221.6 314.9 218.9 317.5 221.6 319.1 224.3 316.5ZM98.9 283.7 96.2 285.2 98.9 287.8 101.6 286.2ZM169.3 324.9 166.6 326.6 169.3 327.6 172.0 325.9ZM96.6 284.8 93.9 286.6 96.6 289.2 99.3 287.4ZM167.0 326.1 164.3 328.1 167.0 329.0 169.8 327.1ZM42.2 293.1 39.5 294.1 42.2 295.8 44.9 294.9ZM44.4 294.4 41.7 295.3 44.4 297.3 47.1 296.4ZM96.7 324.8 93.9 325.8 96.7 327.5 99.4 326.5ZM98.9 326.0 96.2 327.0 98.9 328.9 101.6 328.0ZM151.1 356.5 148.4 357.5 151.1 359.2 153.9 358.2ZM153.4 357.7 150.7 358.6 153.4 360.6 156.1 359.6Z"/>
<path fill="#79bf7d" d="M155.5 248.8 152.8 249.9 155.5 252.6 158.2 251.5ZM230.6 292.3 227.9 293.5 230.6 294.4 233.4 293.2ZM169.2 262.4 166.5 264.1 169.2 265.0 171.9 263.3ZM207.9 283.6 205.2 285.2 207.9 287.8 210.6 286.2ZM166.9 263.6 164.2 265.5 166.9 266.5 169.7 264.5ZM205.6 284.8 202.9 286.7 205.6 289.2 208.3 287.4ZM144.2 254.8 141.5 257.1 144.2 259.7 146.9 257.4ZM164.7 267.2 162.0 269.7 164.7 270.4 167.4 268.0ZM198.8 285.8 196.1 288.1 198.8 290.7 201.5 288.4ZM219.3 298.4 216.6 300.8 219.3 301.6 222.0 299.1ZM121.5 254.7 118.8 257.3 121.5 259.6 124.2 257.0ZM164.7 279.9 162.0 282.6 164.7 283.7 167.4 281.0ZM176.1 285.9 173.4 288.5 176.1 290.8 178.8 288.1ZM219.3 311.1 216.6 313.9 219.3 314.9 222.0 312.2ZM112.4 252.6 109.7 255.1 112.4 256.7 115.1 254.1ZM223.9 316.1 221.1 318.7 223.9 320.5 226.6 317.9ZM96.5 262.3 93.8 263.2 96.6 264.9 99.3 264.0ZM98.8 263.5 96.1 264.4 98.8 266.4 101.5 265.4ZM151.1 293.6 148.4 294.5 151.1 296.2 153.8 295.3ZM153.4 294.7 150.7 295.7 153.4 297.6 156.1 296.7ZM205.7 324.9 203.0 325.8 205.7 327.5 208.4 326.5ZM207.9 326.0 205.2 327.0 207.9 328.9 210.7 328.0ZM101.1 267.1 98.4 267.9 101.1 270.3 103.8 269.6ZM198.9 323.8 196.1 324.7 198.9 325.9 201.6 325.0ZM101.1 279.8 98.4 280.9 101.1 283.6 103.8 282.6ZM176.1 323.8 173.4 325.1 176.1 325.9 178.9 324.7ZM114.8 293.5 112.1 295.2 114.8 296.1 117.5 294.5ZM153.4 315.0 150.7 316.6 153.4 319.1 156.1 317.6ZM112.5 294.7 109.8 296.6 112.5 297.5 115.2 295.6ZM151.1 316.2 148.4 318.0 151.1 320.5 153.9 318.7ZM89.8 285.7 87.1 288.0 89.8 290.6 92.5 288.3ZM164.8 329.8 162.1 332.2 164.8 333.0 167.5 330.6ZM58.0 283.3 55.3 285.9 58.0 287.5 60.7 284.9ZM60.3 284.6 57.6 287.1 60.3 288.9 63.0 286.4ZM112.5 314.9 109.8 317.5 112.5 319.0 115.3 316.5ZM114.8 316.1 112.1 318.7 114.8 320.5 117.5 317.9ZM167.1 346.5 164.3 349.1 167.0 350.6 169.8 348.0ZM169.3 347.7 166.6 350.2 169.3 352.0 172.0 349.5ZM46.7 298.1 44.0 298.8 46.7 301.3 49.4 300.6ZM89.8 323.7 87.1 324.6 89.8 325.8 92.6 324.9ZM101.2 329.7 98.5 330.5 101.2 333.0 103.9 332.2ZM144.3 355.4 141.6 356.3 144.3 357.5 147.1 356.6Z"/>
<path fill="#7ebf7b" d="M155.5 236.2 152.8 236.9 155.5 239.4 158.2 238.6ZM198.7 261.2 196.0 262.1 198.8 263.3 201.5 262.4ZM210.1 267.1 207.4 267.8 210.1 270.3 212.8 269.5ZM253.4 292.2 250.7 293.0 253.4 294.2 256.1 293.4ZM176.0 261.2 173.3 262.5 176.0 263.3 178.7 262.1ZM210.2 279.8 207.5 280.8 210.2 283.6 212.9 282.5ZM144.3 292.4 141.6 293.3 144.3 294.5 147.0 293.7ZM155.7 298.4 153.0 299.2 155.7 301.6 158.4 300.8ZM121.6 292.4 118.9 293.6 121.6 294.5 124.3 293.3ZM155.7 311.1 153.0 312.2 155.7 315.0 158.4 313.9ZM110.2 298.3 107.5 300.7 110.3 301.5 112.9 299.1ZM144.3 317.1 141.6 319.4 144.3 322.0 147.0 319.7ZM67.1 285.6 64.4 288.2 67.1 290.5 69.8 287.9ZM110.3 311.0 107.6 313.8 110.3 314.8 113.0 312.1ZM121.6 317.1 118.9 319.7 121.6 322.0 124.3 319.3ZM164.8 342.6 162.1 345.4 164.8 346.4 167.5 343.7Z"/>
<path fill="#84bf78" d="M139.7 254.4 136.9 256.9 139.7 259.6 142.4 257.1ZM219.3 300.7 216.6 303.3 219.3 304.0 222.0 301.4ZM126.0 254.4 123.3 257.1 126.0 259.5 128.8 256.9ZM164.7 277.1 162.0 280.0 164.7 280.8 167.4 278.0ZM180.6 285.5 177.9 288.2 180.6 290.6 183.4 288.0ZM219.3 308.3 216.6 311.2 219.3 312.0 222.0 309.2ZM101.1 269.4 98.4 270.1 101.1 272.8 103.8 272.1ZM194.3 323.7 191.6 324.5 194.3 325.6 197.0 324.7ZM101.1 277.1 98.4 277.9 101.1 280.7 103.8 279.9ZM180.7 323.7 178.0 324.8 180.7 325.6 183.4 324.5ZM85.3 285.3 82.5 287.8 85.3 290.5 88.0 288.0ZM164.8 332.1 162.1 334.8 164.8 335.5 167.5 332.8ZM46.7 300.4 44.0 301.1 46.7 303.8 49.4 303.1ZM85.3 323.5 82.6 324.4 85.3 325.4 88.0 324.6ZM101.2 332.1 98.5 332.7 101.2 335.4 103.9 334.7ZM139.8 355.3 137.1 356.1 139.8 357.2 142.5 356.3Z"/>
<path fill="#89bf76" d="M155.5 238.5 152.8 239.2 155.5 241.8 158.2 241.1ZM194.2 261.1 191.5 261.9 194.2 262.9 196.9 262.1ZM210.1 269.4 207.4 270.1 210.1 272.7 212.8 272.0ZM248.8 292.1 246.1 292.9 248.8 293.9 251.6 293.1ZM155.5 246.1 152.8 246.9 155.5 249.7 158.2 248.9ZM180.6 261.1 177.8 262.1 180.6 263.0 183.3 261.9ZM210.1 277.0 207.5 277.9 210.2 280.7 212.9 279.8ZM235.2 292.2 232.5 293.2 235.2 294.0 237.9 293.0ZM164.7 269.5 162.0 272.2 164.7 272.8 167.4 270.2ZM194.3 285.5 191.5 287.9 194.3 290.6 197.0 288.1ZM135.1 254.3 132.4 256.8 135.1 259.5 137.8 256.9ZM219.3 303.1 216.6 305.9 219.3 306.6 222.0 303.8ZM130.6 254.2 127.9 256.9 130.6 259.5 133.3 256.8ZM219.3 305.7 216.6 308.5 219.3 309.2 222.0 306.4ZM139.7 292.3 137.0 293.1 139.8 294.2 142.5 293.4ZM155.7 300.7 153.0 301.4 155.7 304.0 158.4 303.3ZM101.1 271.9 98.4 272.5 101.1 275.3 103.8 274.6ZM189.8 323.6 187.0 324.5 189.8 325.4 192.5 324.5ZM101.1 274.4 98.4 275.1 101.1 278.0 103.8 277.2ZM185.2 323.6 182.5 324.6 185.2 325.4 187.9 324.5ZM126.1 292.3 123.4 293.3 126.1 294.1 128.8 293.1ZM155.7 308.4 153.0 309.2 155.7 312.0 158.4 311.2ZM110.2 300.6 107.6 303.2 110.3 303.9 112.9 301.3ZM139.8 316.7 137.1 319.2 139.8 321.9 142.5 319.4ZM71.6 285.2 68.9 287.9 71.6 290.4 74.4 287.7ZM110.3 308.2 107.6 311.1 110.3 311.9 113.0 309.1ZM126.2 316.7 123.4 319.4 126.2 321.9 128.9 319.2ZM164.8 339.8 162.1 342.6 164.8 343.5 167.5 340.7ZM46.7 302.9 44.0 303.5 46.7 306.3 49.4 305.6ZM80.8 323.5 78.0 324.3 80.8 325.2 83.5 324.4ZM101.2 334.5 98.5 335.2 101.2 338.0 103.9 337.3ZM135.3 355.2 132.5 356.1 135.2 357.0 138.0 356.1ZM46.7 305.4 44.0 306.1 46.7 309.0 49.4 308.3ZM76.2 323.4 73.5 324.3 76.2 325.2 78.9 324.3ZM101.2 337.1 98.5 337.8 101.2 340.6 103.9 339.9ZM130.7 355.2 128.0 356.1 130.7 357.0 133.4 356.1Z"/>
<path fill="#8ebf74" d="M155.5 240.9 152.8 241.6 155.5 244.3 158.2 243.6ZM189.6 261.0 186.9 261.9 189.7 262.8 192.4 261.9ZM210.1 271.8 207.4 272.5 210.1 275.2 212.8 274.5ZM244.3 292.0 241.6 292.9 244.3 293.8 247.0 292.9ZM155.5 243.4 152.8 244.1 155.5 247.0 158.2 246.2ZM185.1 261.0 182.4 261.9 185.1 262.8 187.8 261.8ZM210.1 274.3 207.5 275.1 210.2 277.9 212.8 277.1ZM239.7 292.1 237.0 293.0 239.7 293.8 242.5 292.9ZM153.3 249.6 150.6 250.9 153.3 253.6 156.0 252.3ZM228.4 293.1 225.7 294.5 228.4 295.4 231.1 293.9ZM146.5 253.1 143.8 255.2 146.5 257.8 149.2 255.8ZM221.6 296.7 218.8 298.9 221.6 299.7 224.3 297.5ZM164.7 271.9 162.0 274.7 164.7 275.4 167.4 272.6ZM189.7 285.3 187.0 287.9 189.7 290.6 192.4 288.0ZM164.7 274.5 162.0 277.3 164.7 278.0 167.4 275.2ZM185.2 285.3 182.5 288.0 185.2 290.6 187.9 287.9ZM119.2 253.1 116.5 255.7 119.2 257.8 121.9 255.1ZM167.0 280.7 164.3 283.4 167.0 284.7 169.7 281.9ZM173.8 284.2 171.1 286.9 173.8 288.9 176.5 286.3ZM221.6 311.9 218.9 314.6 221.6 315.8 224.3 313.1ZM98.8 265.5 96.1 266.2 98.8 268.5 101.5 267.7ZM201.1 324.5 198.4 325.4 201.1 326.8 203.9 325.9ZM135.2 292.2 132.5 293.1 135.2 294.0 137.9 293.2ZM155.7 303.1 153.0 303.8 155.7 306.6 158.4 305.9ZM130.7 292.2 127.9 293.1 130.7 294.0 133.4 293.1ZM155.7 305.7 153.0 306.4 155.7 309.3 158.4 308.5ZM98.9 280.6 96.2 281.8 98.9 284.6 101.6 283.3ZM173.9 324.6 171.1 326.0 173.9 326.9 176.6 325.4ZM92.1 284.1 89.3 286.1 92.1 288.8 94.8 286.7ZM167.0 328.1 164.3 330.4 167.0 331.2 169.8 328.9ZM80.7 285.1 78.0 287.7 80.7 290.4 83.4 287.8ZM110.3 303.0 107.6 305.8 110.3 306.5 112.9 303.7ZM135.2 316.5 132.5 319.1 135.2 321.8 138.0 319.2ZM164.8 334.6 162.1 337.3 164.8 338.0 167.5 335.3ZM76.2 285.1 73.5 287.7 76.2 290.4 78.9 287.7ZM110.3 305.6 107.6 308.4 110.3 309.1 112.9 306.3ZM130.7 316.5 128.0 319.2 130.7 321.8 133.4 319.1ZM164.8 337.1 162.1 340.0 164.8 340.7 167.5 337.9ZM37.6 292.7 34.9 293.6 37.6 295.1 40.3 294.2ZM44.4 296.4 41.7 297.2 44.4 299.4 47.1 298.6ZM92.1 324.4 89.4 325.3 92.1 326.8 94.8 325.9ZM98.9 328.0 96.2 328.8 98.9 331.1 101.6 330.3ZM146.6 356.1 143.9 357.0 146.6 358.5 149.3 357.6ZM153.4 359.7 150.7 360.5 153.4 362.7 156.1 361.9Z"/>
<path fill="#93bf72" d="M153.2 234.5 150.5 235.3 153.2 237.5 155.9 236.8ZM201.0 261.9 198.3 262.8 201.0 264.2 203.7 263.4ZM207.8 265.4 205.1 266.2 207.9 268.4 210.6 267.6ZM255.7 292.9 252.9 293.7 255.7 295.2 258.4 294.3ZM173.7 262.0 171.0 263.4 173.8 264.3 176.5 262.8ZM207.9 280.5 205.2 281.8 207.9 284.5 210.6 283.2ZM166.9 265.6 164.2 267.8 167.0 268.6 169.7 266.3ZM201.1 284.1 198.4 286.2 201.1 288.8 203.8 286.8ZM112.4 249.5 109.7 252.2 112.4 253.5 115.1 250.8ZM228.4 315.4 225.7 318.0 228.4 320.0 231.1 317.4ZM92.0 261.8 89.3 262.7 92.0 264.2 94.7 263.3ZM146.6 293.2 143.9 294.0 146.6 295.5 149.3 294.6ZM153.4 296.7 150.7 297.5 153.4 299.8 156.1 299.0ZM207.9 328.0 205.2 328.8 208.0 331.0 210.7 330.2ZM119.3 293.1 116.6 294.6 119.3 295.4 122.0 294.0ZM153.4 311.9 150.7 313.2 153.4 315.9 156.1 314.6ZM112.5 296.6 109.8 298.9 112.5 299.7 115.2 297.4ZM146.6 315.4 143.9 317.5 146.6 320.2 149.3 318.1ZM58.0 280.2 55.3 282.9 58.0 284.2 60.7 281.6ZM64.8 283.9 62.1 286.5 64.8 288.6 67.6 286.0ZM112.5 311.8 109.8 314.5 112.5 315.8 115.2 313.1ZM119.3 315.4 116.6 318.0 119.4 320.1 122.1 317.5ZM167.1 343.4 164.3 346.1 167.1 347.4 169.8 344.6ZM173.9 346.9 171.1 349.6 173.9 351.6 176.6 348.9Z"/>
<path fill="#98bf70" d="M146.4 231.0 143.7 231.8 146.4 233.3 149.1 232.4ZM262.5 296.3 259.8 297.1 262.5 299.3 265.2 298.5ZM151.0 250.5 148.3 252.1 151.0 254.7 153.7 253.2ZM226.1 294.0 223.4 295.8 226.1 296.6 228.8 294.9ZM148.7 251.7 146.0 253.5 148.7 256.2 151.5 254.4ZM223.8 295.2 221.1 297.2 223.8 298.0 226.5 296.0ZM116.9 251.6 114.2 254.3 117.0 256.1 119.7 253.5ZM223.9 312.8 221.1 315.5 223.9 317.0 226.6 314.3ZM96.6 281.5 93.9 283.0 96.6 285.7 99.3 284.2ZM171.6 325.5 168.9 327.2 171.6 328.1 174.3 326.4ZM94.3 282.7 91.6 284.5 94.3 287.1 97.0 285.3ZM169.3 326.7 166.6 328.7 169.3 329.5 172.0 327.5ZM39.9 293.7 37.2 294.5 39.9 296.3 42.6 295.5ZM42.2 294.9 39.5 295.7 42.2 297.7 44.9 296.9ZM94.4 325.4 91.7 326.2 94.4 328.0 97.1 327.1ZM96.7 326.6 93.9 327.4 96.7 329.4 99.4 328.6ZM148.9 357.1 146.2 357.9 148.9 359.7 151.6 358.8ZM151.1 358.3 148.4 359.1 151.1 361.1 153.9 360.2Z"/>
<path fill="#9dbe6e" d="M150.9 233.1 148.2 233.9 150.9 235.9 153.6 235.1ZM203.3 262.9 200.6 263.7 203.3 265.4 206.0 264.6ZM205.6 264.0 202.9 264.8 205.6 266.8 208.3 266.0ZM257.9 293.8 255.2 294.6 257.9 296.3 260.7 295.5ZM171.5 262.9 168.8 264.7 171.5 265.5 174.2 263.8ZM205.6 281.5 202.9 283.1 205.6 285.7 208.3 284.2ZM169.2 264.1 166.5 266.1 169.2 266.9 171.9 264.9ZM203.3 282.7 200.6 284.5 203.4 287.2 206.1 285.4ZM114.7 250.4 112.0 253.1 114.7 254.7 117.4 252.0ZM169.3 281.6 166.6 284.3 169.3 285.8 172.0 283.1ZM171.5 282.8 168.8 285.5 171.5 287.3 174.3 284.6ZM226.1 314.0 223.4 316.6 226.1 318.4 228.8 315.7ZM94.3 262.8 91.6 263.6 94.3 265.4 97.0 264.5ZM96.5 264.0 93.8 264.8 96.6 266.8 99.3 266.0ZM148.8 294.1 146.1 295.0 148.8 296.7 151.6 295.8ZM151.1 295.3 148.4 296.1 151.1 298.1 153.8 297.3ZM203.4 325.4 200.7 326.3 203.4 328.0 206.1 327.1ZM205.7 326.6 203.0 327.4 205.7 329.4 208.4 328.6ZM117.0 294.1 114.3 295.8 117.1 296.6 119.8 294.9ZM151.1 312.8 148.4 314.4 151.1 317.1 153.9 315.5ZM114.8 295.2 112.1 297.2 114.8 298.0 117.5 296.1ZM148.9 314.0 146.2 315.8 148.9 318.5 151.6 316.7ZM60.3 281.2 57.6 283.9 60.3 285.5 63.0 282.8ZM62.6 282.4 59.9 285.1 62.6 286.9 65.3 284.3ZM114.8 312.8 112.1 315.5 114.8 317.0 117.5 314.3ZM117.1 314.0 114.4 316.6 117.1 318.4 119.8 315.8ZM169.3 344.3 166.6 347.0 169.3 348.6 172.0 345.8ZM171.6 345.5 168.9 348.2 171.6 350.0 174.3 347.3Z"/>
<path fill="#a2be6c" d="M148.7 231.9 145.9 232.7 148.7 234.4 151.4 233.6ZM260.2 295.0 257.5 295.8 260.2 297.7 262.9 296.9ZM153.3 246.6 150.6 247.7 153.3 250.5 156.0 249.4ZM232.9 292.7 230.2 294.0 232.9 294.8 235.6 293.5ZM141.9 252.6 139.2 254.9 141.9 257.5 144.6 255.3ZM167.0 267.7 164.3 270.1 167.0 270.8 169.7 268.4ZM196.5 283.6 193.8 285.9 196.5 288.6 199.3 286.3ZM221.6 298.8 218.9 301.3 221.6 302.0 224.3 299.5ZM123.8 252.5 121.0 255.2 123.8 257.5 126.5 254.8ZM167.0 277.7 164.3 280.5 167.0 281.6 169.7 278.8ZM178.4 283.6 175.6 286.3 178.4 288.6 181.1 285.9ZM221.6 308.9 218.9 311.7 221.6 312.8 224.3 309.9ZM98.8 267.6 96.1 268.3 98.8 270.7 101.5 270.0ZM196.6 324.2 193.9 325.1 196.6 326.3 199.3 325.5ZM98.9 277.6 96.2 278.7 98.9 281.5 101.6 280.4ZM178.4 324.3 175.7 325.5 178.4 326.3 181.1 325.1ZM87.5 283.5 84.8 285.8 87.5 288.5 90.2 286.2ZM167.0 330.3 164.3 332.7 167.1 333.4 169.7 331.0ZM44.4 298.5 41.7 299.2 44.4 301.7 47.1 301.0ZM87.6 324.1 84.9 324.9 87.6 326.2 90.3 325.4ZM98.9 330.2 96.2 330.9 98.9 333.3 101.6 332.6ZM142.1 355.9 139.3 356.7 142.1 357.9 144.8 357.1Z"/>
<path fill="#a7be6a" d="M153.2 236.6 150.5 237.3 153.2 239.8 155.9 239.1ZM196.5 261.6 193.8 262.4 196.5 263.7 199.2 262.9ZM207.9 267.5 205.2 268.2 207.9 270.7 210.6 270.0ZM251.1 292.6 248.4 293.4 251.1 294.6 253.8 293.8ZM178.3 261.7 175.6 262.9 178.3 263.7 181.0 262.5ZM207.9 277.6 205.2 278.6 207.9 281.4 210.6 280.3ZM142.0 292.9 139.3 293.7 142.0 294.9 144.7 294.1ZM153.4 298.9 150.7 299.6 153.4 302.0 156.1 301.3ZM123.9 292.8 121.1 294.1 123.9 294.9 126.6 293.7ZM153.4 308.9 150.7 310.0 153.4 312.8 156.1 311.7ZM112.5 298.8 109.8 301.2 112.5 301.9 115.2 299.5ZM142.1 314.9 139.3 317.2 142.1 319.9 144.8 317.6ZM69.4 283.4 66.7 286.0 69.4 288.3 72.1 285.7ZM112.5 308.8 109.8 311.6 112.5 312.7 115.2 309.9ZM123.9 314.8 121.2 317.5 123.9 319.8 126.6 317.1ZM167.1 340.4 164.4 343.2 167.1 344.3 169.8 341.4Z"/>
<path fill="#abbe68" d="M137.4 252.2 134.7 254.7 137.4 257.4 140.1 254.9ZM221.6 301.1 218.9 303.7 221.6 304.4 224.3 301.8ZM128.3 252.2 125.6 254.9 128.3 257.3 131.0 254.7ZM221.6 306.1 218.9 309.0 221.6 309.8 224.3 307.0ZM98.9 274.8 96.2 275.7 98.9 278.5 101.5 277.7ZM182.9 324.1 180.2 325.2 183.0 326.0 185.7 324.9ZM44.4 300.8 41.8 301.5 44.5 304.1 47.1 303.5ZM83.0 323.9 80.3 324.7 83.0 325.8 85.8 325.0ZM98.9 332.4 96.2 333.1 98.9 335.8 101.6 335.1ZM137.5 355.7 134.8 356.5 137.5 357.6 140.2 356.7Z"/>
<path fill="#b0bd67" d="M153.2 238.9 150.5 239.5 153.2 242.2 155.9 241.5ZM246.6 292.5 243.8 293.3 246.6 294.3 249.3 293.5ZM153.2 243.9 150.6 244.7 153.3 247.5 155.9 246.7ZM237.5 292.5 234.7 293.6 237.5 294.4 240.2 293.3ZM167.0 269.9 164.3 272.6 167.0 273.2 169.7 270.6ZM192.0 283.3 189.3 285.7 192.0 288.4 194.7 285.9ZM132.8 252.1 130.1 254.7 132.9 257.3 135.6 254.7ZM221.6 303.5 218.9 306.3 221.6 307.0 224.3 304.2ZM167.0 274.9 164.3 277.7 167.0 278.6 169.7 275.8ZM182.9 283.3 180.2 286.0 182.9 288.4 185.6 285.7ZM98.8 269.8 96.1 270.5 98.8 273.1 101.5 272.5ZM137.5 292.7 134.8 293.5 137.5 294.6 140.2 293.7ZM153.4 301.1 150.7 301.8 153.4 304.4 156.1 303.7ZM192.0 324.1 189.3 324.9 192.0 326.0 194.8 325.1ZM98.8 272.2 96.2 273.0 98.9 275.7 101.5 275.0ZM187.5 324.0 184.8 325.0 187.5 325.9 190.2 324.9ZM128.4 292.7 125.7 293.7 128.4 294.5 131.1 293.5ZM153.4 306.1 150.7 307.0 153.4 309.8 156.1 309.0ZM83.0 283.1 80.3 285.6 83.0 288.3 85.7 285.8ZM112.5 301.0 109.8 303.6 112.5 304.3 115.2 301.7ZM137.5 314.5 134.8 317.0 137.5 319.7 140.2 317.2ZM167.1 332.5 164.4 335.2 167.1 335.9 169.7 333.2ZM73.9 283.0 71.2 285.7 73.9 288.2 76.6 285.5ZM112.5 306.0 109.8 308.8 112.5 309.7 115.2 306.9ZM128.4 314.5 125.7 317.2 128.4 319.6 131.2 317.0ZM167.1 337.6 164.4 340.4 167.1 341.3 169.7 338.5ZM44.4 303.2 41.8 304.0 44.5 306.7 47.1 306.0ZM78.5 323.8 75.8 324.7 78.5 325.7 81.2 324.8ZM98.9 334.9 96.2 335.6 98.9 338.4 101.6 337.7ZM133.0 355.6 130.3 356.5 133.0 357.5 135.7 356.5Z"/>
<path fill="#b4bd65" d="M191.9 261.5 189.2 262.3 191.9 263.3 194.7 262.5ZM207.9 269.8 205.2 270.5 207.9 273.1 210.6 272.4ZM153.2 241.3 150.6 242.0 153.3 244.8 155.9 244.0ZM187.4 261.4 184.7 262.3 187.4 263.2 190.1 262.3ZM207.9 272.2 205.2 272.9 207.9 275.7 210.6 274.9ZM242.0 292.4 239.3 293.4 242.0 294.3 244.7 293.3ZM182.8 261.5 180.1 262.5 182.8 263.3 185.6 262.3ZM207.9 274.8 205.2 275.7 207.9 278.5 210.6 277.6ZM151.0 247.4 148.3 248.7 151.0 251.4 153.7 250.1ZM230.6 293.5 227.9 295.0 230.6 295.8 233.4 294.3ZM144.2 250.9 141.5 253.0 144.2 255.7 146.9 253.6ZM223.8 297.1 221.1 299.4 223.8 300.1 226.5 297.9ZM167.0 272.3 164.3 275.1 167.0 275.8 169.7 273.1ZM187.4 283.2 184.7 285.8 187.4 288.4 190.2 285.7ZM121.5 250.9 118.8 253.6 121.5 255.6 124.2 252.9ZM169.3 278.5 166.6 281.2 169.3 282.5 172.0 279.7ZM176.1 282.0 173.4 284.7 176.1 286.8 178.8 284.0ZM223.8 309.6 221.1 312.4 223.9 313.7 226.6 310.9ZM96.6 265.9 93.9 266.6 96.6 268.9 99.3 268.1ZM198.9 325.0 196.1 325.8 198.9 327.2 201.6 326.4ZM132.9 292.6 130.2 293.5 132.9 294.4 135.7 293.5ZM153.4 303.5 150.7 304.3 153.4 307.0 156.1 306.3ZM96.6 278.4 93.9 279.6 96.6 282.4 99.3 281.1ZM176.1 325.0 173.4 326.5 176.1 327.3 178.9 325.8ZM89.8 281.9 87.1 283.9 89.8 286.6 92.5 284.6ZM169.3 328.6 166.6 330.8 169.3 331.6 172.0 329.3ZM78.4 283.0 75.7 285.5 78.5 288.2 81.2 285.6ZM112.5 303.4 109.8 306.2 112.5 306.9 115.2 304.2ZM133.0 314.4 130.3 317.0 133.0 319.6 135.7 317.0ZM167.1 335.0 164.4 337.7 167.1 338.5 169.7 335.7ZM35.4 293.2 32.6 293.9 35.4 295.4 38.1 294.7ZM42.2 296.8 39.5 297.5 42.2 299.8 44.9 299.1ZM89.8 324.9 87.1 325.7 89.8 327.2 92.6 326.4ZM96.7 328.5 94.0 329.2 96.7 331.5 99.4 330.7ZM144.3 356.6 141.6 357.4 144.3 358.9 147.0 358.1ZM151.1 360.2 148.4 360.9 151.1 363.1 153.8 362.4Z"/>
<path fill="#b8bd63" d="M150.9 235.0 148.2 235.7 151.0 237.9 153.7 237.2ZM198.7 262.4 196.0 263.2 198.8 264.6 201.5 263.8ZM205.6 265.9 202.9 266.6 205.6 268.8 208.3 268.1ZM253.4 293.3 250.7 294.1 253.4 295.6 256.1 294.8ZM176.0 262.4 173.3 263.9 176.0 264.7 178.7 263.2ZM205.6 278.3 202.9 279.6 205.6 282.4 208.3 281.1ZM169.2 266.0 166.5 268.2 169.2 269.0 171.9 266.7ZM198.8 281.9 196.1 284.0 198.8 286.7 201.5 284.6ZM114.7 247.3 112.0 250.0 114.7 251.3 117.4 248.6ZM230.7 313.1 228.0 315.9 230.7 317.9 233.4 315.1ZM89.7 262.3 87.0 263.1 89.7 264.5 92.5 263.8ZM144.3 293.6 141.6 294.4 144.3 295.9 147.0 295.1ZM151.1 297.2 148.4 297.9 151.1 300.1 153.8 299.4ZM205.7 328.5 203.0 329.2 205.7 331.4 208.4 330.7ZM121.6 293.6 118.9 295.0 121.6 295.8 124.3 294.4ZM151.1 309.7 148.4 311.0 151.1 313.7 153.8 312.5ZM114.8 297.1 112.1 299.3 114.8 300.1 117.5 297.8ZM144.3 313.2 141.6 315.3 144.3 318.0 147.0 316.0ZM60.3 278.0 57.6 280.8 60.3 282.1 63.0 279.4ZM67.1 281.7 64.4 284.4 67.1 286.5 69.8 283.8ZM114.8 309.6 112.1 312.4 114.8 313.7 117.5 310.9ZM121.6 313.2 118.9 315.9 121.6 318.0 124.3 315.2ZM169.3 341.1 166.6 343.9 169.3 345.2 172.0 342.4ZM176.1 344.7 173.4 347.4 176.1 349.4 178.9 346.7Z"/>
<path fill="#bdbd61" d="M144.1 231.4 141.4 232.2 144.1 233.6 146.8 232.9ZM260.2 296.8 257.5 297.5 260.2 299.7 262.9 299.0ZM148.7 248.3 146.0 249.9 148.7 252.6 151.4 251.1ZM228.4 294.5 225.7 296.2 228.4 297.0 231.1 295.2ZM146.5 249.5 143.7 251.3 146.5 254.0 149.2 252.2ZM226.1 295.7 223.4 297.7 226.1 298.4 228.8 296.4ZM119.2 249.4 116.5 252.2 119.2 254.0 121.9 251.3ZM226.1 310.6 223.4 313.3 226.1 314.9 228.8 312.1ZM94.3 279.3 91.6 280.8 94.3 283.6 97.0 282.1ZM173.9 326.0 171.1 327.7 173.9 328.5 176.6 326.8ZM92.1 280.5 89.3 282.2 92.1 285.0 94.8 283.2ZM171.6 327.2 168.9 329.2 171.6 329.9 174.3 327.9ZM37.6 294.2 34.9 294.9 37.6 296.7 40.3 295.9ZM39.9 295.4 37.2 296.1 39.9 298.1 42.6 297.4ZM92.1 325.9 89.4 326.6 92.1 328.4 94.8 327.6ZM94.4 327.1 91.7 327.8 94.4 329.8 97.1 329.1ZM146.6 357.6 143.9 358.4 146.6 360.1 149.3 359.3ZM148.9 358.8 146.2 359.5 148.9 361.5 151.6 360.7Z"/>
<path fill="#c1bc60" d="M148.7 233.5 146.0 234.3 148.7 236.2 151.4 235.5ZM201.0 263.3 198.3 264.1 201.0 265.8 203.7 265.0ZM203.3 264.5 200.6 265.2 203.3 267.2 206.0 266.4ZM255.7 294.3 252.9 295.0 255.7 296.7 258.4 295.9ZM173.8 263.4 171.0 265.1 173.8 265.9 176.5 264.1ZM203.3 279.3 200.6 280.8 203.3 283.6 206.1 282.0ZM171.5 264.6 168.8 266.6 171.5 267.3 174.2 265.3ZM201.1 280.5 198.4 282.3 201.1 285.0 203.8 283.2ZM116.9 248.2 114.2 251.0 116.9 252.5 119.6 249.8ZM171.5 279.4 168.8 282.2 171.5 283.7 174.2 280.9ZM173.8 280.6 171.1 283.3 173.8 285.1 176.5 282.4ZM228.4 311.7 225.7 314.5 228.4 316.3 231.1 313.5ZM92.0 263.3 89.3 264.0 92.0 265.7 94.7 265.0ZM94.3 264.5 91.6 265.2 94.3 267.2 97.0 266.5ZM146.6 294.6 143.9 295.4 146.6 297.1 149.3 296.3ZM148.8 295.8 146.1 296.5 148.8 298.5 151.6 297.7ZM201.1 325.9 198.4 326.7 201.1 328.4 203.8 327.6ZM203.4 327.1 200.7 327.8 203.4 329.8 206.1 329.0ZM119.3 294.5 116.6 296.2 119.3 297.0 122.0 295.3ZM148.9 310.6 146.2 312.2 148.9 314.9 151.6 313.4ZM117.1 295.7 114.3 297.7 117.1 298.4 119.8 296.5ZM146.6 311.8 143.9 313.6 146.6 316.3 149.3 314.6ZM62.6 279.0 59.8 281.8 62.6 283.3 65.3 280.6ZM64.8 280.2 62.1 282.9 64.8 284.8 67.5 282.1ZM117.1 310.6 114.4 313.3 117.1 314.9 119.8 312.1ZM119.3 311.7 116.6 314.5 119.3 316.3 122.1 313.6ZM171.6 342.1 168.9 344.9 171.6 346.4 174.3 343.6ZM173.9 343.3 171.2 346.0 173.9 347.8 176.6 345.0Z"/>
<path fill="#c5bc5e" d="M146.4 232.4 143.7 233.1 146.4 234.8 149.1 234.1ZM257.9 295.4 255.2 296.2 257.9 298.1 260.7 297.4ZM139.6 250.4 136.9 252.6 139.7 255.3 142.4 253.1ZM223.8 299.2 221.1 301.7 223.8 302.4 226.5 299.9ZM126.0 250.3 123.3 253.0 126.0 255.3 128.7 252.6ZM223.8 306.7 221.1 309.5 223.8 310.5 226.5 307.7ZM96.6 268.0 93.9 268.6 96.6 271.1 99.3 270.4ZM194.3 324.7 191.6 325.5 194.3 326.7 197.0 325.9ZM96.6 275.4 93.9 276.4 96.6 279.3 99.3 278.2ZM180.7 324.7 178.0 325.9 180.7 326.7 183.4 325.5ZM85.3 281.3 82.5 283.5 85.3 286.2 88.0 284.0ZM169.3 330.7 166.6 333.1 169.3 333.8 172.0 331.4ZM42.2 298.9 39.5 299.6 42.2 302.1 44.9 301.4ZM85.3 324.5 82.6 325.3 85.3 326.6 88.0 325.8ZM96.7 330.6 94.0 331.3 96.7 333.7 99.4 333.0ZM139.8 356.3 137.1 357.1 139.8 358.3 142.5 357.5Z"/>
<path fill="#c9bb5c" d="M151.0 237.0 148.3 237.7 151.0 240.1 153.7 239.4ZM194.2 262.0 191.5 262.8 194.2 264.1 196.9 263.2ZM205.6 267.9 202.9 268.6 205.6 271.1 208.3 270.3ZM248.8 293.0 246.1 293.9 248.8 295.1 251.6 294.2ZM151.0 244.4 148.3 245.5 151.0 248.3 153.7 247.2ZM180.6 262.1 177.9 263.3 180.6 264.1 183.3 262.9ZM205.6 275.4 202.9 276.4 205.6 279.2 208.3 278.1ZM235.2 293.1 232.5 294.4 235.2 295.2 237.9 293.9ZM169.2 268.1 166.5 270.5 169.2 271.2 171.9 268.8ZM194.3 281.4 191.5 283.7 194.3 286.4 197.0 284.1ZM169.2 275.5 166.6 278.3 169.3 279.4 172.0 276.6ZM180.6 281.4 177.9 284.1 180.6 286.4 183.3 283.7ZM139.8 293.3 137.0 294.1 139.8 295.3 142.5 294.5ZM151.1 299.2 148.4 300.0 151.1 302.4 153.8 301.7ZM126.1 293.2 123.4 294.5 126.1 295.3 128.9 294.1ZM151.1 306.7 148.4 307.8 151.1 310.6 153.8 309.5ZM114.8 299.2 112.1 301.6 114.8 302.3 117.5 299.9ZM139.8 312.7 137.1 314.9 139.8 317.6 142.5 315.4ZM71.6 281.2 68.9 283.8 71.6 286.1 74.4 283.5ZM114.8 306.6 112.1 309.4 114.8 310.5 117.5 307.7ZM126.2 312.6 123.4 315.3 126.2 317.6 128.9 314.9ZM169.3 338.2 166.6 341.0 169.3 342.0 172.0 339.2Z"/>
<path fill="#cebb5a" d="M135.1 250.1 132.4 252.5 135.1 255.2 137.8 252.7ZM223.8 301.5 221.1 304.1 223.8 304.9 226.5 302.2ZM130.6 250.1 127.9 252.7 130.6 255.1 133.3 252.5ZM223.8 304.0 221.1 306.7 223.8 307.6 226.5 304.8ZM96.6 272.7 93.9 273.5 96.6 276.3 99.3 275.4ZM185.2 324.5 182.5 325.5 185.2 326.4 187.9 325.4ZM42.2 301.2 39.5 301.9 42.2 304.6 44.9 303.8ZM80.8 324.3 78.1 325.2 80.8 326.3 83.5 325.4ZM96.7 332.8 94.0 333.6 96.7 336.2 99.4 335.5ZM135.2 356.1 132.5 357.0 135.2 358.0 138.0 357.1Z"/>
<path fill="#d2bb59" d="M151.0 239.2 148.3 240.0 151.0 242.6 153.7 241.9ZM244.3 292.9 241.6 293.8 244.3 294.8 247.0 293.9ZM151.0 241.7 148.3 242.6 151.0 245.3 153.7 244.5ZM239.7 292.9 237.0 294.0 239.7 294.9 242.5 293.8ZM169.2 270.3 166.5 272.9 169.2 273.7 171.9 271.1ZM189.7 281.1 187.0 283.6 189.7 286.2 192.4 283.7ZM169.2 272.8 166.5 275.5 169.2 276.4 171.9 273.7ZM185.2 281.1 182.4 283.8 185.2 286.2 187.9 283.6ZM96.6 270.2 93.9 270.9 96.6 273.6 99.3 272.8ZM135.2 293.1 132.5 294.0 135.2 295.0 137.9 294.1ZM151.1 301.5 148.4 302.3 151.1 304.9 153.8 304.1ZM189.8 324.5 187.0 325.4 189.8 326.4 192.5 325.5ZM130.7 293.1 128.0 294.1 130.7 295.0 133.4 294.0ZM151.1 304.0 148.4 304.9 151.1 307.6 153.8 306.7ZM80.7 281.0 78.0 283.4 80.7 286.0 83.4 283.6ZM114.8 301.4 112.1 304.0 114.8 304.8 117.5 302.2ZM135.2 312.4 132.5 314.8 135.2 317.4 138.0 315.0ZM169.3 332.9 166.6 335.6 169.3 336.3 172.0 333.7ZM76.2 280.9 73.5 283.5 76.2 286.0 78.9 283.4ZM114.8 303.9 112.1 306.6 114.8 307.5 117.5 304.8ZM130.7 312.4 128.0 315.0 130.7 317.4 133.4 314.8ZM169.3 335.4 166.6 338.2 169.3 339.1 172.0 336.3Z"/>
<path fill="#d6ba57" d="M189.7 261.9 186.9 262.8 189.7 263.8 192.4 262.9ZM205.6 270.2 202.9 270.9 205.6 273.5 208.3 272.8ZM185.1 261.9 182.4 262.9 185.1 263.8 187.8 262.7ZM205.6 272.6 202.9 273.5 205.6 276.3 208.3 275.4ZM141.9 248.7 139.2 250.8 141.9 253.5 144.6 251.4ZM226.1 297.5 223.4 299.8 226.1 300.5 228.8 298.2ZM123.7 248.7 121.0 251.4 123.8 253.4 126.5 250.7ZM226.1 307.4 223.4 310.2 226.1 311.5 228.8 308.7ZM94.3 276.1 91.6 277.4 94.3 280.2 97.0 278.9ZM178.4 325.4 175.7 326.9 178.4 327.7 181.1 326.2ZM39.9 297.2 37.2 297.9 39.9 300.2 42.6 299.5ZM87.6 325.3 84.9 326.1 87.6 327.6 90.3 326.8ZM94.4 328.9 91.7 329.6 94.4 331.9 97.1 331.1ZM142.1 357.0 139.3 357.8 142.1 359.3 144.8 358.5Z"/>
<path fill="#daba55" d="M148.7 235.3 146.0 236.0 148.7 238.3 151.4 237.6ZM251.1 293.7 248.4 294.6 251.1 296.0 253.8 295.2ZM148.7 245.2 146.0 246.5 148.7 249.2 151.4 247.9ZM178.3 262.8 175.6 264.3 178.3 265.1 181.0 263.6ZM203.3 276.1 200.6 277.4 203.3 280.2 206.0 278.9ZM232.9 293.9 230.2 295.4 232.9 296.2 235.6 294.7ZM171.5 266.4 168.8 268.6 171.5 269.3 174.2 267.1ZM196.5 279.7 193.8 281.8 196.5 284.5 199.2 282.4ZM116.9 245.1 114.2 247.9 116.9 249.1 119.6 246.4ZM171.5 276.2 168.8 279.0 171.5 280.3 174.2 277.5ZM178.3 279.8 175.6 282.5 178.4 284.5 181.1 281.8ZM232.9 310.9 230.2 313.6 232.9 315.7 235.7 312.9ZM87.5 262.7 84.8 263.4 87.5 264.9 90.2 264.1ZM94.3 266.3 91.6 267.0 94.3 269.2 97.0 268.5ZM142.0 294.0 139.3 294.8 142.0 296.3 144.7 295.5ZM148.8 297.6 146.1 298.3 148.9 300.5 151.6 299.8ZM196.6 325.4 193.9 326.2 196.6 327.6 199.3 326.8ZM203.4 328.9 200.7 329.6 203.4 331.8 206.1 331.1ZM123.9 294.0 121.1 295.4 123.9 296.2 126.6 294.8ZM148.9 307.5 146.2 308.7 148.9 311.5 151.6 310.2ZM87.5 279.6 84.8 281.7 87.5 284.4 90.2 282.4ZM117.1 297.5 114.4 299.7 117.1 300.5 119.8 298.2ZM142.1 311.0 139.3 313.1 142.1 315.8 144.8 313.7ZM171.6 329.0 168.9 331.2 171.6 332.0 174.3 329.7ZM69.4 279.5 66.7 282.2 69.4 284.3 72.1 281.6ZM117.1 307.4 114.4 310.2 117.1 311.5 119.8 308.7ZM123.9 311.0 121.2 313.7 123.9 315.7 126.6 313.0ZM171.6 338.9 168.9 341.7 171.6 343.0 174.3 340.2ZM33.1 293.6 30.4 294.3 33.1 295.8 35.8 295.1ZM148.9 360.6 146.2 361.3 148.9 363.5 151.6 362.8Z"/>
<path fill="#deba53" d="M141.8 231.8 139.1 232.5 141.9 234.0 144.6 233.2ZM196.5 262.8 193.8 263.5 196.5 265.0 199.2 264.2ZM203.3 266.3 200.6 267.0 203.3 269.2 206.0 268.5ZM257.9 297.2 255.2 298.0 257.9 300.2 260.7 299.4ZM62.5 275.8 59.8 278.6 62.6 279.9 65.3 277.2ZM178.4 342.5 175.7 345.2 178.4 347.2 181.1 344.5ZM37.6 295.8 34.9 296.5 37.6 298.5 40.3 297.8ZM144.3 358.0 141.6 358.8 144.3 360.5 147.0 359.7Z"/>
<path fill="#e2b952" d="M146.4 246.1 143.7 247.7 146.5 250.4 149.2 248.9ZM176.0 263.8 173.3 265.5 176.0 266.3 178.8 264.5ZM201.1 277.1 198.4 278.6 201.1 281.4 203.8 279.8ZM230.6 294.9 227.9 296.6 230.7 297.4 233.4 295.6ZM144.2 247.3 141.5 249.1 144.2 251.8 146.9 250.0ZM173.8 265.0 171.1 266.9 173.8 267.7 176.5 265.7ZM198.8 278.3 196.1 280.1 198.8 282.8 201.5 281.0ZM228.4 296.1 225.7 298.1 228.4 298.8 231.1 296.8ZM119.2 246.1 116.5 248.8 119.2 250.3 121.9 247.6ZM121.5 247.2 118.8 250.0 121.5 251.8 124.2 249.1ZM173.8 277.2 171.1 280.0 173.8 281.5 176.5 278.7ZM176.1 278.4 173.4 281.1 176.1 282.9 178.8 280.2ZM228.4 308.3 225.7 311.1 228.4 312.6 231.1 309.8ZM230.7 309.5 228.0 312.3 230.7 314.0 233.4 311.3ZM89.7 263.6 87.0 264.4 89.8 266.1 92.5 265.4ZM92.0 264.8 89.3 265.6 92.0 267.6 94.7 266.8ZM144.3 295.0 141.6 295.7 144.3 297.5 147.0 296.7ZM146.6 296.2 143.9 296.9 146.6 298.9 149.3 298.1ZM198.9 326.3 196.1 327.1 198.9 328.8 201.6 328.0ZM201.1 327.5 198.4 328.3 201.1 330.2 203.8 329.4ZM92.1 277.1 89.3 278.6 92.1 281.4 94.8 279.8ZM121.6 294.9 118.9 296.6 121.6 297.4 124.3 295.7ZM146.6 308.4 143.9 309.9 146.6 312.7 149.3 311.2ZM176.1 326.4 173.4 328.1 176.1 328.9 178.9 327.2ZM89.8 278.2 87.1 280.0 89.8 282.8 92.5 281.0ZM119.3 296.1 116.6 298.1 119.3 298.8 122.0 296.9ZM144.3 309.6 141.6 311.4 144.3 314.1 147.0 312.3ZM173.9 327.6 171.2 329.6 173.9 330.3 176.6 328.3ZM64.8 276.8 62.1 279.6 64.8 281.1 67.5 278.4ZM67.1 278.0 64.4 280.8 67.1 282.6 69.8 279.9ZM119.3 308.3 116.6 311.1 119.3 312.6 122.1 309.9ZM121.6 309.5 118.9 312.3 121.6 314.1 124.3 311.3ZM173.9 339.9 171.2 342.6 173.9 344.2 176.6 341.4ZM176.1 341.0 173.4 343.8 176.1 345.6 178.9 342.8ZM35.4 294.5 32.7 295.3 35.4 297.0 38.1 296.3ZM89.8 326.3 87.1 327.0 89.8 328.8 92.6 328.0ZM92.1 327.5 89.4 328.2 92.1 330.2 94.8 329.5ZM146.6 359.2 143.9 359.9 146.6 361.9 149.3 361.1Z"/>
<path fill="#e6b950" d="M144.1 232.7 141.4 233.5 144.1 235.2 146.8 234.4ZM146.4 233.9 143.7 234.6 146.4 236.6 149.1 235.9ZM198.8 263.7 196.0 264.5 198.8 266.2 201.5 265.4ZM201.0 264.9 198.3 265.6 201.0 267.6 203.7 266.8ZM253.4 294.7 250.7 295.5 253.4 297.1 256.1 296.3ZM255.7 295.8 253.0 296.6 255.7 298.5 258.4 297.8ZM137.4 248.2 134.7 250.5 137.4 253.1 140.1 250.9ZM226.1 299.6 223.4 302.1 226.1 302.8 228.8 300.3ZM128.3 248.2 125.6 250.8 128.3 253.1 131.0 250.5ZM226.1 304.5 223.4 307.3 226.1 308.3 228.8 305.6ZM94.3 268.3 91.6 269.1 94.3 271.5 97.0 270.8ZM192.0 325.1 189.3 325.9 192.0 327.2 194.8 326.3ZM94.3 273.2 91.6 274.3 94.3 277.0 97.0 276.0ZM183.0 325.1 180.2 326.3 183.0 327.2 185.7 326.0ZM39.9 299.3 37.2 300.0 39.9 302.5 42.6 301.8ZM83.0 324.9 80.3 325.8 83.0 327.0 85.8 326.2ZM94.4 331.0 91.7 331.7 94.4 334.2 97.1 333.4ZM137.5 356.7 134.8 357.6 137.5 358.8 140.2 357.9Z"/>
<path fill="#eab94e" d="M148.7 237.4 146.0 238.1 148.7 240.6 151.4 239.8ZM191.9 262.4 189.2 263.3 191.9 264.5 194.7 263.6ZM203.3 268.3 200.6 269.1 203.3 271.5 206.0 270.7ZM246.6 293.4 243.8 294.3 246.6 295.5 249.3 294.6ZM148.7 242.3 146.0 243.3 148.7 246.1 151.4 245.0ZM182.8 262.4 180.1 263.7 182.9 264.5 185.6 263.3ZM203.3 273.2 200.6 274.3 203.3 277.0 206.0 275.9ZM237.5 293.5 234.7 294.8 237.5 295.6 240.2 294.4ZM171.5 268.4 168.8 270.9 171.5 271.7 174.2 269.2ZM192.0 279.3 189.3 281.5 192.0 284.2 194.7 281.9ZM132.8 248.1 130.1 250.5 132.8 253.0 135.6 250.5ZM226.1 301.9 223.4 304.5 226.1 305.4 228.8 302.8ZM171.5 273.4 168.8 276.1 171.5 277.1 174.2 274.4ZM182.9 279.3 180.2 281.9 182.9 284.2 185.6 281.6ZM137.5 293.7 134.8 294.5 137.5 295.8 140.2 294.9ZM148.9 299.6 146.2 300.4 148.9 302.9 151.6 302.1ZM128.4 293.6 125.7 294.9 128.4 295.7 131.1 294.5ZM148.9 304.6 146.2 305.6 148.9 308.4 151.6 307.3ZM83.0 279.1 80.3 281.4 83.0 284.0 85.7 281.8ZM117.1 299.6 114.4 302.0 117.1 302.8 119.8 300.3ZM137.5 310.5 134.8 312.8 137.5 315.4 140.2 313.1ZM171.6 331.1 168.9 333.5 171.6 334.3 174.3 331.9ZM73.9 279.0 71.2 281.6 73.9 283.9 76.6 281.3ZM117.1 304.5 114.4 307.2 117.1 308.3 119.8 305.6ZM128.4 310.5 125.7 313.1 128.4 315.4 131.1 312.8ZM171.6 336.0 168.9 338.8 171.6 339.8 174.3 337.1Z"/>
<path fill="#eeb94b" d="M148.7 239.7 146.0 240.6 148.7 243.2 151.4 242.3ZM242.0 293.4 239.3 294.4 242.0 295.4 244.7 294.4ZM171.5 270.8 168.8 273.4 171.5 274.3 174.2 271.6ZM187.4 279.1 184.7 281.6 187.4 284.1 190.2 281.6ZM94.3 270.6 91.6 271.5 94.3 274.1 97.0 273.3ZM132.9 293.5 130.2 294.6 133.0 295.6 135.7 294.6ZM148.9 302.0 146.2 302.8 148.9 305.5 151.6 304.6ZM187.5 325.0 184.8 326.0 187.5 327.0 190.2 326.0ZM78.4 278.9 75.7 281.4 78.4 283.9 81.2 281.4ZM117.1 301.9 114.4 304.5 117.1 305.4 119.8 302.8ZM133.0 310.3 130.3 312.8 133.0 315.3 135.7 312.8ZM171.6 333.4 168.9 336.0 171.6 336.9 174.3 334.3Z"/>
<path fill="#f2b949" d="M187.4 262.3 184.7 263.3 187.4 264.4 190.1 263.3ZM203.3 270.6 200.6 271.5 203.3 274.1 206.0 273.2Z"/>
<path fill="#f5ba46" d="M139.6 246.6 136.9 248.6 139.7 251.3 142.4 249.2ZM228.4 297.9 225.7 300.2 228.4 300.9 231.1 298.7ZM126.0 246.5 123.3 249.2 126.0 251.2 128.7 248.6ZM228.4 305.2 225.7 308.0 228.4 309.2 231.1 306.5ZM92.0 274.0 89.3 275.2 92.1 278.0 94.8 276.7ZM180.7 325.8 178.0 327.3 180.7 328.2 183.4 326.7ZM37.6 297.6 34.9 298.4 37.6 300.6 40.3 299.9ZM85.3 325.7 82.6 326.5 85.3 328.0 88.0 327.2ZM92.1 329.3 89.4 330.1 92.1 332.3 94.8 331.5ZM139.8 357.4 137.1 358.3 139.8 359.7 142.5 358.9Z"/>
<path fill="#f9bb43" d="M146.4 235.7 143.7 236.5 146.4 238.7 149.1 237.9ZM248.8 294.2 246.1 295.0 248.8 296.5 251.6 295.6ZM146.4 243.0 143.7 244.3 146.5 247.0 149.2 245.7ZM180.6 263.2 177.9 264.7 180.6 265.5 183.3 264.0ZM201.1 274.0 198.4 275.3 201.1 278.0 203.8 276.7ZM235.2 294.3 232.5 295.8 235.2 296.6 237.9 295.1ZM173.8 266.8 171.1 269.0 173.8 269.8 176.5 267.6ZM194.2 277.6 191.5 279.7 194.3 282.3 197.0 280.2ZM119.2 243.0 116.5 245.7 119.2 247.0 121.9 244.3ZM173.8 274.1 171.1 276.8 173.8 278.1 176.5 275.4ZM180.6 277.6 177.9 280.3 180.6 282.3 183.3 279.7ZM235.2 308.7 232.5 311.4 235.2 313.4 237.9 310.8ZM85.2 263.0 82.5 263.9 85.2 265.3 87.9 264.5ZM92.0 266.7 89.3 267.4 92.0 269.7 94.7 268.9ZM139.8 294.4 137.0 295.3 139.8 296.7 142.5 295.9ZM146.6 298.0 143.9 298.8 146.6 301.0 149.3 300.2ZM194.3 325.8 191.6 326.7 194.3 328.1 197.0 327.2ZM201.1 329.3 198.4 330.1 201.1 332.3 203.8 331.5ZM126.1 294.4 123.4 295.8 126.1 296.7 128.9 295.2ZM146.6 305.3 143.9 306.6 146.6 309.3 149.3 308.0ZM85.2 277.5 82.5 279.5 85.3 282.2 88.0 280.1ZM119.3 297.9 116.6 300.1 119.3 300.9 122.0 298.7ZM139.8 308.9 137.1 310.9 139.8 313.6 142.5 311.5ZM173.9 329.4 171.2 331.6 173.9 332.4 176.6 330.2ZM64.8 273.7 62.1 276.4 64.8 277.7 67.5 275.0ZM71.6 277.4 68.9 280.0 71.6 282.1 74.4 279.4ZM119.3 305.2 116.6 307.9 119.3 309.2 122.0 306.5ZM126.2 308.8 123.4 311.5 126.2 313.5 128.9 310.9ZM173.9 336.8 171.2 339.5 173.9 340.8 176.6 338.0ZM180.7 340.3 178.0 343.0 180.7 345.0 183.4 342.3ZM30.8 293.9 28.1 294.8 30.8 296.2 33.5 295.4ZM146.6 361.0 143.9 361.8 146.6 364.0 149.3 363.2Z"/>
<path fill="#fbbd40" d="M139.6 232.1 136.9 233.0 139.6 234.4 142.3 233.6ZM194.2 263.2 191.5 264.0 194.2 265.5 196.9 264.6ZM201.0 266.7 198.3 267.5 201.0 269.7 203.8 268.9ZM255.7 297.6 253.0 298.4 255.7 300.6 258.4 299.8ZM35.4 296.1 32.7 296.9 35.4 298.9 38.1 298.1ZM142.1 358.4 139.3 359.2 142.1 360.9 144.8 360.1Z"/>
<path fill="#febf3d" d="M144.2 244.0 141.5 245.5 144.2 248.2 146.9 246.7ZM178.3 264.2 175.6 265.9 178.3 266.7 181.0 265.0ZM198.8 275.0 196.1 276.5 198.8 279.2 201.5 277.6ZM232.9 295.3 230.2 297.0 232.9 297.8 235.6 296.1ZM141.9 245.2 139.2 247.0 141.9 249.6 144.6 247.8ZM176.0 265.4 173.3 267.3 176.0 268.1 178.8 266.2ZM196.5 276.1 193.8 278.0 196.5 280.6 199.2 278.8ZM230.7 296.5 227.9 298.5 230.7 299.3 233.4 297.3ZM135.1 246.2 132.4 248.5 135.1 251.0 137.8 248.7ZM228.4 300.0 225.7 302.5 228.4 303.4 231.1 300.9ZM130.6 246.2 127.8 248.7 130.6 251.0 133.3 248.5ZM228.4 302.5 225.7 305.1 228.4 306.1 231.1 303.5ZM121.5 243.9 118.8 246.6 121.5 248.1 124.2 245.5ZM123.7 245.1 121.0 247.8 123.8 249.6 126.5 246.9ZM176.1 275.0 173.4 277.7 176.1 279.3 178.8 276.6ZM178.3 276.2 175.6 278.9 178.3 280.7 181.1 278.0ZM230.7 306.2 228.0 308.9 230.7 310.4 233.4 307.7ZM232.9 307.3 230.2 310.0 232.9 311.8 235.7 309.1ZM87.5 264.0 84.8 264.8 87.5 266.6 90.2 265.7ZM89.8 265.2 87.0 266.0 89.8 268.0 92.5 267.2ZM142.0 295.4 139.3 296.2 142.0 297.9 144.8 297.1ZM144.3 296.6 141.6 297.4 144.3 299.3 147.0 298.5ZM196.6 326.7 193.9 327.6 196.6 329.3 199.3 328.4ZM198.9 327.9 196.1 328.7 198.9 330.7 201.6 329.9ZM89.8 274.9 87.1 276.4 89.8 279.1 92.5 277.6ZM123.9 295.3 121.2 297.0 123.9 297.9 126.6 296.2ZM144.3 306.3 141.6 307.8 144.3 310.5 147.0 309.0ZM178.4 326.8 175.7 328.5 178.4 329.3 181.1 327.6ZM87.5 276.1 84.8 277.9 87.5 280.5 90.2 278.8ZM121.6 296.5 118.9 298.5 121.6 299.3 124.3 297.3ZM142.1 307.4 139.3 309.2 142.1 311.9 144.8 310.1ZM176.1 328.0 173.4 330.0 176.1 330.8 178.8 328.8ZM67.1 274.7 64.4 277.4 67.1 278.9 69.8 276.3ZM69.4 275.9 66.6 278.6 69.4 280.4 72.1 277.7ZM121.6 306.2 118.9 308.9 121.6 310.4 124.3 307.8ZM123.9 307.4 121.2 310.1 123.9 311.9 126.6 309.2ZM176.1 337.7 173.4 340.4 176.1 341.9 178.8 339.2ZM178.4 338.9 175.7 341.6 178.4 343.4 181.1 340.7ZM33.1 294.9 30.4 295.7 33.1 297.5 35.8 296.7ZM87.6 326.7 84.9 327.5 87.6 329.2 90.3 328.4ZM89.8 327.9 87.1 328.7 89.9 330.6 92.6 329.8ZM144.3 359.6 141.6 360.4 144.3 362.4 147.0 361.5Z"/>
<path fill="#fec13a" d="M141.9 233.1 139.1 233.9 141.9 235.6 144.6 234.8ZM144.1 234.3 141.4 235.1 144.1 237.1 146.9 236.3ZM196.5 264.1 193.8 264.9 196.5 266.6 199.2 265.8ZM198.8 265.3 196.1 266.1 198.8 268.0 201.5 267.2ZM251.1 295.1 248.4 295.9 251.1 297.6 253.8 296.8ZM253.4 296.2 250.7 297.1 253.4 299.0 256.1 298.2ZM146.4 237.8 143.7 238.7 146.4 241.2 149.1 240.3ZM189.7 262.9 186.9 263.9 189.7 265.1 192.4 264.1ZM201.0 268.8 198.3 269.7 201.1 272.1 203.8 271.2ZM244.3 293.9 241.6 294.9 244.3 296.1 247.0 295.1ZM146.4 240.3 143.7 241.3 146.4 243.9 149.1 242.9ZM185.1 262.9 182.4 264.1 185.1 265.1 187.8 263.9ZM201.1 271.2 198.3 272.3 201.1 274.9 203.8 273.8ZM239.7 294.0 237.0 295.2 239.7 296.2 242.5 294.9ZM173.8 268.9 171.1 271.3 173.8 272.2 176.5 269.8ZM189.7 277.2 187.0 279.5 189.7 282.0 192.4 279.7ZM173.8 271.3 171.1 273.9 173.8 275.0 176.5 272.4ZM185.2 277.2 182.4 279.8 185.2 282.0 187.9 279.5ZM92.0 268.8 89.3 269.7 92.0 272.1 94.7 271.2ZM135.2 294.1 132.5 295.1 135.2 296.3 137.9 295.3ZM146.6 300.1 143.9 301.0 146.6 303.4 149.3 302.5ZM189.8 325.5 187.0 326.5 189.8 327.7 192.5 326.7ZM92.0 271.2 89.3 272.3 92.0 274.9 94.7 273.8ZM130.7 294.1 128.0 295.3 130.7 296.3 133.4 295.1ZM146.6 302.5 143.9 303.6 146.6 306.2 149.3 305.1ZM185.2 325.5 182.5 326.8 185.2 327.8 187.9 326.5ZM80.7 277.1 78.0 279.3 80.7 281.9 83.4 279.6ZM119.3 300.0 116.6 302.4 119.3 303.4 122.0 300.9ZM135.2 308.5 132.5 310.8 135.2 313.3 138.0 311.0ZM173.9 331.5 171.2 334.0 173.9 334.9 176.6 332.4ZM76.2 277.0 73.5 279.5 76.2 281.8 78.9 279.3ZM119.3 302.5 116.6 305.1 119.3 306.1 122.0 303.5ZM130.7 308.5 128.0 311.0 130.7 313.3 133.4 310.8ZM173.9 334.0 171.2 336.6 173.9 337.7 176.6 335.0Z"/>
<path fill="#fdcb30" d="M144.1 236.2 141.4 237.1 144.2 239.3 146.9 238.4ZM246.6 294.6 243.8 295.6 246.6 297.1 249.3 296.0ZM144.2 241.0 141.5 242.3 144.2 244.9 146.9 243.6ZM182.9 263.6 180.1 265.1 182.9 266.1 185.6 264.6ZM198.8 272.0 196.1 273.3 198.8 275.9 201.5 274.5ZM237.5 294.7 234.8 296.2 237.5 297.2 240.2 295.7ZM137.4 244.5 134.7 246.6 137.4 249.1 140.1 247.1ZM176.0 267.2 173.3 269.4 176.1 270.4 178.8 268.1ZM192.0 275.6 189.3 277.6 192.0 280.2 194.7 278.1ZM230.7 298.4 227.9 300.6 230.7 301.5 233.4 299.3ZM121.5 240.9 118.8 243.5 121.5 244.8 124.2 242.2ZM128.3 244.5 125.6 247.0 128.3 249.1 131.0 246.6ZM176.1 272.1 173.4 274.7 176.1 275.9 178.8 273.4ZM182.9 275.6 180.2 278.1 182.9 280.2 185.6 277.7ZM230.7 303.2 228.0 305.8 230.7 307.1 233.4 304.5ZM237.5 306.7 234.8 309.2 237.5 311.3 240.2 308.7ZM82.9 263.5 80.2 264.4 82.9 265.9 85.7 264.9ZM89.8 267.1 87.1 268.0 89.8 270.2 92.5 269.3ZM137.5 294.9 134.8 295.9 137.5 297.3 140.2 296.3ZM144.3 298.4 141.6 299.4 144.3 301.6 147.0 300.6ZM192.0 326.3 189.3 327.3 192.0 328.7 194.8 327.7ZM198.9 329.8 196.1 330.7 198.9 332.9 201.6 332.0ZM89.8 271.9 87.1 273.2 89.8 275.8 92.5 274.5ZM128.4 294.8 125.7 296.3 128.4 297.3 131.1 295.8ZM144.3 303.3 141.6 304.6 144.3 307.2 147.0 305.9ZM183.0 326.3 180.2 327.7 183.0 328.7 185.7 327.3ZM83.0 275.4 80.3 277.5 83.0 280.0 85.7 278.0ZM121.6 298.4 118.9 300.6 121.6 301.5 124.3 299.3ZM137.5 306.8 134.8 308.9 137.5 311.4 140.2 309.3ZM176.1 329.9 173.4 332.1 176.1 333.0 178.8 330.8ZM73.9 275.3 71.2 277.8 73.9 279.9 76.6 277.4ZM121.6 303.2 118.9 305.8 121.6 307.1 124.3 304.5ZM128.4 306.8 125.7 309.3 128.4 311.4 131.1 308.9ZM176.1 334.7 173.4 337.3 176.1 338.6 178.8 336.0Z"/>
<path fill="#fcce2e" d="M137.3 232.6 134.6 233.6 137.3 235.0 140.0 234.0ZM191.9 263.6 189.2 264.6 192.0 266.0 194.7 265.0ZM198.8 267.1 196.1 268.1 198.8 270.3 201.5 269.3ZM253.4 298.1 250.7 299.1 253.4 301.2 256.1 300.3ZM132.8 244.3 130.1 246.6 132.8 249.0 135.5 246.7ZM230.7 300.6 228.0 303.0 230.7 304.1 233.4 301.7ZM89.8 269.3 87.1 270.4 89.8 272.8 92.5 271.8ZM187.5 326.1 184.8 327.3 187.5 328.5 190.2 327.3ZM67.1 271.7 64.4 274.3 67.1 275.6 69.8 273.0ZM183.0 338.3 180.2 340.8 183.0 342.8 185.7 340.3Z"/>
<path fill="#fbd12b" d="M144.2 238.4 141.5 239.5 144.2 241.9 146.9 240.8ZM187.4 263.5 184.7 264.7 187.4 265.8 190.1 264.6ZM198.8 269.4 196.1 270.5 198.8 272.9 201.5 271.8ZM242.0 294.5 239.3 295.7 242.0 296.9 244.7 295.7ZM141.9 241.9 139.2 243.5 141.9 246.1 144.6 244.5ZM180.6 264.6 177.9 266.3 180.6 267.3 183.3 265.6ZM196.5 272.9 193.8 274.5 196.5 277.0 199.2 275.5ZM235.2 295.7 232.5 297.4 235.2 298.4 237.9 296.6ZM139.6 243.1 136.9 244.9 139.6 247.5 142.4 245.7ZM178.3 265.8 175.6 267.8 178.3 268.7 181.0 266.7ZM194.2 274.1 191.5 276.0 194.3 278.5 197.0 276.7ZM232.9 296.9 230.2 298.9 232.9 299.8 235.6 297.8ZM176.1 269.5 173.3 271.9 176.1 273.0 178.8 270.5ZM187.4 275.4 184.7 277.7 187.4 280.0 190.2 277.7ZM123.7 241.9 121.0 244.4 123.7 246.0 126.5 243.5ZM126.0 243.1 123.3 245.6 126.0 247.4 128.7 244.9ZM178.3 273.0 175.6 275.6 178.3 277.1 181.1 274.6ZM180.6 274.2 177.9 276.7 180.6 278.5 183.3 276.0ZM232.9 304.1 230.2 306.7 232.9 308.2 235.7 305.6ZM235.2 305.3 232.5 307.8 235.2 309.6 237.9 307.1ZM85.2 264.4 82.5 265.4 85.2 267.1 87.9 266.2ZM87.5 265.7 84.8 266.6 87.5 268.6 90.2 267.6ZM139.8 295.8 137.0 296.8 139.8 298.5 142.5 297.5ZM142.0 297.0 139.3 298.0 142.0 299.9 144.8 299.0ZM194.3 327.2 191.6 328.2 194.3 329.9 197.0 328.9ZM196.6 328.4 193.9 329.3 196.6 331.3 199.3 330.3ZM132.9 294.7 130.2 295.9 133.0 297.1 135.7 295.9ZM144.3 300.7 141.6 301.8 144.3 304.2 147.0 303.1ZM87.5 272.9 84.8 274.4 87.5 277.0 90.2 275.4ZM126.1 295.8 123.4 297.5 126.1 298.4 128.9 296.8ZM142.0 304.2 139.3 305.8 142.1 308.3 144.8 306.8ZM180.7 327.3 178.0 329.0 180.7 329.9 183.4 328.2ZM85.2 274.0 82.5 275.8 85.2 278.4 88.0 276.6ZM123.9 297.0 121.2 298.9 123.9 299.9 126.6 297.9ZM139.8 305.4 137.1 307.2 139.8 309.8 142.5 307.9ZM178.4 328.4 175.7 330.4 178.4 331.3 181.1 329.4ZM78.4 275.2 75.7 277.5 78.4 279.8 81.2 277.5ZM121.6 300.6 118.9 303.0 121.6 304.1 124.3 301.7ZM133.0 306.6 130.2 308.9 133.0 311.2 135.7 308.9ZM176.1 332.1 173.4 334.5 176.1 335.6 178.8 333.2ZM71.6 273.9 68.9 276.4 71.6 278.3 74.3 275.7ZM178.4 335.7 175.7 338.2 178.4 339.8 181.1 337.2Z"/>
<path fill="#fad329" d="M139.6 233.5 136.9 234.5 139.6 236.2 142.3 235.2ZM141.9 234.7 139.2 235.7 141.9 237.6 144.6 236.7ZM194.2 264.6 191.5 265.5 194.2 267.2 196.9 266.2ZM196.5 265.7 193.8 266.7 196.5 268.6 199.2 267.7ZM248.8 295.6 246.1 296.6 248.8 298.2 251.6 297.2ZM251.1 296.7 248.4 297.7 251.1 299.6 253.8 298.6ZM69.4 272.7 66.6 275.2 69.4 276.8 72.1 274.3ZM123.9 304.2 121.2 306.7 123.9 308.3 126.6 305.7ZM126.2 305.4 123.4 307.9 126.2 309.7 128.9 307.2ZM180.7 336.8 178.0 339.4 180.7 341.2 183.4 338.6Z"/>
<path fill="#f6db23" d="M141.9 236.7 139.2 237.8 141.9 240.0 144.6 238.9ZM189.7 264.2 187.0 265.4 189.7 266.8 192.4 265.6ZM196.5 267.7 193.8 268.8 196.5 271.0 199.2 269.9ZM244.3 295.2 241.6 296.4 244.3 297.8 247.0 296.6ZM141.9 239.1 139.2 240.4 141.9 242.8 144.6 241.5ZM185.1 264.2 182.4 265.6 185.1 266.8 187.9 265.4ZM196.5 270.1 193.8 271.4 196.5 273.8 199.2 272.5ZM239.7 295.3 237.0 296.7 239.8 297.9 242.5 296.4ZM135.1 242.7 132.4 244.8 135.1 247.1 137.8 245.0ZM178.3 267.8 175.6 270.0 178.3 271.1 181.0 268.9ZM189.7 273.7 187.0 275.8 189.7 278.1 192.4 276.0ZM232.9 298.9 230.2 301.1 232.9 302.2 235.6 300.0ZM123.7 239.1 121.0 241.5 123.7 242.8 126.4 240.4ZM130.5 242.7 127.8 245.0 130.6 247.1 133.3 244.8ZM178.3 270.2 175.6 272.6 178.3 273.9 181.0 271.5ZM185.2 273.7 182.4 276.1 185.2 278.1 187.9 275.8ZM232.9 301.3 230.2 303.7 232.9 305.0 235.7 302.6ZM239.8 304.8 237.0 307.2 239.8 309.2 242.5 306.9ZM80.7 264.0 78.0 265.2 80.7 266.6 83.4 265.5ZM87.5 267.7 84.8 268.7 87.5 271.0 90.2 269.9ZM135.2 295.4 132.5 296.6 135.2 298.0 137.9 296.9ZM142.0 299.0 139.3 300.1 142.0 302.3 144.8 301.2ZM189.8 326.8 187.0 328.0 189.8 329.4 192.5 328.3ZM196.6 330.4 193.9 331.5 196.6 333.7 199.3 332.5ZM87.5 270.1 84.8 271.3 87.5 273.8 90.2 272.5ZM130.7 295.4 128.0 296.8 130.7 298.0 133.4 296.6ZM142.0 301.4 139.3 302.7 142.0 305.1 144.8 303.8ZM185.2 326.9 182.5 328.3 185.2 329.5 187.9 328.0ZM80.7 273.6 78.0 275.6 80.7 278.0 83.4 275.9ZM123.9 299.0 121.2 301.1 123.9 302.3 126.6 300.1ZM135.2 305.0 132.5 307.0 135.2 309.4 138.0 307.3ZM178.4 330.4 175.7 332.6 178.4 333.7 181.1 331.5ZM69.3 269.9 66.6 272.2 69.4 273.6 72.1 271.2ZM76.2 273.5 73.4 275.8 76.2 277.9 78.9 275.6ZM123.9 301.4 121.2 303.8 123.9 305.1 126.6 302.7ZM130.7 304.9 128.0 307.3 130.7 309.4 133.4 307.0ZM178.4 332.8 175.7 335.3 178.4 336.6 181.1 334.2ZM185.2 336.4 182.5 338.7 185.2 340.8 187.9 338.5Z"/>
<path fill="#f5de21" d="M135.0 233.2 132.3 234.3 135.1 235.8 137.8 234.6ZM251.1 298.7 248.4 299.8 251.1 302.0 253.8 300.9Z"/>
<path fill="#f5e11f" d="M139.6 235.3 136.9 236.4 139.6 238.4 142.3 237.3ZM191.9 265.1 189.2 266.3 192.0 268.0 194.7 266.8ZM194.2 266.3 191.5 267.5 194.2 269.4 196.9 268.2ZM246.6 296.2 243.9 297.3 246.6 299.0 249.3 297.8ZM139.6 240.1 136.9 241.6 139.6 244.0 142.3 242.5ZM182.9 265.2 180.1 266.9 182.9 268.0 185.6 266.3ZM194.2 271.1 191.5 272.7 194.2 275.0 197.0 273.4ZM237.5 296.3 234.8 298.0 237.5 299.1 240.2 297.4ZM137.4 241.3 134.6 243.1 137.4 245.4 140.1 243.6ZM180.6 266.4 177.9 268.3 180.6 269.4 183.3 267.5ZM192.0 272.3 189.3 274.1 192.0 276.5 194.7 274.6ZM235.2 297.5 232.5 299.4 235.2 300.5 237.9 298.6ZM126.0 240.0 123.3 242.4 126.0 244.0 128.7 241.6ZM128.3 241.2 125.6 243.6 128.3 245.4 131.0 243.1ZM180.6 271.1 177.9 273.5 180.6 275.1 183.3 272.7ZM182.9 272.3 180.2 274.7 182.9 276.5 185.6 274.1ZM235.2 302.2 232.5 304.6 235.2 306.2 237.9 303.8ZM237.5 303.4 234.8 305.8 237.5 307.6 240.2 305.2ZM82.9 265.0 80.2 266.1 83.0 267.8 85.7 266.7ZM85.2 266.2 82.5 267.3 85.2 269.3 87.9 268.2ZM137.5 296.4 134.8 297.5 137.5 299.2 140.2 298.1ZM139.8 297.6 137.1 298.7 139.8 300.7 142.5 299.5ZM192.0 327.8 189.3 329.0 192.0 330.6 194.8 329.5ZM194.3 329.0 191.6 330.1 194.3 332.0 197.0 330.9ZM85.2 271.0 82.5 272.5 85.2 274.9 88.0 273.4ZM128.4 296.4 125.7 298.0 128.4 299.2 131.1 297.5ZM139.8 302.4 137.1 303.9 139.8 306.3 142.5 304.7ZM183.0 327.8 180.2 329.5 183.0 330.7 185.7 329.0ZM83.0 272.2 80.3 274.0 83.0 276.3 85.7 274.5ZM126.1 297.5 123.4 299.5 126.1 300.6 128.9 298.7ZM137.5 303.5 134.8 305.4 137.5 307.7 140.2 305.9ZM180.7 329.0 178.0 331.0 180.7 332.1 183.4 330.1ZM71.6 270.9 68.9 273.2 71.6 274.8 74.3 272.5ZM73.9 272.1 71.2 274.4 73.9 276.2 76.6 273.9ZM126.2 302.3 123.4 304.7 126.2 306.3 128.9 303.9ZM128.4 303.5 125.7 305.9 128.4 307.7 131.1 305.4ZM180.7 333.8 178.0 336.2 180.7 337.7 183.4 335.3ZM183.0 335.0 180.2 337.3 183.0 339.2 185.7 336.8Z"/>
<path fill="#f5e41d" d="M137.3 234.1 134.6 235.3 137.3 236.9 140.1 235.8ZM248.8 297.3 246.1 298.5 248.9 300.4 251.6 299.2Z"/>
<path fill="#f5e81a" d="M139.6 237.5 136.9 238.8 139.6 241.0 142.3 239.7ZM187.4 264.9 184.7 266.4 187.4 267.8 190.1 266.3ZM194.2 268.5 191.5 269.8 194.2 272.0 197.0 270.6ZM242.0 296.0 239.3 297.4 242.0 298.8 244.7 297.4ZM126.0 237.4 123.3 239.6 126.0 240.9 128.7 238.8ZM132.8 241.0 130.1 243.1 132.8 245.2 135.5 243.1ZM180.6 268.5 177.9 270.7 180.6 272.0 183.3 269.9ZM187.4 272.1 184.7 274.2 187.4 276.3 190.1 274.2ZM235.2 299.6 232.5 301.8 235.2 303.1 237.9 300.9ZM242.0 303.1 239.3 305.3 242.0 307.3 244.8 305.2ZM78.4 264.8 75.7 266.1 78.4 267.6 81.1 266.2ZM85.2 268.4 82.5 269.7 85.2 271.9 87.9 270.6ZM133.0 296.2 130.2 297.6 133.0 299.0 135.7 297.6ZM139.8 299.8 137.1 301.1 139.8 303.3 142.5 301.9ZM187.5 327.6 184.8 329.0 187.5 330.4 190.2 329.0ZM194.3 331.1 191.6 332.5 194.3 334.6 197.0 333.3ZM71.6 268.2 68.9 270.4 71.6 271.8 74.3 269.6ZM78.4 271.9 75.7 274.0 78.4 276.1 81.2 274.0ZM126.1 299.7 123.4 301.9 126.2 303.2 128.9 301.1ZM133.0 303.3 130.2 305.4 133.0 307.5 135.7 305.4ZM180.7 331.2 178.0 333.4 180.7 334.7 183.4 332.5ZM187.5 334.7 184.8 336.8 187.5 338.9 190.2 336.8Z"/>
<path fill="#f5eb18" d="M132.8 233.9 130.1 235.3 132.8 236.7 135.5 235.3ZM248.8 299.5 246.1 300.8 248.9 303.0 251.6 301.6Z"/>
<path fill="#f6ef16" d="M137.3 236.0 134.6 237.4 137.3 239.3 140.1 238.0ZM244.3 296.9 241.6 298.3 244.3 300.0 247.0 298.6ZM137.3 238.4 134.6 240.0 137.4 242.2 140.1 240.6ZM185.1 265.9 182.4 267.6 185.1 268.9 187.9 267.3ZM192.0 269.4 189.2 271.0 192.0 273.2 194.7 271.6ZM239.8 297.0 237.0 298.7 239.8 300.0 242.5 298.3ZM128.3 236.0 125.5 237.9 128.3 239.3 131.0 237.4ZM135.1 239.6 132.4 241.5 135.1 243.6 137.8 241.7ZM182.9 267.1 180.2 269.0 182.9 270.4 185.6 268.5ZM189.7 270.6 187.0 272.5 189.7 274.6 192.4 272.8ZM237.5 298.2 234.8 300.1 237.5 301.5 240.2 299.5ZM244.3 301.7 241.6 303.6 244.3 305.6 247.0 303.8ZM128.3 238.4 125.6 240.5 128.3 242.1 131.0 240.0ZM130.5 239.6 127.8 241.7 130.5 243.6 133.3 241.5ZM182.9 269.5 180.2 271.6 182.9 273.2 185.6 271.1ZM185.1 270.7 182.4 272.8 185.2 274.6 187.9 272.5ZM237.5 300.6 234.8 302.7 237.5 304.3 240.2 302.1ZM239.8 301.7 237.0 303.9 239.8 305.7 242.5 303.5ZM80.7 265.7 78.0 267.1 80.7 268.8 83.4 267.4ZM83.0 266.9 80.2 268.3 83.0 270.2 85.7 268.9ZM135.2 297.1 132.5 298.5 135.2 300.2 137.9 298.8ZM137.5 298.3 134.8 299.7 137.5 301.6 140.2 300.3ZM189.8 328.5 187.0 329.9 189.8 331.6 192.5 330.2ZM192.0 329.7 189.3 331.1 192.0 333.0 194.8 331.6ZM83.0 269.3 80.2 270.9 83.0 273.1 85.7 271.5ZM130.7 297.1 128.0 298.8 130.7 300.2 133.4 298.5ZM137.5 300.7 134.8 302.3 137.5 304.4 140.2 302.9ZM185.2 328.6 182.5 330.2 185.2 331.6 187.9 329.9ZM80.7 270.5 78.0 272.3 80.7 274.5 83.4 272.6ZM128.4 298.3 125.7 300.2 128.4 301.6 131.1 299.7ZM135.2 301.9 132.5 303.7 135.2 305.9 138.0 304.0ZM183.0 329.8 180.2 331.7 183.0 333.0 185.7 331.1ZM73.9 269.2 71.2 271.3 73.9 273.0 76.6 270.8ZM76.2 270.4 73.4 272.5 76.2 274.4 78.9 272.3ZM128.4 300.7 125.7 302.8 128.4 304.4 131.1 302.3ZM130.7 301.9 128.0 304.0 130.7 305.8 133.4 303.7ZM183.0 332.1 180.2 334.3 183.0 335.9 185.7 333.7ZM185.2 333.3 182.5 335.4 185.2 337.3 187.9 335.1Z"/>
<path fill="#f6f313" d="M135.1 234.9 132.3 236.2 135.1 237.9 137.8 236.5ZM189.7 265.9 187.0 267.3 189.7 268.9 192.4 267.5ZM192.0 267.1 189.2 268.4 192.0 270.3 194.7 269.0ZM246.6 298.1 243.9 299.5 246.6 301.4 249.3 300.0ZM130.5 234.8 127.8 236.5 130.5 237.9 133.2 236.2ZM246.6 300.5 243.9 302.1 246.6 304.2 249.3 302.6ZM76.1 265.7 73.4 267.3 76.2 268.7 78.9 267.1ZM192.0 332.1 189.3 333.7 192.0 335.8 194.8 334.2ZM73.9 266.8 71.2 268.7 73.9 270.1 76.6 268.2ZM189.8 333.3 187.0 335.1 189.8 337.3 192.5 335.4Z"/>
<path fill="#f8f710" d="M135.1 237.0 132.4 238.6 135.1 240.5 137.8 238.9ZM242.0 297.9 239.3 299.6 242.0 301.2 244.8 299.5ZM130.5 237.0 127.8 238.9 130.5 240.5 133.3 238.6ZM132.8 238.2 130.1 240.0 132.8 241.9 135.5 240.1ZM185.1 268.0 182.4 270.0 185.1 271.6 187.9 269.6ZM187.4 269.2 184.7 271.1 187.4 273.0 190.1 271.1ZM239.8 299.1 237.0 301.0 239.8 302.6 242.5 300.7ZM242.0 300.3 239.3 302.2 242.0 304.0 244.8 302.1ZM80.7 267.9 78.0 269.5 80.7 271.4 83.4 269.8ZM133.0 298.1 130.2 299.7 133.0 301.4 135.7 299.7ZM135.2 299.3 132.5 300.9 135.2 302.8 138.0 301.2ZM187.5 329.5 184.8 331.2 187.5 332.8 190.2 331.1ZM78.4 269.0 75.7 270.9 78.4 272.8 81.1 270.9ZM130.7 299.3 128.0 301.1 130.7 302.8 133.4 300.9ZM133.0 300.5 130.2 302.3 133.0 304.2 135.7 302.3ZM185.2 330.7 182.5 332.6 185.2 334.2 187.9 332.3Z"/>
<path fill="#f9fb0e" d="M132.8 235.8 130.1 237.4 132.8 239.1 135.5 237.4ZM187.4 266.9 184.7 268.5 187.4 270.1 190.1 268.5ZM189.7 268.0 187.0 269.7 189.7 271.5 192.4 269.9ZM244.3 299.1 241.6 300.7 244.3 302.6 247.0 300.9ZM78.4 266.7 75.7 268.3 78.4 269.9 81.1 268.3ZM189.8 330.7 187.0 332.3 189.8 334.2 192.5 332.6ZM76.1 267.8 73.4 269.7 76.2 271.3 78.9 269.5ZM187.5 331.9 184.8 333.8 187.5 335.6 190.2 333.7Z"/></g></g>
<path d="M37.3 306.2L146.6 369.8L256.0 306.4M37.3 306.2L37.3 292.1" fill="none" stroke="#5a5a5a" stroke-width="0.8"/>
<path d="M37.3 306.2l-2.5 1.4M91.9 338.0l-2.5 1.4M146.6 369.8l-2.5 1.4M256.0 306.4l2.5 1.4M201.3 338.1l2.5 1.4M146.6 369.8l2.5 1.4M37.3 306.2l-2.4 0M37.3 292.1l-2.4 0" fill="none" stroke="#5a5a5a" stroke-width="0.8"/>
<path d="M88.2 265.9L200.6 330.0" stroke="#000" stroke-width="2.3" stroke-linecap="round"/>
<path d="M88.2 265.9L296.0 214.6" stroke="#000" stroke-width="1.4" stroke-dasharray="1.8 1.2"/>
<path d="M200.6 330.0L312.8 273.8" stroke="#000" stroke-width="1.4" stroke-dasharray="1.8 1.2"/>
<rect x="56.1" y="241.3" width="13.0" height="30.3" fill="url(#cbg)" stroke="#4a4a4a" stroke-width="0.7"/>
<path d="M313.4 213.3L313.4 270.3L532.5 270.3" fill="none" stroke="#5a5a5a" stroke-width="0.8"/>
<path d="M368.2 270.3l0 -2M422.9 270.3l0 -2M477.7 270.3l0 -2M532.5 270.3l0 -2M313.4 242.0l2 0M313.4 213.6l2 0" fill="none" stroke="#5a5a5a" stroke-width="0.8"/>
<path d="M313.40 241.95L314.50 240.17L315.59 238.40L316.69 236.64L317.78 234.90L318.88 233.19L319.97 231.51L321.07 229.88L322.16 228.29L323.26 226.76L324.35 225.29L325.45 223.88L326.55 222.54L327.64 221.28L328.74 220.11L329.83 219.01L330.93 218.01L332.02 217.11L333.12 216.30L334.21 215.59L335.31 214.99L336.41 214.49L337.50 214.10L338.60 213.82L339.69 213.66L340.79 213.60L341.88 213.66L342.98 213.82L344.07 214.10L345.17 214.49L346.26 214.99L347.36 215.59L348.46 216.30L349.55 217.11L350.65 218.01L351.74 219.01L352.84 220.11L353.93 221.28L355.03 222.54L356.12 223.88L357.22 225.29L358.32 226.76L359.41 228.29L360.51 229.88L361.60 231.51L362.70 233.19L363.79 234.90L364.89 236.64L365.98 238.40L367.08 240.17L368.17 241.95L369.27 243.73L370.37 245.50L371.46 247.26L372.56 249.00L373.65 250.71L374.75 252.39L375.84 254.02L376.94 255.61L378.03 257.14L379.13 258.61L380.23 260.02L381.32 261.36L382.42 262.62L383.51 263.79L384.61 264.89L385.70 265.89L386.80 266.79L387.89 267.60L388.99 268.31L390.08 268.91L391.18 269.41L392.28 269.80L393.37 270.08L394.47 270.24L395.56 270.30L396.66 270.24L397.75 270.08L398.85 269.80L399.94 269.41L401.04 268.91L402.14 268.31L403.23 267.60L404.33 266.79L405.42 265.89L406.52 264.89L407.61 263.79L408.71 262.62L409.80 261.36L410.90 260.02L412.00 258.61L413.09 257.14L414.19 255.61L415.28 254.02L416.38 252.39L417.47 250.71L418.57 249.00L419.66 247.26L420.76 245.50L421.85 243.73L422.95 241.95L424.05 240.17L425.14 238.40L426.24 236.64L427.33 234.90L428.43 233.19L429.52 231.51L430.62 229.88L431.71 228.29L432.81 226.76L433.90 225.29L435.00 223.88L436.10 222.54L437.19 221.28L438.29 220.11L439.38 219.01L440.48 218.01L441.57 217.11L442.67 216.30L443.76 215.59L444.86 214.99L445.96 214.49L447.05 214.10L448.15 213.82L449.24 213.66L450.34 213.60L451.43 213.66L452.53 213.82L453.62 214.10L454.72 214.49L455.81 214.99L456.91 215.59L458.01 216.30L459.10 217.11L460.20 218.01L461.29 219.01L462.39 220.11L463.48 221.28L464.58 222.54L465.67 223.88L466.77 225.29L467.87 226.76L468.96 228.29L470.06 229.88L471.15 231.51L472.25 233.19L473.34 234.90L474.44 236.64L475.53 238.40L476.63 240.17L477.72 241.95L478.82 243.73L479.92 245.50L481.01 247.26L482.11 249.00L483.20 250.71L484.30 252.39L485.39 254.02L486.49 255.61L487.58 257.14L488.68 258.61L489.78 260.02L490.87 261.36L491.97 262.62L493.06 263.79L494.16 264.89L495.25 265.89L496.35 266.79L497.44 267.60L498.54 268.31L499.63 268.91L500.73 269.41L501.83 269.80L502.92 270.08L504.02 270.24L505.11 270.30L506.21 270.24L507.30 270.08L508.40 269.80L509.49 269.41L510.59 268.91L511.69 268.31L512.78 267.60L513.88 266.79L514.97 265.89L516.07 264.89L517.16 263.79L518.26 262.62L519.35 261.36L520.45 260.02L521.54 258.61L522.64 257.14L523.74 255.61L524.83 254.02L525.93 252.39L527.02 250.71L528.12 249.00L529.21 247.26L530.31 245.50L531.40 243.73L532.50 241.95" fill="none" stroke="#e08a5c" stroke-width="1"/>
<rect x="442.4" y="210.2" width="16.6" height="16.6" fill="none" stroke="#f50c0c" stroke-width="1.4"/>
<clipPath id="lc371"><rect x="313.3" y="314.9" width="217.4" height="56.4"/></clipPath>
<g clip-path="url(#lc371)">
<path d="M377.08 375.45L378.42 373.82L379.75 372.20L381.08 370.61L382.41 369.03L383.75 367.48L385.08 365.94L386.41 364.43L387.75 362.94L389.08 361.47L390.41 360.03L391.74 358.61L393.08 357.21L394.41 355.83L395.74 354.48L397.08 353.15L398.41 351.85L399.74 350.57L401.07 349.32L402.41 348.10L403.74 346.89L405.07 345.72L406.40 344.57L407.74 343.45L409.07 342.35L410.40 341.28L411.74 340.24L413.07 339.23L414.40 338.24L415.73 337.28L417.07 336.35L418.40 335.45L419.73 334.58L421.07 333.74L422.40 332.92L423.73 332.14L425.06 331.38L426.40 330.65L427.73 329.95L429.06 329.29L430.39 328.65L431.73 328.04L433.06 327.47L434.39 326.92L435.73 326.40L437.06 325.92L438.39 325.46L439.72 325.04L441.06 324.65L442.39 324.29L443.72 323.95L445.06 323.66L446.39 323.39L447.72 323.15L449.05 322.95L450.39 322.77L451.72 322.63L453.05 322.52L454.38 322.44L455.72 322.39L457.05 322.38L458.38 322.39L459.72 322.44L461.05 322.52L462.38 322.63L463.71 322.77L465.05 322.95L466.38 323.15L467.71 323.39L469.04 323.66L470.38 323.95L471.71 324.29L473.04 324.65L474.38 325.04L475.71 325.46L477.04 325.92L478.37 326.40L479.71 326.92L481.04 327.47L482.37 328.04L483.71 328.65L485.04 329.29L486.37 329.95L487.70 330.65L489.04 331.38L490.37 332.14L491.70 332.92L493.03 333.74L494.37 334.58L495.70 335.45L497.03 336.35L498.37 337.28L499.70 338.24L501.03 339.23L502.36 340.24L503.70 341.28L505.03 342.35L506.36 343.45L507.70 344.57L509.03 345.72L510.36 346.89L511.69 348.10L513.03 349.32L514.36 350.57L515.69 351.85L517.02 353.15L518.36 354.48L519.69 355.83L521.02 357.21L522.36 358.61L523.69 360.03L525.02 361.47L526.35 362.94L527.69 364.43L529.02 365.94L530.35 367.48L531.69 369.03L533.02 370.61L534.35 372.20L535.68 373.82L537.02 375.45L537.02 380.70L535.68 379.06L534.35 377.45L533.02 375.85L531.69 374.27L530.35 372.72L529.02 371.19L527.69 369.67L526.35 368.18L525.02 366.72L523.69 365.27L522.36 363.85L521.02 362.45L519.69 361.08L518.36 359.73L517.02 358.40L515.69 357.10L514.36 355.82L513.03 354.57L511.69 353.34L510.36 352.14L509.03 350.96L507.70 349.81L506.36 348.69L505.03 347.60L503.70 346.53L502.36 345.49L501.03 344.47L499.70 343.49L498.37 342.53L497.03 341.60L495.70 340.70L494.37 339.82L493.03 338.98L491.70 338.17L490.37 337.38L489.04 336.62L487.70 335.90L486.37 335.20L485.04 334.53L483.71 333.89L482.37 333.29L481.04 332.71L479.71 332.16L478.37 331.65L477.04 331.16L475.71 330.71L474.38 330.28L473.04 329.89L471.71 329.53L470.38 329.20L469.04 328.90L467.71 328.63L466.38 328.40L465.05 328.19L463.71 328.02L462.38 327.87L461.05 327.76L459.72 327.69L458.38 327.64L457.05 327.62L455.72 327.64L454.38 327.69L453.05 327.76L451.72 327.87L450.39 328.02L449.05 328.19L447.72 328.40L446.39 328.63L445.06 328.90L443.72 329.20L442.39 329.53L441.06 329.89L439.72 330.28L438.39 330.71L437.06 331.16L435.73 331.65L434.39 332.16L433.06 332.71L431.73 333.29L430.39 333.89L429.06 334.53L427.73 335.20L426.40 335.90L425.06 336.62L423.73 337.38L422.40 338.17L421.07 338.98L419.73 339.82L418.40 340.70L417.07 341.60L415.73 342.53L414.40 343.49L413.07 344.47L411.74 345.49L410.40 346.53L409.07 347.60L407.74 348.69L406.40 349.81L405.07 350.96L403.74 352.14L402.41 353.34L401.07 354.57L399.74 355.82L398.41 357.10L397.08 358.40L395.74 359.73L394.41 361.08L393.08 362.45L391.74 363.85L390.41 365.27L389.08 366.72L387.75 368.18L386.41 369.67L385.08 371.19L383.75 372.72L382.41 374.27L381.08 375.85L379.75 377.45L378.42 379.06L377.08 380.70Z" fill="#cdcdcd"/>
<path d="M379.85 374.70L381.14 373.16L382.42 371.64L383.71 370.14L385.00 368.66L386.28 367.20L387.57 365.76L388.86 364.34L390.14 362.94L391.43 361.56L392.72 360.20L394.00 358.87L395.29 357.56L396.58 356.27L397.86 355.00L399.15 353.76L400.44 352.54L401.72 351.34L403.01 350.17L404.30 349.02L405.58 347.90L406.87 346.80L408.16 345.72L409.44 344.67L410.73 343.65L412.02 342.65L413.30 341.68L414.59 340.73L415.88 339.81L417.16 338.91L418.45 338.04L419.74 337.20L421.02 336.38L422.31 335.60L423.60 334.83L424.88 334.10L426.17 333.40L427.46 332.72L428.74 332.07L430.03 331.44L431.32 330.85L432.60 330.28L433.89 329.74L435.18 329.23L436.46 328.75L437.75 328.30L439.04 327.88L440.32 327.48L441.61 327.11L442.90 326.78L444.18 326.47L445.47 326.19L446.76 325.94L448.04 325.72L449.33 325.53L450.62 325.37L451.90 325.24L453.19 325.13L454.48 325.06L455.76 325.01L457.05 325.00L458.34 325.01L459.62 325.06L460.91 325.13L462.20 325.24L463.48 325.37L464.77 325.53L466.06 325.72L467.34 325.94L468.63 326.19L469.92 326.47L471.20 326.78L472.49 327.11L473.78 327.48L475.06 327.88L476.35 328.30L477.64 328.75L478.92 329.23L480.21 329.74L481.50 330.28L482.78 330.85L484.07 331.44L485.36 332.07L486.64 332.72L487.93 333.40L489.22 334.10L490.50 334.83L491.79 335.60L493.08 336.38L494.36 337.20L495.65 338.04L496.94 338.91L498.22 339.81L499.51 340.73L500.80 341.68L502.08 342.65L503.37 343.65L504.66 344.67L505.94 345.72L507.23 346.80L508.52 347.90L509.80 349.02L511.09 350.17L512.38 351.34L513.66 352.54L514.95 353.76L516.24 355.00L517.52 356.27L518.81 357.56L520.10 358.87L521.38 360.20L522.67 361.56L523.96 362.94L525.24 364.34L526.53 365.76L527.82 367.20L529.10 368.66L530.39 370.14L531.68 371.64L532.96 373.16L534.25 374.70" fill="none" stroke="#e08a5c" stroke-width="0.9"/>
</g>
<path d="M313.3 314.9L313.3 371.3L530.7 371.3" fill="none" stroke="#5a5a5a" stroke-width="0.8"/>
<path d="M318.7 371.3l0 -2M374.0 371.3l0 -2M429.4 371.3l0 -2M484.7 371.3l0 -2M313.3 323.6l2 0M313.3 351.6l2 0" fill="none" stroke="#5a5a5a" stroke-width="0.8"/>
<rect x="319.1" y="317.1" width="67.4" height="27.4" fill="#fff" stroke="#555" stroke-width="0.7"/>
<rect x="321.2" y="320.0" width="15.2" height="9.4" fill="#cdcdcd"/>
<path d="M321.2 337.3l15.2 0" stroke="#e08a5c" stroke-width="0.9"/>
<path d="M453.4 303.1L453.4 313.1 M453.4 347.7L453.4 337.7" stroke="#000" stroke-width="1.4"/>
<path d="M453.4 319.1l-2.9 -8.2l5.8 0Z M453.4 331.7l-2.9 8.2l5.8 0Z" fill="#000"/>
<path d="M442.4 226.8L381.0 370.5" stroke="#f51d1d" stroke-width="1.35" stroke-dasharray="7 3.6"/>
<path d="M458.5 226.8L535.7 366.1" stroke="#f51d1d" stroke-width="1.35" stroke-dasharray="7 3.6"/>
<g fill="#262626"><text x="51.5" y="245.3" font-size="10.1" text-anchor="end" font-family='"Liberation Sans", Arial, sans-serif'>2</text>
<text x="51.6" y="260.8" font-size="10.1" text-anchor="end" font-family='"Liberation Sans", Arial, sans-serif'>0</text>
<text x="51.6" y="276.5" font-size="10.1" text-anchor="end" font-family='"Liberation Sans", Arial, sans-serif'>-2</text>
<text x="31.4" y="294.7" font-size="10.1" text-anchor="end" font-family='"Liberation Sans", Arial, sans-serif'>2</text>
<text x="31.4" y="307.8" font-size="10.1" text-anchor="end" font-family='"Liberation Sans", Arial, sans-serif'>-2</text>
<text x="31.4" y="319.9" font-size="10.5" text-anchor="end" font-family='"Liberation Sans", Arial, sans-serif'>0</text>
<text x="79.8" y="352.7" font-size="10.5" text-anchor="middle" font-family='"Liberation Sans", Arial, sans-serif'>20</text>
<text x="134.8" y="383.7" font-size="10.5" text-anchor="middle" font-family='"Liberation Sans", Arial, sans-serif'>40</text>
<text x="157.8" y="384.2" font-size="10.5" text-anchor="middle" font-family='"Liberation Sans", Arial, sans-serif'>40</text>
<text x="212.9" y="352.8" font-size="10.5" text-anchor="middle" font-family='"Liberation Sans", Arial, sans-serif'>20</text>
<text x="264.0" y="321.5" font-size="10.5" text-anchor="middle" font-family='"Liberation Sans", Arial, sans-serif'>0</text>
<text x="54.7" y="382.4" font-size="11.7" text-anchor="start" font-family='"Liberation Sans", Arial, sans-serif'>y (mm)</text>
<text x="201.8" y="381.6" font-size="11.7" text-anchor="start" font-family='"Liberation Sans", Arial, sans-serif'>x (mm)</text>
<text x="15.9" y="300.2" font-size="11.9" text-anchor="middle" font-family='"Liberation Sans", Arial, sans-serif' transform="rotate(-90 15.9 300.2)">z (mm)</text>
<text x="8.7" y="398.0" font-size="14.2" text-anchor="start" font-family='"Liberation Serif", "Times New Roman", serif' fill="#000" stroke="#000" stroke-width="0.12">(b)</text>
<text x="309.2" y="218.1" font-size="10.5" text-anchor="end" font-family='"Liberation Sans", Arial, sans-serif'>2</text>
<text x="309.2" y="245.9" font-size="10.5" text-anchor="end" font-family='"Liberation Sans", Arial, sans-serif'>1</text>
<text x="309.3" y="274.6" font-size="10.5" text-anchor="end" font-family='"Liberation Sans", Arial, sans-serif'>0</text>
<text x="313.1" y="285.6" font-size="10.5" text-anchor="middle" font-family='"Liberation Sans", Arial, sans-serif'>0</text>
<text x="368.2" y="285.6" font-size="10.5" text-anchor="middle" font-family='"Liberation Sans", Arial, sans-serif'>10</text>
<text x="422.9" y="285.6" font-size="10.5" text-anchor="middle" font-family='"Liberation Sans", Arial, sans-serif'>20</text>
<text x="477.7" y="285.6" font-size="10.5" text-anchor="middle" font-family='"Liberation Sans", Arial, sans-serif'>30</text>
<text x="532.5" y="285.6" font-size="10.5" text-anchor="middle" font-family='"Liberation Sans", Arial, sans-serif'>40</text>
<text x="298.7" y="242.5" font-size="11.9" text-anchor="middle" font-family='"Liberation Sans", Arial, sans-serif' transform="rotate(-90 298.7 242.5)">z (mm)</text>
<text x="404.4" y="301.4" font-size="11.7" text-anchor="start" font-family='"Liberation Sans", Arial, sans-serif'>x (mm)</text>
<text x="310.0" y="327.9" font-size="10.5" text-anchor="end" font-family='"Liberation Sans", Arial, sans-serif'>2</text>
<text x="310.0" y="355.7" font-size="10.5" text-anchor="end" font-family='"Liberation Sans", Arial, sans-serif'>1.8</text>
<text x="318.6" y="386.0" font-size="10.5" text-anchor="middle" font-family='"Liberation Sans", Arial, sans-serif'>20</text>
<text x="374.1" y="386.0" font-size="10.5" text-anchor="middle" font-family='"Liberation Sans", Arial, sans-serif'>22</text>
<text x="429.2" y="386.0" font-size="10.5" text-anchor="middle" font-family='"Liberation Sans", Arial, sans-serif'>24</text>
<text x="484.7" y="386.0" font-size="10.5" text-anchor="middle" font-family='"Liberation Sans", Arial, sans-serif'>26</text>
<text x="289.1" y="341.8" font-size="11.9" text-anchor="middle" font-family='"Liberation Sans", Arial, sans-serif' transform="rotate(-90 289.1 341.8)">z (mm)</text>
<text x="404.4" y="401.7" font-size="11.7" text-anchor="start" font-family='"Liberation Sans", Arial, sans-serif'>x (mm)</text>
<text x="337.9" y="328.9" font-size="9.7" text-anchor="start" font-family='"Liberation Sans", Arial, sans-serif'>uncertainty</text>
<text x="337.9" y="341.2" font-size="9.7" text-anchor="start" font-family='"Liberation Sans", Arial, sans-serif'>mean</text>
<text x="432.6" y="362.8" font-size="12.2" text-anchor="start" font-family='"Liberation Serif", "Times New Roman", serif' fill="#000" stroke="#000" stroke-width="0.12">&#177;0.02 mm</text></g>
</g>
</svg>
</body></html>
